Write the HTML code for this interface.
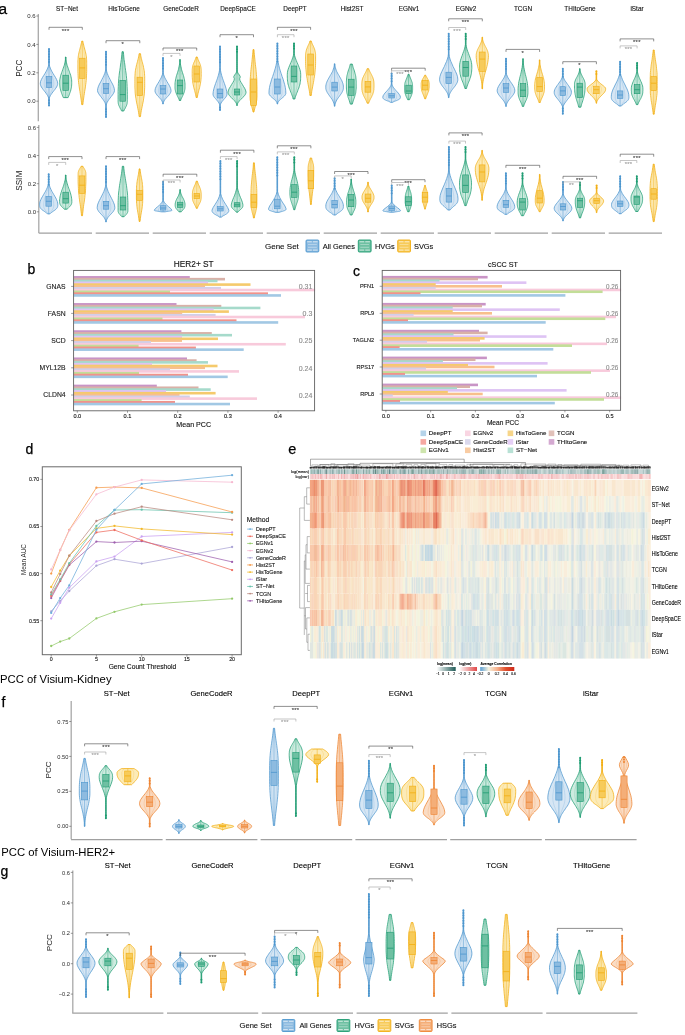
<!DOCTYPE html><html><head><meta charset="utf-8"><style>html,body{margin:0;padding:0;background:#fff;overflow:hidden}svg{display:block;will-change:transform}</style></head><body><svg width="685" height="1035" viewBox="0 0 685 1035" font-family='"Liberation Sans", sans-serif'>
<rect x="0.00" y="0.00" width="685.00" height="1035.00" fill="#fff" />
<text x="-1.50" y="14.20" font-size="15.5" text-anchor="start" fill="#000" stroke="#000" stroke-width="0.25" >a</text>
<text x="67.00" y="11.20" font-size="6.4" text-anchor="middle" fill="#111" stroke="#111" stroke-width="0.12" >ST−Net</text>
<text x="124.00" y="11.20" font-size="6.4" text-anchor="middle" fill="#111" stroke="#111" stroke-width="0.12" >HisToGene</text>
<text x="181.00" y="11.20" font-size="6.4" text-anchor="middle" fill="#111" stroke="#111" stroke-width="0.12" >GeneCodeR</text>
<text x="238.00" y="11.20" font-size="6.4" text-anchor="middle" fill="#111" stroke="#111" stroke-width="0.12" >DeepSpaCE</text>
<text x="295.00" y="11.20" font-size="6.4" text-anchor="middle" fill="#111" stroke="#111" stroke-width="0.12" >DeepPT</text>
<text x="352.00" y="11.20" font-size="6.4" text-anchor="middle" fill="#111" stroke="#111" stroke-width="0.12" >Hist2ST</text>
<text x="409.00" y="11.20" font-size="6.4" text-anchor="middle" fill="#111" stroke="#111" stroke-width="0.12" >EGNv1</text>
<text x="466.00" y="11.20" font-size="6.4" text-anchor="middle" fill="#111" stroke="#111" stroke-width="0.12" >EGNv2</text>
<text x="523.00" y="11.20" font-size="6.4" text-anchor="middle" fill="#111" stroke="#111" stroke-width="0.12" >TCGN</text>
<text x="580.00" y="11.20" font-size="6.4" text-anchor="middle" fill="#111" stroke="#111" stroke-width="0.12" >THItoGene</text>
<text x="637.00" y="11.20" font-size="6.4" text-anchor="middle" fill="#111" stroke="#111" stroke-width="0.12" >iStar</text>
<line x1="38.30" y1="14.00" x2="38.30" y2="121.30" stroke="#a8a8a8" stroke-width="1.3" />
<line x1="36.30" y1="16.00" x2="38.30" y2="16.00" stroke="#555" stroke-width="0.6" />
<text x="35.50" y="18.10" font-size="6.0" text-anchor="end" fill="#2a2a2a" >0.6</text>
<line x1="36.30" y1="44.40" x2="38.30" y2="44.40" stroke="#555" stroke-width="0.6" />
<text x="35.50" y="46.50" font-size="6.0" text-anchor="end" fill="#2a2a2a" >0.4</text>
<line x1="36.30" y1="72.80" x2="38.30" y2="72.80" stroke="#555" stroke-width="0.6" />
<text x="35.50" y="74.90" font-size="6.0" text-anchor="end" fill="#2a2a2a" >0.2</text>
<line x1="36.30" y1="101.20" x2="38.30" y2="101.20" stroke="#555" stroke-width="0.6" />
<text x="35.50" y="103.30" font-size="6.0" text-anchor="end" fill="#2a2a2a" >0.0</text>
<line x1="38.80" y1="125.00" x2="38.80" y2="232.90" stroke="#a8a8a8" stroke-width="1.3" />
<line x1="36.80" y1="127.40" x2="38.80" y2="127.40" stroke="#555" stroke-width="0.6" />
<text x="36.00" y="129.50" font-size="6.0" text-anchor="end" fill="#2a2a2a" >0.6</text>
<line x1="36.80" y1="155.50" x2="38.80" y2="155.50" stroke="#555" stroke-width="0.6" />
<text x="36.00" y="157.60" font-size="6.0" text-anchor="end" fill="#2a2a2a" >0.4</text>
<line x1="36.80" y1="183.70" x2="38.80" y2="183.70" stroke="#555" stroke-width="0.6" />
<text x="36.00" y="185.80" font-size="6.0" text-anchor="end" fill="#2a2a2a" >0.2</text>
<line x1="36.80" y1="211.80" x2="38.80" y2="211.80" stroke="#555" stroke-width="0.6" />
<text x="36.00" y="213.90" font-size="6.0" text-anchor="end" fill="#2a2a2a" >0.0</text>
<text x="0" y="0" font-size="8.2" fill="#222" text-anchor="middle" transform="translate(22.2,68.2) rotate(-90)">PCC</text>
<text x="0" y="0" font-size="8.2" fill="#222" text-anchor="middle" transform="translate(22.2,180.8) rotate(-90)">SSIM</text>
<line x1="38.70" y1="233.00" x2="92.00" y2="233.00" stroke="#a0a0a0" stroke-width="1.25" />
<line x1="95.70" y1="233.00" x2="149.00" y2="233.00" stroke="#a0a0a0" stroke-width="1.25" />
<line x1="152.70" y1="233.00" x2="206.00" y2="233.00" stroke="#a0a0a0" stroke-width="1.25" />
<line x1="209.70" y1="233.00" x2="263.00" y2="233.00" stroke="#a0a0a0" stroke-width="1.25" />
<line x1="266.70" y1="233.00" x2="320.00" y2="233.00" stroke="#a0a0a0" stroke-width="1.25" />
<line x1="323.70" y1="233.00" x2="377.00" y2="233.00" stroke="#a0a0a0" stroke-width="1.25" />
<line x1="380.70" y1="233.00" x2="434.00" y2="233.00" stroke="#a0a0a0" stroke-width="1.25" />
<line x1="437.70" y1="233.00" x2="491.00" y2="233.00" stroke="#a0a0a0" stroke-width="1.25" />
<line x1="494.70" y1="233.00" x2="548.00" y2="233.00" stroke="#a0a0a0" stroke-width="1.25" />
<line x1="551.70" y1="233.00" x2="605.00" y2="233.00" stroke="#a0a0a0" stroke-width="1.25" />
<line x1="608.70" y1="233.00" x2="662.00" y2="233.00" stroke="#a0a0a0" stroke-width="1.25" />
<defs><path id="v1" d="M0.3 49.0 0.3 50.9 0.3 52.8 0.3 54.7 0.3 56.6 0.3 58.5 0.3 60.4 0.3 62.3 0.3 64.2 0.6 66.2 1.3 68.1 2.1 70.0 3.1 71.9 4.2 73.8 5.4 75.7 6.6 77.6 7.6 79.5 8.4 81.4 8.7 83.3 8.6 84.5 8.2 85.8 7.6 87.0 6.8 88.2 5.9 89.5 4.9 90.7 3.9 91.9 3.0 93.2 2.2 94.4 1.4 95.6 0.8 96.9 0.3 98.1 0.3 99.3 0.3 100.6 0.3 101.8 0.3 103.0 0.3 104.3 0.3 105.5 -0.3 105.5 -0.3 104.3 -0.3 103.0 -0.3 101.8 -0.3 100.6 -0.3 99.3 -0.3 98.1 -0.8 96.9 -1.4 95.6 -2.2 94.4 -3.0 93.2 -3.9 91.9 -4.9 90.7 -5.9 89.5 -6.8 88.2 -7.6 87.0 -8.2 85.8 -8.6 84.5 -8.7 83.3 -8.4 81.4 -7.6 79.5 -6.6 77.6 -5.4 75.7 -4.2 73.8 -3.1 71.9 -2.1 70.0 -1.3 68.1 -0.6 66.2 -0.3 64.2 -0.3 62.3 -0.3 60.4 -0.3 58.5 -0.3 56.6 -0.3 54.7 -0.3 52.8 -0.3 50.9 -0.3 49.0Z"/></defs>
<use href="#v1" transform="translate(49.0 0)" fill="#D6E6F4" stroke="#4C96CE" stroke-width="0.75"/>
<use href="#v1" transform="translate(49.0 0) scale(0.55 1)" fill="none" stroke="#4C96CE" stroke-width="0.35" vector-effect="non-scaling-stroke" opacity="0.7"/>
<line x1="49.00" y1="49.00" x2="49.00" y2="105.50" stroke="#4C96CE" stroke-width="0.5" />
<rect x="46.20" y="76.40" width="5.60" height="11.20" fill="#8DBBE0" stroke="#4C96CE" stroke-width="0.6"/>
<line x1="46.20" y1="82.80" x2="51.80" y2="82.80" stroke="#4C96CE" stroke-width="0.8" />
<circle cx="49.0" cy="49.0" r="1.0" fill="#4C96CE"/>
<circle cx="49.0" cy="51.6" r="1.0" fill="#4C96CE"/>
<circle cx="49.0" cy="54.2" r="1.0" fill="#4C96CE"/>
<circle cx="49.0" cy="56.8" r="1.0" fill="#4C96CE"/>
<circle cx="49.0" cy="59.4" r="1.0" fill="#4C96CE"/>
<circle cx="49.0" cy="62.0" r="1.0" fill="#4C96CE"/>
<circle cx="49.0" cy="105.5" r="1.0" fill="#4C96CE"/>
<circle cx="49.0" cy="102.9" r="1.0" fill="#4C96CE"/>
<circle cx="49.0" cy="100.3" r="1.0" fill="#4C96CE"/>
<defs><path id="v2" d="M0.3 57.0 0.3 58.4 0.3 59.8 0.5 61.2 0.8 62.7 1.1 64.1 1.5 65.5 2.0 66.9 2.5 68.3 3.0 69.8 3.5 71.2 4.0 72.6 4.5 74.0 5.0 75.4 5.3 76.8 5.6 78.2 5.9 79.7 6.0 81.1 6.0 82.5 6.0 83.3 6.0 84.2 5.9 85.0 5.9 85.9 5.8 86.7 5.7 87.5 5.5 88.4 5.3 89.2 5.1 90.0 4.9 90.9 4.6 91.7 4.3 92.6 4.0 93.4 3.7 94.2 3.4 95.1 3.1 95.9 2.7 96.8 2.4 97.6 -2.4 97.6 -2.7 96.8 -3.1 95.9 -3.4 95.1 -3.7 94.2 -4.0 93.4 -4.3 92.6 -4.6 91.7 -4.9 90.9 -5.1 90.0 -5.3 89.2 -5.5 88.4 -5.7 87.5 -5.8 86.7 -5.9 85.9 -5.9 85.0 -6.0 84.2 -6.0 83.3 -6.0 82.5 -6.0 81.1 -5.9 79.7 -5.6 78.2 -5.3 76.8 -5.0 75.4 -4.5 74.0 -4.0 72.6 -3.5 71.2 -3.0 69.8 -2.5 68.3 -2.0 66.9 -1.5 65.5 -1.1 64.1 -0.8 62.7 -0.5 61.2 -0.3 59.8 -0.3 58.4 -0.3 57.0Z"/></defs>
<use href="#v2" transform="translate(65.7 0)" fill="#CDEBDF" stroke="#1E9C72" stroke-width="0.75"/>
<use href="#v2" transform="translate(65.7 0) scale(0.55 1)" fill="none" stroke="#1E9C72" stroke-width="0.35" vector-effect="non-scaling-stroke" opacity="0.7"/>
<line x1="65.70" y1="57.00" x2="65.70" y2="97.60" stroke="#1E9C72" stroke-width="0.5" />
<rect x="62.90" y="75.20" width="5.60" height="15.10" fill="#6EC0A2" stroke="#1E9C72" stroke-width="0.6"/>
<line x1="62.90" y1="83.20" x2="68.50" y2="83.20" stroke="#1E9C72" stroke-width="0.8" />
<defs><path id="v3" d="M0.6 41.2 0.8 42.5 1.1 43.8 1.4 45.1 1.7 46.4 2.1 47.8 2.4 49.1 2.8 50.4 3.1 51.7 3.4 53.0 3.7 54.3 3.9 55.6 4.1 56.9 4.2 58.2 4.3 59.6 4.4 60.9 4.4 62.2 4.4 63.5 4.4 64.8 4.4 67.0 4.4 69.2 4.4 71.4 4.3 73.6 4.2 75.9 4.1 78.1 3.9 80.3 3.7 82.5 3.4 84.7 3.1 86.9 2.8 89.1 2.4 91.3 2.1 93.5 1.7 95.8 1.4 98.0 1.1 100.2 0.8 102.4 0.6 104.6 -0.6 104.6 -0.8 102.4 -1.1 100.2 -1.4 98.0 -1.7 95.8 -2.1 93.5 -2.4 91.3 -2.8 89.1 -3.1 86.9 -3.4 84.7 -3.7 82.5 -3.9 80.3 -4.1 78.1 -4.2 75.9 -4.3 73.6 -4.4 71.4 -4.4 69.2 -4.4 67.0 -4.4 64.8 -4.4 63.5 -4.4 62.2 -4.4 60.9 -4.3 59.6 -4.2 58.2 -4.1 56.9 -3.9 55.6 -3.7 54.3 -3.4 53.0 -3.1 51.7 -2.8 50.4 -2.4 49.1 -2.1 47.8 -1.7 46.4 -1.4 45.1 -1.1 43.8 -0.8 42.5 -0.6 41.2Z"/></defs>
<use href="#v3" transform="translate(82.3 0)" fill="#FCEBB8" stroke="#F2AE12" stroke-width="0.75"/>
<use href="#v3" transform="translate(82.3 0) scale(0.55 1)" fill="none" stroke="#F2AE12" stroke-width="0.35" vector-effect="non-scaling-stroke" opacity="0.7"/>
<line x1="82.30" y1="41.20" x2="82.30" y2="104.60" stroke="#F2AE12" stroke-width="0.5" />
<rect x="79.50" y="58.20" width="5.60" height="20.10" fill="#F7CB5A" stroke="#F2AE12" stroke-width="0.6"/>
<line x1="79.50" y1="67.90" x2="85.10" y2="67.90" stroke="#F2AE12" stroke-width="0.8" />
<defs><path id="v4" d="M0.3 51.7 0.3 53.9 0.3 56.0 0.3 58.2 0.3 60.3 0.3 62.5 0.3 64.6 0.3 66.8 0.3 68.9 0.6 71.1 1.2 73.3 2.1 75.4 3.1 77.6 4.2 79.7 5.3 81.9 6.5 84.0 7.5 86.2 8.2 88.3 8.5 90.5 8.2 92.0 7.5 93.4 6.5 94.9 5.3 96.4 4.2 97.9 3.1 99.3 2.1 100.8 1.2 102.3 0.6 103.8 0.3 105.2 0.3 106.7 0.3 108.2 0.3 109.6 0.3 111.1 0.3 112.6 0.3 114.1 0.3 115.5 0.3 117.0 -0.3 117.0 -0.3 115.5 -0.3 114.1 -0.3 112.6 -0.3 111.1 -0.3 109.6 -0.3 108.2 -0.3 106.7 -0.3 105.2 -0.6 103.8 -1.2 102.3 -2.1 100.8 -3.1 99.3 -4.2 97.9 -5.3 96.4 -6.5 94.9 -7.5 93.4 -8.2 92.0 -8.5 90.5 -8.2 88.3 -7.5 86.2 -6.5 84.0 -5.3 81.9 -4.2 79.7 -3.1 77.6 -2.1 75.4 -1.2 73.3 -0.6 71.1 -0.3 68.9 -0.3 66.8 -0.3 64.6 -0.3 62.5 -0.3 60.3 -0.3 58.2 -0.3 56.0 -0.3 53.9 -0.3 51.7Z"/></defs>
<use href="#v4" transform="translate(106.0 0)" fill="#D6E6F4" stroke="#4C96CE" stroke-width="0.75"/>
<use href="#v4" transform="translate(106.0 0) scale(0.55 1)" fill="none" stroke="#4C96CE" stroke-width="0.35" vector-effect="non-scaling-stroke" opacity="0.7"/>
<line x1="106.00" y1="51.70" x2="106.00" y2="117.00" stroke="#4C96CE" stroke-width="0.5" />
<rect x="103.20" y="83.40" width="5.60" height="10.00" fill="#8DBBE0" stroke="#4C96CE" stroke-width="0.6"/>
<line x1="103.20" y1="88.70" x2="108.80" y2="88.70" stroke="#4C96CE" stroke-width="0.8" />
<circle cx="106.0" cy="51.7" r="1.0" fill="#4C96CE"/>
<circle cx="106.0" cy="54.3" r="1.0" fill="#4C96CE"/>
<circle cx="106.0" cy="56.9" r="1.0" fill="#4C96CE"/>
<circle cx="106.0" cy="59.5" r="1.0" fill="#4C96CE"/>
<circle cx="106.0" cy="62.1" r="1.0" fill="#4C96CE"/>
<circle cx="106.0" cy="64.7" r="1.0" fill="#4C96CE"/>
<circle cx="106.0" cy="117.0" r="1.0" fill="#4C96CE"/>
<circle cx="106.0" cy="114.4" r="1.0" fill="#4C96CE"/>
<circle cx="106.0" cy="111.8" r="1.0" fill="#4C96CE"/>
<circle cx="106.0" cy="109.2" r="1.0" fill="#4C96CE"/>
<defs><path id="v5" d="M0.6 51.7 0.9 54.4 1.1 57.0 1.4 59.7 1.8 62.4 2.2 65.0 2.5 67.7 2.9 70.4 3.3 73.0 3.6 75.7 3.9 78.4 4.1 81.0 4.3 83.7 4.4 86.4 4.5 89.0 4.6 91.7 4.6 94.4 4.6 97.0 4.6 99.7 4.6 100.3 4.6 101.0 4.6 101.6 4.5 102.2 4.5 102.8 4.4 103.5 4.2 104.1 4.1 104.7 3.9 105.3 3.6 106.0 3.3 106.6 3.0 107.2 2.7 107.9 2.4 108.5 2.0 109.1 1.7 109.7 1.4 110.4 1.1 111.0 -1.1 111.0 -1.4 110.4 -1.7 109.7 -2.0 109.1 -2.4 108.5 -2.7 107.9 -3.0 107.2 -3.3 106.6 -3.6 106.0 -3.9 105.3 -4.1 104.7 -4.2 104.1 -4.4 103.5 -4.5 102.8 -4.5 102.2 -4.6 101.6 -4.6 101.0 -4.6 100.3 -4.6 99.7 -4.6 97.0 -4.6 94.4 -4.6 91.7 -4.5 89.0 -4.4 86.4 -4.3 83.7 -4.1 81.0 -3.9 78.4 -3.6 75.7 -3.3 73.0 -2.9 70.4 -2.5 67.7 -2.2 65.0 -1.8 62.4 -1.4 59.7 -1.1 57.0 -0.9 54.4 -0.6 51.7Z"/></defs>
<use href="#v5" transform="translate(122.7 0)" fill="#CDEBDF" stroke="#1E9C72" stroke-width="0.75"/>
<use href="#v5" transform="translate(122.7 0) scale(0.55 1)" fill="none" stroke="#1E9C72" stroke-width="0.35" vector-effect="non-scaling-stroke" opacity="0.7"/>
<line x1="122.70" y1="51.70" x2="122.70" y2="111.00" stroke="#1E9C72" stroke-width="0.5" />
<rect x="119.90" y="80.30" width="5.60" height="20.90" fill="#6EC0A2" stroke="#1E9C72" stroke-width="0.6"/>
<line x1="119.90" y1="94.60" x2="125.50" y2="94.60" stroke="#1E9C72" stroke-width="0.8" />
<defs><path id="v6" d="M0.7 53.7 0.9 55.2 1.2 56.8 1.5 58.3 1.9 59.8 2.3 61.4 2.7 62.9 3.1 64.4 3.5 66.0 3.8 67.5 4.1 69.0 4.4 70.6 4.6 72.1 4.7 73.6 4.8 75.2 4.9 76.7 4.9 78.2 4.9 79.8 4.9 81.3 4.9 83.3 4.9 85.2 4.9 87.2 4.8 89.1 4.7 91.1 4.6 93.1 4.4 95.0 4.1 97.0 3.8 98.9 3.5 100.9 3.1 102.9 2.7 104.8 2.3 106.8 1.9 108.8 1.5 110.7 1.2 112.7 0.9 114.6 0.7 116.6 -0.7 116.6 -0.9 114.6 -1.2 112.7 -1.5 110.7 -1.9 108.8 -2.3 106.8 -2.7 104.8 -3.1 102.9 -3.5 100.9 -3.8 98.9 -4.1 97.0 -4.4 95.0 -4.6 93.1 -4.7 91.1 -4.8 89.1 -4.9 87.2 -4.9 85.2 -4.9 83.3 -4.9 81.3 -4.9 79.8 -4.9 78.2 -4.9 76.7 -4.8 75.2 -4.7 73.6 -4.6 72.1 -4.4 70.6 -4.1 69.0 -3.8 67.5 -3.5 66.0 -3.1 64.4 -2.7 62.9 -2.3 61.4 -1.9 59.8 -1.5 58.3 -1.2 56.8 -0.9 55.2 -0.7 53.7Z"/></defs>
<use href="#v6" transform="translate(139.8 0)" fill="#FCEBB8" stroke="#F2AE12" stroke-width="0.75"/>
<use href="#v6" transform="translate(139.8 0) scale(0.55 1)" fill="none" stroke="#F2AE12" stroke-width="0.35" vector-effect="non-scaling-stroke" opacity="0.7"/>
<line x1="139.80" y1="53.70" x2="139.80" y2="116.60" stroke="#F2AE12" stroke-width="0.5" />
<rect x="137.00" y="77.20" width="5.60" height="18.40" fill="#F7CB5A" stroke="#F2AE12" stroke-width="0.6"/>
<line x1="137.00" y1="82.30" x2="142.60" y2="82.30" stroke="#F2AE12" stroke-width="0.8" />
<defs><path id="v7" d="M0.3 58.0 0.3 59.8 0.3 61.6 0.3 63.4 0.3 65.2 0.3 67.0 0.3 68.8 0.3 70.6 0.3 72.4 0.5 74.2 1.2 76.1 1.9 77.9 2.9 79.7 3.9 81.5 5.0 83.3 6.1 85.1 7.0 86.9 7.7 88.7 8.0 90.5 8.0 91.2 7.8 92.0 7.5 92.8 7.1 93.5 6.6 94.2 6.0 95.0 5.4 95.8 4.7 96.5 4.0 97.2 3.3 98.0 2.6 98.8 2.0 99.5 1.5 100.2 1.1 101.0 0.7 101.8 0.4 102.5 0.3 103.2 0.3 104.0 -0.3 104.0 -0.3 103.2 -0.4 102.5 -0.7 101.8 -1.1 101.0 -1.5 100.2 -2.0 99.5 -2.6 98.8 -3.3 98.0 -4.0 97.2 -4.7 96.5 -5.4 95.8 -6.0 95.0 -6.6 94.2 -7.1 93.5 -7.5 92.8 -7.8 92.0 -8.0 91.2 -8.0 90.5 -7.7 88.7 -7.0 86.9 -6.1 85.1 -5.0 83.3 -3.9 81.5 -2.9 79.7 -1.9 77.9 -1.2 76.1 -0.5 74.2 -0.3 72.4 -0.3 70.6 -0.3 68.8 -0.3 67.0 -0.3 65.2 -0.3 63.4 -0.3 61.6 -0.3 59.8 -0.3 58.0Z"/></defs>
<use href="#v7" transform="translate(163.0 0)" fill="#D6E6F4" stroke="#4C96CE" stroke-width="0.75"/>
<use href="#v7" transform="translate(163.0 0) scale(0.55 1)" fill="none" stroke="#4C96CE" stroke-width="0.35" vector-effect="non-scaling-stroke" opacity="0.7"/>
<line x1="163.00" y1="58.00" x2="163.00" y2="104.00" stroke="#4C96CE" stroke-width="0.5" />
<rect x="160.20" y="85.60" width="5.60" height="8.40" fill="#8DBBE0" stroke="#4C96CE" stroke-width="0.6"/>
<line x1="160.20" y1="89.00" x2="165.80" y2="89.00" stroke="#4C96CE" stroke-width="0.8" />
<circle cx="163.0" cy="58.0" r="1.0" fill="#4C96CE"/>
<circle cx="163.0" cy="60.6" r="1.0" fill="#4C96CE"/>
<circle cx="163.0" cy="63.2" r="1.0" fill="#4C96CE"/>
<circle cx="163.0" cy="65.8" r="1.0" fill="#4C96CE"/>
<circle cx="163.0" cy="68.4" r="1.0" fill="#4C96CE"/>
<defs><path id="v8" d="M0.3 59.5 0.3 61.0 0.3 62.4 0.4 63.9 0.7 65.3 1.0 66.8 1.3 68.2 1.6 69.7 2.0 71.1 2.5 72.5 2.9 74.0 3.4 75.4 3.8 76.9 4.1 78.3 4.5 79.8 4.7 81.2 4.9 82.7 5.0 84.1 5.0 85.6 5.0 86.4 5.0 87.3 5.0 88.1 4.9 88.9 4.8 89.7 4.6 90.6 4.4 91.4 4.2 92.2 3.9 93.0 3.5 93.9 3.2 94.7 2.8 95.5 2.4 96.4 2.0 97.2 1.6 98.0 1.2 98.8 0.9 99.7 0.7 100.5 -0.7 100.5 -0.9 99.7 -1.2 98.8 -1.6 98.0 -2.0 97.2 -2.4 96.4 -2.8 95.5 -3.2 94.7 -3.5 93.9 -3.9 93.0 -4.2 92.2 -4.4 91.4 -4.6 90.6 -4.8 89.7 -4.9 88.9 -5.0 88.1 -5.0 87.3 -5.0 86.4 -5.0 85.6 -5.0 84.1 -4.9 82.7 -4.7 81.2 -4.5 79.8 -4.1 78.3 -3.8 76.9 -3.4 75.4 -2.9 74.0 -2.5 72.5 -2.0 71.1 -1.6 69.7 -1.3 68.2 -1.0 66.8 -0.7 65.3 -0.4 63.9 -0.3 62.4 -0.3 61.0 -0.3 59.5Z"/></defs>
<use href="#v8" transform="translate(180.0 0)" fill="#CDEBDF" stroke="#1E9C72" stroke-width="0.75"/>
<use href="#v8" transform="translate(180.0 0) scale(0.55 1)" fill="none" stroke="#1E9C72" stroke-width="0.35" vector-effect="non-scaling-stroke" opacity="0.7"/>
<line x1="180.00" y1="59.50" x2="180.00" y2="100.50" stroke="#1E9C72" stroke-width="0.5" />
<rect x="177.20" y="80.00" width="5.60" height="14.00" fill="#6EC0A2" stroke="#1E9C72" stroke-width="0.6"/>
<line x1="177.20" y1="85.60" x2="182.80" y2="85.60" stroke="#1E9C72" stroke-width="0.8" />
<defs><path id="v9" d="M0.6 57.0 0.8 57.8 1.1 58.7 1.4 59.5 1.8 60.3 2.1 61.2 2.5 62.0 2.9 62.8 3.2 63.7 3.5 64.5 3.8 65.3 4.0 66.2 4.2 67.0 4.3 67.8 4.4 68.7 4.5 69.5 4.5 70.3 4.5 71.2 4.5 72.0 4.5 73.4 4.5 74.8 4.5 76.2 4.4 77.7 4.3 79.1 4.2 80.5 4.0 81.9 3.8 83.3 3.5 84.8 3.2 86.2 2.9 87.6 2.5 89.0 2.1 90.4 1.8 91.8 1.4 93.2 1.1 94.7 0.8 96.1 0.6 97.5 -0.6 97.5 -0.8 96.1 -1.1 94.7 -1.4 93.2 -1.8 91.8 -2.1 90.4 -2.5 89.0 -2.9 87.6 -3.2 86.2 -3.5 84.8 -3.8 83.3 -4.0 81.9 -4.2 80.5 -4.3 79.1 -4.4 77.7 -4.5 76.2 -4.5 74.8 -4.5 73.4 -4.5 72.0 -4.5 71.2 -4.5 70.3 -4.5 69.5 -4.4 68.7 -4.3 67.8 -4.2 67.0 -4.0 66.2 -3.8 65.3 -3.5 64.5 -3.2 63.7 -2.9 62.8 -2.5 62.0 -2.1 61.2 -1.8 60.3 -1.4 59.5 -1.1 58.7 -0.8 57.8 -0.6 57.0Z"/></defs>
<use href="#v9" transform="translate(196.7 0)" fill="#FCEBB8" stroke="#F2AE12" stroke-width="0.75"/>
<use href="#v9" transform="translate(196.7 0) scale(0.55 1)" fill="none" stroke="#F2AE12" stroke-width="0.35" vector-effect="non-scaling-stroke" opacity="0.7"/>
<line x1="196.70" y1="57.00" x2="196.70" y2="97.50" stroke="#F2AE12" stroke-width="0.5" />
<rect x="193.90" y="66.00" width="5.60" height="16.00" fill="#F7CB5A" stroke="#F2AE12" stroke-width="0.6"/>
<line x1="193.90" y1="74.00" x2="199.50" y2="74.00" stroke="#F2AE12" stroke-width="0.8" />
<defs><path id="v10" d="M0.3 46.6 0.3 49.2 0.3 51.9 0.3 54.5 0.3 57.1 0.3 59.8 0.3 62.4 0.3 65.0 0.3 67.7 0.5 70.3 1.0 72.9 1.7 75.6 2.5 78.2 3.4 80.8 4.4 83.5 5.3 86.1 6.1 88.7 6.7 91.4 7.0 94.0 6.9 94.9 6.6 95.8 6.1 96.7 5.5 97.6 4.7 98.4 3.9 99.3 3.2 100.2 2.4 101.1 1.7 102.0 1.2 102.9 0.7 103.8 0.3 104.7 0.3 105.6 0.3 106.4 0.3 107.3 0.3 108.2 0.3 109.1 0.3 110.0 -0.3 110.0 -0.3 109.1 -0.3 108.2 -0.3 107.3 -0.3 106.4 -0.3 105.6 -0.3 104.7 -0.7 103.8 -1.2 102.9 -1.7 102.0 -2.4 101.1 -3.2 100.2 -3.9 99.3 -4.7 98.4 -5.5 97.6 -6.1 96.7 -6.6 95.8 -6.9 94.9 -7.0 94.0 -6.7 91.4 -6.1 88.7 -5.3 86.1 -4.4 83.5 -3.4 80.8 -2.5 78.2 -1.7 75.6 -1.0 72.9 -0.5 70.3 -0.3 67.7 -0.3 65.0 -0.3 62.4 -0.3 59.8 -0.3 57.1 -0.3 54.5 -0.3 51.9 -0.3 49.2 -0.3 46.6Z"/></defs>
<use href="#v10" transform="translate(220.0 0)" fill="#D6E6F4" stroke="#4C96CE" stroke-width="0.75"/>
<use href="#v10" transform="translate(220.0 0) scale(0.55 1)" fill="none" stroke="#4C96CE" stroke-width="0.35" vector-effect="non-scaling-stroke" opacity="0.7"/>
<line x1="220.00" y1="46.60" x2="220.00" y2="110.00" stroke="#4C96CE" stroke-width="0.5" />
<rect x="217.20" y="89.00" width="5.60" height="9.00" fill="#8DBBE0" stroke="#4C96CE" stroke-width="0.6"/>
<line x1="217.20" y1="93.50" x2="222.80" y2="93.50" stroke="#4C96CE" stroke-width="0.8" />
<circle cx="220.0" cy="46.6" r="1.0" fill="#4C96CE"/>
<circle cx="220.0" cy="49.2" r="1.0" fill="#4C96CE"/>
<circle cx="220.0" cy="51.8" r="1.0" fill="#4C96CE"/>
<circle cx="220.0" cy="54.4" r="1.0" fill="#4C96CE"/>
<circle cx="220.0" cy="57.0" r="1.0" fill="#4C96CE"/>
<circle cx="220.0" cy="59.6" r="1.0" fill="#4C96CE"/>
<circle cx="220.0" cy="62.2" r="1.0" fill="#4C96CE"/>
<circle cx="220.0" cy="110.0" r="1.0" fill="#4C96CE"/>
<circle cx="220.0" cy="107.4" r="1.0" fill="#4C96CE"/>
<defs><path id="v11" d="M0.3 46.6 0.3 48.5 0.3 50.4 0.3 52.3 0.3 54.2 0.3 56.1 0.3 58.0 0.3 59.8 0.3 61.7 0.3 63.6 0.3 65.5 0.3 67.4 0.3 69.3 0.3 71.2 0.9 73.1 2.4 75.0 3.3 76.9 2.6 78.8 3.1 80.7 4.1 82.5 5.3 84.4 6.4 86.3 7.6 88.2 8.5 90.1 9.0 92.0 9.0 92.6 8.9 93.1 8.7 93.7 8.5 94.2 8.1 94.8 7.7 95.4 7.3 95.9 6.8 96.5 6.2 97.1 5.6 97.6 5.1 98.2 4.5 98.8 3.9 99.3 3.3 99.9 2.8 100.4 2.3 101.0 1.9 101.6 1.5 102.1 1.1 102.7 0.8 103.2 0.5 103.8 0.3 104.4 0.3 104.9 0.3 105.5 -0.3 105.5 -0.3 104.9 -0.3 104.4 -0.5 103.8 -0.8 103.2 -1.1 102.7 -1.5 102.1 -1.9 101.6 -2.3 101.0 -2.8 100.4 -3.3 99.9 -3.9 99.3 -4.5 98.8 -5.1 98.2 -5.6 97.6 -6.2 97.1 -6.8 96.5 -7.3 95.9 -7.7 95.4 -8.1 94.8 -8.5 94.2 -8.7 93.7 -8.9 93.1 -9.0 92.6 -9.0 92.0 -8.5 90.1 -7.6 88.2 -6.4 86.3 -5.3 84.4 -4.1 82.5 -3.1 80.7 -2.6 78.8 -3.3 76.9 -2.4 75.0 -0.9 73.1 -0.3 71.2 -0.3 69.3 -0.3 67.4 -0.3 65.5 -0.3 63.6 -0.3 61.7 -0.3 59.8 -0.3 58.0 -0.3 56.1 -0.3 54.2 -0.3 52.3 -0.3 50.4 -0.3 48.5 -0.3 46.6Z"/></defs>
<use href="#v11" transform="translate(237.0 0)" fill="#CDEBDF" stroke="#1E9C72" stroke-width="0.75"/>
<use href="#v11" transform="translate(237.0 0) scale(0.55 1)" fill="none" stroke="#1E9C72" stroke-width="0.35" vector-effect="non-scaling-stroke" opacity="0.7"/>
<line x1="237.00" y1="46.60" x2="237.00" y2="105.50" stroke="#1E9C72" stroke-width="0.5" />
<rect x="234.20" y="89.00" width="5.60" height="6.00" fill="#6EC0A2" stroke="#1E9C72" stroke-width="0.6"/>
<line x1="234.20" y1="92.00" x2="239.80" y2="92.00" stroke="#1E9C72" stroke-width="0.8" />
<circle cx="237.0" cy="46.6" r="1.0" fill="#1E9C72"/>
<circle cx="237.0" cy="49.2" r="1.0" fill="#1E9C72"/>
<circle cx="237.0" cy="51.8" r="1.0" fill="#1E9C72"/>
<defs><path id="v12" d="M0.5 49.6 0.6 52.1 0.9 54.5 1.1 57.0 1.4 59.5 1.6 61.9 1.9 64.4 2.2 66.9 2.5 69.3 2.7 71.8 2.9 74.3 3.1 76.7 3.3 79.2 3.4 81.7 3.4 84.1 3.5 86.6 3.5 89.1 3.5 91.5 3.5 94.0 3.5 95.0 3.5 96.0 3.5 97.0 3.4 98.0 3.4 99.0 3.3 100.0 3.1 101.0 2.9 102.0 2.7 103.0 2.5 104.0 2.2 105.0 1.9 106.0 1.6 107.0 1.4 108.0 1.1 109.0 0.9 110.0 0.6 111.0 0.5 112.0 -0.5 112.0 -0.6 111.0 -0.9 110.0 -1.1 109.0 -1.4 108.0 -1.6 107.0 -1.9 106.0 -2.2 105.0 -2.5 104.0 -2.7 103.0 -2.9 102.0 -3.1 101.0 -3.3 100.0 -3.4 99.0 -3.4 98.0 -3.5 97.0 -3.5 96.0 -3.5 95.0 -3.5 94.0 -3.5 91.5 -3.5 89.1 -3.5 86.6 -3.4 84.1 -3.4 81.7 -3.3 79.2 -3.1 76.7 -2.9 74.3 -2.7 71.8 -2.5 69.3 -2.2 66.9 -1.9 64.4 -1.6 61.9 -1.4 59.5 -1.1 57.0 -0.9 54.5 -0.6 52.1 -0.5 49.6Z"/></defs>
<use href="#v12" transform="translate(253.5 0)" fill="#FCEBB8" stroke="#F2AE12" stroke-width="0.75"/>
<use href="#v12" transform="translate(253.5 0) scale(0.55 1)" fill="none" stroke="#F2AE12" stroke-width="0.35" vector-effect="non-scaling-stroke" opacity="0.7"/>
<line x1="253.50" y1="49.60" x2="253.50" y2="112.00" stroke="#F2AE12" stroke-width="0.5" />
<rect x="250.70" y="79.00" width="5.60" height="26.50" fill="#F7CB5A" stroke="#F2AE12" stroke-width="0.6"/>
<line x1="250.70" y1="92.00" x2="256.30" y2="92.00" stroke="#F2AE12" stroke-width="0.8" />
<defs><path id="v13" d="M0.3 43.4 0.3 46.2 0.3 48.9 0.3 51.7 0.3 54.4 0.3 57.2 0.3 59.9 0.8 62.7 1.4 65.4 2.1 68.2 2.9 71.0 3.8 73.7 4.7 76.5 5.7 79.2 6.5 82.0 7.3 84.7 7.9 87.5 8.3 90.2 8.4 93.0 8.4 93.6 8.2 94.2 7.9 94.8 7.5 95.4 6.9 96.1 6.3 96.7 5.6 97.3 4.9 97.9 4.2 98.5 3.4 99.1 2.8 99.7 2.1 100.3 1.6 100.9 1.1 101.6 0.7 102.2 0.4 102.8 0.3 103.4 0.3 104.0 -0.3 104.0 -0.3 103.4 -0.4 102.8 -0.7 102.2 -1.1 101.6 -1.6 100.9 -2.1 100.3 -2.8 99.7 -3.4 99.1 -4.2 98.5 -4.9 97.9 -5.6 97.3 -6.3 96.7 -6.9 96.1 -7.5 95.4 -7.9 94.8 -8.2 94.2 -8.4 93.6 -8.4 93.0 -8.3 90.2 -7.9 87.5 -7.3 84.7 -6.5 82.0 -5.7 79.2 -4.7 76.5 -3.8 73.7 -2.9 71.0 -2.1 68.2 -1.4 65.4 -0.8 62.7 -0.3 59.9 -0.3 57.2 -0.3 54.4 -0.3 51.7 -0.3 48.9 -0.3 46.2 -0.3 43.4Z"/></defs>
<use href="#v13" transform="translate(277.4 0)" fill="#D6E6F4" stroke="#4C96CE" stroke-width="0.75"/>
<use href="#v13" transform="translate(277.4 0) scale(0.55 1)" fill="none" stroke="#4C96CE" stroke-width="0.35" vector-effect="non-scaling-stroke" opacity="0.7"/>
<line x1="277.40" y1="43.40" x2="277.40" y2="104.00" stroke="#4C96CE" stroke-width="0.5" />
<rect x="274.60" y="79.00" width="5.60" height="15.00" fill="#8DBBE0" stroke="#4C96CE" stroke-width="0.6"/>
<line x1="274.60" y1="87.00" x2="280.20" y2="87.00" stroke="#4C96CE" stroke-width="0.8" />
<circle cx="277.4" cy="43.4" r="1.0" fill="#4C96CE"/>
<circle cx="277.4" cy="46.0" r="1.0" fill="#4C96CE"/>
<circle cx="277.4" cy="48.6" r="1.0" fill="#4C96CE"/>
<circle cx="277.4" cy="51.2" r="1.0" fill="#4C96CE"/>
<circle cx="277.4" cy="53.8" r="1.0" fill="#4C96CE"/>
<circle cx="277.4" cy="56.4" r="1.0" fill="#4C96CE"/>
<circle cx="277.4" cy="59.0" r="1.0" fill="#4C96CE"/>
<circle cx="277.4" cy="61.6" r="1.0" fill="#4C96CE"/>
<defs><path id="v14" d="M0.3 43.4 0.3 45.1 0.3 46.8 0.3 48.6 0.3 50.3 0.3 52.0 0.3 53.7 0.6 55.5 1.1 57.2 1.7 58.9 2.3 60.6 3.0 62.3 3.8 64.1 4.5 65.8 5.2 67.5 5.8 69.2 6.3 71.0 6.6 72.7 6.7 74.4 6.7 75.8 6.7 77.1 6.6 78.5 6.6 79.9 6.4 81.2 6.2 82.6 6.0 84.0 5.6 85.3 5.2 86.7 4.8 88.1 4.2 89.4 3.7 90.8 3.2 92.2 2.6 93.5 2.1 94.9 1.6 96.3 1.2 97.6 0.9 99.0 -0.9 99.0 -1.2 97.6 -1.6 96.3 -2.1 94.9 -2.6 93.5 -3.2 92.2 -3.7 90.8 -4.2 89.4 -4.8 88.1 -5.2 86.7 -5.6 85.3 -6.0 84.0 -6.2 82.6 -6.4 81.2 -6.6 79.9 -6.6 78.5 -6.7 77.1 -6.7 75.8 -6.7 74.4 -6.6 72.7 -6.3 71.0 -5.8 69.2 -5.2 67.5 -4.5 65.8 -3.8 64.1 -3.0 62.3 -2.3 60.6 -1.7 58.9 -1.1 57.2 -0.6 55.5 -0.3 53.7 -0.3 52.0 -0.3 50.3 -0.3 48.6 -0.3 46.8 -0.3 45.1 -0.3 43.4Z"/></defs>
<use href="#v14" transform="translate(294.0 0)" fill="#CDEBDF" stroke="#1E9C72" stroke-width="0.75"/>
<use href="#v14" transform="translate(294.0 0) scale(0.55 1)" fill="none" stroke="#1E9C72" stroke-width="0.35" vector-effect="non-scaling-stroke" opacity="0.7"/>
<line x1="294.00" y1="43.40" x2="294.00" y2="99.00" stroke="#1E9C72" stroke-width="0.5" />
<rect x="291.20" y="66.00" width="5.60" height="16.00" fill="#6EC0A2" stroke="#1E9C72" stroke-width="0.6"/>
<line x1="291.20" y1="76.40" x2="296.80" y2="76.40" stroke="#1E9C72" stroke-width="0.8" />
<circle cx="294.0" cy="43.4" r="1.0" fill="#1E9C72"/>
<circle cx="294.0" cy="46.0" r="1.0" fill="#1E9C72"/>
<circle cx="294.0" cy="48.6" r="1.0" fill="#1E9C72"/>
<defs><path id="v15" d="M0.7 41.0 0.9 41.9 1.2 42.8 1.6 43.7 2.0 44.6 2.4 45.4 2.8 46.3 3.2 47.2 3.5 48.1 3.9 49.0 4.2 49.9 4.4 50.8 4.6 51.7 4.8 52.6 4.9 53.4 5.0 54.3 5.0 55.2 5.0 56.1 5.0 57.0 5.0 59.1 5.0 61.3 5.0 63.4 4.9 65.6 4.8 67.7 4.6 69.8 4.4 72.0 4.2 74.1 3.9 76.2 3.5 78.4 3.2 80.5 2.8 82.7 2.4 84.8 2.0 86.9 1.6 89.1 1.2 91.2 0.9 93.4 0.7 95.5 -0.7 95.5 -0.9 93.4 -1.2 91.2 -1.6 89.1 -2.0 86.9 -2.4 84.8 -2.8 82.7 -3.2 80.5 -3.5 78.4 -3.9 76.2 -4.2 74.1 -4.4 72.0 -4.6 69.8 -4.8 67.7 -4.9 65.6 -5.0 63.4 -5.0 61.3 -5.0 59.1 -5.0 57.0 -5.0 56.1 -5.0 55.2 -5.0 54.3 -4.9 53.4 -4.8 52.6 -4.6 51.7 -4.4 50.8 -4.2 49.9 -3.9 49.0 -3.5 48.1 -3.2 47.2 -2.8 46.3 -2.4 45.4 -2.0 44.6 -1.6 43.7 -1.2 42.8 -0.9 41.9 -0.7 41.0Z"/></defs>
<use href="#v15" transform="translate(310.6 0)" fill="#FCEBB8" stroke="#F2AE12" stroke-width="0.75"/>
<use href="#v15" transform="translate(310.6 0) scale(0.55 1)" fill="none" stroke="#F2AE12" stroke-width="0.35" vector-effect="non-scaling-stroke" opacity="0.7"/>
<line x1="310.60" y1="41.00" x2="310.60" y2="95.50" stroke="#F2AE12" stroke-width="0.5" />
<rect x="307.80" y="54.00" width="5.60" height="21.00" fill="#F7CB5A" stroke="#F2AE12" stroke-width="0.6"/>
<line x1="307.80" y1="65.00" x2="313.40" y2="65.00" stroke="#F2AE12" stroke-width="0.8" />
<defs><path id="v16" d="M0.3 63.8 0.3 65.1 0.5 66.4 0.8 67.7 1.2 69.0 1.7 70.4 2.2 71.7 2.9 73.0 3.6 74.3 4.4 75.6 5.1 76.9 5.9 78.2 6.6 79.5 7.3 80.8 7.8 82.2 8.3 83.5 8.6 84.8 8.8 86.1 8.8 87.4 8.8 88.4 8.6 89.5 8.3 90.5 7.8 91.6 7.3 92.6 6.6 93.7 5.9 94.7 5.1 95.8 4.4 96.8 3.6 97.8 2.9 98.9 2.2 99.9 1.7 101.0 1.2 102.0 0.8 103.1 0.5 104.1 0.3 105.2 0.3 106.2 -0.3 106.2 -0.3 105.2 -0.5 104.1 -0.8 103.1 -1.2 102.0 -1.7 101.0 -2.2 99.9 -2.9 98.9 -3.6 97.8 -4.4 96.8 -5.1 95.8 -5.9 94.7 -6.6 93.7 -7.3 92.6 -7.8 91.6 -8.3 90.5 -8.6 89.5 -8.8 88.4 -8.8 87.4 -8.8 86.1 -8.6 84.8 -8.3 83.5 -7.8 82.2 -7.3 80.8 -6.6 79.5 -5.9 78.2 -5.1 76.9 -4.4 75.6 -3.6 74.3 -2.9 73.0 -2.2 71.7 -1.7 70.4 -1.2 69.0 -0.8 67.7 -0.5 66.4 -0.3 65.1 -0.3 63.8Z"/></defs>
<use href="#v16" transform="translate(334.6 0)" fill="#D6E6F4" stroke="#4C96CE" stroke-width="0.75"/>
<use href="#v16" transform="translate(334.6 0) scale(0.55 1)" fill="none" stroke="#4C96CE" stroke-width="0.35" vector-effect="non-scaling-stroke" opacity="0.7"/>
<line x1="334.60" y1="63.80" x2="334.60" y2="106.20" stroke="#4C96CE" stroke-width="0.5" />
<rect x="331.80" y="82.20" width="5.60" height="8.80" fill="#8DBBE0" stroke="#4C96CE" stroke-width="0.6"/>
<line x1="331.80" y1="87.10" x2="337.40" y2="87.10" stroke="#4C96CE" stroke-width="0.8" />
<defs><path id="v17" d="M1.0 64.1 1.3 65.2 1.6 66.4 1.9 67.5 2.3 68.7 2.7 69.8 3.1 71.0 3.4 72.1 3.7 73.3 4.0 74.4 4.3 75.6 4.5 76.8 4.6 77.9 4.7 79.0 4.8 80.2 4.9 81.3 4.9 82.5 4.9 83.6 4.9 84.8 4.9 85.9 4.9 86.9 4.9 88.0 4.8 89.1 4.7 90.2 4.6 91.2 4.5 92.3 4.3 93.4 4.0 94.4 3.7 95.5 3.4 96.6 3.1 97.7 2.7 98.7 2.3 99.8 1.9 100.9 1.6 102.0 1.3 103.0 1.0 104.1 -1.0 104.1 -1.3 103.0 -1.6 102.0 -1.9 100.9 -2.3 99.8 -2.7 98.7 -3.1 97.7 -3.4 96.6 -3.7 95.5 -4.0 94.4 -4.3 93.4 -4.5 92.3 -4.6 91.2 -4.7 90.2 -4.8 89.1 -4.9 88.0 -4.9 86.9 -4.9 85.9 -4.9 84.8 -4.9 83.6 -4.9 82.5 -4.9 81.3 -4.8 80.2 -4.7 79.0 -4.6 77.9 -4.5 76.8 -4.3 75.6 -4.0 74.4 -3.7 73.3 -3.4 72.1 -3.1 71.0 -2.7 69.8 -2.3 68.7 -1.9 67.5 -1.6 66.4 -1.3 65.2 -1.0 64.1Z"/></defs>
<use href="#v17" transform="translate(351.3 0)" fill="#CDEBDF" stroke="#1E9C72" stroke-width="0.75"/>
<use href="#v17" transform="translate(351.3 0) scale(0.55 1)" fill="none" stroke="#1E9C72" stroke-width="0.35" vector-effect="non-scaling-stroke" opacity="0.7"/>
<line x1="351.30" y1="64.10" x2="351.30" y2="104.10" stroke="#1E9C72" stroke-width="0.5" />
<rect x="348.50" y="79.20" width="5.60" height="16.10" fill="#6EC0A2" stroke="#1E9C72" stroke-width="0.6"/>
<line x1="348.50" y1="87.10" x2="354.10" y2="87.10" stroke="#1E9C72" stroke-width="0.8" />
<defs><path id="v18" d="M0.8 68.7 1.1 69.6 1.5 70.6 1.9 71.5 2.4 72.5 2.9 73.4 3.4 74.4 3.9 75.3 4.3 76.3 4.8 77.2 5.1 78.1 5.4 79.1 5.7 80.0 5.8 81.0 6.0 81.9 6.0 82.9 6.1 83.8 6.1 84.8 6.1 85.7 6.1 86.7 6.1 87.6 6.0 88.6 6.0 89.6 5.8 90.6 5.7 91.5 5.4 92.5 5.1 93.5 4.8 94.5 4.3 95.4 3.9 96.4 3.4 97.4 2.9 98.3 2.4 99.3 1.9 100.3 1.5 101.3 1.1 102.2 0.8 103.2 -0.8 103.2 -1.1 102.2 -1.5 101.3 -1.9 100.3 -2.4 99.3 -2.9 98.3 -3.4 97.4 -3.9 96.4 -4.3 95.4 -4.8 94.5 -5.1 93.5 -5.4 92.5 -5.7 91.5 -5.8 90.6 -6.0 89.6 -6.0 88.6 -6.1 87.6 -6.1 86.7 -6.1 85.7 -6.1 84.8 -6.1 83.8 -6.0 82.9 -6.0 81.9 -5.8 81.0 -5.7 80.0 -5.4 79.1 -5.1 78.1 -4.8 77.2 -4.3 76.3 -3.9 75.3 -3.4 74.4 -2.9 73.4 -2.4 72.5 -1.9 71.5 -1.5 70.6 -1.1 69.6 -0.8 68.7Z"/></defs>
<use href="#v18" transform="translate(367.9 0)" fill="#FCEBB8" stroke="#F2AE12" stroke-width="0.75"/>
<use href="#v18" transform="translate(367.9 0) scale(0.55 1)" fill="none" stroke="#F2AE12" stroke-width="0.35" vector-effect="non-scaling-stroke" opacity="0.7"/>
<line x1="367.90" y1="68.70" x2="367.90" y2="103.20" stroke="#F2AE12" stroke-width="0.5" />
<rect x="365.10" y="81.30" width="5.60" height="10.90" fill="#F7CB5A" stroke="#F2AE12" stroke-width="0.6"/>
<line x1="365.10" y1="86.90" x2="370.70" y2="86.90" stroke="#F2AE12" stroke-width="0.8" />
<defs><path id="v19" d="M0.3 73.4 0.3 74.7 0.3 76.0 0.3 77.4 0.3 78.7 0.3 80.0 0.3 81.3 0.3 82.6 0.3 83.9 0.6 85.2 1.3 86.6 2.1 87.9 3.2 89.2 4.3 90.5 5.5 91.8 6.7 93.1 7.7 94.5 8.5 95.8 8.8 97.1 8.8 97.4 8.8 97.7 8.7 98.0 8.6 98.3 8.4 98.5 8.2 98.8 7.8 99.1 7.4 99.4 6.9 99.7 6.2 100.0 5.6 100.3 4.9 100.6 4.1 100.9 3.4 101.1 2.8 101.4 2.2 101.7 1.6 102.0 1.2 102.3 -1.2 102.3 -1.6 102.0 -2.2 101.7 -2.8 101.4 -3.4 101.1 -4.1 100.9 -4.9 100.6 -5.6 100.3 -6.2 100.0 -6.9 99.7 -7.4 99.4 -7.8 99.1 -8.2 98.8 -8.4 98.5 -8.6 98.3 -8.7 98.0 -8.8 97.7 -8.8 97.4 -8.8 97.1 -8.5 95.8 -7.7 94.5 -6.7 93.1 -5.5 91.8 -4.3 90.5 -3.2 89.2 -2.1 87.9 -1.3 86.6 -0.6 85.2 -0.3 83.9 -0.3 82.6 -0.3 81.3 -0.3 80.0 -0.3 78.7 -0.3 77.4 -0.3 76.0 -0.3 74.7 -0.3 73.4Z"/></defs>
<use href="#v19" transform="translate(391.6 0)" fill="#D6E6F4" stroke="#4C96CE" stroke-width="0.75"/>
<use href="#v19" transform="translate(391.6 0) scale(0.55 1)" fill="none" stroke="#4C96CE" stroke-width="0.35" vector-effect="non-scaling-stroke" opacity="0.7"/>
<line x1="391.60" y1="73.40" x2="391.60" y2="102.30" stroke="#4C96CE" stroke-width="0.5" />
<rect x="388.80" y="93.60" width="5.60" height="4.40" fill="#8DBBE0" stroke="#4C96CE" stroke-width="0.6"/>
<line x1="388.80" y1="95.80" x2="394.40" y2="95.80" stroke="#4C96CE" stroke-width="0.8" />
<circle cx="391.6" cy="73.4" r="1.0" fill="#4C96CE"/>
<circle cx="391.6" cy="76.0" r="1.0" fill="#4C96CE"/>
<circle cx="391.6" cy="78.6" r="1.0" fill="#4C96CE"/>
<circle cx="391.6" cy="81.2" r="1.0" fill="#4C96CE"/>
<defs><path id="v20" d="M0.5 74.3 0.7 75.1 1.0 75.9 1.3 76.6 1.6 77.4 1.9 78.2 2.2 79.0 2.5 79.7 2.8 80.5 3.1 81.3 3.4 82.1 3.6 82.9 3.7 83.6 3.8 84.4 3.9 85.2 4.0 86.0 4.0 86.7 4.0 87.5 4.0 88.3 4.0 88.9 4.0 89.6 4.0 90.2 3.9 90.8 3.9 91.5 3.8 92.1 3.7 92.7 3.5 93.4 3.4 94.0 3.1 94.6 2.9 95.3 2.6 95.9 2.4 96.5 2.1 97.2 1.8 97.8 1.5 98.4 1.2 99.1 1.0 99.7 -1.0 99.7 -1.2 99.1 -1.5 98.4 -1.8 97.8 -2.1 97.2 -2.4 96.5 -2.6 95.9 -2.9 95.3 -3.1 94.6 -3.4 94.0 -3.5 93.4 -3.7 92.7 -3.8 92.1 -3.9 91.5 -3.9 90.8 -4.0 90.2 -4.0 89.6 -4.0 88.9 -4.0 88.3 -4.0 87.5 -4.0 86.7 -4.0 86.0 -3.9 85.2 -3.8 84.4 -3.7 83.6 -3.6 82.9 -3.4 82.1 -3.1 81.3 -2.8 80.5 -2.5 79.7 -2.2 79.0 -1.9 78.2 -1.6 77.4 -1.3 76.6 -1.0 75.9 -0.7 75.1 -0.5 74.3Z"/></defs>
<use href="#v20" transform="translate(408.6 0)" fill="#CDEBDF" stroke="#1E9C72" stroke-width="0.75"/>
<use href="#v20" transform="translate(408.6 0) scale(0.55 1)" fill="none" stroke="#1E9C72" stroke-width="0.35" vector-effect="non-scaling-stroke" opacity="0.7"/>
<line x1="408.60" y1="74.30" x2="408.60" y2="99.70" stroke="#1E9C72" stroke-width="0.5" />
<rect x="405.80" y="85.20" width="5.60" height="8.40" fill="#6EC0A2" stroke="#1E9C72" stroke-width="0.6"/>
<line x1="405.80" y1="91.00" x2="411.40" y2="91.00" stroke="#1E9C72" stroke-width="0.8" />
<defs><path id="v21" d="M0.5 75.2 0.7 75.7 1.0 76.3 1.3 76.8 1.6 77.3 1.9 77.9 2.2 78.4 2.5 78.9 2.8 79.5 3.1 80.0 3.4 80.5 3.6 81.1 3.7 81.6 3.8 82.1 3.9 82.7 4.0 83.2 4.0 83.7 4.0 84.3 4.0 84.8 4.0 85.6 4.0 86.4 4.0 87.1 3.9 87.9 3.8 88.7 3.7 89.5 3.6 90.2 3.4 91.0 3.1 91.8 2.8 92.6 2.5 93.4 2.2 94.1 1.9 94.9 1.6 95.7 1.3 96.5 1.0 97.2 0.7 98.0 0.5 98.8 -0.5 98.8 -0.7 98.0 -1.0 97.2 -1.3 96.5 -1.6 95.7 -1.9 94.9 -2.2 94.1 -2.5 93.4 -2.8 92.6 -3.1 91.8 -3.4 91.0 -3.6 90.2 -3.7 89.5 -3.8 88.7 -3.9 87.9 -4.0 87.1 -4.0 86.4 -4.0 85.6 -4.0 84.8 -4.0 84.3 -4.0 83.7 -4.0 83.2 -3.9 82.7 -3.8 82.1 -3.7 81.6 -3.6 81.1 -3.4 80.5 -3.1 80.0 -2.8 79.5 -2.5 78.9 -2.2 78.4 -1.9 77.9 -1.6 77.3 -1.3 76.8 -1.0 76.3 -0.7 75.7 -0.5 75.2Z"/></defs>
<use href="#v21" transform="translate(425.2 0)" fill="#FCEBB8" stroke="#F2AE12" stroke-width="0.75"/>
<use href="#v21" transform="translate(425.2 0) scale(0.55 1)" fill="none" stroke="#F2AE12" stroke-width="0.35" vector-effect="non-scaling-stroke" opacity="0.7"/>
<line x1="425.20" y1="75.20" x2="425.20" y2="98.80" stroke="#F2AE12" stroke-width="0.5" />
<rect x="422.40" y="80.40" width="5.60" height="9.60" fill="#F7CB5A" stroke="#F2AE12" stroke-width="0.6"/>
<line x1="422.40" y1="85.20" x2="428.00" y2="85.20" stroke="#F2AE12" stroke-width="0.8" />
<defs><path id="v22" d="M0.3 33.7 0.3 36.2 0.3 38.8 0.3 41.3 0.3 43.8 0.3 46.3 0.3 48.9 0.3 51.4 0.3 53.9 0.6 56.5 1.3 59.0 2.2 61.5 3.3 64.0 4.4 66.6 5.7 69.1 6.9 71.6 8.0 74.1 8.8 76.7 9.1 79.2 9.1 80.2 8.9 81.2 8.6 82.3 8.1 83.3 7.5 84.3 6.9 85.3 6.1 86.4 5.3 87.4 4.5 88.4 3.7 89.4 3.0 90.4 2.3 91.5 1.7 92.5 1.2 93.5 0.8 94.5 0.5 95.6 0.3 96.6 0.3 97.6 -0.3 97.6 -0.3 96.6 -0.5 95.6 -0.8 94.5 -1.2 93.5 -1.7 92.5 -2.3 91.5 -3.0 90.4 -3.7 89.4 -4.5 88.4 -5.3 87.4 -6.1 86.4 -6.9 85.3 -7.5 84.3 -8.1 83.3 -8.6 82.3 -8.9 81.2 -9.1 80.2 -9.1 79.2 -8.8 76.7 -8.0 74.1 -6.9 71.6 -5.7 69.1 -4.4 66.6 -3.3 64.0 -2.2 61.5 -1.3 59.0 -0.6 56.5 -0.3 53.9 -0.3 51.4 -0.3 48.9 -0.3 46.3 -0.3 43.8 -0.3 41.3 -0.3 38.8 -0.3 36.2 -0.3 33.7Z"/></defs>
<use href="#v22" transform="translate(448.7 0)" fill="#D6E6F4" stroke="#4C96CE" stroke-width="0.75"/>
<use href="#v22" transform="translate(448.7 0) scale(0.55 1)" fill="none" stroke="#4C96CE" stroke-width="0.35" vector-effect="non-scaling-stroke" opacity="0.7"/>
<line x1="448.70" y1="33.70" x2="448.70" y2="97.60" stroke="#4C96CE" stroke-width="0.5" />
<rect x="445.90" y="72.20" width="5.60" height="11.40" fill="#8DBBE0" stroke="#4C96CE" stroke-width="0.6"/>
<line x1="445.90" y1="77.40" x2="451.50" y2="77.40" stroke="#4C96CE" stroke-width="0.8" />
<circle cx="448.7" cy="33.7" r="1.0" fill="#4C96CE"/>
<circle cx="448.7" cy="36.3" r="1.0" fill="#4C96CE"/>
<circle cx="448.7" cy="38.9" r="1.0" fill="#4C96CE"/>
<circle cx="448.7" cy="41.5" r="1.0" fill="#4C96CE"/>
<circle cx="448.7" cy="44.1" r="1.0" fill="#4C96CE"/>
<circle cx="448.7" cy="46.7" r="1.0" fill="#4C96CE"/>
<circle cx="448.7" cy="49.3" r="1.0" fill="#4C96CE"/>
<defs><path id="v23" d="M0.3 33.7 0.3 35.5 0.3 37.3 0.3 39.1 0.3 40.9 0.3 42.7 0.3 44.5 0.6 46.3 1.0 48.1 1.5 49.9 2.1 51.6 2.8 53.4 3.4 55.2 4.1 57.0 4.7 58.8 5.3 60.6 5.7 62.4 6.0 64.2 6.1 66.0 6.1 67.2 6.1 68.5 6.0 69.8 6.0 71.0 5.8 72.2 5.7 73.5 5.4 74.8 5.1 76.0 4.8 77.2 4.3 78.5 3.9 79.8 3.4 81.0 2.9 82.2 2.4 83.5 1.9 84.8 1.5 86.0 1.1 87.2 0.8 88.5 -0.8 88.5 -1.1 87.2 -1.5 86.0 -1.9 84.8 -2.4 83.5 -2.9 82.2 -3.4 81.0 -3.9 79.8 -4.3 78.5 -4.8 77.2 -5.1 76.0 -5.4 74.8 -5.7 73.5 -5.8 72.2 -6.0 71.0 -6.0 69.8 -6.1 68.5 -6.1 67.2 -6.1 66.0 -6.0 64.2 -5.7 62.4 -5.3 60.6 -4.7 58.8 -4.1 57.0 -3.4 55.2 -2.8 53.4 -2.1 51.6 -1.5 49.9 -1.0 48.1 -0.6 46.3 -0.3 44.5 -0.3 42.7 -0.3 40.9 -0.3 39.1 -0.3 37.3 -0.3 35.5 -0.3 33.7Z"/></defs>
<use href="#v23" transform="translate(465.7 0)" fill="#CDEBDF" stroke="#1E9C72" stroke-width="0.75"/>
<use href="#v23" transform="translate(465.7 0) scale(0.55 1)" fill="none" stroke="#1E9C72" stroke-width="0.35" vector-effect="non-scaling-stroke" opacity="0.7"/>
<line x1="465.70" y1="33.70" x2="465.70" y2="88.50" stroke="#1E9C72" stroke-width="0.5" />
<rect x="462.90" y="61.30" width="5.60" height="14.90" fill="#6EC0A2" stroke="#1E9C72" stroke-width="0.6"/>
<line x1="462.90" y1="67.50" x2="468.50" y2="67.50" stroke="#1E9C72" stroke-width="0.8" />
<circle cx="465.7" cy="33.7" r="1.0" fill="#1E9C72"/>
<circle cx="465.7" cy="36.3" r="1.0" fill="#1E9C72"/>
<circle cx="465.7" cy="38.9" r="1.0" fill="#1E9C72"/>
<defs><path id="v24" d="M0.3 37.2 0.3 38.2 0.3 39.2 0.5 40.2 0.8 41.3 1.2 42.3 1.6 43.3 2.0 44.3 2.5 45.3 3.0 46.4 3.6 47.4 4.1 48.4 4.6 49.4 5.0 50.4 5.4 51.4 5.7 52.5 5.9 53.5 6.1 54.5 6.1 55.5 6.1 57.4 5.9 59.2 5.7 61.0 5.4 62.9 5.0 64.8 4.6 66.6 4.1 68.5 3.6 70.3 3.0 72.2 2.5 74.0 2.0 75.8 1.6 77.7 1.2 79.5 0.8 81.4 0.5 83.2 0.3 85.1 0.3 86.9 0.3 88.8 -0.3 88.8 -0.3 86.9 -0.3 85.1 -0.5 83.2 -0.8 81.4 -1.2 79.5 -1.6 77.7 -2.0 75.8 -2.5 74.0 -3.0 72.2 -3.6 70.3 -4.1 68.5 -4.6 66.6 -5.0 64.8 -5.4 62.9 -5.7 61.0 -5.9 59.2 -6.1 57.4 -6.1 55.5 -6.1 54.5 -5.9 53.5 -5.7 52.5 -5.4 51.4 -5.0 50.4 -4.6 49.4 -4.1 48.4 -3.6 47.4 -3.0 46.4 -2.5 45.3 -2.0 44.3 -1.6 43.3 -1.2 42.3 -0.8 41.3 -0.5 40.2 -0.3 39.2 -0.3 38.2 -0.3 37.2Z"/></defs>
<use href="#v24" transform="translate(482.3 0)" fill="#FCEBB8" stroke="#F2AE12" stroke-width="0.75"/>
<use href="#v24" transform="translate(482.3 0) scale(0.55 1)" fill="none" stroke="#F2AE12" stroke-width="0.35" vector-effect="non-scaling-stroke" opacity="0.7"/>
<line x1="482.30" y1="37.20" x2="482.30" y2="88.80" stroke="#F2AE12" stroke-width="0.5" />
<rect x="479.50" y="52.00" width="5.60" height="19.30" fill="#F7CB5A" stroke="#F2AE12" stroke-width="0.6"/>
<line x1="479.50" y1="59.10" x2="485.10" y2="59.10" stroke="#F2AE12" stroke-width="0.8" />
<defs><path id="v25" d="M0.3 58.7 0.3 60.5 0.3 62.2 0.3 64.0 0.3 65.7 0.3 67.5 0.3 69.2 0.3 71.0 0.3 72.7 0.6 74.5 1.3 76.2 2.1 78.0 3.2 79.7 4.3 81.5 5.5 83.2 6.7 85.0 7.7 86.7 8.5 88.5 8.8 90.2 8.8 91.1 8.6 92.0 8.3 92.9 7.8 93.8 7.3 94.7 6.6 95.6 5.9 96.5 5.1 97.4 4.4 98.3 3.6 99.2 2.9 100.1 2.2 101.0 1.7 101.9 1.2 102.8 0.8 103.7 0.5 104.6 0.3 105.5 0.3 106.4 -0.3 106.4 -0.3 105.5 -0.5 104.6 -0.8 103.7 -1.2 102.8 -1.7 101.9 -2.2 101.0 -2.9 100.1 -3.6 99.2 -4.4 98.3 -5.1 97.4 -5.9 96.5 -6.6 95.6 -7.3 94.7 -7.8 93.8 -8.3 92.9 -8.6 92.0 -8.8 91.1 -8.8 90.2 -8.5 88.5 -7.7 86.7 -6.7 85.0 -5.5 83.2 -4.3 81.5 -3.2 79.7 -2.1 78.0 -1.3 76.2 -0.6 74.5 -0.3 72.7 -0.3 71.0 -0.3 69.2 -0.3 67.5 -0.3 65.7 -0.3 64.0 -0.3 62.2 -0.3 60.5 -0.3 58.7Z"/></defs>
<use href="#v25" transform="translate(506.0 0)" fill="#D6E6F4" stroke="#4C96CE" stroke-width="0.75"/>
<use href="#v25" transform="translate(506.0 0) scale(0.55 1)" fill="none" stroke="#4C96CE" stroke-width="0.35" vector-effect="non-scaling-stroke" opacity="0.7"/>
<line x1="506.00" y1="58.70" x2="506.00" y2="106.40" stroke="#4C96CE" stroke-width="0.5" />
<rect x="503.20" y="83.60" width="5.60" height="8.70" fill="#8DBBE0" stroke="#4C96CE" stroke-width="0.6"/>
<line x1="503.20" y1="88.00" x2="508.80" y2="88.00" stroke="#4C96CE" stroke-width="0.8" />
<circle cx="506.0" cy="58.7" r="1.0" fill="#4C96CE"/>
<circle cx="506.0" cy="61.3" r="1.0" fill="#4C96CE"/>
<circle cx="506.0" cy="63.9" r="1.0" fill="#4C96CE"/>
<circle cx="506.0" cy="66.5" r="1.0" fill="#4C96CE"/>
<circle cx="506.0" cy="69.1" r="1.0" fill="#4C96CE"/>
<defs><path id="v26" d="M0.3 58.7 0.3 60.5 0.3 62.2 0.4 64.0 0.7 65.8 0.9 67.6 1.3 69.3 1.6 71.1 2.0 72.9 2.4 74.7 2.9 76.4 3.3 78.2 3.7 80.0 4.1 81.7 4.4 83.5 4.6 85.3 4.8 87.1 4.9 88.8 4.9 90.6 4.9 91.5 4.9 92.4 4.9 93.2 4.8 94.1 4.7 95.0 4.6 95.9 4.4 96.7 4.1 97.6 3.8 98.5 3.5 99.4 3.1 100.3 2.7 101.1 2.3 102.0 1.9 102.9 1.5 103.8 1.2 104.6 0.9 105.5 0.7 106.4 -0.7 106.4 -0.9 105.5 -1.2 104.6 -1.5 103.8 -1.9 102.9 -2.3 102.0 -2.7 101.1 -3.1 100.3 -3.5 99.4 -3.8 98.5 -4.1 97.6 -4.4 96.7 -4.6 95.9 -4.7 95.0 -4.8 94.1 -4.9 93.2 -4.9 92.4 -4.9 91.5 -4.9 90.6 -4.9 88.8 -4.8 87.1 -4.6 85.3 -4.4 83.5 -4.1 81.7 -3.7 80.0 -3.3 78.2 -2.9 76.4 -2.4 74.7 -2.0 72.9 -1.6 71.1 -1.3 69.3 -0.9 67.6 -0.7 65.8 -0.4 64.0 -0.3 62.2 -0.3 60.5 -0.3 58.7Z"/></defs>
<use href="#v26" transform="translate(523.0 0)" fill="#CDEBDF" stroke="#1E9C72" stroke-width="0.75"/>
<use href="#v26" transform="translate(523.0 0) scale(0.55 1)" fill="none" stroke="#1E9C72" stroke-width="0.35" vector-effect="non-scaling-stroke" opacity="0.7"/>
<line x1="523.00" y1="58.70" x2="523.00" y2="106.40" stroke="#1E9C72" stroke-width="0.5" />
<rect x="520.20" y="83.60" width="5.60" height="13.10" fill="#6EC0A2" stroke="#1E9C72" stroke-width="0.6"/>
<line x1="520.20" y1="90.20" x2="525.80" y2="90.20" stroke="#1E9C72" stroke-width="0.8" />
<defs><path id="v27" d="M0.3 59.9 0.3 61.4 0.3 62.8 0.4 64.3 0.7 65.7 0.9 67.2 1.3 68.7 1.6 70.1 2.0 71.6 2.4 73.0 2.9 74.5 3.3 76.0 3.7 77.4 4.1 78.9 4.4 80.4 4.6 81.8 4.8 83.3 4.9 84.7 4.9 86.2 4.9 87.1 4.9 88.0 4.9 88.9 4.8 89.8 4.7 90.7 4.6 91.6 4.4 92.5 4.1 93.4 3.8 94.3 3.5 95.3 3.1 96.2 2.7 97.1 2.3 98.0 1.9 98.9 1.5 99.8 1.2 100.7 0.9 101.6 0.7 102.5 -0.7 102.5 -0.9 101.6 -1.2 100.7 -1.5 99.8 -1.9 98.9 -2.3 98.0 -2.7 97.1 -3.1 96.2 -3.5 95.3 -3.8 94.3 -4.1 93.4 -4.4 92.5 -4.6 91.6 -4.7 90.7 -4.8 89.8 -4.9 88.9 -4.9 88.0 -4.9 87.1 -4.9 86.2 -4.9 84.7 -4.8 83.3 -4.6 81.8 -4.4 80.4 -4.1 78.9 -3.7 77.4 -3.3 76.0 -2.9 74.5 -2.4 73.0 -2.0 71.6 -1.6 70.1 -1.3 68.7 -0.9 67.2 -0.7 65.7 -0.4 64.3 -0.3 62.8 -0.3 61.4 -0.3 59.9Z"/></defs>
<use href="#v27" transform="translate(539.6 0)" fill="#FCEBB8" stroke="#F2AE12" stroke-width="0.75"/>
<use href="#v27" transform="translate(539.6 0) scale(0.55 1)" fill="none" stroke="#F2AE12" stroke-width="0.35" vector-effect="non-scaling-stroke" opacity="0.7"/>
<line x1="539.60" y1="59.90" x2="539.60" y2="102.50" stroke="#F2AE12" stroke-width="0.5" />
<rect x="536.80" y="77.40" width="5.60" height="14.10" fill="#F7CB5A" stroke="#F2AE12" stroke-width="0.6"/>
<line x1="536.80" y1="86.60" x2="542.40" y2="86.60" stroke="#F2AE12" stroke-width="0.8" />
<defs><path id="v28" d="M0.3 68.7 0.3 70.0 0.3 71.3 0.3 72.6 0.3 73.9 0.3 75.3 0.3 76.6 0.8 77.9 1.4 79.2 2.1 80.5 3.0 81.8 3.9 83.1 4.8 84.4 5.8 85.7 6.7 87.1 7.5 88.4 8.1 89.7 8.5 91.0 8.6 92.3 8.5 93.5 8.1 94.7 7.5 95.9 6.7 97.1 5.8 98.2 4.8 99.4 3.9 100.6 3.0 101.8 2.1 103.0 1.4 104.2 0.8 105.4 0.3 106.6 0.3 107.8 0.3 108.9 0.3 110.1 0.3 111.3 0.3 112.5 0.3 113.7 -0.3 113.7 -0.3 112.5 -0.3 111.3 -0.3 110.1 -0.3 108.9 -0.3 107.8 -0.3 106.6 -0.8 105.4 -1.4 104.2 -2.1 103.0 -3.0 101.8 -3.9 100.6 -4.8 99.4 -5.8 98.2 -6.7 97.1 -7.5 95.9 -8.1 94.7 -8.5 93.5 -8.6 92.3 -8.5 91.0 -8.1 89.7 -7.5 88.4 -6.7 87.1 -5.8 85.7 -4.8 84.4 -3.9 83.1 -3.0 81.8 -2.1 80.5 -1.4 79.2 -0.8 77.9 -0.3 76.6 -0.3 75.3 -0.3 73.9 -0.3 72.6 -0.3 71.3 -0.3 70.0 -0.3 68.7Z"/></defs>
<use href="#v28" transform="translate(562.8 0)" fill="#D6E6F4" stroke="#4C96CE" stroke-width="0.75"/>
<use href="#v28" transform="translate(562.8 0) scale(0.55 1)" fill="none" stroke="#4C96CE" stroke-width="0.35" vector-effect="non-scaling-stroke" opacity="0.7"/>
<line x1="562.80" y1="68.70" x2="562.80" y2="113.70" stroke="#4C96CE" stroke-width="0.5" />
<rect x="560.00" y="86.70" width="5.60" height="8.80" fill="#8DBBE0" stroke="#4C96CE" stroke-width="0.6"/>
<line x1="560.00" y1="90.90" x2="565.60" y2="90.90" stroke="#4C96CE" stroke-width="0.8" />
<circle cx="562.8" cy="68.7" r="1.0" fill="#4C96CE"/>
<circle cx="562.8" cy="71.3" r="1.0" fill="#4C96CE"/>
<circle cx="562.8" cy="73.9" r="1.0" fill="#4C96CE"/>
<circle cx="562.8" cy="76.5" r="1.0" fill="#4C96CE"/>
<circle cx="562.8" cy="113.7" r="1.0" fill="#4C96CE"/>
<circle cx="562.8" cy="111.1" r="1.0" fill="#4C96CE"/>
<circle cx="562.8" cy="108.5" r="1.0" fill="#4C96CE"/>
<defs><path id="v29" d="M0.3 68.7 0.3 69.6 0.3 70.5 0.5 71.3 0.7 72.2 1.0 73.1 1.4 74.0 1.7 74.8 2.2 75.7 2.6 76.6 3.1 77.5 3.6 78.4 4.0 79.2 4.4 80.1 4.7 81.0 5.0 81.9 5.2 82.7 5.3 83.6 5.3 84.5 5.3 85.8 5.3 87.0 5.3 88.3 5.2 89.5 5.1 90.8 5.0 92.1 4.8 93.3 4.6 94.6 4.3 95.8 4.0 97.1 3.7 98.4 3.3 99.6 2.9 100.9 2.5 102.2 2.1 103.4 1.7 104.7 1.4 105.9 1.1 107.2 -1.1 107.2 -1.4 105.9 -1.7 104.7 -2.1 103.4 -2.5 102.2 -2.9 100.9 -3.3 99.6 -3.7 98.4 -4.0 97.1 -4.3 95.8 -4.6 94.6 -4.8 93.3 -5.0 92.1 -5.1 90.8 -5.2 89.5 -5.3 88.3 -5.3 87.0 -5.3 85.8 -5.3 84.5 -5.3 83.6 -5.2 82.7 -5.0 81.9 -4.7 81.0 -4.4 80.1 -4.0 79.2 -3.6 78.4 -3.1 77.5 -2.6 76.6 -2.2 75.7 -1.7 74.8 -1.4 74.0 -1.0 73.1 -0.7 72.2 -0.5 71.3 -0.3 70.5 -0.3 69.6 -0.3 68.7Z"/></defs>
<use href="#v29" transform="translate(579.8 0)" fill="#CDEBDF" stroke="#1E9C72" stroke-width="0.75"/>
<use href="#v29" transform="translate(579.8 0) scale(0.55 1)" fill="none" stroke="#1E9C72" stroke-width="0.35" vector-effect="non-scaling-stroke" opacity="0.7"/>
<line x1="579.80" y1="68.70" x2="579.80" y2="107.20" stroke="#1E9C72" stroke-width="0.5" />
<rect x="577.00" y="83.20" width="5.60" height="14.40" fill="#6EC0A2" stroke="#1E9C72" stroke-width="0.6"/>
<line x1="577.00" y1="87.10" x2="582.60" y2="87.10" stroke="#1E9C72" stroke-width="0.8" />
<defs><path id="v30" d="M0.3 71.3 0.3 72.3 0.3 73.2 0.3 74.2 0.3 75.2 0.3 76.2 0.3 77.1 0.3 78.1 0.3 79.1 0.6 80.0 1.4 81.0 2.3 82.0 3.3 83.0 4.5 83.9 5.8 84.9 7.1 85.9 8.2 86.9 9.0 87.8 9.3 88.8 9.2 89.6 9.1 90.4 8.7 91.2 8.3 92.0 7.7 92.8 7.0 93.6 6.2 94.4 5.4 95.2 4.6 96.0 3.8 96.8 3.1 97.6 2.4 98.4 1.8 99.2 1.3 100.0 0.8 100.8 0.5 101.6 0.3 102.4 0.3 103.2 -0.3 103.2 -0.3 102.4 -0.5 101.6 -0.8 100.8 -1.3 100.0 -1.8 99.2 -2.4 98.4 -3.1 97.6 -3.8 96.8 -4.6 96.0 -5.4 95.2 -6.2 94.4 -7.0 93.6 -7.7 92.8 -8.3 92.0 -8.7 91.2 -9.1 90.4 -9.2 89.6 -9.3 88.8 -9.0 87.8 -8.2 86.9 -7.1 85.9 -5.8 84.9 -4.5 83.9 -3.3 83.0 -2.3 82.0 -1.4 81.0 -0.6 80.0 -0.3 79.1 -0.3 78.1 -0.3 77.1 -0.3 76.2 -0.3 75.2 -0.3 74.2 -0.3 73.2 -0.3 72.3 -0.3 71.3Z"/></defs>
<use href="#v30" transform="translate(596.4 0)" fill="#FCEBB8" stroke="#F2AE12" stroke-width="0.75"/>
<use href="#v30" transform="translate(596.4 0) scale(0.55 1)" fill="none" stroke="#F2AE12" stroke-width="0.35" vector-effect="non-scaling-stroke" opacity="0.7"/>
<line x1="596.40" y1="71.30" x2="596.40" y2="103.20" stroke="#F2AE12" stroke-width="0.5" />
<rect x="593.60" y="86.20" width="5.60" height="7.50" fill="#F7CB5A" stroke="#F2AE12" stroke-width="0.6"/>
<line x1="593.60" y1="89.70" x2="599.20" y2="89.70" stroke="#F2AE12" stroke-width="0.8" />
<circle cx="596.4" cy="71.3" r="1.0" fill="#F2AE12"/>
<circle cx="596.4" cy="73.9" r="1.0" fill="#F2AE12"/>
<defs><path id="v31" d="M0.3 61.7 0.3 63.6 0.3 65.6 0.3 67.5 0.3 69.5 0.3 71.4 0.3 73.4 0.8 75.3 1.5 77.3 2.2 79.2 3.0 81.1 4.0 83.1 5.0 85.0 5.9 87.0 6.9 88.9 7.7 90.9 8.3 92.8 8.7 94.8 8.8 96.7 8.8 97.2 8.8 97.7 8.7 98.2 8.6 98.8 8.4 99.3 8.2 99.8 7.8 100.3 7.4 100.8 6.9 101.3 6.2 101.9 5.6 102.4 4.9 102.9 4.1 103.4 3.4 103.9 2.8 104.5 2.2 105.0 1.6 105.5 1.2 106.0 -1.2 106.0 -1.6 105.5 -2.2 105.0 -2.8 104.5 -3.4 103.9 -4.1 103.4 -4.9 102.9 -5.6 102.4 -6.2 101.9 -6.9 101.3 -7.4 100.8 -7.8 100.3 -8.2 99.8 -8.4 99.3 -8.6 98.8 -8.7 98.2 -8.8 97.7 -8.8 97.2 -8.8 96.7 -8.7 94.8 -8.3 92.8 -7.7 90.9 -6.9 88.9 -5.9 87.0 -5.0 85.0 -4.0 83.1 -3.0 81.1 -2.2 79.2 -1.5 77.3 -0.8 75.3 -0.3 73.4 -0.3 71.4 -0.3 69.5 -0.3 67.5 -0.3 65.6 -0.3 63.6 -0.3 61.7Z"/></defs>
<use href="#v31" transform="translate(620.1 0)" fill="#D6E6F4" stroke="#4C96CE" stroke-width="0.75"/>
<use href="#v31" transform="translate(620.1 0) scale(0.55 1)" fill="none" stroke="#4C96CE" stroke-width="0.35" vector-effect="non-scaling-stroke" opacity="0.7"/>
<line x1="620.10" y1="61.70" x2="620.10" y2="106.00" stroke="#4C96CE" stroke-width="0.5" />
<rect x="617.30" y="90.90" width="5.60" height="7.60" fill="#8DBBE0" stroke="#4C96CE" stroke-width="0.6"/>
<line x1="617.30" y1="95.00" x2="622.90" y2="95.00" stroke="#4C96CE" stroke-width="0.8" />
<circle cx="620.1" cy="61.7" r="1.0" fill="#4C96CE"/>
<circle cx="620.1" cy="64.3" r="1.0" fill="#4C96CE"/>
<circle cx="620.1" cy="66.9" r="1.0" fill="#4C96CE"/>
<circle cx="620.1" cy="69.5" r="1.0" fill="#4C96CE"/>
<circle cx="620.1" cy="72.1" r="1.0" fill="#4C96CE"/>
<circle cx="620.1" cy="74.7" r="1.0" fill="#4C96CE"/>
<defs><path id="v32" d="M0.3 62.9 0.3 64.3 0.3 65.8 0.3 67.2 0.3 68.7 0.3 70.1 0.3 71.5 0.6 73.0 1.0 74.4 1.4 75.8 2.0 77.3 2.6 78.7 3.3 80.2 3.9 81.6 4.5 83.0 5.0 84.5 5.5 85.9 5.7 87.4 5.8 88.8 5.8 89.7 5.8 90.6 5.7 91.4 5.7 92.3 5.6 93.2 5.4 94.1 5.2 94.9 4.9 95.8 4.5 96.7 4.1 97.6 3.7 98.5 3.2 99.3 2.7 100.2 2.3 101.1 1.8 102.0 1.4 102.8 1.1 103.7 0.8 104.6 -0.8 104.6 -1.1 103.7 -1.4 102.8 -1.8 102.0 -2.3 101.1 -2.7 100.2 -3.2 99.3 -3.7 98.5 -4.1 97.6 -4.5 96.7 -4.9 95.8 -5.2 94.9 -5.4 94.1 -5.6 93.2 -5.7 92.3 -5.7 91.4 -5.8 90.6 -5.8 89.7 -5.8 88.8 -5.7 87.4 -5.5 85.9 -5.0 84.5 -4.5 83.0 -3.9 81.6 -3.3 80.2 -2.6 78.7 -2.0 77.3 -1.4 75.8 -1.0 74.4 -0.6 73.0 -0.3 71.5 -0.3 70.1 -0.3 68.7 -0.3 67.2 -0.3 65.8 -0.3 64.3 -0.3 62.9Z"/></defs>
<use href="#v32" transform="translate(637.1 0)" fill="#CDEBDF" stroke="#1E9C72" stroke-width="0.75"/>
<use href="#v32" transform="translate(637.1 0) scale(0.55 1)" fill="none" stroke="#1E9C72" stroke-width="0.35" vector-effect="non-scaling-stroke" opacity="0.7"/>
<line x1="637.10" y1="62.90" x2="637.10" y2="104.60" stroke="#1E9C72" stroke-width="0.5" />
<rect x="634.30" y="84.50" width="5.60" height="9.20" fill="#6EC0A2" stroke="#1E9C72" stroke-width="0.6"/>
<line x1="634.30" y1="89.70" x2="639.90" y2="89.70" stroke="#1E9C72" stroke-width="0.8" />
<circle cx="637.1" cy="62.9" r="1.0" fill="#1E9C72"/>
<circle cx="637.1" cy="65.5" r="1.0" fill="#1E9C72"/>
<circle cx="637.1" cy="68.1" r="1.0" fill="#1E9C72"/>
<defs><path id="v33" d="M0.5 50.0 0.6 51.9 0.9 53.7 1.1 55.6 1.4 57.5 1.6 59.3 1.9 61.2 2.2 63.1 2.5 64.9 2.7 66.8 2.9 68.7 3.1 70.5 3.3 72.4 3.4 74.3 3.4 76.1 3.5 78.0 3.5 79.9 3.5 81.7 3.5 83.6 3.5 85.3 3.5 87.0 3.5 88.7 3.4 90.4 3.4 92.1 3.3 93.8 3.1 95.5 2.9 97.2 2.7 98.9 2.5 100.6 2.2 102.3 1.9 104.0 1.6 105.7 1.4 107.4 1.1 109.1 0.9 110.8 0.6 112.5 0.5 114.2 -0.5 114.2 -0.6 112.5 -0.9 110.8 -1.1 109.1 -1.4 107.4 -1.6 105.7 -1.9 104.0 -2.2 102.3 -2.5 100.6 -2.7 98.9 -2.9 97.2 -3.1 95.5 -3.3 93.8 -3.4 92.1 -3.4 90.4 -3.5 88.7 -3.5 87.0 -3.5 85.3 -3.5 83.6 -3.5 81.7 -3.5 79.9 -3.5 78.0 -3.4 76.1 -3.4 74.3 -3.3 72.4 -3.1 70.5 -2.9 68.7 -2.7 66.8 -2.5 64.9 -2.2 63.1 -1.9 61.2 -1.6 59.3 -1.4 57.5 -1.1 55.6 -0.9 53.7 -0.6 51.9 -0.5 50.0Z"/></defs>
<use href="#v33" transform="translate(653.7 0)" fill="#FCEBB8" stroke="#F2AE12" stroke-width="0.75"/>
<use href="#v33" transform="translate(653.7 0) scale(0.55 1)" fill="none" stroke="#F2AE12" stroke-width="0.35" vector-effect="non-scaling-stroke" opacity="0.7"/>
<line x1="653.70" y1="50.00" x2="653.70" y2="114.20" stroke="#F2AE12" stroke-width="0.5" />
<rect x="650.90" y="76.60" width="5.60" height="14.00" fill="#F7CB5A" stroke="#F2AE12" stroke-width="0.6"/>
<line x1="650.90" y1="83.20" x2="656.50" y2="83.20" stroke="#F2AE12" stroke-width="0.8" />
<defs><path id="v34" d="M0.3 174.2 0.3 175.9 0.3 177.6 0.3 179.3 0.3 181.0 0.3 182.7 0.4 184.4 0.9 186.1 1.5 187.8 2.3 189.5 3.1 191.2 4.1 192.9 5.1 194.6 6.1 196.3 7.1 198.0 7.9 199.7 8.6 201.4 9.0 203.1 9.1 204.8 9.1 205.3 9.1 205.8 9.0 206.3 8.9 206.8 8.7 207.3 8.5 207.8 8.1 208.3 7.6 208.8 7.1 209.4 6.5 209.9 5.8 210.4 5.0 210.9 4.3 211.4 3.6 211.9 2.9 212.4 2.2 212.9 1.7 213.4 1.2 213.9 -1.2 213.9 -1.7 213.4 -2.2 212.9 -2.9 212.4 -3.6 211.9 -4.3 211.4 -5.0 210.9 -5.8 210.4 -6.5 209.9 -7.1 209.4 -7.6 208.8 -8.1 208.3 -8.5 207.8 -8.7 207.3 -8.9 206.8 -9.0 206.3 -9.1 205.8 -9.1 205.3 -9.1 204.8 -9.0 203.1 -8.6 201.4 -7.9 199.7 -7.1 198.0 -6.1 196.3 -5.1 194.6 -4.1 192.9 -3.1 191.2 -2.3 189.5 -1.5 187.8 -0.9 186.1 -0.4 184.4 -0.3 182.7 -0.3 181.0 -0.3 179.3 -0.3 177.6 -0.3 175.9 -0.3 174.2Z"/></defs>
<use href="#v34" transform="translate(48.7 0)" fill="#D6E6F4" stroke="#4C96CE" stroke-width="0.75"/>
<use href="#v34" transform="translate(48.7 0) scale(0.55 1)" fill="none" stroke="#4C96CE" stroke-width="0.35" vector-effect="non-scaling-stroke" opacity="0.7"/>
<line x1="48.70" y1="174.20" x2="48.70" y2="213.90" stroke="#4C96CE" stroke-width="0.5" />
<rect x="45.90" y="196.40" width="5.60" height="9.80" fill="#8DBBE0" stroke="#4C96CE" stroke-width="0.6"/>
<line x1="45.90" y1="201.30" x2="51.50" y2="201.30" stroke="#4C96CE" stroke-width="0.8" />
<circle cx="48.7" cy="174.2" r="1.0" fill="#4C96CE"/>
<circle cx="48.7" cy="176.8" r="1.0" fill="#4C96CE"/>
<circle cx="48.7" cy="179.4" r="1.0" fill="#4C96CE"/>
<circle cx="48.7" cy="182.0" r="1.0" fill="#4C96CE"/>
<circle cx="48.7" cy="184.6" r="1.0" fill="#4C96CE"/>
<defs><path id="v35" d="M0.3 175.0 0.3 176.5 0.3 177.9 0.5 179.4 0.8 180.8 1.2 182.3 1.6 183.8 2.0 185.2 2.5 186.7 3.0 188.2 3.6 189.6 4.1 191.1 4.6 192.5 5.0 194.0 5.4 195.5 5.7 196.9 5.9 198.4 6.1 199.8 6.1 201.3 6.1 201.7 6.1 202.2 6.1 202.6 6.0 203.1 5.9 203.5 5.8 203.9 5.6 204.4 5.4 204.8 5.1 205.2 4.8 205.7 4.4 206.1 4.0 206.6 3.6 207.0 3.2 207.4 2.7 207.9 2.3 208.3 1.9 208.8 1.5 209.2 -1.5 209.2 -1.9 208.8 -2.3 208.3 -2.7 207.9 -3.2 207.4 -3.6 207.0 -4.0 206.6 -4.4 206.1 -4.8 205.7 -5.1 205.2 -5.4 204.8 -5.6 204.4 -5.8 203.9 -5.9 203.5 -6.0 203.1 -6.1 202.6 -6.1 202.2 -6.1 201.7 -6.1 201.3 -6.1 199.8 -5.9 198.4 -5.7 196.9 -5.4 195.5 -5.0 194.0 -4.6 192.5 -4.1 191.1 -3.6 189.6 -3.0 188.2 -2.5 186.7 -2.0 185.2 -1.6 183.8 -1.2 182.3 -0.8 180.8 -0.5 179.4 -0.3 177.9 -0.3 176.5 -0.3 175.0Z"/></defs>
<use href="#v35" transform="translate(65.7 0)" fill="#CDEBDF" stroke="#1E9C72" stroke-width="0.75"/>
<use href="#v35" transform="translate(65.7 0) scale(0.55 1)" fill="none" stroke="#1E9C72" stroke-width="0.35" vector-effect="non-scaling-stroke" opacity="0.7"/>
<line x1="65.70" y1="175.00" x2="65.70" y2="209.20" stroke="#1E9C72" stroke-width="0.5" />
<rect x="62.90" y="192.20" width="5.60" height="10.90" fill="#6EC0A2" stroke="#1E9C72" stroke-width="0.6"/>
<line x1="62.90" y1="198.70" x2="68.50" y2="198.70" stroke="#1E9C72" stroke-width="0.8" />
<defs><path id="v36" d="M1.0 166.3 1.2 166.8 1.5 167.3 1.7 167.8 2.0 168.2 2.3 168.7 2.6 169.2 2.8 169.7 3.1 170.2 3.3 170.7 3.4 171.1 3.6 171.6 3.7 172.1 3.8 172.6 3.8 173.1 3.9 173.6 3.9 174.0 3.9 174.5 3.9 175.0 3.9 177.3 3.9 179.5 3.9 181.8 3.8 184.0 3.7 186.3 3.6 188.6 3.5 190.8 3.3 193.1 3.0 195.3 2.8 197.6 2.5 199.9 2.2 202.1 1.8 204.4 1.5 206.7 1.2 208.9 1.0 211.2 0.7 213.4 0.5 215.7 -0.5 215.7 -0.7 213.4 -1.0 211.2 -1.2 208.9 -1.5 206.7 -1.8 204.4 -2.2 202.1 -2.5 199.9 -2.8 197.6 -3.0 195.3 -3.3 193.1 -3.5 190.8 -3.6 188.6 -3.7 186.3 -3.8 184.0 -3.9 181.8 -3.9 179.5 -3.9 177.3 -3.9 175.0 -3.9 174.5 -3.9 174.0 -3.9 173.6 -3.8 173.1 -3.8 172.6 -3.7 172.1 -3.6 171.6 -3.4 171.1 -3.3 170.7 -3.1 170.2 -2.8 169.7 -2.6 169.2 -2.3 168.7 -2.0 168.2 -1.7 167.8 -1.5 167.3 -1.2 166.8 -1.0 166.3Z"/></defs>
<use href="#v36" transform="translate(82.0 0)" fill="#FCEBB8" stroke="#F2AE12" stroke-width="0.75"/>
<use href="#v36" transform="translate(82.0 0) scale(0.55 1)" fill="none" stroke="#F2AE12" stroke-width="0.35" vector-effect="non-scaling-stroke" opacity="0.7"/>
<line x1="82.00" y1="166.30" x2="82.00" y2="215.70" stroke="#F2AE12" stroke-width="0.5" />
<rect x="79.20" y="175.90" width="5.60" height="17.50" fill="#F7CB5A" stroke="#F2AE12" stroke-width="0.6"/>
<line x1="79.20" y1="185.20" x2="84.80" y2="185.20" stroke="#F2AE12" stroke-width="0.8" />
<defs><path id="v37" d="M0.3 166.3 0.3 168.6 0.3 170.9 0.3 173.2 0.3 175.4 0.3 177.7 0.3 180.0 0.3 182.3 0.3 184.6 0.6 186.9 1.3 189.1 2.1 191.4 3.2 193.7 4.3 196.0 5.5 198.3 6.7 200.6 7.7 202.8 8.5 205.1 8.8 207.4 8.8 208.2 8.6 209.0 8.3 209.8 7.8 210.6 7.3 211.5 6.6 212.3 5.9 213.1 5.1 213.9 4.4 214.7 3.6 215.5 2.9 216.3 2.2 217.1 1.7 217.9 1.2 218.8 0.8 219.6 0.5 220.4 0.3 221.2 0.3 222.0 -0.3 222.0 -0.3 221.2 -0.5 220.4 -0.8 219.6 -1.2 218.8 -1.7 217.9 -2.2 217.1 -2.9 216.3 -3.6 215.5 -4.4 214.7 -5.1 213.9 -5.9 213.1 -6.6 212.3 -7.3 211.5 -7.8 210.6 -8.3 209.8 -8.6 209.0 -8.8 208.2 -8.8 207.4 -8.5 205.1 -7.7 202.8 -6.7 200.6 -5.5 198.3 -4.3 196.0 -3.2 193.7 -2.1 191.4 -1.3 189.1 -0.6 186.9 -0.3 184.6 -0.3 182.3 -0.3 180.0 -0.3 177.7 -0.3 175.4 -0.3 173.2 -0.3 170.9 -0.3 168.6 -0.3 166.3Z"/></defs>
<use href="#v37" transform="translate(106.0 0)" fill="#D6E6F4" stroke="#4C96CE" stroke-width="0.75"/>
<use href="#v37" transform="translate(106.0 0) scale(0.55 1)" fill="none" stroke="#4C96CE" stroke-width="0.35" vector-effect="non-scaling-stroke" opacity="0.7"/>
<line x1="106.00" y1="166.30" x2="106.00" y2="222.00" stroke="#4C96CE" stroke-width="0.5" />
<rect x="103.20" y="201.30" width="5.60" height="7.90" fill="#8DBBE0" stroke="#4C96CE" stroke-width="0.6"/>
<line x1="103.20" y1="205.70" x2="108.80" y2="205.70" stroke="#4C96CE" stroke-width="0.8" />
<circle cx="106.0" cy="166.3" r="1.0" fill="#4C96CE"/>
<circle cx="106.0" cy="168.9" r="1.0" fill="#4C96CE"/>
<circle cx="106.0" cy="171.5" r="1.0" fill="#4C96CE"/>
<circle cx="106.0" cy="174.1" r="1.0" fill="#4C96CE"/>
<circle cx="106.0" cy="176.7" r="1.0" fill="#4C96CE"/>
<circle cx="106.0" cy="179.3" r="1.0" fill="#4C96CE"/>
<circle cx="106.0" cy="181.9" r="1.0" fill="#4C96CE"/>
<defs><path id="v38" d="M0.7 166.3 0.9 168.7 1.2 171.2 1.5 173.6 1.9 176.0 2.3 178.4 2.7 180.9 3.1 183.3 3.5 185.7 3.8 188.2 4.1 190.6 4.4 193.0 4.6 195.4 4.7 197.9 4.8 200.3 4.9 202.7 4.9 205.1 4.9 207.6 4.9 210.0 4.9 210.4 4.9 210.7 4.9 211.1 4.8 211.5 4.8 211.9 4.7 212.2 4.5 212.6 4.3 213.0 4.1 213.3 3.9 213.7 3.6 214.1 3.2 214.5 2.9 214.8 2.5 215.2 2.2 215.6 1.8 216.0 1.5 216.3 1.2 216.7 -1.2 216.7 -1.5 216.3 -1.8 216.0 -2.2 215.6 -2.5 215.2 -2.9 214.8 -3.2 214.5 -3.6 214.1 -3.9 213.7 -4.1 213.3 -4.3 213.0 -4.5 212.6 -4.7 212.2 -4.8 211.9 -4.8 211.5 -4.9 211.1 -4.9 210.7 -4.9 210.4 -4.9 210.0 -4.9 207.6 -4.9 205.1 -4.9 202.7 -4.8 200.3 -4.7 197.9 -4.6 195.4 -4.4 193.0 -4.1 190.6 -3.8 188.2 -3.5 185.7 -3.1 183.3 -2.7 180.9 -2.3 178.4 -1.9 176.0 -1.5 173.6 -1.2 171.2 -0.9 168.7 -0.7 166.3Z"/></defs>
<use href="#v38" transform="translate(123.0 0)" fill="#CDEBDF" stroke="#1E9C72" stroke-width="0.75"/>
<use href="#v38" transform="translate(123.0 0) scale(0.55 1)" fill="none" stroke="#1E9C72" stroke-width="0.35" vector-effect="non-scaling-stroke" opacity="0.7"/>
<line x1="123.00" y1="166.30" x2="123.00" y2="216.70" stroke="#1E9C72" stroke-width="0.5" />
<rect x="120.20" y="197.00" width="5.60" height="13.00" fill="#6EC0A2" stroke="#1E9C72" stroke-width="0.6"/>
<line x1="120.20" y1="205.70" x2="125.80" y2="205.70" stroke="#1E9C72" stroke-width="0.8" />
<defs><path id="v39" d="M0.4 168.9 0.6 170.3 0.8 171.7 1.0 173.1 1.2 174.5 1.5 176.0 1.8 177.4 2.0 178.8 2.3 180.2 2.5 181.6 2.7 183.0 2.8 184.4 3.0 185.8 3.1 187.2 3.1 188.7 3.2 190.1 3.2 191.5 3.2 192.9 3.2 194.3 3.2 195.8 3.2 197.3 3.2 198.8 3.1 200.3 3.1 201.9 3.0 203.4 2.8 204.9 2.7 206.4 2.5 207.9 2.3 209.4 2.0 210.9 1.8 212.4 1.5 213.9 1.2 215.5 1.0 217.0 0.8 218.5 0.6 220.0 0.4 221.5 -0.4 221.5 -0.6 220.0 -0.8 218.5 -1.0 217.0 -1.2 215.5 -1.5 213.9 -1.8 212.4 -2.0 210.9 -2.3 209.4 -2.5 207.9 -2.7 206.4 -2.8 204.9 -3.0 203.4 -3.1 201.9 -3.1 200.3 -3.2 198.8 -3.2 197.3 -3.2 195.8 -3.2 194.3 -3.2 192.9 -3.2 191.5 -3.2 190.1 -3.1 188.7 -3.1 187.2 -3.0 185.8 -2.8 184.4 -2.7 183.0 -2.5 181.6 -2.3 180.2 -2.0 178.8 -1.8 177.4 -1.5 176.0 -1.2 174.5 -1.0 173.1 -0.8 171.7 -0.6 170.3 -0.4 168.9Z"/></defs>
<use href="#v39" transform="translate(139.6 0)" fill="#FCEBB8" stroke="#F2AE12" stroke-width="0.75"/>
<use href="#v39" transform="translate(139.6 0) scale(0.55 1)" fill="none" stroke="#F2AE12" stroke-width="0.35" vector-effect="non-scaling-stroke" opacity="0.7"/>
<line x1="139.60" y1="168.90" x2="139.60" y2="221.50" stroke="#F2AE12" stroke-width="0.5" />
<rect x="136.80" y="190.50" width="5.60" height="9.90" fill="#F7CB5A" stroke="#F2AE12" stroke-width="0.6"/>
<line x1="136.80" y1="194.30" x2="142.40" y2="194.30" stroke="#F2AE12" stroke-width="0.8" />
<defs><path id="v40" d="M0.3 181.7 0.3 183.3 0.3 184.9 0.3 186.4 0.3 188.0 0.3 189.6 0.3 191.2 0.3 192.7 0.3 194.3 0.3 195.9 0.3 197.5 0.3 199.1 0.3 200.6 1.1 202.2 2.3 203.8 3.9 205.4 5.7 206.9 7.6 208.5 8.8 210.1 8.8 210.2 8.8 210.3 8.7 210.4 8.7 210.5 8.5 210.6 8.4 210.7 8.1 210.8 7.8 210.9 7.4 210.9 6.9 211.0 6.4 211.1 5.8 211.2 5.2 211.3 4.6 211.4 3.9 211.5 3.3 211.6 2.7 211.7 2.2 211.8 -2.2 211.8 -2.7 211.7 -3.3 211.6 -3.9 211.5 -4.6 211.4 -5.2 211.3 -5.8 211.2 -6.4 211.1 -6.9 211.0 -7.4 210.9 -7.8 210.9 -8.1 210.8 -8.4 210.7 -8.5 210.6 -8.7 210.5 -8.7 210.4 -8.8 210.3 -8.8 210.2 -8.8 210.1 -7.6 208.5 -5.7 206.9 -3.9 205.4 -2.3 203.8 -1.1 202.2 -0.3 200.6 -0.3 199.1 -0.3 197.5 -0.3 195.9 -0.3 194.3 -0.3 192.7 -0.3 191.2 -0.3 189.6 -0.3 188.0 -0.3 186.4 -0.3 184.9 -0.3 183.3 -0.3 181.7Z"/></defs>
<use href="#v40" transform="translate(163.1 0)" fill="#D6E6F4" stroke="#4C96CE" stroke-width="0.75"/>
<use href="#v40" transform="translate(163.1 0) scale(0.55 1)" fill="none" stroke="#4C96CE" stroke-width="0.35" vector-effect="non-scaling-stroke" opacity="0.7"/>
<line x1="163.10" y1="181.70" x2="163.10" y2="211.80" stroke="#4C96CE" stroke-width="0.5" />
<rect x="160.30" y="205.70" width="5.60" height="4.40" fill="#8DBBE0" stroke="#4C96CE" stroke-width="0.6"/>
<line x1="160.30" y1="208.00" x2="165.90" y2="208.00" stroke="#4C96CE" stroke-width="0.8" />
<circle cx="163.1" cy="181.7" r="1.0" fill="#4C96CE"/>
<circle cx="163.1" cy="184.3" r="1.0" fill="#4C96CE"/>
<circle cx="163.1" cy="186.9" r="1.0" fill="#4C96CE"/>
<circle cx="163.1" cy="189.5" r="1.0" fill="#4C96CE"/>
<circle cx="163.1" cy="192.1" r="1.0" fill="#4C96CE"/>
<defs><path id="v41" d="M0.3 189.6 0.3 190.4 0.3 191.3 0.4 192.1 0.7 193.0 0.9 193.8 1.3 194.7 1.6 195.5 2.0 196.4 2.4 197.2 2.9 198.0 3.3 198.9 3.7 199.7 4.1 200.6 4.4 201.4 4.6 202.3 4.8 203.1 4.9 204.0 4.9 204.8 4.9 205.2 4.9 205.6 4.9 206.0 4.8 206.4 4.8 206.7 4.7 207.1 4.5 207.5 4.3 207.9 4.1 208.3 3.9 208.7 3.6 209.1 3.2 209.5 2.9 209.9 2.5 210.2 2.2 210.6 1.8 211.0 1.5 211.4 1.2 211.8 -1.2 211.8 -1.5 211.4 -1.8 211.0 -2.2 210.6 -2.5 210.2 -2.9 209.9 -3.2 209.5 -3.6 209.1 -3.9 208.7 -4.1 208.3 -4.3 207.9 -4.5 207.5 -4.7 207.1 -4.8 206.7 -4.8 206.4 -4.9 206.0 -4.9 205.6 -4.9 205.2 -4.9 204.8 -4.9 204.0 -4.8 203.1 -4.6 202.3 -4.4 201.4 -4.1 200.6 -3.7 199.7 -3.3 198.9 -2.9 198.0 -2.4 197.2 -2.0 196.4 -1.6 195.5 -1.3 194.7 -0.9 193.8 -0.7 193.0 -0.4 192.1 -0.3 191.3 -0.3 190.4 -0.3 189.6Z"/></defs>
<use href="#v41" transform="translate(180.1 0)" fill="#CDEBDF" stroke="#1E9C72" stroke-width="0.75"/>
<use href="#v41" transform="translate(180.1 0) scale(0.55 1)" fill="none" stroke="#1E9C72" stroke-width="0.35" vector-effect="non-scaling-stroke" opacity="0.7"/>
<line x1="180.10" y1="189.60" x2="180.10" y2="211.80" stroke="#1E9C72" stroke-width="0.5" />
<rect x="177.30" y="202.20" width="5.60" height="5.20" fill="#6EC0A2" stroke="#1E9C72" stroke-width="0.6"/>
<line x1="177.30" y1="204.80" x2="182.90" y2="204.80" stroke="#1E9C72" stroke-width="0.8" />
<defs><path id="v42" d="M0.6 181.2 0.8 182.0 1.1 182.8 1.4 183.7 1.7 184.5 2.1 185.3 2.4 186.1 2.8 187.0 3.1 187.8 3.4 188.6 3.7 189.4 3.9 190.2 4.1 191.1 4.2 191.9 4.3 192.7 4.4 193.5 4.4 194.4 4.4 195.2 4.4 196.0 4.4 196.7 4.4 197.4 4.4 198.1 4.3 198.7 4.2 199.4 4.1 200.1 3.9 200.8 3.7 201.5 3.4 202.2 3.1 202.8 2.8 203.5 2.4 204.2 2.1 204.9 1.7 205.6 1.4 206.2 1.1 206.9 0.8 207.6 0.6 208.3 -0.6 208.3 -0.8 207.6 -1.1 206.9 -1.4 206.2 -1.7 205.6 -2.1 204.9 -2.4 204.2 -2.8 203.5 -3.1 202.8 -3.4 202.2 -3.7 201.5 -3.9 200.8 -4.1 200.1 -4.2 199.4 -4.3 198.7 -4.4 198.1 -4.4 197.4 -4.4 196.7 -4.4 196.0 -4.4 195.2 -4.4 194.4 -4.4 193.5 -4.3 192.7 -4.2 191.9 -4.1 191.1 -3.9 190.2 -3.7 189.4 -3.4 188.6 -3.1 187.8 -2.8 187.0 -2.4 186.1 -2.1 185.3 -1.7 184.5 -1.4 183.7 -1.1 182.8 -0.8 182.0 -0.6 181.2Z"/></defs>
<use href="#v42" transform="translate(196.8 0)" fill="#FCEBB8" stroke="#F2AE12" stroke-width="0.75"/>
<use href="#v42" transform="translate(196.8 0) scale(0.55 1)" fill="none" stroke="#F2AE12" stroke-width="0.35" vector-effect="non-scaling-stroke" opacity="0.7"/>
<line x1="196.80" y1="181.20" x2="196.80" y2="208.30" stroke="#F2AE12" stroke-width="0.5" />
<rect x="194.00" y="193.40" width="5.60" height="5.30" fill="#F7CB5A" stroke="#F2AE12" stroke-width="0.6"/>
<line x1="194.00" y1="196.00" x2="199.60" y2="196.00" stroke="#F2AE12" stroke-width="0.8" />
<defs><path id="v43" d="M0.3 161.0 0.3 163.7 0.3 166.5 0.3 169.2 0.3 171.9 0.3 174.6 0.3 177.4 0.3 180.1 0.3 182.8 0.3 185.6 0.3 188.3 0.3 191.0 0.3 193.7 1.1 196.5 2.2 199.2 3.7 201.9 5.4 204.6 7.2 207.4 8.4 210.1 8.4 210.5 8.4 210.9 8.3 211.3 8.2 211.7 8.0 212.0 7.8 212.4 7.5 212.8 7.0 213.2 6.5 213.6 6.0 214.0 5.3 214.4 4.6 214.8 4.0 215.2 3.3 215.5 2.6 215.9 2.1 216.3 1.6 216.7 1.1 217.1 -1.1 217.1 -1.6 216.7 -2.1 216.3 -2.6 215.9 -3.3 215.5 -4.0 215.2 -4.6 214.8 -5.3 214.4 -6.0 214.0 -6.5 213.6 -7.0 213.2 -7.5 212.8 -7.8 212.4 -8.0 212.0 -8.2 211.7 -8.3 211.3 -8.4 210.9 -8.4 210.5 -8.4 210.1 -7.2 207.4 -5.4 204.6 -3.7 201.9 -2.2 199.2 -1.1 196.5 -0.3 193.7 -0.3 191.0 -0.3 188.3 -0.3 185.6 -0.3 182.8 -0.3 180.1 -0.3 177.4 -0.3 174.6 -0.3 171.9 -0.3 169.2 -0.3 166.5 -0.3 163.7 -0.3 161.0Z"/></defs>
<use href="#v43" transform="translate(220.4 0)" fill="#D6E6F4" stroke="#4C96CE" stroke-width="0.75"/>
<use href="#v43" transform="translate(220.4 0) scale(0.55 1)" fill="none" stroke="#4C96CE" stroke-width="0.35" vector-effect="non-scaling-stroke" opacity="0.7"/>
<line x1="220.40" y1="161.00" x2="220.40" y2="217.10" stroke="#4C96CE" stroke-width="0.5" />
<rect x="217.60" y="206.60" width="5.60" height="4.40" fill="#8DBBE0" stroke="#4C96CE" stroke-width="0.6"/>
<line x1="217.60" y1="208.80" x2="223.20" y2="208.80" stroke="#4C96CE" stroke-width="0.8" />
<circle cx="220.4" cy="161.0" r="1.0" fill="#4C96CE"/>
<circle cx="220.4" cy="163.6" r="1.0" fill="#4C96CE"/>
<circle cx="220.4" cy="166.2" r="1.0" fill="#4C96CE"/>
<circle cx="220.4" cy="168.8" r="1.0" fill="#4C96CE"/>
<circle cx="220.4" cy="171.4" r="1.0" fill="#4C96CE"/>
<circle cx="220.4" cy="174.0" r="1.0" fill="#4C96CE"/>
<circle cx="220.4" cy="176.6" r="1.0" fill="#4C96CE"/>
<circle cx="220.4" cy="179.2" r="1.0" fill="#4C96CE"/>
<defs><path id="v44" d="M0.3 161.0 0.3 163.4 0.3 165.9 0.3 168.3 0.3 170.7 0.3 173.2 0.3 175.6 0.3 178.0 0.3 180.5 0.3 182.9 0.3 185.3 0.3 187.8 0.9 190.2 1.6 192.6 2.4 195.1 3.4 197.5 4.4 199.9 5.3 202.4 5.8 204.8 5.8 205.2 5.8 205.6 5.7 206.0 5.7 206.4 5.6 206.9 5.4 207.3 5.2 207.7 4.9 208.1 4.5 208.5 4.1 208.9 3.7 209.3 3.2 209.7 2.7 210.1 2.3 210.6 1.8 211.0 1.4 211.4 1.1 211.8 0.8 212.2 -0.8 212.2 -1.1 211.8 -1.4 211.4 -1.8 211.0 -2.3 210.6 -2.7 210.1 -3.2 209.7 -3.7 209.3 -4.1 208.9 -4.5 208.5 -4.9 208.1 -5.2 207.7 -5.4 207.3 -5.6 206.9 -5.7 206.4 -5.7 206.0 -5.8 205.6 -5.8 205.2 -5.8 204.8 -5.3 202.4 -4.4 199.9 -3.4 197.5 -2.4 195.1 -1.6 192.6 -0.9 190.2 -0.3 187.8 -0.3 185.3 -0.3 182.9 -0.3 180.5 -0.3 178.0 -0.3 175.6 -0.3 173.2 -0.3 170.7 -0.3 168.3 -0.3 165.9 -0.3 163.4 -0.3 161.0Z"/></defs>
<use href="#v44" transform="translate(237.1 0)" fill="#CDEBDF" stroke="#1E9C72" stroke-width="0.75"/>
<use href="#v44" transform="translate(237.1 0) scale(0.55 1)" fill="none" stroke="#1E9C72" stroke-width="0.35" vector-effect="non-scaling-stroke" opacity="0.7"/>
<line x1="237.10" y1="161.00" x2="237.10" y2="212.20" stroke="#1E9C72" stroke-width="0.5" />
<rect x="234.30" y="202.70" width="5.60" height="4.20" fill="#6EC0A2" stroke="#1E9C72" stroke-width="0.6"/>
<line x1="234.30" y1="204.80" x2="239.90" y2="204.80" stroke="#1E9C72" stroke-width="0.8" />
<circle cx="237.1" cy="161.0" r="1.0" fill="#1E9C72"/>
<circle cx="237.1" cy="163.6" r="1.0" fill="#1E9C72"/>
<circle cx="237.1" cy="166.2" r="1.0" fill="#1E9C72"/>
<defs><path id="v45" d="M0.4 162.8 0.6 164.9 0.7 167.1 0.9 169.2 1.2 171.4 1.4 173.5 1.7 175.6 1.9 177.8 2.1 179.9 2.3 182.1 2.5 184.2 2.7 186.3 2.8 188.5 2.9 190.6 2.9 192.7 3.0 194.9 3.0 197.0 3.0 199.2 3.0 201.3 3.0 202.2 3.0 203.2 3.0 204.1 2.9 205.0 2.9 205.9 2.8 206.9 2.7 207.8 2.5 208.7 2.3 209.7 2.1 210.6 1.9 211.5 1.7 212.4 1.4 213.4 1.2 214.3 0.9 215.2 0.7 216.1 0.6 217.1 0.4 218.0 -0.4 218.0 -0.6 217.1 -0.7 216.1 -0.9 215.2 -1.2 214.3 -1.4 213.4 -1.7 212.4 -1.9 211.5 -2.1 210.6 -2.3 209.7 -2.5 208.7 -2.7 207.8 -2.8 206.9 -2.9 205.9 -2.9 205.0 -3.0 204.1 -3.0 203.2 -3.0 202.2 -3.0 201.3 -3.0 199.2 -3.0 197.0 -3.0 194.9 -2.9 192.7 -2.9 190.6 -2.8 188.5 -2.7 186.3 -2.5 184.2 -2.3 182.1 -2.1 179.9 -1.9 177.8 -1.7 175.6 -1.4 173.5 -1.2 171.4 -0.9 169.2 -0.7 167.1 -0.6 164.9 -0.4 162.8Z"/></defs>
<use href="#v45" transform="translate(253.9 0)" fill="#FCEBB8" stroke="#F2AE12" stroke-width="0.75"/>
<use href="#v45" transform="translate(253.9 0) scale(0.55 1)" fill="none" stroke="#F2AE12" stroke-width="0.35" vector-effect="non-scaling-stroke" opacity="0.7"/>
<line x1="253.90" y1="162.80" x2="253.90" y2="218.00" stroke="#F2AE12" stroke-width="0.5" />
<rect x="251.10" y="194.30" width="5.60" height="13.10" fill="#F7CB5A" stroke="#F2AE12" stroke-width="0.6"/>
<line x1="251.10" y1="202.20" x2="256.70" y2="202.20" stroke="#F2AE12" stroke-width="0.8" />
<defs><path id="v46" d="M0.3 157.2 0.3 160.1 0.3 162.9 0.3 165.8 0.3 168.7 0.3 171.5 0.3 174.4 0.3 177.3 0.3 180.1 0.3 183.0 0.3 185.9 0.3 188.7 0.3 191.6 1.1 194.5 2.3 197.3 3.9 200.2 5.7 203.1 7.6 205.9 8.8 208.8 8.8 209.0 8.8 209.2 8.7 209.4 8.7 209.6 8.5 209.8 8.4 210.0 8.1 210.2 7.8 210.4 7.4 210.6 6.9 210.7 6.4 210.9 5.8 211.1 5.2 211.3 4.6 211.5 3.9 211.7 3.3 211.9 2.7 212.1 2.2 212.3 -2.2 212.3 -2.7 212.1 -3.3 211.9 -3.9 211.7 -4.6 211.5 -5.2 211.3 -5.8 211.1 -6.4 210.9 -6.9 210.7 -7.4 210.6 -7.8 210.4 -8.1 210.2 -8.4 210.0 -8.5 209.8 -8.7 209.6 -8.7 209.4 -8.8 209.2 -8.8 209.0 -8.8 208.8 -7.6 205.9 -5.7 203.1 -3.9 200.2 -2.3 197.3 -1.1 194.5 -0.3 191.6 -0.3 188.7 -0.3 185.9 -0.3 183.0 -0.3 180.1 -0.3 177.3 -0.3 174.4 -0.3 171.5 -0.3 168.7 -0.3 165.8 -0.3 162.9 -0.3 160.1 -0.3 157.2Z"/></defs>
<use href="#v46" transform="translate(277.3 0)" fill="#D6E6F4" stroke="#4C96CE" stroke-width="0.75"/>
<use href="#v46" transform="translate(277.3 0) scale(0.55 1)" fill="none" stroke="#4C96CE" stroke-width="0.35" vector-effect="non-scaling-stroke" opacity="0.7"/>
<line x1="277.30" y1="157.20" x2="277.30" y2="212.30" stroke="#4C96CE" stroke-width="0.5" />
<rect x="274.50" y="199.20" width="5.60" height="9.60" fill="#8DBBE0" stroke="#4C96CE" stroke-width="0.6"/>
<line x1="274.50" y1="206.20" x2="280.10" y2="206.20" stroke="#4C96CE" stroke-width="0.8" />
<circle cx="277.3" cy="157.2" r="1.0" fill="#4C96CE"/>
<circle cx="277.3" cy="159.8" r="1.0" fill="#4C96CE"/>
<circle cx="277.3" cy="162.4" r="1.0" fill="#4C96CE"/>
<circle cx="277.3" cy="165.0" r="1.0" fill="#4C96CE"/>
<circle cx="277.3" cy="167.6" r="1.0" fill="#4C96CE"/>
<circle cx="277.3" cy="170.2" r="1.0" fill="#4C96CE"/>
<circle cx="277.3" cy="172.8" r="1.0" fill="#4C96CE"/>
<circle cx="277.3" cy="175.4" r="1.0" fill="#4C96CE"/>
<defs><path id="v47" d="M0.3 157.2 0.3 159.1 0.3 161.0 0.3 162.9 0.3 164.8 0.3 166.7 0.3 168.6 0.4 170.5 0.7 172.4 1.1 174.2 1.5 176.1 2.0 178.0 2.5 179.9 3.0 181.8 3.4 183.7 3.8 185.6 4.1 187.5 4.3 189.4 4.4 191.3 4.4 192.3 4.4 193.3 4.4 194.4 4.3 195.4 4.2 196.4 4.1 197.4 3.9 198.5 3.7 199.5 3.4 200.5 3.1 201.5 2.8 202.5 2.4 203.6 2.1 204.6 1.7 205.6 1.4 206.6 1.1 207.7 0.8 208.7 0.6 209.7 -0.6 209.7 -0.8 208.7 -1.1 207.7 -1.4 206.6 -1.7 205.6 -2.1 204.6 -2.4 203.6 -2.8 202.5 -3.1 201.5 -3.4 200.5 -3.7 199.5 -3.9 198.5 -4.1 197.4 -4.2 196.4 -4.3 195.4 -4.4 194.4 -4.4 193.3 -4.4 192.3 -4.4 191.3 -4.3 189.4 -4.1 187.5 -3.8 185.6 -3.4 183.7 -3.0 181.8 -2.5 179.9 -2.0 178.0 -1.5 176.1 -1.1 174.2 -0.7 172.4 -0.4 170.5 -0.3 168.6 -0.3 166.7 -0.3 164.8 -0.3 162.9 -0.3 161.0 -0.3 159.1 -0.3 157.2Z"/></defs>
<use href="#v47" transform="translate(294.3 0)" fill="#CDEBDF" stroke="#1E9C72" stroke-width="0.75"/>
<use href="#v47" transform="translate(294.3 0) scale(0.55 1)" fill="none" stroke="#1E9C72" stroke-width="0.35" vector-effect="non-scaling-stroke" opacity="0.7"/>
<line x1="294.30" y1="157.20" x2="294.30" y2="209.70" stroke="#1E9C72" stroke-width="0.5" />
<rect x="291.50" y="184.70" width="5.60" height="12.70" fill="#6EC0A2" stroke="#1E9C72" stroke-width="0.6"/>
<line x1="291.50" y1="192.20" x2="297.10" y2="192.20" stroke="#1E9C72" stroke-width="0.8" />
<circle cx="294.3" cy="157.2" r="1.0" fill="#1E9C72"/>
<circle cx="294.3" cy="159.8" r="1.0" fill="#1E9C72"/>
<circle cx="294.3" cy="162.4" r="1.0" fill="#1E9C72"/>
<defs><path id="v48" d="M0.7 158.0 0.9 158.7 1.0 159.4 1.2 160.1 1.4 160.7 1.7 161.4 1.8 162.1 2.0 162.8 2.2 163.5 2.4 164.2 2.5 164.8 2.6 165.5 2.7 166.2 2.7 166.9 2.8 167.6 2.8 168.2 2.8 168.9 2.8 169.6 2.8 170.3 2.8 172.2 2.8 174.1 2.8 176.0 2.7 177.9 2.7 179.8 2.6 181.7 2.5 183.6 2.3 185.5 2.2 187.4 2.0 189.3 1.8 191.2 1.5 193.1 1.3 195.0 1.1 196.9 0.9 198.8 0.7 200.7 0.5 202.6 0.4 204.5 -0.4 204.5 -0.5 202.6 -0.7 200.7 -0.9 198.8 -1.1 196.9 -1.3 195.0 -1.5 193.1 -1.8 191.2 -2.0 189.3 -2.2 187.4 -2.3 185.5 -2.5 183.6 -2.6 181.7 -2.7 179.8 -2.7 177.9 -2.8 176.0 -2.8 174.1 -2.8 172.2 -2.8 170.3 -2.8 169.6 -2.8 168.9 -2.8 168.2 -2.8 167.6 -2.7 166.9 -2.7 166.2 -2.6 165.5 -2.5 164.8 -2.4 164.2 -2.2 163.5 -2.0 162.8 -1.8 162.1 -1.7 161.4 -1.4 160.7 -1.2 160.1 -1.0 159.4 -0.9 158.7 -0.7 158.0Z"/></defs>
<use href="#v48" transform="translate(310.9 0)" fill="#FCEBB8" stroke="#F2AE12" stroke-width="0.75"/>
<use href="#v48" transform="translate(310.9 0) scale(0.55 1)" fill="none" stroke="#F2AE12" stroke-width="0.35" vector-effect="non-scaling-stroke" opacity="0.7"/>
<line x1="310.90" y1="158.00" x2="310.90" y2="204.50" stroke="#F2AE12" stroke-width="0.5" />
<rect x="308.10" y="170.30" width="5.60" height="18.40" fill="#F7CB5A" stroke="#F2AE12" stroke-width="0.6"/>
<line x1="308.10" y1="180.80" x2="313.70" y2="180.80" stroke="#F2AE12" stroke-width="0.8" />
<defs><path id="v49" d="M0.3 178.2 0.3 179.8 0.3 181.3 0.3 182.9 0.3 184.4 0.3 186.0 0.3 187.5 0.8 189.1 1.5 190.6 2.2 192.2 3.0 193.8 4.0 195.3 5.0 196.9 5.9 198.4 6.9 200.0 7.7 201.5 8.3 203.1 8.7 204.6 8.8 206.2 8.8 206.7 8.8 207.2 8.7 207.7 8.6 208.2 8.4 208.6 8.2 209.1 7.8 209.6 7.4 210.1 6.9 210.6 6.2 211.1 5.6 211.6 4.9 212.1 4.1 212.6 3.4 213.0 2.8 213.5 2.2 214.0 1.6 214.5 1.2 215.0 -1.2 215.0 -1.6 214.5 -2.2 214.0 -2.8 213.5 -3.4 213.0 -4.1 212.6 -4.9 212.1 -5.6 211.6 -6.2 211.1 -6.9 210.6 -7.4 210.1 -7.8 209.6 -8.2 209.1 -8.4 208.6 -8.6 208.2 -8.7 207.7 -8.8 207.2 -8.8 206.7 -8.8 206.2 -8.7 204.6 -8.3 203.1 -7.7 201.5 -6.9 200.0 -5.9 198.4 -5.0 196.9 -4.0 195.3 -3.0 193.8 -2.2 192.2 -1.5 190.6 -0.8 189.1 -0.3 187.5 -0.3 186.0 -0.3 184.4 -0.3 182.9 -0.3 181.3 -0.3 179.8 -0.3 178.2Z"/></defs>
<use href="#v49" transform="translate(334.6 0)" fill="#D6E6F4" stroke="#4C96CE" stroke-width="0.75"/>
<use href="#v49" transform="translate(334.6 0) scale(0.55 1)" fill="none" stroke="#4C96CE" stroke-width="0.35" vector-effect="non-scaling-stroke" opacity="0.7"/>
<line x1="334.60" y1="178.20" x2="334.60" y2="215.00" stroke="#4C96CE" stroke-width="0.5" />
<rect x="331.80" y="200.40" width="5.60" height="7.60" fill="#8DBBE0" stroke="#4C96CE" stroke-width="0.6"/>
<line x1="331.80" y1="204.50" x2="337.40" y2="204.50" stroke="#4C96CE" stroke-width="0.8" />
<circle cx="334.6" cy="178.2" r="1.0" fill="#4C96CE"/>
<circle cx="334.6" cy="180.8" r="1.0" fill="#4C96CE"/>
<circle cx="334.6" cy="183.4" r="1.0" fill="#4C96CE"/>
<circle cx="334.6" cy="186.0" r="1.0" fill="#4C96CE"/>
<circle cx="334.6" cy="188.6" r="1.0" fill="#4C96CE"/>
<defs><path id="v50" d="M0.3 179.0 0.3 180.3 0.3 181.5 0.4 182.8 0.6 184.1 0.9 185.3 1.2 186.6 1.5 187.9 1.9 189.1 2.3 190.4 2.7 191.7 3.1 192.9 3.5 194.2 3.8 195.5 4.1 196.7 4.3 198.0 4.5 199.3 4.6 200.5 4.6 201.8 4.6 202.5 4.6 203.3 4.6 204.0 4.5 204.7 4.4 205.5 4.3 206.2 4.2 206.9 4.0 207.7 3.8 208.4 3.5 209.1 3.2 209.9 2.9 210.6 2.5 211.3 2.2 212.1 1.8 212.8 1.5 213.5 1.2 214.3 0.9 215.0 -0.9 215.0 -1.2 214.3 -1.5 213.5 -1.8 212.8 -2.2 212.1 -2.5 211.3 -2.9 210.6 -3.2 209.9 -3.5 209.1 -3.8 208.4 -4.0 207.7 -4.2 206.9 -4.3 206.2 -4.4 205.5 -4.5 204.7 -4.6 204.0 -4.6 203.3 -4.6 202.5 -4.6 201.8 -4.6 200.5 -4.5 199.3 -4.3 198.0 -4.1 196.7 -3.8 195.5 -3.5 194.2 -3.1 192.9 -2.7 191.7 -2.3 190.4 -1.9 189.1 -1.5 187.9 -1.2 186.6 -0.9 185.3 -0.6 184.1 -0.4 182.8 -0.3 181.5 -0.3 180.3 -0.3 179.0Z"/></defs>
<use href="#v50" transform="translate(351.2 0)" fill="#CDEBDF" stroke="#1E9C72" stroke-width="0.75"/>
<use href="#v50" transform="translate(351.2 0) scale(0.55 1)" fill="none" stroke="#1E9C72" stroke-width="0.35" vector-effect="non-scaling-stroke" opacity="0.7"/>
<line x1="351.20" y1="179.00" x2="351.20" y2="215.00" stroke="#1E9C72" stroke-width="0.5" />
<rect x="348.40" y="194.50" width="5.60" height="12.20" fill="#6EC0A2" stroke="#1E9C72" stroke-width="0.6"/>
<line x1="348.40" y1="200.00" x2="354.00" y2="200.00" stroke="#1E9C72" stroke-width="0.8" />
<defs><path id="v51" d="M0.3 182.2 0.3 183.0 0.3 183.9 0.5 184.7 0.8 185.6 1.1 186.4 1.5 187.3 2.0 188.1 2.5 189.0 3.0 189.8 3.5 190.6 4.0 191.5 4.5 192.3 5.0 193.2 5.3 194.0 5.6 194.9 5.9 195.7 6.0 196.6 6.0 197.4 6.0 198.2 5.9 199.0 5.6 199.8 5.3 200.6 5.0 201.5 4.5 202.3 4.0 203.1 3.5 203.9 3.0 204.7 2.5 205.5 2.0 206.3 1.5 207.1 1.1 207.9 0.8 208.8 0.5 209.6 0.3 210.4 0.3 211.2 0.3 212.0 -0.3 212.0 -0.3 211.2 -0.3 210.4 -0.5 209.6 -0.8 208.8 -1.1 207.9 -1.5 207.1 -2.0 206.3 -2.5 205.5 -3.0 204.7 -3.5 203.9 -4.0 203.1 -4.5 202.3 -5.0 201.5 -5.3 200.6 -5.6 199.8 -5.9 199.0 -6.0 198.2 -6.0 197.4 -6.0 196.6 -5.9 195.7 -5.6 194.9 -5.3 194.0 -5.0 193.2 -4.5 192.3 -4.0 191.5 -3.5 190.6 -3.0 189.8 -2.5 189.0 -2.0 188.1 -1.5 187.3 -1.1 186.4 -0.8 185.6 -0.5 184.7 -0.3 183.9 -0.3 183.0 -0.3 182.2Z"/></defs>
<use href="#v51" transform="translate(368.0 0)" fill="#FCEBB8" stroke="#F2AE12" stroke-width="0.75"/>
<use href="#v51" transform="translate(368.0 0) scale(0.55 1)" fill="none" stroke="#F2AE12" stroke-width="0.35" vector-effect="non-scaling-stroke" opacity="0.7"/>
<line x1="368.00" y1="182.20" x2="368.00" y2="212.00" stroke="#F2AE12" stroke-width="0.5" />
<rect x="365.20" y="194.00" width="5.60" height="8.20" fill="#F7CB5A" stroke="#F2AE12" stroke-width="0.6"/>
<line x1="365.20" y1="198.30" x2="370.80" y2="198.30" stroke="#F2AE12" stroke-width="0.8" />
<defs><path id="v52" d="M0.3 185.4 0.3 186.8 0.3 188.2 0.3 189.6 0.3 191.0 0.3 192.4 0.3 193.8 0.3 195.2 0.3 196.6 0.3 197.9 0.3 199.3 0.3 200.7 0.3 202.1 1.1 203.5 2.3 204.9 3.9 206.3 5.7 207.7 7.6 209.1 8.8 210.5 8.8 210.6 8.8 210.7 8.7 210.8 8.7 210.9 8.5 211.0 8.4 211.1 8.1 211.2 7.8 211.3 7.4 211.3 6.9 211.4 6.4 211.5 5.8 211.6 5.2 211.7 4.6 211.8 3.9 211.9 3.3 212.0 2.7 212.1 2.2 212.2 -2.2 212.2 -2.7 212.1 -3.3 212.0 -3.9 211.9 -4.6 211.8 -5.2 211.7 -5.8 211.6 -6.4 211.5 -6.9 211.4 -7.4 211.3 -7.8 211.3 -8.1 211.2 -8.4 211.1 -8.5 211.0 -8.7 210.9 -8.7 210.8 -8.8 210.7 -8.8 210.6 -8.8 210.5 -7.6 209.1 -5.7 207.7 -3.9 206.3 -2.3 204.9 -1.1 203.5 -0.3 202.1 -0.3 200.7 -0.3 199.3 -0.3 197.9 -0.3 196.6 -0.3 195.2 -0.3 193.8 -0.3 192.4 -0.3 191.0 -0.3 189.6 -0.3 188.2 -0.3 186.8 -0.3 185.4Z"/></defs>
<use href="#v52" transform="translate(391.7 0)" fill="#D6E6F4" stroke="#4C96CE" stroke-width="0.75"/>
<use href="#v52" transform="translate(391.7 0) scale(0.55 1)" fill="none" stroke="#4C96CE" stroke-width="0.35" vector-effect="non-scaling-stroke" opacity="0.7"/>
<line x1="391.70" y1="185.40" x2="391.70" y2="212.20" stroke="#4C96CE" stroke-width="0.5" />
<rect x="388.90" y="206.00" width="5.60" height="4.80" fill="#8DBBE0" stroke="#4C96CE" stroke-width="0.6"/>
<line x1="388.90" y1="208.40" x2="394.50" y2="208.40" stroke="#4C96CE" stroke-width="0.8" />
<circle cx="391.7" cy="185.4" r="1.0" fill="#4C96CE"/>
<circle cx="391.7" cy="188.0" r="1.0" fill="#4C96CE"/>
<circle cx="391.7" cy="190.6" r="1.0" fill="#4C96CE"/>
<circle cx="391.7" cy="193.2" r="1.0" fill="#4C96CE"/>
<defs><path id="v53" d="M0.4 186.0 0.6 186.8 0.8 187.6 1.0 188.4 1.2 189.2 1.5 190.0 1.8 190.8 2.0 191.6 2.3 192.4 2.5 193.2 2.7 193.9 2.8 194.7 3.0 195.5 3.1 196.3 3.1 197.1 3.2 197.9 3.2 198.7 3.2 199.5 3.2 200.3 3.2 200.9 3.2 201.6 3.2 202.2 3.2 202.8 3.1 203.5 3.0 204.1 2.9 204.7 2.8 205.4 2.7 206.0 2.5 206.6 2.3 207.3 2.1 207.9 1.9 208.5 1.7 209.2 1.4 209.8 1.2 210.4 1.0 211.1 0.8 211.7 -0.8 211.7 -1.0 211.1 -1.2 210.4 -1.4 209.8 -1.7 209.2 -1.9 208.5 -2.1 207.9 -2.3 207.3 -2.5 206.6 -2.7 206.0 -2.8 205.4 -2.9 204.7 -3.0 204.1 -3.1 203.5 -3.2 202.8 -3.2 202.2 -3.2 201.6 -3.2 200.9 -3.2 200.3 -3.2 199.5 -3.2 198.7 -3.2 197.9 -3.1 197.1 -3.1 196.3 -3.0 195.5 -2.8 194.7 -2.7 193.9 -2.5 193.2 -2.3 192.4 -2.0 191.6 -1.8 190.8 -1.5 190.0 -1.2 189.2 -1.0 188.4 -0.8 187.6 -0.6 186.8 -0.4 186.0Z"/></defs>
<use href="#v53" transform="translate(408.4 0)" fill="#CDEBDF" stroke="#1E9C72" stroke-width="0.75"/>
<use href="#v53" transform="translate(408.4 0) scale(0.55 1)" fill="none" stroke="#1E9C72" stroke-width="0.35" vector-effect="non-scaling-stroke" opacity="0.7"/>
<line x1="408.40" y1="186.00" x2="408.40" y2="211.70" stroke="#1E9C72" stroke-width="0.5" />
<rect x="405.60" y="196.80" width="5.60" height="8.80" fill="#6EC0A2" stroke="#1E9C72" stroke-width="0.6"/>
<line x1="405.60" y1="201.70" x2="411.20" y2="201.70" stroke="#1E9C72" stroke-width="0.8" />
<defs><path id="v54" d="M0.4 185.4 0.5 186.0 0.6 186.7 0.8 187.3 1.0 187.9 1.2 188.6 1.4 189.2 1.6 189.8 1.8 190.5 2.0 191.1 2.2 191.7 2.3 192.4 2.4 193.0 2.5 193.6 2.5 194.3 2.6 194.9 2.6 195.5 2.6 196.2 2.6 196.8 2.6 197.5 2.6 198.2 2.6 198.9 2.5 199.5 2.5 200.2 2.4 200.9 2.3 201.6 2.2 202.3 2.0 202.9 1.8 203.6 1.6 204.3 1.4 205.0 1.2 205.7 1.0 206.4 0.8 207.1 0.6 207.7 0.5 208.4 0.4 209.1 -0.4 209.1 -0.5 208.4 -0.6 207.7 -0.8 207.1 -1.0 206.4 -1.2 205.7 -1.4 205.0 -1.6 204.3 -1.8 203.6 -2.0 202.9 -2.2 202.3 -2.3 201.6 -2.4 200.9 -2.5 200.2 -2.5 199.5 -2.6 198.9 -2.6 198.2 -2.6 197.5 -2.6 196.8 -2.6 196.2 -2.6 195.5 -2.6 194.9 -2.5 194.3 -2.5 193.6 -2.4 193.0 -2.3 192.4 -2.2 191.7 -2.0 191.1 -1.8 190.5 -1.6 189.8 -1.4 189.2 -1.2 188.6 -1.0 187.9 -0.8 187.3 -0.6 186.7 -0.5 186.0 -0.4 185.4Z"/></defs>
<use href="#v54" transform="translate(425.0 0)" fill="#FCEBB8" stroke="#F2AE12" stroke-width="0.75"/>
<use href="#v54" transform="translate(425.0 0) scale(0.55 1)" fill="none" stroke="#F2AE12" stroke-width="0.35" vector-effect="non-scaling-stroke" opacity="0.7"/>
<line x1="425.00" y1="185.40" x2="425.00" y2="209.10" stroke="#F2AE12" stroke-width="0.5" />
<rect x="422.20" y="192.40" width="5.60" height="9.70" fill="#F7CB5A" stroke="#F2AE12" stroke-width="0.6"/>
<line x1="422.20" y1="197.20" x2="427.80" y2="197.20" stroke="#F2AE12" stroke-width="0.8" />
<defs><path id="v55" d="M0.3 146.9 0.3 149.8 0.3 152.6 0.3 155.5 0.3 158.4 0.3 161.3 0.3 164.1 0.3 167.0 0.3 169.9 0.6 172.8 1.3 175.6 2.2 178.5 3.3 181.4 4.4 184.2 5.7 187.1 6.9 190.0 8.0 192.9 8.8 195.7 9.1 198.6 9.1 199.2 9.1 199.9 9.0 200.5 8.9 201.1 8.7 201.8 8.5 202.4 8.1 203.0 7.6 203.7 7.1 204.3 6.5 204.9 5.8 205.6 5.0 206.2 4.3 206.8 3.6 207.5 2.9 208.1 2.2 208.7 1.7 209.4 1.2 210.0 -1.2 210.0 -1.7 209.4 -2.2 208.7 -2.9 208.1 -3.6 207.5 -4.3 206.8 -5.0 206.2 -5.8 205.6 -6.5 204.9 -7.1 204.3 -7.6 203.7 -8.1 203.0 -8.5 202.4 -8.7 201.8 -8.9 201.1 -9.0 200.5 -9.1 199.9 -9.1 199.2 -9.1 198.6 -8.8 195.7 -8.0 192.9 -6.9 190.0 -5.7 187.1 -4.4 184.2 -3.3 181.4 -2.2 178.5 -1.3 175.6 -0.6 172.8 -0.3 169.9 -0.3 167.0 -0.3 164.1 -0.3 161.3 -0.3 158.4 -0.3 155.5 -0.3 152.6 -0.3 149.8 -0.3 146.9Z"/></defs>
<use href="#v55" transform="translate(448.9 0)" fill="#D6E6F4" stroke="#4C96CE" stroke-width="0.75"/>
<use href="#v55" transform="translate(448.9 0) scale(0.55 1)" fill="none" stroke="#4C96CE" stroke-width="0.35" vector-effect="non-scaling-stroke" opacity="0.7"/>
<line x1="448.90" y1="146.90" x2="448.90" y2="210.00" stroke="#4C96CE" stroke-width="0.5" />
<rect x="446.10" y="188.40" width="5.60" height="13.70" fill="#8DBBE0" stroke="#4C96CE" stroke-width="0.6"/>
<line x1="446.10" y1="196.00" x2="451.70" y2="196.00" stroke="#4C96CE" stroke-width="0.8" />
<circle cx="448.9" cy="146.9" r="1.0" fill="#4C96CE"/>
<circle cx="448.9" cy="149.5" r="1.0" fill="#4C96CE"/>
<circle cx="448.9" cy="152.1" r="1.0" fill="#4C96CE"/>
<circle cx="448.9" cy="154.7" r="1.0" fill="#4C96CE"/>
<circle cx="448.9" cy="157.3" r="1.0" fill="#4C96CE"/>
<circle cx="448.9" cy="159.9" r="1.0" fill="#4C96CE"/>
<circle cx="448.9" cy="162.5" r="1.0" fill="#4C96CE"/>
<circle cx="448.9" cy="165.1" r="1.0" fill="#4C96CE"/>
<defs><path id="v56" d="M0.3 146.9 0.3 148.9 0.3 150.9 0.3 152.9 0.3 154.9 0.3 156.9 0.3 158.9 0.6 160.9 1.0 162.9 1.5 164.9 2.1 166.8 2.7 168.8 3.4 170.8 4.0 172.8 4.7 174.8 5.2 176.8 5.6 178.8 5.9 180.8 6.0 182.8 6.0 184.1 6.0 185.3 5.9 186.6 5.9 187.9 5.7 189.1 5.6 190.4 5.3 191.7 5.0 192.9 4.7 194.2 4.3 195.5 3.8 196.7 3.3 198.0 2.8 199.3 2.3 200.5 1.9 201.8 1.5 203.1 1.1 204.3 0.8 205.6 -0.8 205.6 -1.1 204.3 -1.5 203.1 -1.9 201.8 -2.3 200.5 -2.8 199.3 -3.3 198.0 -3.8 196.7 -4.3 195.5 -4.7 194.2 -5.0 192.9 -5.3 191.7 -5.6 190.4 -5.7 189.1 -5.9 187.9 -5.9 186.6 -6.0 185.3 -6.0 184.1 -6.0 182.8 -5.9 180.8 -5.6 178.8 -5.2 176.8 -4.7 174.8 -4.0 172.8 -3.4 170.8 -2.7 168.8 -2.1 166.8 -1.5 164.9 -1.0 162.9 -0.6 160.9 -0.3 158.9 -0.3 156.9 -0.3 154.9 -0.3 152.9 -0.3 150.9 -0.3 148.9 -0.3 146.9Z"/></defs>
<use href="#v56" transform="translate(465.5 0)" fill="#CDEBDF" stroke="#1E9C72" stroke-width="0.75"/>
<use href="#v56" transform="translate(465.5 0) scale(0.55 1)" fill="none" stroke="#1E9C72" stroke-width="0.35" vector-effect="non-scaling-stroke" opacity="0.7"/>
<line x1="465.50" y1="146.90" x2="465.50" y2="205.60" stroke="#1E9C72" stroke-width="0.5" />
<rect x="462.70" y="174.90" width="5.60" height="17.50" fill="#6EC0A2" stroke="#1E9C72" stroke-width="0.6"/>
<line x1="462.70" y1="185.40" x2="468.30" y2="185.40" stroke="#1E9C72" stroke-width="0.8" />
<circle cx="465.5" cy="146.9" r="1.0" fill="#1E9C72"/>
<circle cx="465.5" cy="149.5" r="1.0" fill="#1E9C72"/>
<circle cx="465.5" cy="152.1" r="1.0" fill="#1E9C72"/>
<defs><path id="v57" d="M0.3 150.4 0.3 151.4 0.3 152.4 0.6 153.5 0.9 154.5 1.3 155.5 1.7 156.5 2.2 157.6 2.8 158.6 3.4 159.6 4.0 160.6 4.6 161.6 5.1 162.7 5.6 163.7 6.1 164.7 6.4 165.7 6.6 166.8 6.8 167.8 6.8 168.8 6.8 170.6 6.6 172.3 6.4 174.1 6.1 175.8 5.6 177.6 5.1 179.3 4.6 181.1 4.0 182.8 3.4 184.6 2.8 186.3 2.2 188.1 1.7 189.8 1.3 191.6 0.9 193.3 0.6 195.1 0.3 196.8 0.3 198.6 0.3 200.3 -0.3 200.3 -0.3 198.6 -0.3 196.8 -0.6 195.1 -0.9 193.3 -1.3 191.6 -1.7 189.8 -2.2 188.1 -2.8 186.3 -3.4 184.6 -4.0 182.8 -4.6 181.1 -5.1 179.3 -5.6 177.6 -6.1 175.8 -6.4 174.1 -6.6 172.3 -6.8 170.6 -6.8 168.8 -6.8 167.8 -6.6 166.8 -6.4 165.7 -6.1 164.7 -5.6 163.7 -5.1 162.7 -4.6 161.6 -4.0 160.6 -3.4 159.6 -2.8 158.6 -2.2 157.6 -1.7 156.5 -1.3 155.5 -0.9 154.5 -0.6 153.5 -0.3 152.4 -0.3 151.4 -0.3 150.4Z"/></defs>
<use href="#v57" transform="translate(482.1 0)" fill="#FCEBB8" stroke="#F2AE12" stroke-width="0.75"/>
<use href="#v57" transform="translate(482.1 0) scale(0.55 1)" fill="none" stroke="#F2AE12" stroke-width="0.35" vector-effect="non-scaling-stroke" opacity="0.7"/>
<line x1="482.10" y1="150.40" x2="482.10" y2="200.30" stroke="#F2AE12" stroke-width="0.5" />
<rect x="479.30" y="164.90" width="5.60" height="17.00" fill="#F7CB5A" stroke="#F2AE12" stroke-width="0.6"/>
<line x1="479.30" y1="172.00" x2="484.90" y2="172.00" stroke="#F2AE12" stroke-width="0.8" />
<defs><path id="v58" d="M0.3 173.2 0.3 175.0 0.3 176.9 0.3 178.8 0.3 180.6 0.3 182.4 0.3 184.3 0.3 186.2 0.3 188.0 0.6 189.8 1.3 191.7 2.1 193.6 3.2 195.4 4.3 197.2 5.5 199.1 6.7 200.9 7.7 202.8 8.5 204.7 8.8 206.5 8.8 206.9 8.8 207.4 8.7 207.8 8.6 208.2 8.4 208.7 8.2 209.1 7.8 209.5 7.4 210.0 6.9 210.4 6.2 210.8 5.6 211.3 4.9 211.7 4.1 212.1 3.4 212.6 2.8 213.0 2.2 213.4 1.6 213.9 1.2 214.3 -1.2 214.3 -1.6 213.9 -2.2 213.4 -2.8 213.0 -3.4 212.6 -4.1 212.1 -4.9 211.7 -5.6 211.3 -6.2 210.8 -6.9 210.4 -7.4 210.0 -7.8 209.5 -8.2 209.1 -8.4 208.7 -8.6 208.2 -8.7 207.8 -8.8 207.4 -8.8 206.9 -8.8 206.5 -8.5 204.7 -7.7 202.8 -6.7 200.9 -5.5 199.1 -4.3 197.2 -3.2 195.4 -2.1 193.6 -1.3 191.7 -0.6 189.8 -0.3 188.0 -0.3 186.2 -0.3 184.3 -0.3 182.4 -0.3 180.6 -0.3 178.8 -0.3 176.9 -0.3 175.0 -0.3 173.2Z"/></defs>
<use href="#v58" transform="translate(505.9 0)" fill="#D6E6F4" stroke="#4C96CE" stroke-width="0.75"/>
<use href="#v58" transform="translate(505.9 0) scale(0.55 1)" fill="none" stroke="#4C96CE" stroke-width="0.35" vector-effect="non-scaling-stroke" opacity="0.7"/>
<line x1="505.90" y1="173.20" x2="505.90" y2="214.30" stroke="#4C96CE" stroke-width="0.5" />
<rect x="503.10" y="200.30" width="5.60" height="7.00" fill="#8DBBE0" stroke="#4C96CE" stroke-width="0.6"/>
<line x1="503.10" y1="204.70" x2="508.70" y2="204.70" stroke="#4C96CE" stroke-width="0.8" />
<circle cx="505.9" cy="173.2" r="1.0" fill="#4C96CE"/>
<circle cx="505.9" cy="175.8" r="1.0" fill="#4C96CE"/>
<circle cx="505.9" cy="178.4" r="1.0" fill="#4C96CE"/>
<circle cx="505.9" cy="181.0" r="1.0" fill="#4C96CE"/>
<circle cx="505.9" cy="183.6" r="1.0" fill="#4C96CE"/>
<defs><path id="v59" d="M0.3 173.2 0.3 174.8 0.3 176.4 0.3 178.0 0.3 179.6 0.3 181.2 0.3 182.8 0.5 184.4 0.9 186.0 1.3 187.6 1.8 189.3 2.4 190.9 3.0 192.5 3.6 194.1 4.1 195.7 4.6 197.3 5.0 198.9 5.2 200.5 5.3 202.1 5.3 202.9 5.3 203.6 5.3 204.4 5.2 205.1 5.1 205.9 5.0 206.6 4.8 207.4 4.6 208.1 4.3 208.9 4.0 209.7 3.7 210.4 3.3 211.2 2.9 211.9 2.5 212.7 2.1 213.4 1.7 214.2 1.4 214.9 1.1 215.7 -1.1 215.7 -1.4 214.9 -1.7 214.2 -2.1 213.4 -2.5 212.7 -2.9 211.9 -3.3 211.2 -3.7 210.4 -4.0 209.7 -4.3 208.9 -4.6 208.1 -4.8 207.4 -5.0 206.6 -5.1 205.9 -5.2 205.1 -5.3 204.4 -5.3 203.6 -5.3 202.9 -5.3 202.1 -5.2 200.5 -5.0 198.9 -4.6 197.3 -4.1 195.7 -3.6 194.1 -3.0 192.5 -2.4 190.9 -1.8 189.3 -1.3 187.6 -0.9 186.0 -0.5 184.4 -0.3 182.8 -0.3 181.2 -0.3 179.6 -0.3 178.0 -0.3 176.4 -0.3 174.8 -0.3 173.2Z"/></defs>
<use href="#v59" transform="translate(522.5 0)" fill="#CDEBDF" stroke="#1E9C72" stroke-width="0.75"/>
<use href="#v59" transform="translate(522.5 0) scale(0.55 1)" fill="none" stroke="#1E9C72" stroke-width="0.35" vector-effect="non-scaling-stroke" opacity="0.7"/>
<line x1="522.50" y1="173.20" x2="522.50" y2="215.70" stroke="#1E9C72" stroke-width="0.5" />
<rect x="519.70" y="198.60" width="5.60" height="11.40" fill="#6EC0A2" stroke="#1E9C72" stroke-width="0.6"/>
<line x1="519.70" y1="202.10" x2="525.30" y2="202.10" stroke="#1E9C72" stroke-width="0.8" />
<circle cx="522.5" cy="173.2" r="1.0" fill="#1E9C72"/>
<circle cx="522.5" cy="175.8" r="1.0" fill="#1E9C72"/>
<circle cx="522.5" cy="178.4" r="1.0" fill="#1E9C72"/>
<defs><path id="v60" d="M0.3 174.4 0.3 175.8 0.3 177.3 0.4 178.7 0.6 180.2 0.8 181.6 1.1 183.0 1.4 184.5 1.8 185.9 2.2 187.4 2.6 188.8 2.9 190.2 3.3 191.7 3.6 193.1 3.9 194.5 4.1 196.0 4.3 197.4 4.4 198.9 4.4 200.3 4.4 200.9 4.4 201.6 4.4 202.2 4.3 202.8 4.2 203.5 4.1 204.1 3.9 204.7 3.7 205.4 3.4 206.0 3.1 206.6 2.8 207.3 2.4 207.9 2.1 208.5 1.7 209.2 1.4 209.8 1.1 210.4 0.8 211.1 0.6 211.7 -0.6 211.7 -0.8 211.1 -1.1 210.4 -1.4 209.8 -1.7 209.2 -2.1 208.5 -2.4 207.9 -2.8 207.3 -3.1 206.6 -3.4 206.0 -3.7 205.4 -3.9 204.7 -4.1 204.1 -4.2 203.5 -4.3 202.8 -4.4 202.2 -4.4 201.6 -4.4 200.9 -4.4 200.3 -4.4 198.9 -4.3 197.4 -4.1 196.0 -3.9 194.5 -3.6 193.1 -3.3 191.7 -2.9 190.2 -2.6 188.8 -2.2 187.4 -1.8 185.9 -1.4 184.5 -1.1 183.0 -0.8 181.6 -0.6 180.2 -0.4 178.7 -0.3 177.3 -0.3 175.8 -0.3 174.4Z"/></defs>
<use href="#v60" transform="translate(539.7 0)" fill="#FCEBB8" stroke="#F2AE12" stroke-width="0.75"/>
<use href="#v60" transform="translate(539.7 0) scale(0.55 1)" fill="none" stroke="#F2AE12" stroke-width="0.35" vector-effect="non-scaling-stroke" opacity="0.7"/>
<line x1="539.70" y1="174.40" x2="539.70" y2="211.70" stroke="#F2AE12" stroke-width="0.5" />
<rect x="536.90" y="190.70" width="5.60" height="12.30" fill="#F7CB5A" stroke="#F2AE12" stroke-width="0.6"/>
<line x1="536.90" y1="198.20" x2="542.50" y2="198.20" stroke="#F2AE12" stroke-width="0.8" />
<defs><path id="v61" d="M0.3 181.9 0.3 183.4 0.3 184.8 0.3 186.3 0.3 187.7 0.3 189.2 0.3 190.7 0.3 192.1 0.3 193.6 0.6 195.1 1.3 196.5 2.1 198.0 3.2 199.4 4.3 200.9 5.5 202.4 6.7 203.8 7.7 205.3 8.5 206.7 8.8 208.2 8.8 208.9 8.6 209.6 8.3 210.3 7.8 211.0 7.3 211.8 6.6 212.5 5.9 213.2 5.1 213.9 4.4 214.6 3.6 215.3 2.9 216.0 2.2 216.7 1.7 217.4 1.2 218.2 0.8 218.9 0.5 219.6 0.3 220.3 0.3 221.0 -0.3 221.0 -0.3 220.3 -0.5 219.6 -0.8 218.9 -1.2 218.2 -1.7 217.4 -2.2 216.7 -2.9 216.0 -3.6 215.3 -4.4 214.6 -5.1 213.9 -5.9 213.2 -6.6 212.5 -7.3 211.8 -7.8 211.0 -8.3 210.3 -8.6 209.6 -8.8 208.9 -8.8 208.2 -8.5 206.7 -7.7 205.3 -6.7 203.8 -5.5 202.4 -4.3 200.9 -3.2 199.4 -2.1 198.0 -1.3 196.5 -0.6 195.1 -0.3 193.6 -0.3 192.1 -0.3 190.7 -0.3 189.2 -0.3 187.7 -0.3 186.3 -0.3 184.8 -0.3 183.4 -0.3 181.9Z"/></defs>
<use href="#v61" transform="translate(563.0 0)" fill="#D6E6F4" stroke="#4C96CE" stroke-width="0.75"/>
<use href="#v61" transform="translate(563.0 0) scale(0.55 1)" fill="none" stroke="#4C96CE" stroke-width="0.35" vector-effect="non-scaling-stroke" opacity="0.7"/>
<line x1="563.00" y1="181.90" x2="563.00" y2="221.00" stroke="#4C96CE" stroke-width="0.5" />
<rect x="560.20" y="203.80" width="5.60" height="6.20" fill="#8DBBE0" stroke="#4C96CE" stroke-width="0.6"/>
<line x1="560.20" y1="206.50" x2="565.80" y2="206.50" stroke="#4C96CE" stroke-width="0.8" />
<circle cx="563.0" cy="181.9" r="1.0" fill="#4C96CE"/>
<circle cx="563.0" cy="184.5" r="1.0" fill="#4C96CE"/>
<circle cx="563.0" cy="187.1" r="1.0" fill="#4C96CE"/>
<circle cx="563.0" cy="189.7" r="1.0" fill="#4C96CE"/>
<defs><path id="v62" d="M0.3 182.5 0.3 183.5 0.3 184.5 0.3 185.5 0.3 186.5 0.3 187.4 0.3 188.4 0.5 189.4 0.8 190.4 1.2 191.4 1.6 192.4 2.1 193.4 2.6 194.4 3.2 195.4 3.7 196.3 4.1 197.3 4.4 198.3 4.6 199.3 4.7 200.3 4.7 201.3 4.7 202.3 4.7 203.2 4.6 204.2 4.5 205.2 4.4 206.2 4.2 207.1 3.9 208.1 3.7 209.1 3.3 210.1 3.0 211.1 2.6 212.0 2.2 213.0 1.8 214.0 1.5 215.0 1.2 215.9 0.9 216.9 0.6 217.9 -0.6 217.9 -0.9 216.9 -1.2 215.9 -1.5 215.0 -1.8 214.0 -2.2 213.0 -2.6 212.0 -3.0 211.1 -3.3 210.1 -3.7 209.1 -3.9 208.1 -4.2 207.1 -4.4 206.2 -4.5 205.2 -4.6 204.2 -4.7 203.2 -4.7 202.3 -4.7 201.3 -4.7 200.3 -4.6 199.3 -4.4 198.3 -4.1 197.3 -3.7 196.3 -3.2 195.4 -2.6 194.4 -2.1 193.4 -1.6 192.4 -1.2 191.4 -0.8 190.4 -0.5 189.4 -0.3 188.4 -0.3 187.4 -0.3 186.5 -0.3 185.5 -0.3 184.5 -0.3 183.5 -0.3 182.5Z"/></defs>
<use href="#v62" transform="translate(580.0 0)" fill="#CDEBDF" stroke="#1E9C72" stroke-width="0.75"/>
<use href="#v62" transform="translate(580.0 0) scale(0.55 1)" fill="none" stroke="#1E9C72" stroke-width="0.35" vector-effect="non-scaling-stroke" opacity="0.7"/>
<line x1="580.00" y1="182.50" x2="580.00" y2="217.90" stroke="#1E9C72" stroke-width="0.5" />
<rect x="577.20" y="198.20" width="5.60" height="9.10" fill="#6EC0A2" stroke="#1E9C72" stroke-width="0.6"/>
<line x1="577.20" y1="200.70" x2="582.80" y2="200.70" stroke="#1E9C72" stroke-width="0.8" />
<circle cx="580.0" cy="182.5" r="1.0" fill="#1E9C72"/>
<circle cx="580.0" cy="185.1" r="1.0" fill="#1E9C72"/>
<defs><path id="v63" d="M0.3 185.4 0.3 186.2 0.3 187.1 0.3 187.9 0.3 188.8 0.3 189.7 0.3 190.5 0.3 191.3 0.3 192.2 0.5 193.1 1.0 193.9 1.7 194.8 2.5 195.6 3.4 196.4 4.4 197.3 5.3 198.1 6.1 199.0 6.7 199.8 7.0 200.7 7.0 201.4 6.8 202.0 6.6 202.7 6.2 203.3 5.8 204.0 5.3 204.7 4.7 205.3 4.1 206.0 3.5 206.6 2.9 207.3 2.3 208.0 1.8 208.6 1.3 209.3 0.9 210.0 0.6 210.6 0.4 211.3 0.3 211.9 0.3 212.6 -0.3 212.6 -0.3 211.9 -0.4 211.3 -0.6 210.6 -0.9 210.0 -1.3 209.3 -1.8 208.6 -2.3 208.0 -2.9 207.3 -3.5 206.6 -4.1 206.0 -4.7 205.3 -5.3 204.7 -5.8 204.0 -6.2 203.3 -6.6 202.7 -6.8 202.0 -7.0 201.4 -7.0 200.7 -6.7 199.8 -6.1 199.0 -5.3 198.1 -4.4 197.3 -3.4 196.4 -2.5 195.6 -1.7 194.8 -1.0 193.9 -0.5 193.1 -0.3 192.2 -0.3 191.3 -0.3 190.5 -0.3 189.7 -0.3 188.8 -0.3 187.9 -0.3 187.1 -0.3 186.2 -0.3 185.4Z"/></defs>
<use href="#v63" transform="translate(596.6 0)" fill="#FCEBB8" stroke="#F2AE12" stroke-width="0.75"/>
<use href="#v63" transform="translate(596.6 0) scale(0.55 1)" fill="none" stroke="#F2AE12" stroke-width="0.35" vector-effect="non-scaling-stroke" opacity="0.7"/>
<line x1="596.60" y1="185.40" x2="596.60" y2="212.60" stroke="#F2AE12" stroke-width="0.5" />
<rect x="593.80" y="198.20" width="5.60" height="5.30" fill="#F7CB5A" stroke="#F2AE12" stroke-width="0.6"/>
<line x1="593.80" y1="200.70" x2="599.40" y2="200.70" stroke="#F2AE12" stroke-width="0.8" />
<circle cx="596.6" cy="185.4" r="1.0" fill="#F2AE12"/>
<circle cx="596.6" cy="188.0" r="1.0" fill="#F2AE12"/>
<defs><path id="v64" d="M0.3 176.2 0.3 177.8 0.3 179.3 0.3 180.9 0.3 182.5 0.3 184.1 0.3 185.6 0.3 187.2 0.3 188.8 0.6 190.3 1.3 191.9 2.1 193.5 3.1 195.1 4.2 196.6 5.4 198.2 6.6 199.8 7.6 201.4 8.4 202.9 8.7 204.5 8.7 205.0 8.7 205.5 8.6 206.0 8.5 206.5 8.3 207.1 8.1 207.6 7.7 208.1 7.3 208.6 6.8 209.1 6.2 209.6 5.5 210.1 4.8 210.6 4.1 211.1 3.4 211.7 2.7 212.2 2.1 212.7 1.6 213.2 1.2 213.7 -1.2 213.7 -1.6 213.2 -2.1 212.7 -2.7 212.2 -3.4 211.7 -4.1 211.1 -4.8 210.6 -5.5 210.1 -6.2 209.6 -6.8 209.1 -7.3 208.6 -7.7 208.1 -8.1 207.6 -8.3 207.1 -8.5 206.5 -8.6 206.0 -8.7 205.5 -8.7 205.0 -8.7 204.5 -8.4 202.9 -7.6 201.4 -6.6 199.8 -5.4 198.2 -4.2 196.6 -3.1 195.1 -2.1 193.5 -1.3 191.9 -0.6 190.3 -0.3 188.8 -0.3 187.2 -0.3 185.6 -0.3 184.1 -0.3 182.5 -0.3 180.9 -0.3 179.3 -0.3 177.8 -0.3 176.2Z"/></defs>
<use href="#v64" transform="translate(620.2 0)" fill="#D6E6F4" stroke="#4C96CE" stroke-width="0.75"/>
<use href="#v64" transform="translate(620.2 0) scale(0.55 1)" fill="none" stroke="#4C96CE" stroke-width="0.35" vector-effect="non-scaling-stroke" opacity="0.7"/>
<line x1="620.20" y1="176.20" x2="620.20" y2="213.70" stroke="#4C96CE" stroke-width="0.5" />
<rect x="617.40" y="201.00" width="5.60" height="5.50" fill="#8DBBE0" stroke="#4C96CE" stroke-width="0.6"/>
<line x1="617.40" y1="203.80" x2="623.00" y2="203.80" stroke="#4C96CE" stroke-width="0.8" />
<circle cx="620.2" cy="176.2" r="1.0" fill="#4C96CE"/>
<circle cx="620.2" cy="178.8" r="1.0" fill="#4C96CE"/>
<circle cx="620.2" cy="181.4" r="1.0" fill="#4C96CE"/>
<circle cx="620.2" cy="184.0" r="1.0" fill="#4C96CE"/>
<circle cx="620.2" cy="186.6" r="1.0" fill="#4C96CE"/>
<defs><path id="v65" d="M0.3 176.2 0.3 177.4 0.3 178.6 0.3 179.8 0.3 181.0 0.3 182.2 0.3 183.4 0.6 184.6 1.0 185.8 1.4 187.1 2.0 188.3 2.6 189.5 3.3 190.7 3.9 191.9 4.5 193.1 5.0 194.3 5.5 195.5 5.7 196.7 5.8 197.9 5.8 198.7 5.8 199.4 5.8 200.2 5.7 200.9 5.6 201.7 5.5 202.4 5.3 203.2 5.0 203.9 4.7 204.7 4.4 205.5 4.0 206.2 3.6 207.0 3.2 207.7 2.7 208.5 2.3 209.2 1.9 210.0 1.5 210.7 1.2 211.5 -1.2 211.5 -1.5 210.7 -1.9 210.0 -2.3 209.2 -2.7 208.5 -3.2 207.7 -3.6 207.0 -4.0 206.2 -4.4 205.5 -4.7 204.7 -5.0 203.9 -5.3 203.2 -5.5 202.4 -5.6 201.7 -5.7 200.9 -5.8 200.2 -5.8 199.4 -5.8 198.7 -5.8 197.9 -5.7 196.7 -5.5 195.5 -5.0 194.3 -4.5 193.1 -3.9 191.9 -3.3 190.7 -2.6 189.5 -2.0 188.3 -1.4 187.1 -1.0 185.8 -0.6 184.6 -0.3 183.4 -0.3 182.2 -0.3 181.0 -0.3 179.8 -0.3 178.6 -0.3 177.4 -0.3 176.2Z"/></defs>
<use href="#v65" transform="translate(636.8 0)" fill="#CDEBDF" stroke="#1E9C72" stroke-width="0.75"/>
<use href="#v65" transform="translate(636.8 0) scale(0.55 1)" fill="none" stroke="#1E9C72" stroke-width="0.35" vector-effect="non-scaling-stroke" opacity="0.7"/>
<line x1="636.80" y1="176.20" x2="636.80" y2="211.50" stroke="#1E9C72" stroke-width="0.5" />
<rect x="634.00" y="196.00" width="5.60" height="8.50" fill="#6EC0A2" stroke="#1E9C72" stroke-width="0.6"/>
<line x1="634.00" y1="197.00" x2="639.60" y2="197.00" stroke="#1E9C72" stroke-width="0.8" />
<circle cx="636.8" cy="176.2" r="1.0" fill="#1E9C72"/>
<circle cx="636.8" cy="178.8" r="1.0" fill="#1E9C72"/>
<circle cx="636.8" cy="181.4" r="1.0" fill="#1E9C72"/>
<defs><path id="v66" d="M0.5 164.2 0.7 165.8 0.9 167.4 1.2 169.0 1.4 170.7 1.7 172.3 2.0 173.9 2.3 175.5 2.6 177.1 2.9 178.8 3.1 180.4 3.3 182.0 3.4 183.6 3.5 185.2 3.6 186.8 3.7 188.5 3.7 190.1 3.7 191.7 3.7 193.3 3.7 194.9 3.7 196.4 3.7 198.0 3.6 199.6 3.5 201.2 3.4 202.7 3.3 204.3 3.1 205.9 2.9 207.4 2.6 209.0 2.3 210.6 2.0 212.2 1.7 213.7 1.4 215.3 1.2 216.9 0.9 218.5 0.7 220.0 0.5 221.6 -0.5 221.6 -0.7 220.0 -0.9 218.5 -1.2 216.9 -1.4 215.3 -1.7 213.7 -2.0 212.2 -2.3 210.6 -2.6 209.0 -2.9 207.4 -3.1 205.9 -3.3 204.3 -3.4 202.7 -3.5 201.2 -3.6 199.6 -3.7 198.0 -3.7 196.4 -3.7 194.9 -3.7 193.3 -3.7 191.7 -3.7 190.1 -3.7 188.5 -3.6 186.8 -3.5 185.2 -3.4 183.6 -3.3 182.0 -3.1 180.4 -2.9 178.8 -2.6 177.1 -2.3 175.5 -2.0 173.9 -1.7 172.3 -1.4 170.7 -1.2 169.0 -0.9 167.4 -0.7 165.8 -0.5 164.2Z"/></defs>
<use href="#v66" transform="translate(653.7 0)" fill="#FCEBB8" stroke="#F2AE12" stroke-width="0.75"/>
<use href="#v66" transform="translate(653.7 0) scale(0.55 1)" fill="none" stroke="#F2AE12" stroke-width="0.35" vector-effect="non-scaling-stroke" opacity="0.7"/>
<line x1="653.70" y1="164.20" x2="653.70" y2="221.60" stroke="#F2AE12" stroke-width="0.5" />
<rect x="650.90" y="188.70" width="5.60" height="10.50" fill="#F7CB5A" stroke="#F2AE12" stroke-width="0.6"/>
<line x1="650.90" y1="194.00" x2="656.50" y2="194.00" stroke="#F2AE12" stroke-width="0.8" />
<path d="M49.00,29.80 L49.00,27.30 L82.30,27.30 L82.30,29.80" fill="none" stroke="#444" stroke-width="0.6"/>
<text x="65.65" y="32.60" font-size="5.8" text-anchor="middle" fill="#444" stroke="#444" stroke-width="0.12" letter-spacing="0.3">***</text>
<path d="M106.00,43.20 L106.00,40.70 L139.80,40.70 L139.80,43.20" fill="none" stroke="#444" stroke-width="0.6"/>
<text x="122.90" y="46.00" font-size="5.8" text-anchor="middle" fill="#444" stroke="#444" stroke-width="0.12" letter-spacing="0.3">*</text>
<path d="M163.00,50.50 L163.00,48.00 L196.70,48.00 L196.70,50.50" fill="none" stroke="#444" stroke-width="0.6"/>
<text x="179.85" y="53.30" font-size="5.8" text-anchor="middle" fill="#444" stroke="#444" stroke-width="0.12" letter-spacing="0.3">***</text>
<path d="M163.00,55.90 L163.00,53.40 L180.00,53.40 L180.00,55.90" fill="none" stroke="#a0a0a0" stroke-width="0.6"/>
<text x="171.50" y="58.70" font-size="5.8" text-anchor="middle" fill="#a0a0a0" stroke="#a0a0a0" stroke-width="0.12" letter-spacing="0.3">*</text>
<path d="M220.00,37.20 L220.00,34.70 L253.50,34.70 L253.50,37.20" fill="none" stroke="#444" stroke-width="0.6"/>
<text x="236.75" y="40.00" font-size="5.8" text-anchor="middle" fill="#444" stroke="#444" stroke-width="0.12" letter-spacing="0.3">*</text>
<path d="M277.40,29.80 L277.40,27.30 L310.60,27.30 L310.60,29.80" fill="none" stroke="#444" stroke-width="0.6"/>
<text x="294.00" y="32.60" font-size="5.8" text-anchor="middle" fill="#444" stroke="#444" stroke-width="0.12" letter-spacing="0.3">***</text>
<path d="M277.40,37.20 L277.40,34.70 L294.00,34.70 L294.00,37.20" fill="none" stroke="#a0a0a0" stroke-width="0.6"/>
<text x="285.70" y="40.00" font-size="5.8" text-anchor="middle" fill="#a0a0a0" stroke="#a0a0a0" stroke-width="0.12" letter-spacing="0.3">***</text>
<path d="M391.60,70.70 L391.60,68.20 L425.20,68.20 L425.20,70.70" fill="none" stroke="#444" stroke-width="0.6"/>
<text x="408.40" y="73.50" font-size="5.8" text-anchor="middle" fill="#444" stroke="#444" stroke-width="0.12" letter-spacing="0.3">***</text>
<path d="M391.60,73.30 L391.60,70.80 L408.60,70.80 L408.60,73.30" fill="none" stroke="#a0a0a0" stroke-width="0.6"/>
<text x="400.10" y="76.10" font-size="5.8" text-anchor="middle" fill="#a0a0a0" stroke="#a0a0a0" stroke-width="0.12" letter-spacing="0.3">***</text>
<path d="M448.70,21.30 L448.70,18.80 L482.30,18.80 L482.30,21.30" fill="none" stroke="#444" stroke-width="0.6"/>
<text x="465.50" y="24.10" font-size="5.8" text-anchor="middle" fill="#444" stroke="#444" stroke-width="0.12" letter-spacing="0.3">***</text>
<path d="M448.70,30.00 L448.70,27.50 L465.70,27.50 L465.70,30.00" fill="none" stroke="#a0a0a0" stroke-width="0.6"/>
<text x="457.20" y="32.80" font-size="5.8" text-anchor="middle" fill="#a0a0a0" stroke="#a0a0a0" stroke-width="0.12" letter-spacing="0.3">***</text>
<path d="M506.00,51.90 L506.00,49.40 L539.60,49.40 L539.60,51.90" fill="none" stroke="#444" stroke-width="0.6"/>
<text x="522.80" y="54.70" font-size="5.8" text-anchor="middle" fill="#444" stroke="#444" stroke-width="0.12" letter-spacing="0.3">*</text>
<path d="M562.80,64.20 L562.80,61.70 L596.40,61.70 L596.40,64.20" fill="none" stroke="#444" stroke-width="0.6"/>
<text x="579.60" y="67.00" font-size="5.8" text-anchor="middle" fill="#444" stroke="#444" stroke-width="0.12" letter-spacing="0.3">*</text>
<path d="M620.10,41.40 L620.10,38.90 L653.70,38.90 L653.70,41.40" fill="none" stroke="#444" stroke-width="0.6"/>
<text x="636.90" y="44.20" font-size="5.8" text-anchor="middle" fill="#444" stroke="#444" stroke-width="0.12" letter-spacing="0.3">***</text>
<path d="M620.10,48.40 L620.10,45.90 L637.10,45.90 L637.10,48.40" fill="none" stroke="#a0a0a0" stroke-width="0.6"/>
<text x="628.60" y="51.20" font-size="5.8" text-anchor="middle" fill="#a0a0a0" stroke="#a0a0a0" stroke-width="0.12" letter-spacing="0.3">***</text>
<path d="M48.70,159.10 L48.70,156.60 L82.00,156.60 L82.00,159.10" fill="none" stroke="#444" stroke-width="0.6"/>
<text x="65.35" y="161.90" font-size="5.8" text-anchor="middle" fill="#444" stroke="#444" stroke-width="0.12" letter-spacing="0.3">***</text>
<path d="M48.70,164.90 L48.70,162.40 L65.70,162.40 L65.70,164.90" fill="none" stroke="#a0a0a0" stroke-width="0.6"/>
<text x="57.20" y="167.70" font-size="5.8" text-anchor="middle" fill="#a0a0a0" stroke="#a0a0a0" stroke-width="0.12" letter-spacing="0.3">*</text>
<path d="M106.00,159.10 L106.00,156.60 L139.60,156.60 L139.60,159.10" fill="none" stroke="#444" stroke-width="0.6"/>
<text x="122.80" y="161.90" font-size="5.8" text-anchor="middle" fill="#444" stroke="#444" stroke-width="0.12" letter-spacing="0.3">***</text>
<path d="M163.10,176.70 L163.10,174.20 L196.80,174.20 L196.80,176.70" fill="none" stroke="#444" stroke-width="0.6"/>
<text x="179.95" y="179.50" font-size="5.8" text-anchor="middle" fill="#444" stroke="#444" stroke-width="0.12" letter-spacing="0.3">***</text>
<path d="M163.10,182.50 L163.10,180.00 L180.10,180.00 L180.10,182.50" fill="none" stroke="#a0a0a0" stroke-width="0.6"/>
<text x="171.60" y="185.30" font-size="5.8" text-anchor="middle" fill="#a0a0a0" stroke="#a0a0a0" stroke-width="0.12" letter-spacing="0.3">***</text>
<path d="M220.40,152.70 L220.40,150.20 L253.90,150.20 L253.90,152.70" fill="none" stroke="#444" stroke-width="0.6"/>
<text x="237.15" y="155.50" font-size="5.8" text-anchor="middle" fill="#444" stroke="#444" stroke-width="0.12" letter-spacing="0.3">***</text>
<path d="M220.40,159.10 L220.40,156.60 L237.10,156.60 L237.10,159.10" fill="none" stroke="#a0a0a0" stroke-width="0.6"/>
<text x="228.75" y="161.90" font-size="5.8" text-anchor="middle" fill="#a0a0a0" stroke="#a0a0a0" stroke-width="0.12" letter-spacing="0.3">***</text>
<path d="M277.30,148.30 L277.30,145.80 L310.90,145.80 L310.90,148.30" fill="none" stroke="#444" stroke-width="0.6"/>
<text x="294.10" y="151.10" font-size="5.8" text-anchor="middle" fill="#444" stroke="#444" stroke-width="0.12" letter-spacing="0.3">***</text>
<path d="M277.30,154.40 L277.30,151.90 L294.30,151.90 L294.30,154.40" fill="none" stroke="#a0a0a0" stroke-width="0.6"/>
<text x="285.80" y="157.20" font-size="5.8" text-anchor="middle" fill="#a0a0a0" stroke="#a0a0a0" stroke-width="0.12" letter-spacing="0.3">***</text>
<path d="M334.60,174.00 L334.60,171.50 L368.00,171.50 L368.00,174.00" fill="none" stroke="#444" stroke-width="0.6"/>
<text x="351.30" y="176.80" font-size="5.8" text-anchor="middle" fill="#444" stroke="#444" stroke-width="0.12" letter-spacing="0.3">***</text>
<path d="M334.60,178.40 L334.60,175.90 L351.20,175.90 L351.20,178.40" fill="none" stroke="#a0a0a0" stroke-width="0.6"/>
<text x="342.90" y="181.20" font-size="5.8" text-anchor="middle" fill="#a0a0a0" stroke="#a0a0a0" stroke-width="0.12" letter-spacing="0.3">*</text>
<path d="M391.70,182.20 L391.70,179.70 L425.00,179.70 L425.00,182.20" fill="none" stroke="#444" stroke-width="0.6"/>
<text x="408.35" y="185.00" font-size="5.8" text-anchor="middle" fill="#444" stroke="#444" stroke-width="0.12" letter-spacing="0.3">***</text>
<path d="M391.70,185.00 L391.70,182.50 L408.40,182.50 L408.40,185.00" fill="none" stroke="#a0a0a0" stroke-width="0.6"/>
<text x="400.05" y="187.80" font-size="5.8" text-anchor="middle" fill="#a0a0a0" stroke="#a0a0a0" stroke-width="0.12" letter-spacing="0.3">***</text>
<path d="M448.90,135.40 L448.90,132.90 L482.10,132.90 L482.10,135.40" fill="none" stroke="#444" stroke-width="0.6"/>
<text x="465.50" y="138.20" font-size="5.8" text-anchor="middle" fill="#444" stroke="#444" stroke-width="0.12" letter-spacing="0.3">***</text>
<path d="M448.90,143.60 L448.90,141.10 L465.50,141.10 L465.50,143.60" fill="none" stroke="#a0a0a0" stroke-width="0.6"/>
<text x="457.20" y="146.40" font-size="5.8" text-anchor="middle" fill="#a0a0a0" stroke="#a0a0a0" stroke-width="0.12" letter-spacing="0.3">***</text>
<path d="M505.90,167.80 L505.90,165.30 L539.70,165.30 L539.70,167.80" fill="none" stroke="#444" stroke-width="0.6"/>
<text x="522.80" y="170.60" font-size="5.8" text-anchor="middle" fill="#444" stroke="#444" stroke-width="0.12" letter-spacing="0.3">***</text>
<path d="M563.00,178.80 L563.00,176.30 L596.60,176.30 L596.60,178.80" fill="none" stroke="#444" stroke-width="0.6"/>
<text x="579.80" y="181.60" font-size="5.8" text-anchor="middle" fill="#444" stroke="#444" stroke-width="0.12" letter-spacing="0.3">***</text>
<path d="M563.00,184.40 L563.00,181.90 L580.00,181.90 L580.00,184.40" fill="none" stroke="#a0a0a0" stroke-width="0.6"/>
<text x="571.50" y="187.20" font-size="5.8" text-anchor="middle" fill="#a0a0a0" stroke="#a0a0a0" stroke-width="0.12" letter-spacing="0.3">**</text>
<path d="M620.20,156.70 L620.20,154.20 L653.70,154.20 L653.70,156.70" fill="none" stroke="#444" stroke-width="0.6"/>
<text x="636.95" y="159.50" font-size="5.8" text-anchor="middle" fill="#444" stroke="#444" stroke-width="0.12" letter-spacing="0.3">***</text>
<path d="M620.20,163.00 L620.20,160.50 L636.80,160.50 L636.80,163.00" fill="none" stroke="#a0a0a0" stroke-width="0.6"/>
<text x="628.50" y="165.80" font-size="5.8" text-anchor="middle" fill="#a0a0a0" stroke="#a0a0a0" stroke-width="0.12" letter-spacing="0.3">***</text>
<text x="265.00" y="248.80" font-size="8.0" text-anchor="start" fill="#111" stroke="#111" stroke-width="0.12" >Gene Set</text>
<rect x="306.00" y="240.00" width="12.8" height="12" rx="1" fill="#8DBBE0" stroke="#4C96CE" stroke-width="0.9"/>
<line x1="307.20" y1="241.80" x2="311.80" y2="241.80" stroke="#fff" stroke-width="0.9" opacity="0.75"/>
<line x1="313.00" y1="241.80" x2="317.60" y2="241.80" stroke="#fff" stroke-width="0.9" opacity="0.75"/>
<line x1="307.20" y1="250.10" x2="311.80" y2="250.10" stroke="#fff" stroke-width="0.9" opacity="0.75"/>
<line x1="313.00" y1="250.10" x2="317.60" y2="250.10" stroke="#fff" stroke-width="0.9" opacity="0.75"/>
<line x1="308.00" y1="244.60" x2="316.80" y2="244.60" stroke="#fff" stroke-width="0.7" opacity="0.55"/>
<line x1="308.00" y1="247.30" x2="316.80" y2="247.30" stroke="#fff" stroke-width="0.7" opacity="0.55"/>
<text x="322.80" y="248.80" font-size="7.4" text-anchor="start" fill="#111" stroke="#111" stroke-width="0.12" >All Genes</text>
<rect x="358.30" y="240.00" width="12.8" height="12" rx="1" fill="#6EC0A2" stroke="#1E9C72" stroke-width="0.9"/>
<line x1="359.50" y1="241.80" x2="364.10" y2="241.80" stroke="#fff" stroke-width="0.9" opacity="0.75"/>
<line x1="365.30" y1="241.80" x2="369.90" y2="241.80" stroke="#fff" stroke-width="0.9" opacity="0.75"/>
<line x1="359.50" y1="250.10" x2="364.10" y2="250.10" stroke="#fff" stroke-width="0.9" opacity="0.75"/>
<line x1="365.30" y1="250.10" x2="369.90" y2="250.10" stroke="#fff" stroke-width="0.9" opacity="0.75"/>
<line x1="360.30" y1="244.60" x2="369.10" y2="244.60" stroke="#fff" stroke-width="0.7" opacity="0.55"/>
<line x1="360.30" y1="247.30" x2="369.10" y2="247.30" stroke="#fff" stroke-width="0.7" opacity="0.55"/>
<text x="375.00" y="248.80" font-size="7.4" text-anchor="start" fill="#111" stroke="#111" stroke-width="0.12" >HVGs</text>
<rect x="397.70" y="240.00" width="12.8" height="12" rx="1" fill="#F7CB5A" stroke="#F2AE12" stroke-width="0.9"/>
<line x1="398.90" y1="241.80" x2="403.50" y2="241.80" stroke="#fff" stroke-width="0.9" opacity="0.75"/>
<line x1="404.70" y1="241.80" x2="409.30" y2="241.80" stroke="#fff" stroke-width="0.9" opacity="0.75"/>
<line x1="398.90" y1="250.10" x2="403.50" y2="250.10" stroke="#fff" stroke-width="0.9" opacity="0.75"/>
<line x1="404.70" y1="250.10" x2="409.30" y2="250.10" stroke="#fff" stroke-width="0.9" opacity="0.75"/>
<line x1="399.70" y1="244.60" x2="408.50" y2="244.60" stroke="#fff" stroke-width="0.7" opacity="0.55"/>
<line x1="399.70" y1="247.30" x2="408.50" y2="247.30" stroke="#fff" stroke-width="0.7" opacity="0.55"/>
<text x="414.00" y="248.80" font-size="7.4" text-anchor="start" fill="#111" stroke="#111" stroke-width="0.12" >SVGs</text>
<text x="27.50" y="274.00" font-size="14" text-anchor="start" fill="#000" stroke="#000" stroke-width="0.25" >b</text>
<text x="353.00" y="276.00" font-size="14" text-anchor="start" fill="#000" stroke="#000" stroke-width="0.25" >c</text>
<clipPath id="cp73"><rect x="73.6" y="270.4" width="241.50000000000003" height="140.40000000000003"/></clipPath>
<g clip-path="url(#cp73)">
<rect x="73.60" y="276.05" width="116.20" height="2.60" fill="#C994C6" />
<rect x="73.60" y="277.86" width="151.40" height="2.60" fill="#D9B1A8" />
<rect x="73.60" y="279.67" width="143.90" height="2.60" fill="#A6DACB" />
<rect x="73.60" y="281.48" width="134.40" height="2.60" fill="#DEC3F4" />
<rect x="73.60" y="283.29" width="176.90" height="2.60" fill="#F5CA6C" />
<rect x="73.60" y="285.10" width="131.40" height="2.60" fill="#F8BF8C" />
<rect x="73.60" y="286.91" width="147.40" height="2.60" fill="#D2CFE8" />
<rect x="73.60" y="288.72" width="256.40" height="2.60" fill="#F8CADB" />
<rect x="73.60" y="290.53" width="96.40" height="2.60" fill="#C2DE98" />
<rect x="73.60" y="292.34" width="194.40" height="2.60" fill="#F2928A" />
<rect x="73.60" y="294.15" width="207.40" height="2.60" fill="#A2C8E4" />
<rect x="73.60" y="303.05" width="102.90" height="2.60" fill="#C994C6" />
<rect x="73.60" y="304.86" width="147.70" height="2.60" fill="#D9B1A8" />
<rect x="73.60" y="306.67" width="186.80" height="2.60" fill="#A6DACB" />
<rect x="73.60" y="308.48" width="140.10" height="2.60" fill="#DEC3F4" />
<rect x="73.60" y="310.29" width="155.30" height="2.60" fill="#F5CA6C" />
<rect x="73.60" y="312.10" width="108.60" height="2.60" fill="#F8BF8C" />
<rect x="73.60" y="313.91" width="142.00" height="2.60" fill="#D2CFE8" />
<rect x="73.60" y="315.72" width="231.40" height="2.60" fill="#F8CADB" />
<rect x="73.60" y="317.53" width="88.90" height="2.60" fill="#C2DE98" />
<rect x="73.60" y="319.34" width="162.90" height="2.60" fill="#F2928A" />
<rect x="73.60" y="321.15" width="204.60" height="2.60" fill="#A2C8E4" />
<rect x="73.60" y="330.25" width="107.80" height="2.60" fill="#C994C6" />
<rect x="73.60" y="332.06" width="138.20" height="2.60" fill="#D9B1A8" />
<rect x="73.60" y="333.87" width="158.40" height="2.60" fill="#A6DACB" />
<rect x="73.60" y="335.68" width="108.40" height="2.60" fill="#DEC3F4" />
<rect x="73.60" y="337.49" width="144.40" height="2.60" fill="#F5CA6C" />
<rect x="73.60" y="339.30" width="108.40" height="2.60" fill="#F8BF8C" />
<rect x="73.60" y="341.11" width="77.40" height="2.60" fill="#D2CFE8" />
<rect x="73.60" y="342.92" width="212.20" height="2.60" fill="#F8CADB" />
<rect x="73.60" y="344.73" width="65.00" height="2.60" fill="#C2DE98" />
<rect x="73.60" y="346.54" width="122.30" height="2.60" fill="#F2928A" />
<rect x="73.60" y="348.35" width="170.10" height="2.60" fill="#A2C8E4" />
<rect x="73.60" y="357.45" width="113.40" height="2.60" fill="#C994C6" />
<rect x="73.60" y="359.26" width="123.00" height="2.60" fill="#D9B1A8" />
<rect x="73.60" y="361.07" width="134.40" height="2.60" fill="#A6DACB" />
<rect x="73.60" y="362.88" width="78.40" height="2.60" fill="#DEC3F4" />
<rect x="73.60" y="364.69" width="143.90" height="2.60" fill="#F5CA6C" />
<rect x="73.60" y="366.50" width="131.40" height="2.60" fill="#F8BF8C" />
<rect x="73.60" y="368.31" width="96.40" height="2.60" fill="#D2CFE8" />
<rect x="73.60" y="370.12" width="165.40" height="2.60" fill="#F8CADB" />
<rect x="73.60" y="371.93" width="65.40" height="2.60" fill="#C2DE98" />
<rect x="73.60" y="373.74" width="114.40" height="2.60" fill="#F2928A" />
<rect x="73.60" y="375.55" width="154.10" height="2.60" fill="#A2C8E4" />
<rect x="73.60" y="384.65" width="83.20" height="2.60" fill="#C994C6" />
<rect x="73.60" y="386.46" width="124.90" height="2.60" fill="#D9B1A8" />
<rect x="73.60" y="388.27" width="137.10" height="2.60" fill="#A6DACB" />
<rect x="73.60" y="390.08" width="92.40" height="2.60" fill="#DEC3F4" />
<rect x="73.60" y="391.89" width="142.00" height="2.60" fill="#F5CA6C" />
<rect x="73.60" y="393.70" width="105.90" height="2.60" fill="#F8BF8C" />
<rect x="73.60" y="395.51" width="116.20" height="2.60" fill="#D2CFE8" />
<rect x="73.60" y="397.32" width="183.40" height="2.60" fill="#F8CADB" />
<rect x="73.60" y="399.13" width="68.00" height="2.60" fill="#C2DE98" />
<rect x="73.60" y="400.94" width="101.40" height="2.60" fill="#F2928A" />
<rect x="73.60" y="402.75" width="156.40" height="2.60" fill="#A2C8E4" />
</g>
<rect x="73.6" y="270.4" width="241.0" height="140.4" fill="none" stroke="#606060" stroke-width="0.9"/>
<text x="65.60" y="288.85" font-size="6.8" text-anchor="end" fill="#1a1a1a" stroke="#1a1a1a" stroke-width="0.12" >GNAS</text>
<line x1="71.10" y1="286.40" x2="73.60" y2="286.40" stroke="#444" stroke-width="0.5" />
<text x="312.30" y="289.20" font-size="7.0" text-anchor="end" fill="#8c8c8c" stroke="#8c8c8c" stroke-width="0.12" >0.31</text>
<text x="65.60" y="315.85" font-size="6.8" text-anchor="end" fill="#1a1a1a" stroke="#1a1a1a" stroke-width="0.12" >FASN</text>
<line x1="71.10" y1="313.40" x2="73.60" y2="313.40" stroke="#444" stroke-width="0.5" />
<text x="312.30" y="316.20" font-size="7.0" text-anchor="end" fill="#8c8c8c" stroke="#8c8c8c" stroke-width="0.12" >0.3</text>
<text x="65.60" y="343.05" font-size="6.8" text-anchor="end" fill="#1a1a1a" stroke="#1a1a1a" stroke-width="0.12" >SCD</text>
<line x1="71.10" y1="340.60" x2="73.60" y2="340.60" stroke="#444" stroke-width="0.5" />
<text x="312.30" y="343.40" font-size="7.0" text-anchor="end" fill="#8c8c8c" stroke="#8c8c8c" stroke-width="0.12" >0.25</text>
<text x="65.60" y="370.25" font-size="6.8" text-anchor="end" fill="#1a1a1a" stroke="#1a1a1a" stroke-width="0.12" >MYL12B</text>
<line x1="71.10" y1="367.80" x2="73.60" y2="367.80" stroke="#444" stroke-width="0.5" />
<text x="312.30" y="370.60" font-size="7.0" text-anchor="end" fill="#8c8c8c" stroke="#8c8c8c" stroke-width="0.12" >0.24</text>
<text x="65.60" y="397.45" font-size="6.8" text-anchor="end" fill="#1a1a1a" stroke="#1a1a1a" stroke-width="0.12" >CLDN4</text>
<line x1="71.10" y1="395.00" x2="73.60" y2="395.00" stroke="#444" stroke-width="0.5" />
<text x="312.30" y="397.80" font-size="7.0" text-anchor="end" fill="#8c8c8c" stroke="#8c8c8c" stroke-width="0.12" >0.24</text>
<line x1="77.30" y1="410.80" x2="77.30" y2="412.80" stroke="#444" stroke-width="0.5" />
<text x="77.30" y="418.00" font-size="5.6" text-anchor="middle" fill="#111" stroke="#111" stroke-width="0.12" >0.0</text>
<line x1="127.50" y1="410.80" x2="127.50" y2="412.80" stroke="#444" stroke-width="0.5" />
<text x="127.50" y="418.00" font-size="5.6" text-anchor="middle" fill="#111" stroke="#111" stroke-width="0.12" >0.1</text>
<line x1="177.70" y1="410.80" x2="177.70" y2="412.80" stroke="#444" stroke-width="0.5" />
<text x="177.70" y="418.00" font-size="5.6" text-anchor="middle" fill="#111" stroke="#111" stroke-width="0.12" >0.2</text>
<line x1="227.90" y1="410.80" x2="227.90" y2="412.80" stroke="#444" stroke-width="0.5" />
<text x="227.90" y="418.00" font-size="5.6" text-anchor="middle" fill="#111" stroke="#111" stroke-width="0.12" >0.3</text>
<line x1="278.10" y1="410.80" x2="278.10" y2="412.80" stroke="#444" stroke-width="0.5" />
<text x="278.10" y="418.00" font-size="5.6" text-anchor="middle" fill="#111" stroke="#111" stroke-width="0.12" >0.4</text>
<text x="193.70" y="267.10" font-size="8.3" text-anchor="middle" fill="#111" stroke="#111" stroke-width="0.12" >HER2+ ST</text>
<text x="193.70" y="426.80" font-size="7.1" text-anchor="middle" fill="#111" stroke="#111" stroke-width="0.12" >Mean PCC</text>
<clipPath id="cp382"><rect x="382.2" y="270.4" width="238.90000000000003" height="139.90000000000003"/></clipPath>
<g clip-path="url(#cp382)">
<rect x="382.20" y="275.90" width="105.40" height="2.60" fill="#C994C6" />
<rect x="382.20" y="277.72" width="95.80" height="2.60" fill="#D9B1A8" />
<rect x="382.20" y="279.54" width="57.30" height="2.60" fill="#A6DACB" />
<rect x="382.20" y="281.36" width="144.20" height="2.60" fill="#DEC3F4" />
<rect x="382.20" y="283.18" width="53.50" height="2.60" fill="#F5CA6C" />
<rect x="382.20" y="285.00" width="119.80" height="2.60" fill="#F8BF8C" />
<rect x="382.20" y="286.82" width="53.50" height="2.60" fill="#D2CFE8" />
<rect x="382.20" y="288.64" width="257.80" height="2.60" fill="#F8CADB" />
<rect x="382.20" y="290.46" width="220.40" height="2.60" fill="#C2DE98" />
<rect x="382.20" y="292.28" width="38.30" height="2.60" fill="#F2928A" />
<rect x="382.20" y="294.10" width="183.20" height="2.60" fill="#A2C8E4" />
<rect x="382.20" y="302.90" width="103.50" height="2.60" fill="#C994C6" />
<rect x="382.20" y="304.72" width="99.80" height="2.60" fill="#D9B1A8" />
<rect x="382.20" y="306.54" width="70.50" height="2.60" fill="#A6DACB" />
<rect x="382.20" y="308.36" width="177.60" height="2.60" fill="#DEC3F4" />
<rect x="382.20" y="310.18" width="70.50" height="2.60" fill="#F5CA6C" />
<rect x="382.20" y="312.00" width="109.80" height="2.60" fill="#F8BF8C" />
<rect x="382.20" y="313.82" width="31.40" height="2.60" fill="#D2CFE8" />
<rect x="382.20" y="315.64" width="233.80" height="2.60" fill="#F8CADB" />
<rect x="382.20" y="317.46" width="223.10" height="2.60" fill="#C2DE98" />
<rect x="382.20" y="319.28" width="25.80" height="2.60" fill="#F2928A" />
<rect x="382.20" y="321.10" width="163.50" height="2.60" fill="#A2C8E4" />
<rect x="382.20" y="329.80" width="96.80" height="2.60" fill="#C994C6" />
<rect x="382.20" y="331.62" width="105.40" height="2.60" fill="#D9B1A8" />
<rect x="382.20" y="333.44" width="71.30" height="2.60" fill="#A6DACB" />
<rect x="382.20" y="335.26" width="164.30" height="2.60" fill="#DEC3F4" />
<rect x="382.20" y="337.08" width="102.40" height="2.60" fill="#F5CA6C" />
<rect x="382.20" y="338.90" width="97.80" height="2.60" fill="#F8BF8C" />
<rect x="382.20" y="340.72" width="44.80" height="2.60" fill="#D2CFE8" />
<rect x="382.20" y="342.54" width="224.80" height="2.60" fill="#F8CADB" />
<rect x="382.20" y="344.36" width="189.80" height="2.60" fill="#C2DE98" />
<rect x="382.20" y="346.18" width="17.40" height="2.60" fill="#F2928A" />
<rect x="382.20" y="348.00" width="171.10" height="2.60" fill="#A2C8E4" />
<rect x="382.20" y="356.60" width="104.70" height="2.60" fill="#C994C6" />
<rect x="382.20" y="358.42" width="93.30" height="2.60" fill="#D9B1A8" />
<rect x="382.20" y="360.24" width="60.70" height="2.60" fill="#A6DACB" />
<rect x="382.20" y="362.06" width="165.40" height="2.60" fill="#DEC3F4" />
<rect x="382.20" y="363.88" width="85.80" height="2.60" fill="#F5CA6C" />
<rect x="382.20" y="365.70" width="112.30" height="2.60" fill="#F8BF8C" />
<rect x="382.20" y="367.52" width="43.80" height="2.60" fill="#D2CFE8" />
<rect x="382.20" y="369.34" width="227.80" height="2.60" fill="#F8CADB" />
<rect x="382.20" y="371.16" width="208.80" height="2.60" fill="#C2DE98" />
<rect x="382.20" y="372.98" width="22.80" height="2.60" fill="#F2928A" />
<rect x="382.20" y="374.80" width="154.80" height="2.60" fill="#A2C8E4" />
<rect x="382.20" y="383.60" width="95.80" height="2.60" fill="#C994C6" />
<rect x="382.20" y="385.42" width="87.80" height="2.60" fill="#D9B1A8" />
<rect x="382.20" y="387.24" width="74.80" height="2.60" fill="#A6DACB" />
<rect x="382.20" y="389.06" width="184.40" height="2.60" fill="#DEC3F4" />
<rect x="382.20" y="390.88" width="65.60" height="2.60" fill="#F5CA6C" />
<rect x="382.20" y="392.70" width="100.50" height="2.60" fill="#F8BF8C" />
<rect x="382.20" y="394.52" width="10.60" height="2.60" fill="#D2CFE8" />
<rect x="382.20" y="396.34" width="257.80" height="2.60" fill="#F8CADB" />
<rect x="382.20" y="398.16" width="221.80" height="2.60" fill="#C2DE98" />
<rect x="382.20" y="399.98" width="17.80" height="2.60" fill="#F2928A" />
<rect x="382.20" y="401.80" width="172.60" height="2.60" fill="#A2C8E4" />
</g>
<rect x="382.2" y="270.4" width="238.4" height="139.9" fill="none" stroke="#606060" stroke-width="0.9"/>
<text x="374.20" y="288.32" font-size="5.6" text-anchor="end" fill="#1a1a1a" stroke="#1a1a1a" stroke-width="0.12" >PFN1</text>
<line x1="379.70" y1="286.30" x2="382.20" y2="286.30" stroke="#444" stroke-width="0.5" />
<text x="618.30" y="289.10" font-size="6.3" text-anchor="end" fill="#8c8c8c" stroke="#8c8c8c" stroke-width="0.12" >0.26</text>
<text x="374.20" y="315.32" font-size="5.6" text-anchor="end" fill="#1a1a1a" stroke="#1a1a1a" stroke-width="0.12" >RPL9</text>
<line x1="379.70" y1="313.30" x2="382.20" y2="313.30" stroke="#444" stroke-width="0.5" />
<text x="618.30" y="316.10" font-size="6.3" text-anchor="end" fill="#8c8c8c" stroke="#8c8c8c" stroke-width="0.12" >0.26</text>
<text x="374.20" y="342.22" font-size="5.6" text-anchor="end" fill="#1a1a1a" stroke="#1a1a1a" stroke-width="0.12" >TAGLN2</text>
<line x1="379.70" y1="340.20" x2="382.20" y2="340.20" stroke="#444" stroke-width="0.5" />
<text x="618.30" y="343.00" font-size="6.3" text-anchor="end" fill="#8c8c8c" stroke="#8c8c8c" stroke-width="0.12" >0.26</text>
<text x="374.20" y="369.02" font-size="5.6" text-anchor="end" fill="#1a1a1a" stroke="#1a1a1a" stroke-width="0.12" >RPS17</text>
<line x1="379.70" y1="367.00" x2="382.20" y2="367.00" stroke="#444" stroke-width="0.5" />
<text x="618.30" y="369.80" font-size="6.3" text-anchor="end" fill="#8c8c8c" stroke="#8c8c8c" stroke-width="0.12" >0.26</text>
<text x="374.20" y="396.02" font-size="5.6" text-anchor="end" fill="#1a1a1a" stroke="#1a1a1a" stroke-width="0.12" >RPL8</text>
<line x1="379.70" y1="394.00" x2="382.20" y2="394.00" stroke="#444" stroke-width="0.5" />
<text x="618.30" y="396.80" font-size="6.3" text-anchor="end" fill="#8c8c8c" stroke="#8c8c8c" stroke-width="0.12" >0.26</text>
<line x1="385.90" y1="410.30" x2="385.90" y2="412.30" stroke="#444" stroke-width="0.5" />
<text x="385.90" y="417.50" font-size="5.6" text-anchor="middle" fill="#111" stroke="#111" stroke-width="0.12" >0.0</text>
<line x1="430.65" y1="410.30" x2="430.65" y2="412.30" stroke="#444" stroke-width="0.5" />
<text x="430.65" y="417.50" font-size="5.6" text-anchor="middle" fill="#111" stroke="#111" stroke-width="0.12" >0.1</text>
<line x1="475.40" y1="410.30" x2="475.40" y2="412.30" stroke="#444" stroke-width="0.5" />
<text x="475.40" y="417.50" font-size="5.6" text-anchor="middle" fill="#111" stroke="#111" stroke-width="0.12" >0.2</text>
<line x1="520.15" y1="410.30" x2="520.15" y2="412.30" stroke="#444" stroke-width="0.5" />
<text x="520.15" y="417.50" font-size="5.6" text-anchor="middle" fill="#111" stroke="#111" stroke-width="0.12" >0.3</text>
<line x1="564.90" y1="410.30" x2="564.90" y2="412.30" stroke="#444" stroke-width="0.5" />
<text x="564.90" y="417.50" font-size="5.6" text-anchor="middle" fill="#111" stroke="#111" stroke-width="0.12" >0.4</text>
<line x1="609.65" y1="410.30" x2="609.65" y2="412.30" stroke="#444" stroke-width="0.5" />
<text x="609.65" y="417.50" font-size="5.6" text-anchor="middle" fill="#111" stroke="#111" stroke-width="0.12" >0.5</text>
<text x="503.00" y="267.10" font-size="7.2" text-anchor="middle" fill="#111" stroke="#111" stroke-width="0.12" >cSCC ST</text>
<text x="503.00" y="425.40" font-size="6.6" text-anchor="middle" fill="#111" stroke="#111" stroke-width="0.12" >Mean PCC</text>
<rect x="420.50" y="430.50" width="5.60" height="5.60" fill="#A2C8E4" opacity="0.8"/>
<text x="428.80" y="435.40" font-size="6.2" text-anchor="start" fill="#111" stroke="#111" stroke-width="0.12" >DeepPT</text>
<rect x="420.50" y="439.10" width="5.60" height="5.60" fill="#F2928A" opacity="0.8"/>
<text x="428.80" y="444.00" font-size="6.2" text-anchor="start" fill="#111" stroke="#111" stroke-width="0.12" >DeepSpaCE</text>
<rect x="420.50" y="447.50" width="5.60" height="5.60" fill="#C2DE98" opacity="0.8"/>
<text x="428.80" y="452.40" font-size="6.2" text-anchor="start" fill="#111" stroke="#111" stroke-width="0.12" >EGNv1</text>
<rect x="465.00" y="430.50" width="5.60" height="5.60" fill="#F8CADB" opacity="0.8"/>
<text x="473.30" y="435.40" font-size="6.2" text-anchor="start" fill="#111" stroke="#111" stroke-width="0.12" >EGNv2</text>
<rect x="465.00" y="439.10" width="5.60" height="5.60" fill="#D2CFE8" opacity="0.8"/>
<text x="473.30" y="444.00" font-size="6.2" text-anchor="start" fill="#111" stroke="#111" stroke-width="0.12" >GeneCodeR</text>
<rect x="465.00" y="447.50" width="5.60" height="5.60" fill="#F8BF8C" opacity="0.8"/>
<text x="473.30" y="452.40" font-size="6.2" text-anchor="start" fill="#111" stroke="#111" stroke-width="0.12" >Hist2ST</text>
<rect x="507.60" y="430.50" width="5.60" height="5.60" fill="#F5CA6C" opacity="0.8"/>
<text x="515.90" y="435.40" font-size="6.2" text-anchor="start" fill="#111" stroke="#111" stroke-width="0.12" >HisToGene</text>
<rect x="507.60" y="439.10" width="5.60" height="5.60" fill="#DEC3F4" opacity="0.8"/>
<text x="515.90" y="444.00" font-size="6.2" text-anchor="start" fill="#111" stroke="#111" stroke-width="0.12" >iStar</text>
<rect x="507.60" y="447.50" width="5.60" height="5.60" fill="#A6DACB" opacity="0.8"/>
<text x="515.90" y="452.40" font-size="6.2" text-anchor="start" fill="#111" stroke="#111" stroke-width="0.12" >ST−Net</text>
<rect x="548.70" y="430.50" width="5.60" height="5.60" fill="#D9B1A8" opacity="0.8"/>
<text x="557.00" y="435.40" font-size="6.2" text-anchor="start" fill="#111" stroke="#111" stroke-width="0.12" >TCGN</text>
<rect x="548.70" y="439.10" width="5.60" height="5.60" fill="#C994C6" opacity="0.8"/>
<text x="557.00" y="444.00" font-size="6.2" text-anchor="start" fill="#111" stroke="#111" stroke-width="0.12" >THItoGene</text>
<text x="25.50" y="454.00" font-size="14" text-anchor="start" fill="#000" stroke="#000" stroke-width="0.25" >d</text>
<polyline points="51.2,646.0 60.2,641.6 69.3,638.5 96.4,618.4 114.5,611.8 141.7,604.6 232.1,598.7" fill="none" stroke="#93C96A" stroke-width="0.75"/>
<circle cx="51.2" cy="646.0" r="1.15" fill="#93C96A"/>
<circle cx="60.2" cy="641.6" r="1.15" fill="#93C96A"/>
<circle cx="69.3" cy="638.5" r="1.15" fill="#93C96A"/>
<circle cx="96.4" cy="618.4" r="1.15" fill="#93C96A"/>
<circle cx="114.5" cy="611.8" r="1.15" fill="#93C96A"/>
<circle cx="141.7" cy="604.6" r="1.15" fill="#93C96A"/>
<circle cx="232.1" cy="598.7" r="1.15" fill="#93C96A"/>
<polyline points="51.2,611.3 60.2,600.9 69.3,591.0 96.4,565.7 114.5,559.2 141.7,563.6 232.1,547.0" fill="none" stroke="#ABA4D6" stroke-width="0.75"/>
<circle cx="51.2" cy="611.3" r="1.15" fill="#ABA4D6"/>
<circle cx="60.2" cy="600.9" r="1.15" fill="#ABA4D6"/>
<circle cx="69.3" cy="591.0" r="1.15" fill="#ABA4D6"/>
<circle cx="96.4" cy="565.7" r="1.15" fill="#ABA4D6"/>
<circle cx="114.5" cy="559.2" r="1.15" fill="#ABA4D6"/>
<circle cx="141.7" cy="563.6" r="1.15" fill="#ABA4D6"/>
<circle cx="232.1" cy="547.0" r="1.15" fill="#ABA4D6"/>
<polyline points="51.2,618.6 60.2,602.8 69.3,587.7 96.4,561.4 114.5,556.6 141.7,536.5 232.1,532.4" fill="none" stroke="#C9A0F2" stroke-width="0.75"/>
<circle cx="51.2" cy="618.6" r="1.15" fill="#C9A0F2"/>
<circle cx="60.2" cy="602.8" r="1.15" fill="#C9A0F2"/>
<circle cx="69.3" cy="587.7" r="1.15" fill="#C9A0F2"/>
<circle cx="96.4" cy="561.4" r="1.15" fill="#C9A0F2"/>
<circle cx="114.5" cy="556.6" r="1.15" fill="#C9A0F2"/>
<circle cx="141.7" cy="536.5" r="1.15" fill="#C9A0F2"/>
<circle cx="232.1" cy="532.4" r="1.15" fill="#C9A0F2"/>
<polyline points="51.2,598.1 60.2,581.1 69.3,565.1 96.4,541.6 114.5,542.5 141.7,541.2 232.1,561.9" fill="none" stroke="#9E5FAE" stroke-width="0.75"/>
<circle cx="51.2" cy="598.1" r="1.15" fill="#9E5FAE"/>
<circle cx="60.2" cy="581.1" r="1.15" fill="#9E5FAE"/>
<circle cx="69.3" cy="565.1" r="1.15" fill="#9E5FAE"/>
<circle cx="96.4" cy="541.6" r="1.15" fill="#9E5FAE"/>
<circle cx="114.5" cy="542.5" r="1.15" fill="#9E5FAE"/>
<circle cx="141.7" cy="541.2" r="1.15" fill="#9E5FAE"/>
<circle cx="232.1" cy="561.9" r="1.15" fill="#9E5FAE"/>
<polyline points="51.2,596.0 60.2,580.6 69.3,564.2 96.4,532.4 114.5,530.0 141.7,540.3 232.1,570.1" fill="none" stroke="#EE6B5E" stroke-width="0.75"/>
<circle cx="51.2" cy="596.0" r="1.15" fill="#EE6B5E"/>
<circle cx="60.2" cy="580.6" r="1.15" fill="#EE6B5E"/>
<circle cx="69.3" cy="564.2" r="1.15" fill="#EE6B5E"/>
<circle cx="96.4" cy="532.4" r="1.15" fill="#EE6B5E"/>
<circle cx="114.5" cy="530.0" r="1.15" fill="#EE6B5E"/>
<circle cx="141.7" cy="540.3" r="1.15" fill="#EE6B5E"/>
<circle cx="232.1" cy="570.1" r="1.15" fill="#EE6B5E"/>
<polyline points="51.2,587.0 60.2,570.6 69.3,555.7 96.4,528.4 114.5,525.9 141.7,528.9 232.1,534.6" fill="none" stroke="#F2B82A" stroke-width="0.75"/>
<circle cx="51.2" cy="587.0" r="1.15" fill="#F2B82A"/>
<circle cx="60.2" cy="570.6" r="1.15" fill="#F2B82A"/>
<circle cx="69.3" cy="555.7" r="1.15" fill="#F2B82A"/>
<circle cx="96.4" cy="528.4" r="1.15" fill="#F2B82A"/>
<circle cx="114.5" cy="525.9" r="1.15" fill="#F2B82A"/>
<circle cx="141.7" cy="528.9" r="1.15" fill="#F2B82A"/>
<circle cx="232.1" cy="534.6" r="1.15" fill="#F2B82A"/>
<polyline points="51.2,594.3 60.2,579.3 69.3,563.2 96.4,526.0 114.5,510.0 141.7,509.7 232.1,512.7" fill="none" stroke="#67C2AC" stroke-width="0.75"/>
<circle cx="51.2" cy="594.3" r="1.15" fill="#67C2AC"/>
<circle cx="60.2" cy="579.3" r="1.15" fill="#67C2AC"/>
<circle cx="69.3" cy="563.2" r="1.15" fill="#67C2AC"/>
<circle cx="96.4" cy="526.0" r="1.15" fill="#67C2AC"/>
<circle cx="114.5" cy="510.0" r="1.15" fill="#67C2AC"/>
<circle cx="141.7" cy="509.7" r="1.15" fill="#67C2AC"/>
<circle cx="232.1" cy="512.7" r="1.15" fill="#67C2AC"/>
<polyline points="51.2,592.4 60.2,574.0 69.3,555.7 96.4,521.0 114.5,513.7 141.7,506.7 232.1,519.8" fill="none" stroke="#BA8A80" stroke-width="0.75"/>
<circle cx="51.2" cy="592.4" r="1.15" fill="#BA8A80"/>
<circle cx="60.2" cy="574.0" r="1.15" fill="#BA8A80"/>
<circle cx="69.3" cy="555.7" r="1.15" fill="#BA8A80"/>
<circle cx="96.4" cy="521.0" r="1.15" fill="#BA8A80"/>
<circle cx="114.5" cy="513.7" r="1.15" fill="#BA8A80"/>
<circle cx="141.7" cy="506.7" r="1.15" fill="#BA8A80"/>
<circle cx="232.1" cy="519.8" r="1.15" fill="#BA8A80"/>
<polyline points="51.2,573.6 60.2,550.0 69.3,529.8 96.4,487.7 114.5,487.1 141.7,487.9 232.1,512.0" fill="none" stroke="#F59B4C" stroke-width="0.75"/>
<circle cx="51.2" cy="573.6" r="1.15" fill="#F59B4C"/>
<circle cx="60.2" cy="550.0" r="1.15" fill="#F59B4C"/>
<circle cx="69.3" cy="529.8" r="1.15" fill="#F59B4C"/>
<circle cx="96.4" cy="487.7" r="1.15" fill="#F59B4C"/>
<circle cx="114.5" cy="487.1" r="1.15" fill="#F59B4C"/>
<circle cx="141.7" cy="487.9" r="1.15" fill="#F59B4C"/>
<circle cx="232.1" cy="512.0" r="1.15" fill="#F59B4C"/>
<polyline points="51.2,569.5 60.2,550.0 69.3,530.3 96.4,494.3 114.5,487.1 141.7,479.9 232.1,482.2" fill="none" stroke="#F6B8D0" stroke-width="0.75"/>
<circle cx="51.2" cy="569.5" r="1.15" fill="#F6B8D0"/>
<circle cx="60.2" cy="550.0" r="1.15" fill="#F6B8D0"/>
<circle cx="69.3" cy="530.3" r="1.15" fill="#F6B8D0"/>
<circle cx="96.4" cy="494.3" r="1.15" fill="#F6B8D0"/>
<circle cx="114.5" cy="487.1" r="1.15" fill="#F6B8D0"/>
<circle cx="141.7" cy="479.9" r="1.15" fill="#F6B8D0"/>
<circle cx="232.1" cy="482.2" r="1.15" fill="#F6B8D0"/>
<polyline points="51.2,612.9 60.2,598.1 69.3,585.3 96.4,529.7 114.5,510.0 141.7,483.9 232.1,475.2" fill="none" stroke="#6FAEDB" stroke-width="0.75"/>
<circle cx="51.2" cy="612.9" r="1.15" fill="#6FAEDB"/>
<circle cx="60.2" cy="598.1" r="1.15" fill="#6FAEDB"/>
<circle cx="69.3" cy="585.3" r="1.15" fill="#6FAEDB"/>
<circle cx="96.4" cy="529.7" r="1.15" fill="#6FAEDB"/>
<circle cx="114.5" cy="510.0" r="1.15" fill="#6FAEDB"/>
<circle cx="141.7" cy="483.9" r="1.15" fill="#6FAEDB"/>
<circle cx="232.1" cy="475.2" r="1.15" fill="#6FAEDB"/>
<rect x="42.3" y="466.8" width="199" height="187.9" fill="none" stroke="#6a6a6a" stroke-width="1.0"/>
<line x1="40.30" y1="479.40" x2="42.30" y2="479.40" stroke="#444" stroke-width="0.5" />
<text x="39.20" y="481.30" font-size="5.3" text-anchor="end" fill="#1a1a1a" stroke="#1a1a1a" stroke-width="0.12" >0.70</text>
<line x1="40.30" y1="526.50" x2="42.30" y2="526.50" stroke="#444" stroke-width="0.5" />
<text x="39.20" y="528.40" font-size="5.3" text-anchor="end" fill="#1a1a1a" stroke="#1a1a1a" stroke-width="0.12" >0.65</text>
<line x1="40.30" y1="573.60" x2="42.30" y2="573.60" stroke="#444" stroke-width="0.5" />
<text x="39.20" y="575.50" font-size="5.3" text-anchor="end" fill="#1a1a1a" stroke="#1a1a1a" stroke-width="0.12" >0.60</text>
<line x1="40.30" y1="620.70" x2="42.30" y2="620.70" stroke="#444" stroke-width="0.5" />
<text x="39.20" y="622.60" font-size="5.3" text-anchor="end" fill="#1a1a1a" stroke="#1a1a1a" stroke-width="0.12" >0.55</text>
<line x1="51.20" y1="654.70" x2="51.20" y2="656.70" stroke="#444" stroke-width="0.5" />
<text x="51.20" y="660.50" font-size="5.3" text-anchor="middle" fill="#1a1a1a" stroke="#1a1a1a" stroke-width="0.12" >0</text>
<line x1="96.43" y1="654.70" x2="96.43" y2="656.70" stroke="#444" stroke-width="0.5" />
<text x="96.43" y="660.50" font-size="5.3" text-anchor="middle" fill="#1a1a1a" stroke="#1a1a1a" stroke-width="0.12" >5</text>
<line x1="141.65" y1="654.70" x2="141.65" y2="656.70" stroke="#444" stroke-width="0.5" />
<text x="141.65" y="660.50" font-size="5.3" text-anchor="middle" fill="#1a1a1a" stroke="#1a1a1a" stroke-width="0.12" >10</text>
<line x1="186.88" y1="654.70" x2="186.88" y2="656.70" stroke="#444" stroke-width="0.5" />
<text x="186.88" y="660.50" font-size="5.3" text-anchor="middle" fill="#1a1a1a" stroke="#1a1a1a" stroke-width="0.12" >15</text>
<line x1="232.10" y1="654.70" x2="232.10" y2="656.70" stroke="#444" stroke-width="0.5" />
<text x="232.10" y="660.50" font-size="5.3" text-anchor="middle" fill="#1a1a1a" stroke="#1a1a1a" stroke-width="0.12" >20</text>
<text x="142.40" y="668.90" font-size="6.7" text-anchor="middle" fill="#111" stroke="#111" stroke-width="0.12" >Gene Count Threshold</text>
<text x="0" y="0" font-size="6.4" fill="#222" text-anchor="middle" transform="translate(26.3,559.5) rotate(-90)">Mean AUC</text>
<text x="246.80" y="522.30" font-size="6.7" text-anchor="start" fill="#111" stroke="#111" stroke-width="0.12" >Method</text>
<line x1="247.20" y1="529.10" x2="253.00" y2="529.10" stroke="#6FAEDB" stroke-width="0.8" />
<circle cx="250.1" cy="529.1" r="0.9" fill="#6FAEDB"/>
<text x="255.90" y="531.00" font-size="5.4" text-anchor="start" fill="#1a1a1a" stroke="#1a1a1a" stroke-width="0.12" >DeepPT</text>
<line x1="247.20" y1="536.27" x2="253.00" y2="536.27" stroke="#EE6B5E" stroke-width="0.8" />
<circle cx="250.1" cy="536.3" r="0.9" fill="#EE6B5E"/>
<text x="255.90" y="538.17" font-size="5.4" text-anchor="start" fill="#1a1a1a" stroke="#1a1a1a" stroke-width="0.12" >DeepSpaCE</text>
<line x1="247.20" y1="543.44" x2="253.00" y2="543.44" stroke="#93C96A" stroke-width="0.8" />
<circle cx="250.1" cy="543.4" r="0.9" fill="#93C96A"/>
<text x="255.90" y="545.34" font-size="5.4" text-anchor="start" fill="#1a1a1a" stroke="#1a1a1a" stroke-width="0.12" >EGNv1</text>
<line x1="247.20" y1="550.61" x2="253.00" y2="550.61" stroke="#F6B8D0" stroke-width="0.8" />
<circle cx="250.1" cy="550.6" r="0.9" fill="#F6B8D0"/>
<text x="255.90" y="552.51" font-size="5.4" text-anchor="start" fill="#1a1a1a" stroke="#1a1a1a" stroke-width="0.12" >EGNv2</text>
<line x1="247.20" y1="557.78" x2="253.00" y2="557.78" stroke="#ABA4D6" stroke-width="0.8" />
<circle cx="250.1" cy="557.8" r="0.9" fill="#ABA4D6"/>
<text x="255.90" y="559.68" font-size="5.4" text-anchor="start" fill="#1a1a1a" stroke="#1a1a1a" stroke-width="0.12" >GeneCodeR</text>
<line x1="247.20" y1="564.95" x2="253.00" y2="564.95" stroke="#F59B4C" stroke-width="0.8" />
<circle cx="250.1" cy="565.0" r="0.9" fill="#F59B4C"/>
<text x="255.90" y="566.85" font-size="5.4" text-anchor="start" fill="#1a1a1a" stroke="#1a1a1a" stroke-width="0.12" >Hist2ST</text>
<line x1="247.20" y1="572.12" x2="253.00" y2="572.12" stroke="#F2B82A" stroke-width="0.8" />
<circle cx="250.1" cy="572.1" r="0.9" fill="#F2B82A"/>
<text x="255.90" y="574.02" font-size="5.4" text-anchor="start" fill="#1a1a1a" stroke="#1a1a1a" stroke-width="0.12" >HisToGene</text>
<line x1="247.20" y1="579.29" x2="253.00" y2="579.29" stroke="#C9A0F2" stroke-width="0.8" />
<circle cx="250.1" cy="579.3" r="0.9" fill="#C9A0F2"/>
<text x="255.90" y="581.19" font-size="5.4" text-anchor="start" fill="#1a1a1a" stroke="#1a1a1a" stroke-width="0.12" >iStar</text>
<line x1="247.20" y1="586.46" x2="253.00" y2="586.46" stroke="#67C2AC" stroke-width="0.8" />
<circle cx="250.1" cy="586.5" r="0.9" fill="#67C2AC"/>
<text x="255.90" y="588.36" font-size="5.4" text-anchor="start" fill="#1a1a1a" stroke="#1a1a1a" stroke-width="0.12" >ST−Net</text>
<line x1="247.20" y1="593.63" x2="253.00" y2="593.63" stroke="#BA8A80" stroke-width="0.8" />
<circle cx="250.1" cy="593.6" r="0.9" fill="#BA8A80"/>
<text x="255.90" y="595.53" font-size="5.4" text-anchor="start" fill="#1a1a1a" stroke="#1a1a1a" stroke-width="0.12" >TCGN</text>
<line x1="247.20" y1="600.80" x2="253.00" y2="600.80" stroke="#9E5FAE" stroke-width="0.8" />
<circle cx="250.1" cy="600.8" r="0.9" fill="#9E5FAE"/>
<text x="255.90" y="602.70" font-size="5.4" text-anchor="start" fill="#1a1a1a" stroke="#1a1a1a" stroke-width="0.12" >THItoGene</text>
<text x="288.20" y="453.60" font-size="14.5" text-anchor="start" fill="#000" stroke="#000" stroke-width="0.25" >e</text>
<path d="M309.9 479.7h1.15v16.3h-1.15zM310.9 479.7h1.15v16.3h-1.15zM399.1 479.7h1.15v16.3h-1.15zM413.1 479.7h1.15v16.3h-1.15zM417.1 479.7h1.15v16.3h-1.15zM419.1 479.7h1.15v16.3h-1.15zM421.1 479.7h1.15v16.3h-1.15zM426.1 479.7h1.15v16.3h-1.15zM440.1 479.7h1.15v16.3h-1.15zM320.9 512.2h1.15v16.3h-1.15zM418.1 512.2h1.15v16.3h-1.15zM420.1 512.2h1.15v16.3h-1.15z" fill="#f3a581"/>
<path d="M311.9 479.7h1.15v16.3h-1.15zM427.1 479.7h1.15v16.3h-1.15zM315.9 512.2h1.15v16.3h-1.15z" fill="#f39f81"/>
<path d="M312.9 479.7h1.15v16.3h-1.15zM314.9 479.7h1.15v16.3h-1.15zM321.9 496.0h1.15v16.3h-1.15z" fill="#ed9f7b"/>
<path d="M313.9 479.7h1.15v16.3h-1.15zM438.1 479.7h1.15v16.3h-1.15zM424.1 512.2h1.15v16.3h-1.15z" fill="#ed8d69"/>
<path d="M315.9 479.7h1.15v16.3h-1.15zM320.9 479.7h1.15v16.3h-1.15zM437.1 479.7h1.15v16.3h-1.15zM436.1 496.0h1.15v16.3h-1.15zM401.1 512.2h1.15v16.3h-1.15zM408.1 512.2h1.15v16.3h-1.15zM437.1 512.2h1.15v16.3h-1.15z" fill="#ed9375"/>
<path d="M316.9 479.7h1.15v16.3h-1.15zM393.0 479.7h1.15v16.3h-1.15zM405.1 479.7h1.15v16.3h-1.15zM344.0 496.0h1.15v16.3h-1.15zM423.1 496.0h1.15v16.3h-1.15zM424.1 496.0h1.15v16.3h-1.15zM434.1 496.0h1.15v16.3h-1.15zM309.9 512.2h1.15v16.3h-1.15zM310.9 512.2h1.15v16.3h-1.15zM414.1 512.2h1.15v16.3h-1.15zM419.1 512.2h1.15v16.3h-1.15zM422.1 512.2h1.15v16.3h-1.15zM320.9 544.7h1.15v16.3h-1.15z" fill="#f3b18d"/>
<path d="M317.9 479.7h1.15v16.3h-1.15zM336.9 479.7h1.15v16.3h-1.15zM343.0 479.7h1.15v16.3h-1.15zM379.0 479.7h1.15v16.3h-1.15zM381.0 479.7h1.15v16.3h-1.15zM406.1 479.7h1.15v16.3h-1.15zM431.1 479.7h1.15v16.3h-1.15zM364.0 496.0h1.15v16.3h-1.15zM365.0 496.0h1.15v16.3h-1.15zM378.0 496.0h1.15v16.3h-1.15zM381.0 496.0h1.15v16.3h-1.15zM400.1 496.0h1.15v16.3h-1.15zM416.1 512.2h1.15v16.3h-1.15zM403.1 593.5h1.15v16.3h-1.15zM321.9 609.8h1.15v16.3h-1.15z" fill="#f3b193"/>
<path d="M318.9 479.7h1.15v16.3h-1.15zM319.9 479.7h1.15v16.3h-1.15zM323.9 479.7h1.15v16.3h-1.15zM324.9 479.7h1.15v16.3h-1.15zM325.9 479.7h1.15v16.3h-1.15zM342.0 479.7h1.15v16.3h-1.15zM358.0 479.7h1.15v16.3h-1.15zM368.0 479.7h1.15v16.3h-1.15zM372.0 479.7h1.15v16.3h-1.15zM383.0 479.7h1.15v16.3h-1.15zM390.0 479.7h1.15v16.3h-1.15zM394.0 479.7h1.15v16.3h-1.15zM395.1 479.7h1.15v16.3h-1.15zM397.1 479.7h1.15v16.3h-1.15zM398.1 479.7h1.15v16.3h-1.15zM456.2 479.7h1.15v16.3h-1.15zM483.2 479.7h1.15v16.3h-1.15zM485.2 479.7h1.15v16.3h-1.15zM500.2 479.7h1.15v16.3h-1.15zM529.3 479.7h1.15v16.3h-1.15zM311.9 496.0h1.15v16.3h-1.15zM329.9 496.0h1.15v16.3h-1.15zM339.0 496.0h1.15v16.3h-1.15zM341.0 496.0h1.15v16.3h-1.15zM342.0 496.0h1.15v16.3h-1.15zM351.0 496.0h1.15v16.3h-1.15zM353.0 496.0h1.15v16.3h-1.15zM356.0 496.0h1.15v16.3h-1.15zM366.0 496.0h1.15v16.3h-1.15zM368.0 496.0h1.15v16.3h-1.15zM372.0 496.0h1.15v16.3h-1.15zM387.0 496.0h1.15v16.3h-1.15zM394.0 496.0h1.15v16.3h-1.15zM395.1 496.0h1.15v16.3h-1.15zM401.1 496.0h1.15v16.3h-1.15zM404.1 496.0h1.15v16.3h-1.15zM411.1 496.0h1.15v16.3h-1.15zM417.1 496.0h1.15v16.3h-1.15zM419.1 496.0h1.15v16.3h-1.15zM421.1 496.0h1.15v16.3h-1.15zM429.1 496.0h1.15v16.3h-1.15zM318.9 512.2h1.15v16.3h-1.15zM323.9 512.2h1.15v16.3h-1.15zM324.9 512.2h1.15v16.3h-1.15zM343.0 512.2h1.15v16.3h-1.15zM344.0 512.2h1.15v16.3h-1.15zM345.0 512.2h1.15v16.3h-1.15zM364.0 512.2h1.15v16.3h-1.15zM375.0 512.2h1.15v16.3h-1.15zM393.0 512.2h1.15v16.3h-1.15zM479.2 512.2h1.15v16.3h-1.15zM322.9 528.5h1.15v16.3h-1.15zM336.9 528.5h1.15v16.3h-1.15zM344.0 528.5h1.15v16.3h-1.15zM345.0 528.5h1.15v16.3h-1.15zM309.9 544.7h1.15v16.3h-1.15zM310.9 544.7h1.15v16.3h-1.15zM311.9 544.7h1.15v16.3h-1.15zM312.9 544.7h1.15v16.3h-1.15zM316.9 544.7h1.15v16.3h-1.15zM327.9 544.7h1.15v16.3h-1.15zM337.9 544.7h1.15v16.3h-1.15zM344.0 544.7h1.15v16.3h-1.15zM347.0 544.7h1.15v16.3h-1.15zM365.0 544.7h1.15v16.3h-1.15zM367.0 544.7h1.15v16.3h-1.15zM376.0 544.7h1.15v16.3h-1.15zM392.0 561.0h1.15v16.3h-1.15zM321.9 577.3h1.15v16.3h-1.15zM321.9 593.5h1.15v16.3h-1.15zM399.1 593.5h1.15v16.3h-1.15zM314.9 609.8h1.15v16.3h-1.15z" fill="#f9c9ab"/>
<path d="M321.9 479.7h1.15v16.3h-1.15zM403.1 479.7h1.15v16.3h-1.15zM429.1 479.7h1.15v16.3h-1.15zM439.1 479.7h1.15v16.3h-1.15zM435.1 496.0h1.15v16.3h-1.15zM314.9 512.2h1.15v16.3h-1.15zM322.9 512.2h1.15v16.3h-1.15zM404.1 512.2h1.15v16.3h-1.15zM415.1 512.2h1.15v16.3h-1.15z" fill="#ed9975"/>
<path d="M322.9 479.7h1.15v16.3h-1.15zM418.1 479.7h1.15v16.3h-1.15zM321.9 512.2h1.15v16.3h-1.15zM410.1 512.2h1.15v16.3h-1.15z" fill="#ed997b"/>
<path d="M326.9 479.7h1.15v16.3h-1.15zM335.9 479.7h1.15v16.3h-1.15zM341.0 479.7h1.15v16.3h-1.15zM357.0 479.7h1.15v16.3h-1.15zM369.0 479.7h1.15v16.3h-1.15zM370.0 479.7h1.15v16.3h-1.15zM371.0 479.7h1.15v16.3h-1.15zM382.0 479.7h1.15v16.3h-1.15zM443.1 479.7h1.15v16.3h-1.15zM445.1 479.7h1.15v16.3h-1.15zM459.2 479.7h1.15v16.3h-1.15zM460.2 479.7h1.15v16.3h-1.15zM491.2 479.7h1.15v16.3h-1.15zM502.2 479.7h1.15v16.3h-1.15zM510.3 479.7h1.15v16.3h-1.15zM512.3 479.7h1.15v16.3h-1.15zM316.9 496.0h1.15v16.3h-1.15zM323.9 496.0h1.15v16.3h-1.15zM325.9 496.0h1.15v16.3h-1.15zM326.9 496.0h1.15v16.3h-1.15zM350.0 496.0h1.15v16.3h-1.15zM357.0 496.0h1.15v16.3h-1.15zM359.0 496.0h1.15v16.3h-1.15zM360.0 496.0h1.15v16.3h-1.15zM370.0 496.0h1.15v16.3h-1.15zM371.0 496.0h1.15v16.3h-1.15zM383.0 496.0h1.15v16.3h-1.15zM386.0 496.0h1.15v16.3h-1.15zM390.0 496.0h1.15v16.3h-1.15zM396.1 496.0h1.15v16.3h-1.15zM397.1 496.0h1.15v16.3h-1.15zM413.1 496.0h1.15v16.3h-1.15zM414.1 496.0h1.15v16.3h-1.15zM416.1 496.0h1.15v16.3h-1.15zM420.1 496.0h1.15v16.3h-1.15zM422.1 496.0h1.15v16.3h-1.15zM425.1 496.0h1.15v16.3h-1.15zM428.1 496.0h1.15v16.3h-1.15zM453.2 496.0h1.15v16.3h-1.15zM522.3 496.0h1.15v16.3h-1.15zM325.9 512.2h1.15v16.3h-1.15zM326.9 512.2h1.15v16.3h-1.15zM336.9 512.2h1.15v16.3h-1.15zM337.9 512.2h1.15v16.3h-1.15zM346.0 512.2h1.15v16.3h-1.15zM365.0 512.2h1.15v16.3h-1.15zM377.0 512.2h1.15v16.3h-1.15zM478.2 512.2h1.15v16.3h-1.15zM480.2 512.2h1.15v16.3h-1.15zM482.2 512.2h1.15v16.3h-1.15zM486.2 512.2h1.15v16.3h-1.15zM313.9 528.5h1.15v16.3h-1.15zM314.9 528.5h1.15v16.3h-1.15zM315.9 528.5h1.15v16.3h-1.15zM321.9 528.5h1.15v16.3h-1.15zM337.9 528.5h1.15v16.3h-1.15zM380.0 528.5h1.15v16.3h-1.15zM393.0 528.5h1.15v16.3h-1.15zM328.9 544.7h1.15v16.3h-1.15zM329.9 544.7h1.15v16.3h-1.15zM352.0 544.7h1.15v16.3h-1.15zM353.0 544.7h1.15v16.3h-1.15zM354.0 544.7h1.15v16.3h-1.15zM379.0 544.7h1.15v16.3h-1.15zM388.0 544.7h1.15v16.3h-1.15zM313.9 561.0h1.15v16.3h-1.15zM327.9 561.0h1.15v16.3h-1.15zM336.9 561.0h1.15v16.3h-1.15zM337.9 561.0h1.15v16.3h-1.15zM343.0 561.0h1.15v16.3h-1.15zM344.0 561.0h1.15v16.3h-1.15zM345.0 561.0h1.15v16.3h-1.15zM365.0 561.0h1.15v16.3h-1.15zM320.9 593.5h1.15v16.3h-1.15zM322.9 593.5h1.15v16.3h-1.15zM393.0 593.5h1.15v16.3h-1.15zM405.1 593.5h1.15v16.3h-1.15zM406.1 593.5h1.15v16.3h-1.15zM412.1 593.5h1.15v16.3h-1.15zM414.1 593.5h1.15v16.3h-1.15zM433.1 593.5h1.15v16.3h-1.15zM312.9 609.8h1.15v16.3h-1.15z" fill="#f9cfb1"/>
<path d="M327.9 479.7h1.15v16.3h-1.15zM328.9 479.7h1.15v16.3h-1.15zM339.0 479.7h1.15v16.3h-1.15zM348.0 479.7h1.15v16.3h-1.15zM352.0 479.7h1.15v16.3h-1.15zM354.0 479.7h1.15v16.3h-1.15zM355.0 479.7h1.15v16.3h-1.15zM366.0 479.7h1.15v16.3h-1.15zM367.0 479.7h1.15v16.3h-1.15zM388.0 479.7h1.15v16.3h-1.15zM389.0 479.7h1.15v16.3h-1.15zM441.1 479.7h1.15v16.3h-1.15zM442.1 479.7h1.15v16.3h-1.15zM449.1 479.7h1.15v16.3h-1.15zM499.2 479.7h1.15v16.3h-1.15zM520.3 479.7h1.15v16.3h-1.15zM528.3 479.7h1.15v16.3h-1.15zM530.3 479.7h1.15v16.3h-1.15zM309.9 496.0h1.15v16.3h-1.15zM328.9 496.0h1.15v16.3h-1.15zM340.0 496.0h1.15v16.3h-1.15zM352.0 496.0h1.15v16.3h-1.15zM354.0 496.0h1.15v16.3h-1.15zM355.0 496.0h1.15v16.3h-1.15zM367.0 496.0h1.15v16.3h-1.15zM388.0 496.0h1.15v16.3h-1.15zM402.1 496.0h1.15v16.3h-1.15zM418.1 496.0h1.15v16.3h-1.15zM426.1 496.0h1.15v16.3h-1.15zM440.1 496.0h1.15v16.3h-1.15zM316.9 512.2h1.15v16.3h-1.15zM327.9 512.2h1.15v16.3h-1.15zM392.0 512.2h1.15v16.3h-1.15zM399.1 512.2h1.15v16.3h-1.15zM432.1 512.2h1.15v16.3h-1.15zM483.2 512.2h1.15v16.3h-1.15zM336.9 544.7h1.15v16.3h-1.15zM345.0 544.7h1.15v16.3h-1.15zM364.0 544.7h1.15v16.3h-1.15zM375.0 544.7h1.15v16.3h-1.15zM378.0 544.7h1.15v16.3h-1.15zM381.0 544.7h1.15v16.3h-1.15zM392.0 544.7h1.15v16.3h-1.15zM315.9 561.0h1.15v16.3h-1.15zM321.9 561.0h1.15v16.3h-1.15zM322.9 561.0h1.15v16.3h-1.15zM404.1 593.5h1.15v16.3h-1.15zM411.1 593.5h1.15v16.3h-1.15zM311.9 609.8h1.15v16.3h-1.15zM313.9 609.8h1.15v16.3h-1.15zM322.9 609.8h1.15v16.3h-1.15z" fill="#f9c3a5"/>
<path d="M329.9 479.7h1.15v16.3h-1.15zM349.0 479.7h1.15v16.3h-1.15zM522.3 479.7h1.15v16.3h-1.15zM523.3 479.7h1.15v16.3h-1.15zM310.9 496.0h1.15v16.3h-1.15zM314.9 496.0h1.15v16.3h-1.15zM317.9 496.0h1.15v16.3h-1.15zM327.9 496.0h1.15v16.3h-1.15zM346.0 496.0h1.15v16.3h-1.15zM348.0 496.0h1.15v16.3h-1.15zM380.0 496.0h1.15v16.3h-1.15zM389.0 496.0h1.15v16.3h-1.15zM408.1 496.0h1.15v16.3h-1.15zM409.1 496.0h1.15v16.3h-1.15zM410.1 496.0h1.15v16.3h-1.15zM437.1 496.0h1.15v16.3h-1.15zM329.9 512.2h1.15v16.3h-1.15zM405.1 512.2h1.15v16.3h-1.15zM430.1 512.2h1.15v16.3h-1.15zM313.9 544.7h1.15v16.3h-1.15zM315.9 544.7h1.15v16.3h-1.15zM343.0 544.7h1.15v16.3h-1.15zM377.0 544.7h1.15v16.3h-1.15zM409.1 593.5h1.15v16.3h-1.15zM415.1 593.5h1.15v16.3h-1.15zM315.9 609.8h1.15v16.3h-1.15z" fill="#f3bd9f"/>
<path d="M330.9 479.7h1.15v16.3h-1.15zM361.0 479.7h1.15v16.3h-1.15zM373.0 479.7h1.15v16.3h-1.15zM463.2 479.7h1.15v16.3h-1.15zM468.2 479.7h1.15v16.3h-1.15zM470.2 479.7h1.15v16.3h-1.15zM501.2 479.7h1.15v16.3h-1.15zM506.2 479.7h1.15v16.3h-1.15zM507.2 479.7h1.15v16.3h-1.15zM513.3 479.7h1.15v16.3h-1.15zM533.3 479.7h1.15v16.3h-1.15zM534.3 479.7h1.15v16.3h-1.15zM538.3 479.7h1.15v16.3h-1.15zM547.3 479.7h1.15v16.3h-1.15zM647.5 479.7h1.15v16.3h-1.15zM649.5 479.7h1.15v16.3h-1.15zM330.9 496.0h1.15v16.3h-1.15zM333.9 496.0h1.15v16.3h-1.15zM361.0 496.0h1.15v16.3h-1.15zM459.2 496.0h1.15v16.3h-1.15zM483.2 496.0h1.15v16.3h-1.15zM485.2 496.0h1.15v16.3h-1.15zM490.2 496.0h1.15v16.3h-1.15zM529.3 496.0h1.15v16.3h-1.15zM333.9 512.2h1.15v16.3h-1.15zM335.9 512.2h1.15v16.3h-1.15zM341.0 512.2h1.15v16.3h-1.15zM353.0 512.2h1.15v16.3h-1.15zM356.0 512.2h1.15v16.3h-1.15zM366.0 512.2h1.15v16.3h-1.15zM367.0 512.2h1.15v16.3h-1.15zM383.0 512.2h1.15v16.3h-1.15zM388.0 512.2h1.15v16.3h-1.15zM452.2 512.2h1.15v16.3h-1.15zM475.2 512.2h1.15v16.3h-1.15zM476.2 512.2h1.15v16.3h-1.15zM316.9 528.5h1.15v16.3h-1.15zM329.9 528.5h1.15v16.3h-1.15zM341.0 528.5h1.15v16.3h-1.15zM349.0 528.5h1.15v16.3h-1.15zM350.0 528.5h1.15v16.3h-1.15zM353.0 528.5h1.15v16.3h-1.15zM366.0 528.5h1.15v16.3h-1.15zM375.0 528.5h1.15v16.3h-1.15zM529.3 528.5h1.15v16.3h-1.15zM551.3 528.5h1.15v16.3h-1.15zM324.9 544.7h1.15v16.3h-1.15zM335.9 544.7h1.15v16.3h-1.15zM339.0 544.7h1.15v16.3h-1.15zM371.0 544.7h1.15v16.3h-1.15zM382.0 544.7h1.15v16.3h-1.15zM386.0 544.7h1.15v16.3h-1.15zM398.1 544.7h1.15v16.3h-1.15zM399.1 544.7h1.15v16.3h-1.15zM355.0 561.0h1.15v16.3h-1.15zM359.0 561.0h1.15v16.3h-1.15zM366.0 561.0h1.15v16.3h-1.15zM382.0 561.0h1.15v16.3h-1.15zM391.0 561.0h1.15v16.3h-1.15zM394.0 561.0h1.15v16.3h-1.15zM311.9 577.3h1.15v16.3h-1.15zM312.9 577.3h1.15v16.3h-1.15zM327.9 577.3h1.15v16.3h-1.15zM337.9 577.3h1.15v16.3h-1.15zM346.0 577.3h1.15v16.3h-1.15zM365.0 577.3h1.15v16.3h-1.15zM310.9 593.5h1.15v16.3h-1.15zM312.9 593.5h1.15v16.3h-1.15zM317.9 593.5h1.15v16.3h-1.15zM329.9 593.5h1.15v16.3h-1.15zM336.9 593.5h1.15v16.3h-1.15zM343.0 593.5h1.15v16.3h-1.15zM348.0 593.5h1.15v16.3h-1.15zM352.0 593.5h1.15v16.3h-1.15zM354.0 593.5h1.15v16.3h-1.15zM365.0 593.5h1.15v16.3h-1.15zM367.0 593.5h1.15v16.3h-1.15zM416.1 593.5h1.15v16.3h-1.15zM417.1 593.5h1.15v16.3h-1.15zM440.1 593.5h1.15v16.3h-1.15zM318.9 609.8h1.15v16.3h-1.15zM323.9 609.8h1.15v16.3h-1.15z" fill="#f9dbc3"/>
<path d="M331.9 479.7h1.15v16.3h-1.15zM334.9 479.7h1.15v16.3h-1.15zM384.0 479.7h1.15v16.3h-1.15zM385.0 479.7h1.15v16.3h-1.15zM386.0 479.7h1.15v16.3h-1.15zM387.0 479.7h1.15v16.3h-1.15zM391.0 479.7h1.15v16.3h-1.15zM450.1 479.7h1.15v16.3h-1.15zM458.2 479.7h1.15v16.3h-1.15zM467.2 479.7h1.15v16.3h-1.15zM480.2 479.7h1.15v16.3h-1.15zM481.2 479.7h1.15v16.3h-1.15zM482.2 479.7h1.15v16.3h-1.15zM489.2 479.7h1.15v16.3h-1.15zM492.2 479.7h1.15v16.3h-1.15zM493.2 479.7h1.15v16.3h-1.15zM508.2 479.7h1.15v16.3h-1.15zM511.3 479.7h1.15v16.3h-1.15zM515.3 479.7h1.15v16.3h-1.15zM526.3 479.7h1.15v16.3h-1.15zM535.3 479.7h1.15v16.3h-1.15zM536.3 479.7h1.15v16.3h-1.15zM573.4 479.7h1.15v16.3h-1.15zM594.4 479.7h1.15v16.3h-1.15zM595.4 479.7h1.15v16.3h-1.15zM318.9 496.0h1.15v16.3h-1.15zM331.9 496.0h1.15v16.3h-1.15zM369.0 496.0h1.15v16.3h-1.15zM391.0 496.0h1.15v16.3h-1.15zM398.1 496.0h1.15v16.3h-1.15zM406.1 496.0h1.15v16.3h-1.15zM431.1 496.0h1.15v16.3h-1.15zM432.1 496.0h1.15v16.3h-1.15zM452.2 496.0h1.15v16.3h-1.15zM521.3 496.0h1.15v16.3h-1.15zM530.3 496.0h1.15v16.3h-1.15zM330.9 512.2h1.15v16.3h-1.15zM332.9 512.2h1.15v16.3h-1.15zM334.9 512.2h1.15v16.3h-1.15zM340.0 512.2h1.15v16.3h-1.15zM349.0 512.2h1.15v16.3h-1.15zM351.0 512.2h1.15v16.3h-1.15zM352.0 512.2h1.15v16.3h-1.15zM376.0 512.2h1.15v16.3h-1.15zM378.0 512.2h1.15v16.3h-1.15zM380.0 512.2h1.15v16.3h-1.15zM381.0 512.2h1.15v16.3h-1.15zM472.2 512.2h1.15v16.3h-1.15zM473.2 512.2h1.15v16.3h-1.15zM477.2 512.2h1.15v16.3h-1.15zM481.2 512.2h1.15v16.3h-1.15zM309.9 528.5h1.15v16.3h-1.15zM311.9 528.5h1.15v16.3h-1.15zM343.0 528.5h1.15v16.3h-1.15zM352.0 528.5h1.15v16.3h-1.15zM365.0 528.5h1.15v16.3h-1.15zM376.0 528.5h1.15v16.3h-1.15zM381.0 528.5h1.15v16.3h-1.15zM500.2 528.5h1.15v16.3h-1.15zM522.3 528.5h1.15v16.3h-1.15zM323.9 544.7h1.15v16.3h-1.15zM346.0 544.7h1.15v16.3h-1.15zM349.0 544.7h1.15v16.3h-1.15zM350.0 544.7h1.15v16.3h-1.15zM356.0 544.7h1.15v16.3h-1.15zM357.0 544.7h1.15v16.3h-1.15zM366.0 544.7h1.15v16.3h-1.15zM368.0 544.7h1.15v16.3h-1.15zM383.0 544.7h1.15v16.3h-1.15zM390.0 544.7h1.15v16.3h-1.15zM310.9 561.0h1.15v16.3h-1.15zM314.9 561.0h1.15v16.3h-1.15zM316.9 561.0h1.15v16.3h-1.15zM328.9 561.0h1.15v16.3h-1.15zM340.0 561.0h1.15v16.3h-1.15zM346.0 561.0h1.15v16.3h-1.15zM348.0 561.0h1.15v16.3h-1.15zM351.0 561.0h1.15v16.3h-1.15zM356.0 561.0h1.15v16.3h-1.15zM368.0 561.0h1.15v16.3h-1.15zM376.0 561.0h1.15v16.3h-1.15zM378.0 561.0h1.15v16.3h-1.15zM379.0 561.0h1.15v16.3h-1.15zM380.0 561.0h1.15v16.3h-1.15zM381.0 561.0h1.15v16.3h-1.15zM313.9 577.3h1.15v16.3h-1.15zM314.9 577.3h1.15v16.3h-1.15zM315.9 577.3h1.15v16.3h-1.15zM320.9 577.3h1.15v16.3h-1.15zM322.9 577.3h1.15v16.3h-1.15zM364.0 577.3h1.15v16.3h-1.15zM393.0 577.3h1.15v16.3h-1.15zM313.9 593.5h1.15v16.3h-1.15zM314.9 593.5h1.15v16.3h-1.15zM315.9 593.5h1.15v16.3h-1.15zM337.9 593.5h1.15v16.3h-1.15zM344.0 593.5h1.15v16.3h-1.15zM364.0 593.5h1.15v16.3h-1.15zM376.0 593.5h1.15v16.3h-1.15zM423.1 593.5h1.15v16.3h-1.15zM316.9 609.8h1.15v16.3h-1.15zM317.9 609.8h1.15v16.3h-1.15zM327.9 609.8h1.15v16.3h-1.15z" fill="#f9d5b7"/>
<path d="M332.9 479.7h1.15v16.3h-1.15zM446.1 479.7h1.15v16.3h-1.15zM448.1 479.7h1.15v16.3h-1.15zM455.2 479.7h1.15v16.3h-1.15zM464.2 479.7h1.15v16.3h-1.15zM486.2 479.7h1.15v16.3h-1.15zM496.2 479.7h1.15v16.3h-1.15zM497.2 479.7h1.15v16.3h-1.15zM509.3 479.7h1.15v16.3h-1.15zM524.3 479.7h1.15v16.3h-1.15zM548.3 479.7h1.15v16.3h-1.15zM585.4 479.7h1.15v16.3h-1.15zM363.0 496.0h1.15v16.3h-1.15zM374.0 496.0h1.15v16.3h-1.15zM430.1 496.0h1.15v16.3h-1.15zM500.2 496.0h1.15v16.3h-1.15zM520.3 496.0h1.15v16.3h-1.15zM331.9 512.2h1.15v16.3h-1.15zM347.0 512.2h1.15v16.3h-1.15zM368.0 512.2h1.15v16.3h-1.15zM382.0 512.2h1.15v16.3h-1.15zM441.1 512.2h1.15v16.3h-1.15zM471.2 512.2h1.15v16.3h-1.15zM474.2 512.2h1.15v16.3h-1.15zM310.9 528.5h1.15v16.3h-1.15zM317.9 528.5h1.15v16.3h-1.15zM327.9 528.5h1.15v16.3h-1.15zM328.9 528.5h1.15v16.3h-1.15zM339.0 528.5h1.15v16.3h-1.15zM340.0 528.5h1.15v16.3h-1.15zM346.0 528.5h1.15v16.3h-1.15zM347.0 528.5h1.15v16.3h-1.15zM348.0 528.5h1.15v16.3h-1.15zM368.0 528.5h1.15v16.3h-1.15zM377.0 528.5h1.15v16.3h-1.15zM378.0 528.5h1.15v16.3h-1.15zM379.0 528.5h1.15v16.3h-1.15zM388.0 528.5h1.15v16.3h-1.15zM435.1 528.5h1.15v16.3h-1.15zM523.3 528.5h1.15v16.3h-1.15zM542.3 528.5h1.15v16.3h-1.15zM318.9 544.7h1.15v16.3h-1.15zM372.0 544.7h1.15v16.3h-1.15zM389.0 544.7h1.15v16.3h-1.15zM391.0 544.7h1.15v16.3h-1.15zM394.0 544.7h1.15v16.3h-1.15zM395.1 544.7h1.15v16.3h-1.15zM309.9 561.0h1.15v16.3h-1.15zM312.9 561.0h1.15v16.3h-1.15zM323.9 561.0h1.15v16.3h-1.15zM329.9 561.0h1.15v16.3h-1.15zM339.0 561.0h1.15v16.3h-1.15zM352.0 561.0h1.15v16.3h-1.15zM367.0 561.0h1.15v16.3h-1.15zM377.0 561.0h1.15v16.3h-1.15zM389.0 561.0h1.15v16.3h-1.15zM436.1 561.0h1.15v16.3h-1.15zM328.9 577.3h1.15v16.3h-1.15zM343.0 577.3h1.15v16.3h-1.15zM344.0 577.3h1.15v16.3h-1.15zM376.0 577.3h1.15v16.3h-1.15zM377.0 577.3h1.15v16.3h-1.15zM381.0 577.3h1.15v16.3h-1.15zM309.9 593.5h1.15v16.3h-1.15zM316.9 593.5h1.15v16.3h-1.15zM327.9 593.5h1.15v16.3h-1.15zM345.0 593.5h1.15v16.3h-1.15zM346.0 593.5h1.15v16.3h-1.15zM347.0 593.5h1.15v16.3h-1.15zM377.0 593.5h1.15v16.3h-1.15zM380.0 593.5h1.15v16.3h-1.15zM381.0 593.5h1.15v16.3h-1.15zM388.0 593.5h1.15v16.3h-1.15zM424.1 593.5h1.15v16.3h-1.15zM438.1 593.5h1.15v16.3h-1.15zM439.1 593.5h1.15v16.3h-1.15zM325.9 609.8h1.15v16.3h-1.15zM436.1 626.0h1.15v16.3h-1.15zM436.1 642.3h1.15v16.3h-1.15z" fill="#f9dbbd"/>
<path d="M333.9 479.7h1.15v16.3h-1.15zM362.0 479.7h1.15v16.3h-1.15zM454.2 479.7h1.15v16.3h-1.15zM457.2 479.7h1.15v16.3h-1.15zM478.2 479.7h1.15v16.3h-1.15zM479.2 479.7h1.15v16.3h-1.15zM503.2 479.7h1.15v16.3h-1.15zM514.3 479.7h1.15v16.3h-1.15zM527.3 479.7h1.15v16.3h-1.15zM537.3 479.7h1.15v16.3h-1.15zM319.9 496.0h1.15v16.3h-1.15zM332.9 496.0h1.15v16.3h-1.15zM358.0 496.0h1.15v16.3h-1.15zM405.1 496.0h1.15v16.3h-1.15zM441.1 496.0h1.15v16.3h-1.15zM339.0 512.2h1.15v16.3h-1.15zM354.0 512.2h1.15v16.3h-1.15zM355.0 512.2h1.15v16.3h-1.15zM379.0 512.2h1.15v16.3h-1.15zM470.2 512.2h1.15v16.3h-1.15zM312.9 528.5h1.15v16.3h-1.15zM364.0 528.5h1.15v16.3h-1.15zM548.3 528.5h1.15v16.3h-1.15zM325.9 544.7h1.15v16.3h-1.15zM326.9 544.7h1.15v16.3h-1.15zM334.9 544.7h1.15v16.3h-1.15zM341.0 544.7h1.15v16.3h-1.15zM342.0 544.7h1.15v16.3h-1.15zM360.0 544.7h1.15v16.3h-1.15zM369.0 544.7h1.15v16.3h-1.15zM396.1 544.7h1.15v16.3h-1.15zM311.9 561.0h1.15v16.3h-1.15zM317.9 561.0h1.15v16.3h-1.15zM349.0 561.0h1.15v16.3h-1.15zM364.0 561.0h1.15v16.3h-1.15zM388.0 561.0h1.15v16.3h-1.15zM309.9 577.3h1.15v16.3h-1.15zM336.9 577.3h1.15v16.3h-1.15zM345.0 577.3h1.15v16.3h-1.15zM380.0 577.3h1.15v16.3h-1.15zM311.9 593.5h1.15v16.3h-1.15zM375.0 593.5h1.15v16.3h-1.15zM378.0 593.5h1.15v16.3h-1.15zM413.1 593.5h1.15v16.3h-1.15zM437.1 593.5h1.15v16.3h-1.15zM329.9 609.8h1.15v16.3h-1.15z" fill="#f9d5bd"/>
<path d="M337.9 479.7h1.15v16.3h-1.15zM350.0 479.7h1.15v16.3h-1.15zM375.0 479.7h1.15v16.3h-1.15zM451.1 479.7h1.15v16.3h-1.15zM452.2 479.7h1.15v16.3h-1.15zM312.9 496.0h1.15v16.3h-1.15zM376.0 496.0h1.15v16.3h-1.15zM377.0 496.0h1.15v16.3h-1.15zM399.1 496.0h1.15v16.3h-1.15zM438.1 496.0h1.15v16.3h-1.15zM439.1 496.0h1.15v16.3h-1.15zM412.1 512.2h1.15v16.3h-1.15zM410.1 593.5h1.15v16.3h-1.15zM320.9 609.8h1.15v16.3h-1.15z" fill="#f3b793"/>
<path d="M340.0 479.7h1.15v16.3h-1.15zM351.0 479.7h1.15v16.3h-1.15zM349.0 496.0h1.15v16.3h-1.15zM317.9 512.2h1.15v16.3h-1.15zM328.9 512.2h1.15v16.3h-1.15z" fill="#f9c39f"/>
<path d="M344.0 479.7h1.15v16.3h-1.15zM345.0 479.7h1.15v16.3h-1.15zM365.0 479.7h1.15v16.3h-1.15zM376.0 479.7h1.15v16.3h-1.15zM422.1 479.7h1.15v16.3h-1.15zM428.1 479.7h1.15v16.3h-1.15zM313.9 496.0h1.15v16.3h-1.15zM315.9 496.0h1.15v16.3h-1.15zM322.9 496.0h1.15v16.3h-1.15zM337.9 496.0h1.15v16.3h-1.15zM407.1 496.0h1.15v16.3h-1.15zM312.9 512.2h1.15v16.3h-1.15zM400.1 512.2h1.15v16.3h-1.15zM406.1 512.2h1.15v16.3h-1.15zM429.1 512.2h1.15v16.3h-1.15zM321.9 544.7h1.15v16.3h-1.15zM401.1 593.5h1.15v16.3h-1.15z" fill="#f3ab8d"/>
<path d="M346.0 479.7h1.15v16.3h-1.15zM377.0 479.7h1.15v16.3h-1.15zM378.0 479.7h1.15v16.3h-1.15zM453.2 479.7h1.15v16.3h-1.15zM336.9 496.0h1.15v16.3h-1.15zM343.0 496.0h1.15v16.3h-1.15zM345.0 496.0h1.15v16.3h-1.15zM375.0 496.0h1.15v16.3h-1.15zM403.1 496.0h1.15v16.3h-1.15zM314.9 544.7h1.15v16.3h-1.15zM435.1 593.5h1.15v16.3h-1.15zM436.1 593.5h1.15v16.3h-1.15z" fill="#f3bd99"/>
<path d="M347.0 479.7h1.15v16.3h-1.15z" fill="#f9c9a5"/>
<path d="M353.0 479.7h1.15v16.3h-1.15zM356.0 479.7h1.15v16.3h-1.15zM380.0 479.7h1.15v16.3h-1.15zM430.1 479.7h1.15v16.3h-1.15zM521.3 479.7h1.15v16.3h-1.15zM379.0 496.0h1.15v16.3h-1.15zM415.1 496.0h1.15v16.3h-1.15zM431.1 512.2h1.15v16.3h-1.15zM440.1 512.2h1.15v16.3h-1.15zM484.2 512.2h1.15v16.3h-1.15zM485.2 512.2h1.15v16.3h-1.15zM322.9 544.7h1.15v16.3h-1.15zM393.0 544.7h1.15v16.3h-1.15zM320.9 561.0h1.15v16.3h-1.15zM400.1 593.5h1.15v16.3h-1.15zM408.1 593.5h1.15v16.3h-1.15z" fill="#f3b799"/>
<path d="M359.0 479.7h1.15v16.3h-1.15zM360.0 479.7h1.15v16.3h-1.15zM396.1 479.7h1.15v16.3h-1.15zM490.2 479.7h1.15v16.3h-1.15zM494.2 479.7h1.15v16.3h-1.15zM324.9 496.0h1.15v16.3h-1.15zM335.9 496.0h1.15v16.3h-1.15zM382.0 496.0h1.15v16.3h-1.15zM384.0 496.0h1.15v16.3h-1.15zM385.0 496.0h1.15v16.3h-1.15zM427.1 496.0h1.15v16.3h-1.15zM523.3 496.0h1.15v16.3h-1.15zM389.0 512.2h1.15v16.3h-1.15zM320.9 528.5h1.15v16.3h-1.15zM392.0 528.5h1.15v16.3h-1.15zM521.3 528.5h1.15v16.3h-1.15zM340.0 544.7h1.15v16.3h-1.15zM348.0 544.7h1.15v16.3h-1.15zM351.0 544.7h1.15v16.3h-1.15zM355.0 544.7h1.15v16.3h-1.15zM380.0 544.7h1.15v16.3h-1.15zM375.0 561.0h1.15v16.3h-1.15zM393.0 561.0h1.15v16.3h-1.15zM392.0 593.5h1.15v16.3h-1.15zM310.9 609.8h1.15v16.3h-1.15zM328.9 609.8h1.15v16.3h-1.15z" fill="#f9cfb7"/>
<path d="M363.0 479.7h1.15v16.3h-1.15zM466.2 479.7h1.15v16.3h-1.15zM472.2 479.7h1.15v16.3h-1.15zM477.2 479.7h1.15v16.3h-1.15zM487.2 479.7h1.15v16.3h-1.15zM488.2 479.7h1.15v16.3h-1.15zM495.2 479.7h1.15v16.3h-1.15zM504.2 479.7h1.15v16.3h-1.15zM517.3 479.7h1.15v16.3h-1.15zM525.3 479.7h1.15v16.3h-1.15zM531.3 479.7h1.15v16.3h-1.15zM542.3 479.7h1.15v16.3h-1.15zM550.3 479.7h1.15v16.3h-1.15zM555.3 479.7h1.15v16.3h-1.15zM562.3 479.7h1.15v16.3h-1.15zM565.4 479.7h1.15v16.3h-1.15zM568.4 479.7h1.15v16.3h-1.15zM586.4 479.7h1.15v16.3h-1.15zM593.4 479.7h1.15v16.3h-1.15zM601.4 479.7h1.15v16.3h-1.15zM615.4 479.7h1.15v16.3h-1.15zM630.5 479.7h1.15v16.3h-1.15zM645.5 479.7h1.15v16.3h-1.15zM362.0 496.0h1.15v16.3h-1.15zM373.0 496.0h1.15v16.3h-1.15zM442.1 496.0h1.15v16.3h-1.15zM444.1 496.0h1.15v16.3h-1.15zM446.1 496.0h1.15v16.3h-1.15zM447.1 496.0h1.15v16.3h-1.15zM450.1 496.0h1.15v16.3h-1.15zM456.2 496.0h1.15v16.3h-1.15zM460.2 496.0h1.15v16.3h-1.15zM465.2 496.0h1.15v16.3h-1.15zM478.2 496.0h1.15v16.3h-1.15zM480.2 496.0h1.15v16.3h-1.15zM491.2 496.0h1.15v16.3h-1.15zM502.2 496.0h1.15v16.3h-1.15zM503.2 496.0h1.15v16.3h-1.15zM510.3 496.0h1.15v16.3h-1.15zM511.3 496.0h1.15v16.3h-1.15zM514.3 496.0h1.15v16.3h-1.15zM524.3 496.0h1.15v16.3h-1.15zM536.3 496.0h1.15v16.3h-1.15zM648.5 496.0h1.15v16.3h-1.15zM350.0 512.2h1.15v16.3h-1.15zM357.0 512.2h1.15v16.3h-1.15zM360.0 512.2h1.15v16.3h-1.15zM369.0 512.2h1.15v16.3h-1.15zM370.0 512.2h1.15v16.3h-1.15zM371.0 512.2h1.15v16.3h-1.15zM384.0 512.2h1.15v16.3h-1.15zM387.0 512.2h1.15v16.3h-1.15zM391.0 512.2h1.15v16.3h-1.15zM394.0 512.2h1.15v16.3h-1.15zM397.1 512.2h1.15v16.3h-1.15zM398.1 512.2h1.15v16.3h-1.15zM451.1 512.2h1.15v16.3h-1.15zM453.2 512.2h1.15v16.3h-1.15zM467.2 512.2h1.15v16.3h-1.15zM468.2 512.2h1.15v16.3h-1.15zM487.2 512.2h1.15v16.3h-1.15zM319.9 528.5h1.15v16.3h-1.15zM323.9 528.5h1.15v16.3h-1.15zM324.9 528.5h1.15v16.3h-1.15zM326.9 528.5h1.15v16.3h-1.15zM331.9 528.5h1.15v16.3h-1.15zM334.9 528.5h1.15v16.3h-1.15zM335.9 528.5h1.15v16.3h-1.15zM342.0 528.5h1.15v16.3h-1.15zM354.0 528.5h1.15v16.3h-1.15zM356.0 528.5h1.15v16.3h-1.15zM358.0 528.5h1.15v16.3h-1.15zM359.0 528.5h1.15v16.3h-1.15zM360.0 528.5h1.15v16.3h-1.15zM369.0 528.5h1.15v16.3h-1.15zM382.0 528.5h1.15v16.3h-1.15zM385.0 528.5h1.15v16.3h-1.15zM386.0 528.5h1.15v16.3h-1.15zM387.0 528.5h1.15v16.3h-1.15zM389.0 528.5h1.15v16.3h-1.15zM394.0 528.5h1.15v16.3h-1.15zM399.1 528.5h1.15v16.3h-1.15zM407.1 528.5h1.15v16.3h-1.15zM433.1 528.5h1.15v16.3h-1.15zM452.2 528.5h1.15v16.3h-1.15zM453.2 528.5h1.15v16.3h-1.15zM511.3 528.5h1.15v16.3h-1.15zM528.3 528.5h1.15v16.3h-1.15zM530.3 528.5h1.15v16.3h-1.15zM534.3 528.5h1.15v16.3h-1.15zM535.3 528.5h1.15v16.3h-1.15zM536.3 528.5h1.15v16.3h-1.15zM537.3 528.5h1.15v16.3h-1.15zM538.3 528.5h1.15v16.3h-1.15zM543.3 528.5h1.15v16.3h-1.15zM547.3 528.5h1.15v16.3h-1.15zM549.3 528.5h1.15v16.3h-1.15zM552.3 528.5h1.15v16.3h-1.15zM555.3 528.5h1.15v16.3h-1.15zM319.9 544.7h1.15v16.3h-1.15zM330.9 544.7h1.15v16.3h-1.15zM332.9 544.7h1.15v16.3h-1.15zM361.0 544.7h1.15v16.3h-1.15zM362.0 544.7h1.15v16.3h-1.15zM374.0 544.7h1.15v16.3h-1.15zM384.0 544.7h1.15v16.3h-1.15zM400.1 544.7h1.15v16.3h-1.15zM451.1 544.7h1.15v16.3h-1.15zM318.9 561.0h1.15v16.3h-1.15zM335.9 561.0h1.15v16.3h-1.15zM342.0 561.0h1.15v16.3h-1.15zM347.0 561.0h1.15v16.3h-1.15zM357.0 561.0h1.15v16.3h-1.15zM358.0 561.0h1.15v16.3h-1.15zM384.0 561.0h1.15v16.3h-1.15zM390.0 561.0h1.15v16.3h-1.15zM395.1 561.0h1.15v16.3h-1.15zM396.1 561.0h1.15v16.3h-1.15zM397.1 561.0h1.15v16.3h-1.15zM403.1 561.0h1.15v16.3h-1.15zM435.1 561.0h1.15v16.3h-1.15zM451.1 561.0h1.15v16.3h-1.15zM324.9 577.3h1.15v16.3h-1.15zM339.0 577.3h1.15v16.3h-1.15zM340.0 577.3h1.15v16.3h-1.15zM349.0 577.3h1.15v16.3h-1.15zM353.0 577.3h1.15v16.3h-1.15zM355.0 577.3h1.15v16.3h-1.15zM356.0 577.3h1.15v16.3h-1.15zM358.0 577.3h1.15v16.3h-1.15zM375.0 577.3h1.15v16.3h-1.15zM394.0 577.3h1.15v16.3h-1.15zM399.1 577.3h1.15v16.3h-1.15zM324.9 593.5h1.15v16.3h-1.15zM328.9 593.5h1.15v16.3h-1.15zM334.9 593.5h1.15v16.3h-1.15zM335.9 593.5h1.15v16.3h-1.15zM339.0 593.5h1.15v16.3h-1.15zM341.0 593.5h1.15v16.3h-1.15zM349.0 593.5h1.15v16.3h-1.15zM350.0 593.5h1.15v16.3h-1.15zM353.0 593.5h1.15v16.3h-1.15zM355.0 593.5h1.15v16.3h-1.15zM358.0 593.5h1.15v16.3h-1.15zM366.0 593.5h1.15v16.3h-1.15zM372.0 593.5h1.15v16.3h-1.15zM379.0 593.5h1.15v16.3h-1.15zM389.0 593.5h1.15v16.3h-1.15zM395.1 593.5h1.15v16.3h-1.15zM419.1 593.5h1.15v16.3h-1.15zM422.1 593.5h1.15v16.3h-1.15zM426.1 593.5h1.15v16.3h-1.15zM429.1 593.5h1.15v16.3h-1.15zM319.9 609.8h1.15v16.3h-1.15zM326.9 609.8h1.15v16.3h-1.15zM331.9 609.8h1.15v16.3h-1.15zM365.0 609.8h1.15v16.3h-1.15zM392.0 609.8h1.15v16.3h-1.15zM436.1 609.8h1.15v16.3h-1.15zM407.1 626.0h1.15v16.3h-1.15zM423.1 626.0h1.15v16.3h-1.15zM434.1 626.0h1.15v16.3h-1.15zM435.1 626.0h1.15v16.3h-1.15zM434.1 642.3h1.15v16.3h-1.15zM435.1 642.3h1.15v16.3h-1.15z" fill="#f9e1c9"/>
<path d="M364.0 479.7h1.15v16.3h-1.15zM392.0 479.7h1.15v16.3h-1.15zM392.0 496.0h1.15v16.3h-1.15zM402.1 593.5h1.15v16.3h-1.15z" fill="#f3a587"/>
<path d="M374.0 479.7h1.15v16.3h-1.15zM447.1 479.7h1.15v16.3h-1.15zM465.2 479.7h1.15v16.3h-1.15zM469.2 479.7h1.15v16.3h-1.15zM471.2 479.7h1.15v16.3h-1.15zM473.2 479.7h1.15v16.3h-1.15zM474.2 479.7h1.15v16.3h-1.15zM498.2 479.7h1.15v16.3h-1.15zM543.3 479.7h1.15v16.3h-1.15zM551.3 479.7h1.15v16.3h-1.15zM557.3 479.7h1.15v16.3h-1.15zM619.4 479.7h1.15v16.3h-1.15zM648.5 479.7h1.15v16.3h-1.15zM445.1 496.0h1.15v16.3h-1.15zM449.1 496.0h1.15v16.3h-1.15zM457.2 496.0h1.15v16.3h-1.15zM484.2 496.0h1.15v16.3h-1.15zM499.2 496.0h1.15v16.3h-1.15zM528.3 496.0h1.15v16.3h-1.15zM342.0 512.2h1.15v16.3h-1.15zM348.0 512.2h1.15v16.3h-1.15zM358.0 512.2h1.15v16.3h-1.15zM359.0 512.2h1.15v16.3h-1.15zM395.1 512.2h1.15v16.3h-1.15zM469.2 512.2h1.15v16.3h-1.15zM351.0 528.5h1.15v16.3h-1.15zM355.0 528.5h1.15v16.3h-1.15zM357.0 528.5h1.15v16.3h-1.15zM367.0 528.5h1.15v16.3h-1.15zM372.0 528.5h1.15v16.3h-1.15zM383.0 528.5h1.15v16.3h-1.15zM384.0 528.5h1.15v16.3h-1.15zM400.1 528.5h1.15v16.3h-1.15zM434.1 528.5h1.15v16.3h-1.15zM436.1 528.5h1.15v16.3h-1.15zM485.2 528.5h1.15v16.3h-1.15zM489.2 528.5h1.15v16.3h-1.15zM499.2 528.5h1.15v16.3h-1.15zM512.3 528.5h1.15v16.3h-1.15zM520.3 528.5h1.15v16.3h-1.15zM331.9 544.7h1.15v16.3h-1.15zM333.9 544.7h1.15v16.3h-1.15zM358.0 544.7h1.15v16.3h-1.15zM359.0 544.7h1.15v16.3h-1.15zM370.0 544.7h1.15v16.3h-1.15zM385.0 544.7h1.15v16.3h-1.15zM387.0 544.7h1.15v16.3h-1.15zM397.1 544.7h1.15v16.3h-1.15zM326.9 561.0h1.15v16.3h-1.15zM341.0 561.0h1.15v16.3h-1.15zM350.0 561.0h1.15v16.3h-1.15zM353.0 561.0h1.15v16.3h-1.15zM354.0 561.0h1.15v16.3h-1.15zM372.0 561.0h1.15v16.3h-1.15zM383.0 561.0h1.15v16.3h-1.15zM385.0 561.0h1.15v16.3h-1.15zM399.1 561.0h1.15v16.3h-1.15zM400.1 561.0h1.15v16.3h-1.15zM407.1 561.0h1.15v16.3h-1.15zM310.9 577.3h1.15v16.3h-1.15zM316.9 577.3h1.15v16.3h-1.15zM317.9 577.3h1.15v16.3h-1.15zM347.0 577.3h1.15v16.3h-1.15zM348.0 577.3h1.15v16.3h-1.15zM352.0 577.3h1.15v16.3h-1.15zM366.0 577.3h1.15v16.3h-1.15zM378.0 577.3h1.15v16.3h-1.15zM379.0 577.3h1.15v16.3h-1.15zM392.0 577.3h1.15v16.3h-1.15zM340.0 593.5h1.15v16.3h-1.15zM351.0 593.5h1.15v16.3h-1.15zM356.0 593.5h1.15v16.3h-1.15zM324.9 609.8h1.15v16.3h-1.15zM332.9 609.8h1.15v16.3h-1.15z" fill="#f9e1c3"/>
<path d="M400.1 479.7h1.15v16.3h-1.15zM411.1 479.7h1.15v16.3h-1.15zM409.1 512.2h1.15v16.3h-1.15zM438.1 512.2h1.15v16.3h-1.15z" fill="#ed936f"/>
<path d="M401.1 479.7h1.15v16.3h-1.15zM407.1 479.7h1.15v16.3h-1.15zM408.1 479.7h1.15v16.3h-1.15zM423.1 512.2h1.15v16.3h-1.15z" fill="#e78769"/>
<path d="M402.1 479.7h1.15v16.3h-1.15zM404.1 479.7h1.15v16.3h-1.15zM410.1 479.7h1.15v16.3h-1.15zM415.1 479.7h1.15v16.3h-1.15zM402.1 512.2h1.15v16.3h-1.15zM403.1 512.2h1.15v16.3h-1.15zM411.1 512.2h1.15v16.3h-1.15z" fill="#ed8d6f"/>
<path d="M409.1 479.7h1.15v16.3h-1.15zM407.1 512.2h1.15v16.3h-1.15z" fill="#ed8769"/>
<path d="M412.1 479.7h1.15v16.3h-1.15zM414.1 479.7h1.15v16.3h-1.15zM416.1 479.7h1.15v16.3h-1.15zM425.1 479.7h1.15v16.3h-1.15zM432.1 479.7h1.15v16.3h-1.15zM320.9 496.0h1.15v16.3h-1.15zM393.0 496.0h1.15v16.3h-1.15zM433.1 496.0h1.15v16.3h-1.15zM311.9 512.2h1.15v16.3h-1.15zM413.1 512.2h1.15v16.3h-1.15zM417.1 512.2h1.15v16.3h-1.15zM421.1 512.2h1.15v16.3h-1.15zM425.1 512.2h1.15v16.3h-1.15zM426.1 512.2h1.15v16.3h-1.15zM427.1 512.2h1.15v16.3h-1.15zM428.1 512.2h1.15v16.3h-1.15zM439.1 512.2h1.15v16.3h-1.15zM407.1 593.5h1.15v16.3h-1.15z" fill="#f3ab87"/>
<path d="M420.1 479.7h1.15v16.3h-1.15zM313.9 512.2h1.15v16.3h-1.15z" fill="#f39f7b"/>
<path d="M423.1 479.7h1.15v16.3h-1.15z" fill="#e16f51"/>
<path d="M424.1 479.7h1.15v16.3h-1.15z" fill="#e7755d"/>
<path d="M433.1 479.7h1.15v16.3h-1.15zM433.1 512.2h1.15v16.3h-1.15zM434.1 512.2h1.15v16.3h-1.15z" fill="#e78163"/>
<path d="M434.1 479.7h1.15v16.3h-1.15zM435.1 512.2h1.15v16.3h-1.15z" fill="#e77557"/>
<path d="M435.1 479.7h1.15v16.3h-1.15z" fill="#e1634b"/>
<path d="M436.1 479.7h1.15v16.3h-1.15zM436.1 512.2h1.15v16.3h-1.15z" fill="#db5d45"/>
<path d="M444.1 479.7h1.15v16.3h-1.15zM484.2 479.7h1.15v16.3h-1.15zM334.9 496.0h1.15v16.3h-1.15zM412.1 496.0h1.15v16.3h-1.15zM451.1 496.0h1.15v16.3h-1.15zM319.9 512.2h1.15v16.3h-1.15zM317.9 544.7h1.15v16.3h-1.15zM434.1 593.5h1.15v16.3h-1.15zM309.9 609.8h1.15v16.3h-1.15z" fill="#f9c9b1"/>
<path d="M461.2 479.7h1.15v16.3h-1.15zM462.2 479.7h1.15v16.3h-1.15zM476.2 479.7h1.15v16.3h-1.15zM505.2 479.7h1.15v16.3h-1.15zM516.3 479.7h1.15v16.3h-1.15zM518.3 479.7h1.15v16.3h-1.15zM532.3 479.7h1.15v16.3h-1.15zM539.3 479.7h1.15v16.3h-1.15zM540.3 479.7h1.15v16.3h-1.15zM549.3 479.7h1.15v16.3h-1.15zM552.3 479.7h1.15v16.3h-1.15zM553.3 479.7h1.15v16.3h-1.15zM556.3 479.7h1.15v16.3h-1.15zM558.3 479.7h1.15v16.3h-1.15zM559.3 479.7h1.15v16.3h-1.15zM563.3 479.7h1.15v16.3h-1.15zM564.3 479.7h1.15v16.3h-1.15zM574.4 479.7h1.15v16.3h-1.15zM575.4 479.7h1.15v16.3h-1.15zM576.4 479.7h1.15v16.3h-1.15zM577.4 479.7h1.15v16.3h-1.15zM583.4 479.7h1.15v16.3h-1.15zM584.4 479.7h1.15v16.3h-1.15zM588.4 479.7h1.15v16.3h-1.15zM589.4 479.7h1.15v16.3h-1.15zM590.4 479.7h1.15v16.3h-1.15zM596.4 479.7h1.15v16.3h-1.15zM598.4 479.7h1.15v16.3h-1.15zM602.4 479.7h1.15v16.3h-1.15zM603.4 479.7h1.15v16.3h-1.15zM604.4 479.7h1.15v16.3h-1.15zM611.4 479.7h1.15v16.3h-1.15zM612.4 479.7h1.15v16.3h-1.15zM613.4 479.7h1.15v16.3h-1.15zM614.4 479.7h1.15v16.3h-1.15zM623.5 479.7h1.15v16.3h-1.15zM624.5 479.7h1.15v16.3h-1.15zM625.5 479.7h1.15v16.3h-1.15zM626.5 479.7h1.15v16.3h-1.15zM627.5 479.7h1.15v16.3h-1.15zM628.5 479.7h1.15v16.3h-1.15zM629.5 479.7h1.15v16.3h-1.15zM631.5 479.7h1.15v16.3h-1.15zM632.5 479.7h1.15v16.3h-1.15zM633.5 479.7h1.15v16.3h-1.15zM634.5 479.7h1.15v16.3h-1.15zM637.5 479.7h1.15v16.3h-1.15zM638.5 479.7h1.15v16.3h-1.15zM639.5 479.7h1.15v16.3h-1.15zM443.1 496.0h1.15v16.3h-1.15zM448.1 496.0h1.15v16.3h-1.15zM466.2 496.0h1.15v16.3h-1.15zM467.2 496.0h1.15v16.3h-1.15zM468.2 496.0h1.15v16.3h-1.15zM469.2 496.0h1.15v16.3h-1.15zM471.2 496.0h1.15v16.3h-1.15zM479.2 496.0h1.15v16.3h-1.15zM481.2 496.0h1.15v16.3h-1.15zM482.2 496.0h1.15v16.3h-1.15zM486.2 496.0h1.15v16.3h-1.15zM492.2 496.0h1.15v16.3h-1.15zM494.2 496.0h1.15v16.3h-1.15zM496.2 496.0h1.15v16.3h-1.15zM497.2 496.0h1.15v16.3h-1.15zM501.2 496.0h1.15v16.3h-1.15zM509.3 496.0h1.15v16.3h-1.15zM513.3 496.0h1.15v16.3h-1.15zM515.3 496.0h1.15v16.3h-1.15zM516.3 496.0h1.15v16.3h-1.15zM518.3 496.0h1.15v16.3h-1.15zM525.3 496.0h1.15v16.3h-1.15zM526.3 496.0h1.15v16.3h-1.15zM535.3 496.0h1.15v16.3h-1.15zM537.3 496.0h1.15v16.3h-1.15zM538.3 496.0h1.15v16.3h-1.15zM547.3 496.0h1.15v16.3h-1.15zM573.4 496.0h1.15v16.3h-1.15zM586.4 496.0h1.15v16.3h-1.15zM587.4 496.0h1.15v16.3h-1.15zM594.4 496.0h1.15v16.3h-1.15zM595.4 496.0h1.15v16.3h-1.15zM614.4 496.0h1.15v16.3h-1.15zM645.5 496.0h1.15v16.3h-1.15zM647.5 496.0h1.15v16.3h-1.15zM649.5 496.0h1.15v16.3h-1.15zM362.0 512.2h1.15v16.3h-1.15zM372.0 512.2h1.15v16.3h-1.15zM373.0 512.2h1.15v16.3h-1.15zM385.0 512.2h1.15v16.3h-1.15zM386.0 512.2h1.15v16.3h-1.15zM390.0 512.2h1.15v16.3h-1.15zM396.1 512.2h1.15v16.3h-1.15zM444.1 512.2h1.15v16.3h-1.15zM456.2 512.2h1.15v16.3h-1.15zM459.2 512.2h1.15v16.3h-1.15zM460.2 512.2h1.15v16.3h-1.15zM318.9 528.5h1.15v16.3h-1.15zM330.9 528.5h1.15v16.3h-1.15zM370.0 528.5h1.15v16.3h-1.15zM371.0 528.5h1.15v16.3h-1.15zM390.0 528.5h1.15v16.3h-1.15zM391.0 528.5h1.15v16.3h-1.15zM395.1 528.5h1.15v16.3h-1.15zM396.1 528.5h1.15v16.3h-1.15zM398.1 528.5h1.15v16.3h-1.15zM401.1 528.5h1.15v16.3h-1.15zM402.1 528.5h1.15v16.3h-1.15zM404.1 528.5h1.15v16.3h-1.15zM409.1 528.5h1.15v16.3h-1.15zM411.1 528.5h1.15v16.3h-1.15zM415.1 528.5h1.15v16.3h-1.15zM424.1 528.5h1.15v16.3h-1.15zM438.1 528.5h1.15v16.3h-1.15zM451.1 528.5h1.15v16.3h-1.15zM483.2 528.5h1.15v16.3h-1.15zM486.2 528.5h1.15v16.3h-1.15zM488.2 528.5h1.15v16.3h-1.15zM490.2 528.5h1.15v16.3h-1.15zM491.2 528.5h1.15v16.3h-1.15zM492.2 528.5h1.15v16.3h-1.15zM493.2 528.5h1.15v16.3h-1.15zM497.2 528.5h1.15v16.3h-1.15zM502.2 528.5h1.15v16.3h-1.15zM509.3 528.5h1.15v16.3h-1.15zM510.3 528.5h1.15v16.3h-1.15zM515.3 528.5h1.15v16.3h-1.15zM524.3 528.5h1.15v16.3h-1.15zM525.3 528.5h1.15v16.3h-1.15zM526.3 528.5h1.15v16.3h-1.15zM527.3 528.5h1.15v16.3h-1.15zM533.3 528.5h1.15v16.3h-1.15zM539.3 528.5h1.15v16.3h-1.15zM546.3 528.5h1.15v16.3h-1.15zM557.3 528.5h1.15v16.3h-1.15zM558.3 528.5h1.15v16.3h-1.15zM559.3 528.5h1.15v16.3h-1.15zM560.3 528.5h1.15v16.3h-1.15zM561.3 528.5h1.15v16.3h-1.15zM562.3 528.5h1.15v16.3h-1.15zM564.3 528.5h1.15v16.3h-1.15zM573.4 528.5h1.15v16.3h-1.15zM363.0 544.7h1.15v16.3h-1.15zM373.0 544.7h1.15v16.3h-1.15zM408.1 544.7h1.15v16.3h-1.15zM453.2 544.7h1.15v16.3h-1.15zM324.9 561.0h1.15v16.3h-1.15zM325.9 561.0h1.15v16.3h-1.15zM330.9 561.0h1.15v16.3h-1.15zM331.9 561.0h1.15v16.3h-1.15zM332.9 561.0h1.15v16.3h-1.15zM333.9 561.0h1.15v16.3h-1.15zM363.0 561.0h1.15v16.3h-1.15zM386.0 561.0h1.15v16.3h-1.15zM387.0 561.0h1.15v16.3h-1.15zM398.1 561.0h1.15v16.3h-1.15zM401.1 561.0h1.15v16.3h-1.15zM402.1 561.0h1.15v16.3h-1.15zM409.1 561.0h1.15v16.3h-1.15zM410.1 561.0h1.15v16.3h-1.15zM411.1 561.0h1.15v16.3h-1.15zM424.1 561.0h1.15v16.3h-1.15zM433.1 561.0h1.15v16.3h-1.15zM434.1 561.0h1.15v16.3h-1.15zM440.1 561.0h1.15v16.3h-1.15zM453.2 561.0h1.15v16.3h-1.15zM484.2 561.0h1.15v16.3h-1.15zM489.2 561.0h1.15v16.3h-1.15zM499.2 561.0h1.15v16.3h-1.15zM520.3 561.0h1.15v16.3h-1.15zM521.3 561.0h1.15v16.3h-1.15zM528.3 561.0h1.15v16.3h-1.15zM548.3 561.0h1.15v16.3h-1.15zM573.4 561.0h1.15v16.3h-1.15zM647.5 561.0h1.15v16.3h-1.15zM648.5 561.0h1.15v16.3h-1.15zM318.9 577.3h1.15v16.3h-1.15zM323.9 577.3h1.15v16.3h-1.15zM326.9 577.3h1.15v16.3h-1.15zM334.9 577.3h1.15v16.3h-1.15zM341.0 577.3h1.15v16.3h-1.15zM342.0 577.3h1.15v16.3h-1.15zM350.0 577.3h1.15v16.3h-1.15zM354.0 577.3h1.15v16.3h-1.15zM357.0 577.3h1.15v16.3h-1.15zM359.0 577.3h1.15v16.3h-1.15zM360.0 577.3h1.15v16.3h-1.15zM367.0 577.3h1.15v16.3h-1.15zM370.0 577.3h1.15v16.3h-1.15zM372.0 577.3h1.15v16.3h-1.15zM382.0 577.3h1.15v16.3h-1.15zM383.0 577.3h1.15v16.3h-1.15zM384.0 577.3h1.15v16.3h-1.15zM385.0 577.3h1.15v16.3h-1.15zM386.0 577.3h1.15v16.3h-1.15zM388.0 577.3h1.15v16.3h-1.15zM391.0 577.3h1.15v16.3h-1.15zM395.1 577.3h1.15v16.3h-1.15zM397.1 577.3h1.15v16.3h-1.15zM435.1 577.3h1.15v16.3h-1.15zM522.3 577.3h1.15v16.3h-1.15zM318.9 593.5h1.15v16.3h-1.15zM323.9 593.5h1.15v16.3h-1.15zM357.0 593.5h1.15v16.3h-1.15zM359.0 593.5h1.15v16.3h-1.15zM360.0 593.5h1.15v16.3h-1.15zM370.0 593.5h1.15v16.3h-1.15zM371.0 593.5h1.15v16.3h-1.15zM382.0 593.5h1.15v16.3h-1.15zM383.0 593.5h1.15v16.3h-1.15zM384.0 593.5h1.15v16.3h-1.15zM386.0 593.5h1.15v16.3h-1.15zM391.0 593.5h1.15v16.3h-1.15zM394.0 593.5h1.15v16.3h-1.15zM396.1 593.5h1.15v16.3h-1.15zM398.1 593.5h1.15v16.3h-1.15zM418.1 593.5h1.15v16.3h-1.15zM420.1 593.5h1.15v16.3h-1.15zM421.1 593.5h1.15v16.3h-1.15zM425.1 593.5h1.15v16.3h-1.15zM428.1 593.5h1.15v16.3h-1.15zM430.1 593.5h1.15v16.3h-1.15zM452.2 593.5h1.15v16.3h-1.15zM522.3 593.5h1.15v16.3h-1.15zM330.9 609.8h1.15v16.3h-1.15zM364.0 609.8h1.15v16.3h-1.15zM368.0 609.8h1.15v16.3h-1.15zM376.0 609.8h1.15v16.3h-1.15zM379.0 609.8h1.15v16.3h-1.15zM380.0 609.8h1.15v16.3h-1.15zM381.0 609.8h1.15v16.3h-1.15zM388.0 609.8h1.15v16.3h-1.15zM389.0 609.8h1.15v16.3h-1.15zM393.0 609.8h1.15v16.3h-1.15zM407.1 609.8h1.15v16.3h-1.15zM409.1 609.8h1.15v16.3h-1.15zM423.1 609.8h1.15v16.3h-1.15zM434.1 609.8h1.15v16.3h-1.15zM437.1 609.8h1.15v16.3h-1.15zM321.9 626.0h1.15v16.3h-1.15zM393.0 626.0h1.15v16.3h-1.15zM403.1 626.0h1.15v16.3h-1.15zM408.1 626.0h1.15v16.3h-1.15zM411.1 626.0h1.15v16.3h-1.15zM424.1 626.0h1.15v16.3h-1.15zM438.1 626.0h1.15v16.3h-1.15zM322.9 642.3h1.15v16.3h-1.15zM392.0 642.3h1.15v16.3h-1.15zM393.0 642.3h1.15v16.3h-1.15zM407.1 642.3h1.15v16.3h-1.15zM410.1 642.3h1.15v16.3h-1.15zM423.1 642.3h1.15v16.3h-1.15zM424.1 642.3h1.15v16.3h-1.15z" fill="#f9e7cf"/>
<path d="M475.2 479.7h1.15v16.3h-1.15zM519.3 479.7h1.15v16.3h-1.15zM566.4 479.7h1.15v16.3h-1.15zM567.4 479.7h1.15v16.3h-1.15zM569.4 479.7h1.15v16.3h-1.15zM587.4 479.7h1.15v16.3h-1.15zM644.5 479.7h1.15v16.3h-1.15zM646.5 479.7h1.15v16.3h-1.15zM454.2 496.0h1.15v16.3h-1.15zM458.2 496.0h1.15v16.3h-1.15zM464.2 496.0h1.15v16.3h-1.15zM489.2 496.0h1.15v16.3h-1.15zM493.2 496.0h1.15v16.3h-1.15zM512.3 496.0h1.15v16.3h-1.15zM585.4 496.0h1.15v16.3h-1.15zM593.4 496.0h1.15v16.3h-1.15zM374.0 512.2h1.15v16.3h-1.15zM449.1 512.2h1.15v16.3h-1.15zM325.9 528.5h1.15v16.3h-1.15zM423.1 528.5h1.15v16.3h-1.15zM439.1 528.5h1.15v16.3h-1.15zM501.2 528.5h1.15v16.3h-1.15zM503.2 528.5h1.15v16.3h-1.15zM506.2 528.5h1.15v16.3h-1.15zM507.2 528.5h1.15v16.3h-1.15zM514.3 528.5h1.15v16.3h-1.15zM550.3 528.5h1.15v16.3h-1.15zM553.3 528.5h1.15v16.3h-1.15zM556.3 528.5h1.15v16.3h-1.15zM407.1 544.7h1.15v16.3h-1.15zM319.9 561.0h1.15v16.3h-1.15zM334.9 561.0h1.15v16.3h-1.15zM360.0 561.0h1.15v16.3h-1.15zM369.0 561.0h1.15v16.3h-1.15zM370.0 561.0h1.15v16.3h-1.15zM371.0 561.0h1.15v16.3h-1.15zM325.9 577.3h1.15v16.3h-1.15zM329.9 577.3h1.15v16.3h-1.15zM351.0 577.3h1.15v16.3h-1.15zM368.0 577.3h1.15v16.3h-1.15zM369.0 577.3h1.15v16.3h-1.15zM371.0 577.3h1.15v16.3h-1.15zM389.0 577.3h1.15v16.3h-1.15zM319.9 593.5h1.15v16.3h-1.15zM325.9 593.5h1.15v16.3h-1.15zM342.0 593.5h1.15v16.3h-1.15zM368.0 593.5h1.15v16.3h-1.15zM369.0 593.5h1.15v16.3h-1.15zM390.0 593.5h1.15v16.3h-1.15zM427.1 593.5h1.15v16.3h-1.15zM431.1 593.5h1.15v16.3h-1.15zM432.1 593.5h1.15v16.3h-1.15zM401.1 609.8h1.15v16.3h-1.15zM424.1 609.8h1.15v16.3h-1.15zM435.1 609.8h1.15v16.3h-1.15zM433.1 642.3h1.15v16.3h-1.15z" fill="#f9e7c9"/>
<path d="M541.3 479.7h1.15v16.3h-1.15zM554.3 479.7h1.15v16.3h-1.15zM560.3 479.7h1.15v16.3h-1.15zM579.4 479.7h1.15v16.3h-1.15zM580.4 479.7h1.15v16.3h-1.15zM582.4 479.7h1.15v16.3h-1.15zM591.4 479.7h1.15v16.3h-1.15zM592.4 479.7h1.15v16.3h-1.15zM606.4 479.7h1.15v16.3h-1.15zM607.4 479.7h1.15v16.3h-1.15zM609.4 479.7h1.15v16.3h-1.15zM620.4 479.7h1.15v16.3h-1.15zM622.5 479.7h1.15v16.3h-1.15zM635.5 479.7h1.15v16.3h-1.15zM455.2 496.0h1.15v16.3h-1.15zM462.2 496.0h1.15v16.3h-1.15zM470.2 496.0h1.15v16.3h-1.15zM472.2 496.0h1.15v16.3h-1.15zM473.2 496.0h1.15v16.3h-1.15zM474.2 496.0h1.15v16.3h-1.15zM475.2 496.0h1.15v16.3h-1.15zM476.2 496.0h1.15v16.3h-1.15zM477.2 496.0h1.15v16.3h-1.15zM488.2 496.0h1.15v16.3h-1.15zM495.2 496.0h1.15v16.3h-1.15zM498.2 496.0h1.15v16.3h-1.15zM505.2 496.0h1.15v16.3h-1.15zM506.2 496.0h1.15v16.3h-1.15zM507.2 496.0h1.15v16.3h-1.15zM508.2 496.0h1.15v16.3h-1.15zM517.3 496.0h1.15v16.3h-1.15zM542.3 496.0h1.15v16.3h-1.15zM543.3 496.0h1.15v16.3h-1.15zM548.3 496.0h1.15v16.3h-1.15zM549.3 496.0h1.15v16.3h-1.15zM553.3 496.0h1.15v16.3h-1.15zM556.3 496.0h1.15v16.3h-1.15zM561.3 496.0h1.15v16.3h-1.15zM564.3 496.0h1.15v16.3h-1.15zM566.4 496.0h1.15v16.3h-1.15zM567.4 496.0h1.15v16.3h-1.15zM568.4 496.0h1.15v16.3h-1.15zM569.4 496.0h1.15v16.3h-1.15zM574.4 496.0h1.15v16.3h-1.15zM575.4 496.0h1.15v16.3h-1.15zM583.4 496.0h1.15v16.3h-1.15zM590.4 496.0h1.15v16.3h-1.15zM597.4 496.0h1.15v16.3h-1.15zM598.4 496.0h1.15v16.3h-1.15zM601.4 496.0h1.15v16.3h-1.15zM603.4 496.0h1.15v16.3h-1.15zM619.4 496.0h1.15v16.3h-1.15zM630.5 496.0h1.15v16.3h-1.15zM637.5 496.0h1.15v16.3h-1.15zM638.5 496.0h1.15v16.3h-1.15zM639.5 496.0h1.15v16.3h-1.15zM644.5 496.0h1.15v16.3h-1.15zM646.5 496.0h1.15v16.3h-1.15zM361.0 512.2h1.15v16.3h-1.15zM363.0 512.2h1.15v16.3h-1.15zM442.1 512.2h1.15v16.3h-1.15zM443.1 512.2h1.15v16.3h-1.15zM446.1 512.2h1.15v16.3h-1.15zM447.1 512.2h1.15v16.3h-1.15zM448.1 512.2h1.15v16.3h-1.15zM454.2 512.2h1.15v16.3h-1.15zM455.2 512.2h1.15v16.3h-1.15zM457.2 512.2h1.15v16.3h-1.15zM458.2 512.2h1.15v16.3h-1.15zM464.2 512.2h1.15v16.3h-1.15zM466.2 512.2h1.15v16.3h-1.15zM522.3 512.2h1.15v16.3h-1.15zM529.3 512.2h1.15v16.3h-1.15zM573.4 512.2h1.15v16.3h-1.15zM648.5 512.2h1.15v16.3h-1.15zM332.9 528.5h1.15v16.3h-1.15zM333.9 528.5h1.15v16.3h-1.15zM363.0 528.5h1.15v16.3h-1.15zM373.0 528.5h1.15v16.3h-1.15zM374.0 528.5h1.15v16.3h-1.15zM397.1 528.5h1.15v16.3h-1.15zM412.1 528.5h1.15v16.3h-1.15zM417.1 528.5h1.15v16.3h-1.15zM419.1 528.5h1.15v16.3h-1.15zM429.1 528.5h1.15v16.3h-1.15zM437.1 528.5h1.15v16.3h-1.15zM440.1 528.5h1.15v16.3h-1.15zM442.1 528.5h1.15v16.3h-1.15zM443.1 528.5h1.15v16.3h-1.15zM445.1 528.5h1.15v16.3h-1.15zM449.1 528.5h1.15v16.3h-1.15zM456.2 528.5h1.15v16.3h-1.15zM460.2 528.5h1.15v16.3h-1.15zM482.2 528.5h1.15v16.3h-1.15zM494.2 528.5h1.15v16.3h-1.15zM495.2 528.5h1.15v16.3h-1.15zM496.2 528.5h1.15v16.3h-1.15zM516.3 528.5h1.15v16.3h-1.15zM517.3 528.5h1.15v16.3h-1.15zM531.3 528.5h1.15v16.3h-1.15zM544.3 528.5h1.15v16.3h-1.15zM545.3 528.5h1.15v16.3h-1.15zM554.3 528.5h1.15v16.3h-1.15zM563.3 528.5h1.15v16.3h-1.15zM565.4 528.5h1.15v16.3h-1.15zM566.4 528.5h1.15v16.3h-1.15zM585.4 528.5h1.15v16.3h-1.15zM586.4 528.5h1.15v16.3h-1.15zM587.4 528.5h1.15v16.3h-1.15zM593.4 528.5h1.15v16.3h-1.15zM595.4 528.5h1.15v16.3h-1.15zM619.4 528.5h1.15v16.3h-1.15zM630.5 528.5h1.15v16.3h-1.15zM647.5 528.5h1.15v16.3h-1.15zM648.5 528.5h1.15v16.3h-1.15zM649.5 528.5h1.15v16.3h-1.15zM401.1 544.7h1.15v16.3h-1.15zM402.1 544.7h1.15v16.3h-1.15zM404.1 544.7h1.15v16.3h-1.15zM409.1 544.7h1.15v16.3h-1.15zM415.1 544.7h1.15v16.3h-1.15zM452.2 544.7h1.15v16.3h-1.15zM456.2 544.7h1.15v16.3h-1.15zM459.2 544.7h1.15v16.3h-1.15zM460.2 544.7h1.15v16.3h-1.15zM483.2 544.7h1.15v16.3h-1.15zM573.4 544.7h1.15v16.3h-1.15zM595.4 544.7h1.15v16.3h-1.15zM619.4 544.7h1.15v16.3h-1.15zM649.5 544.7h1.15v16.3h-1.15zM361.0 561.0h1.15v16.3h-1.15zM362.0 561.0h1.15v16.3h-1.15zM373.0 561.0h1.15v16.3h-1.15zM404.1 561.0h1.15v16.3h-1.15zM415.1 561.0h1.15v16.3h-1.15zM418.1 561.0h1.15v16.3h-1.15zM421.1 561.0h1.15v16.3h-1.15zM422.1 561.0h1.15v16.3h-1.15zM423.1 561.0h1.15v16.3h-1.15zM426.1 561.0h1.15v16.3h-1.15zM428.1 561.0h1.15v16.3h-1.15zM437.1 561.0h1.15v16.3h-1.15zM439.1 561.0h1.15v16.3h-1.15zM441.1 561.0h1.15v16.3h-1.15zM444.1 561.0h1.15v16.3h-1.15zM450.1 561.0h1.15v16.3h-1.15zM456.2 561.0h1.15v16.3h-1.15zM459.2 561.0h1.15v16.3h-1.15zM460.2 561.0h1.15v16.3h-1.15zM481.2 561.0h1.15v16.3h-1.15zM482.2 561.0h1.15v16.3h-1.15zM486.2 561.0h1.15v16.3h-1.15zM490.2 561.0h1.15v16.3h-1.15zM491.2 561.0h1.15v16.3h-1.15zM492.2 561.0h1.15v16.3h-1.15zM527.3 561.0h1.15v16.3h-1.15zM529.3 561.0h1.15v16.3h-1.15zM538.3 561.0h1.15v16.3h-1.15zM547.3 561.0h1.15v16.3h-1.15zM555.3 561.0h1.15v16.3h-1.15zM585.4 561.0h1.15v16.3h-1.15zM586.4 561.0h1.15v16.3h-1.15zM593.4 561.0h1.15v16.3h-1.15zM595.4 561.0h1.15v16.3h-1.15zM602.4 561.0h1.15v16.3h-1.15zM319.9 577.3h1.15v16.3h-1.15zM330.9 577.3h1.15v16.3h-1.15zM331.9 577.3h1.15v16.3h-1.15zM335.9 577.3h1.15v16.3h-1.15zM361.0 577.3h1.15v16.3h-1.15zM402.1 577.3h1.15v16.3h-1.15zM409.1 577.3h1.15v16.3h-1.15zM451.1 577.3h1.15v16.3h-1.15zM453.2 577.3h1.15v16.3h-1.15zM460.2 577.3h1.15v16.3h-1.15zM483.2 577.3h1.15v16.3h-1.15zM485.2 577.3h1.15v16.3h-1.15zM529.3 577.3h1.15v16.3h-1.15zM547.3 577.3h1.15v16.3h-1.15zM573.4 577.3h1.15v16.3h-1.15zM326.9 593.5h1.15v16.3h-1.15zM331.9 593.5h1.15v16.3h-1.15zM332.9 593.5h1.15v16.3h-1.15zM363.0 593.5h1.15v16.3h-1.15zM385.0 593.5h1.15v16.3h-1.15zM387.0 593.5h1.15v16.3h-1.15zM397.1 593.5h1.15v16.3h-1.15zM441.1 593.5h1.15v16.3h-1.15zM451.1 593.5h1.15v16.3h-1.15zM453.2 593.5h1.15v16.3h-1.15zM520.3 593.5h1.15v16.3h-1.15zM521.3 593.5h1.15v16.3h-1.15zM529.3 593.5h1.15v16.3h-1.15zM530.3 593.5h1.15v16.3h-1.15zM573.4 593.5h1.15v16.3h-1.15zM593.4 593.5h1.15v16.3h-1.15zM595.4 593.5h1.15v16.3h-1.15zM355.0 609.8h1.15v16.3h-1.15zM356.0 609.8h1.15v16.3h-1.15zM366.0 609.8h1.15v16.3h-1.15zM367.0 609.8h1.15v16.3h-1.15zM375.0 609.8h1.15v16.3h-1.15zM377.0 609.8h1.15v16.3h-1.15zM391.0 609.8h1.15v16.3h-1.15zM394.0 609.8h1.15v16.3h-1.15zM398.1 609.8h1.15v16.3h-1.15zM399.1 609.8h1.15v16.3h-1.15zM402.1 609.8h1.15v16.3h-1.15zM403.1 609.8h1.15v16.3h-1.15zM404.1 609.8h1.15v16.3h-1.15zM408.1 609.8h1.15v16.3h-1.15zM428.1 609.8h1.15v16.3h-1.15zM433.1 609.8h1.15v16.3h-1.15zM439.1 609.8h1.15v16.3h-1.15zM440.1 609.8h1.15v16.3h-1.15zM451.1 609.8h1.15v16.3h-1.15zM453.2 609.8h1.15v16.3h-1.15zM522.3 609.8h1.15v16.3h-1.15zM313.9 626.0h1.15v16.3h-1.15zM314.9 626.0h1.15v16.3h-1.15zM320.9 626.0h1.15v16.3h-1.15zM322.9 626.0h1.15v16.3h-1.15zM336.9 626.0h1.15v16.3h-1.15zM364.0 626.0h1.15v16.3h-1.15zM378.0 626.0h1.15v16.3h-1.15zM381.0 626.0h1.15v16.3h-1.15zM388.0 626.0h1.15v16.3h-1.15zM392.0 626.0h1.15v16.3h-1.15zM400.1 626.0h1.15v16.3h-1.15zM404.1 626.0h1.15v16.3h-1.15zM409.1 626.0h1.15v16.3h-1.15zM410.1 626.0h1.15v16.3h-1.15zM419.1 626.0h1.15v16.3h-1.15zM421.1 626.0h1.15v16.3h-1.15zM422.1 626.0h1.15v16.3h-1.15zM427.1 626.0h1.15v16.3h-1.15zM429.1 626.0h1.15v16.3h-1.15zM437.1 626.0h1.15v16.3h-1.15zM439.1 626.0h1.15v16.3h-1.15zM440.1 626.0h1.15v16.3h-1.15zM521.3 626.0h1.15v16.3h-1.15zM523.3 626.0h1.15v16.3h-1.15zM320.9 642.3h1.15v16.3h-1.15zM336.9 642.3h1.15v16.3h-1.15zM379.0 642.3h1.15v16.3h-1.15zM401.1 642.3h1.15v16.3h-1.15zM402.1 642.3h1.15v16.3h-1.15zM404.1 642.3h1.15v16.3h-1.15zM411.1 642.3h1.15v16.3h-1.15zM415.1 642.3h1.15v16.3h-1.15zM425.1 642.3h1.15v16.3h-1.15zM438.1 642.3h1.15v16.3h-1.15zM439.1 642.3h1.15v16.3h-1.15zM451.1 642.3h1.15v16.3h-1.15zM521.3 642.3h1.15v16.3h-1.15zM522.3 642.3h1.15v16.3h-1.15zM523.3 642.3h1.15v16.3h-1.15zM529.3 642.3h1.15v16.3h-1.15zM548.3 642.3h1.15v16.3h-1.15zM573.4 642.3h1.15v16.3h-1.15zM594.4 642.3h1.15v16.3h-1.15zM633.5 642.3h1.15v16.3h-1.15zM647.5 642.3h1.15v16.3h-1.15z" fill="#f9edd5"/>
<path d="M544.3 479.7h1.15v16.3h-1.15zM545.3 479.7h1.15v16.3h-1.15zM546.3 479.7h1.15v16.3h-1.15zM561.3 479.7h1.15v16.3h-1.15zM571.4 479.7h1.15v16.3h-1.15zM581.4 479.7h1.15v16.3h-1.15zM597.4 479.7h1.15v16.3h-1.15zM608.4 479.7h1.15v16.3h-1.15zM610.4 479.7h1.15v16.3h-1.15zM616.4 479.7h1.15v16.3h-1.15zM617.4 479.7h1.15v16.3h-1.15zM618.4 479.7h1.15v16.3h-1.15zM641.5 479.7h1.15v16.3h-1.15zM642.5 479.7h1.15v16.3h-1.15zM461.2 496.0h1.15v16.3h-1.15zM504.2 496.0h1.15v16.3h-1.15zM519.3 496.0h1.15v16.3h-1.15zM531.3 496.0h1.15v16.3h-1.15zM532.3 496.0h1.15v16.3h-1.15zM541.3 496.0h1.15v16.3h-1.15zM551.3 496.0h1.15v16.3h-1.15zM552.3 496.0h1.15v16.3h-1.15zM554.3 496.0h1.15v16.3h-1.15zM558.3 496.0h1.15v16.3h-1.15zM562.3 496.0h1.15v16.3h-1.15zM563.3 496.0h1.15v16.3h-1.15zM565.4 496.0h1.15v16.3h-1.15zM570.4 496.0h1.15v16.3h-1.15zM576.4 496.0h1.15v16.3h-1.15zM577.4 496.0h1.15v16.3h-1.15zM591.4 496.0h1.15v16.3h-1.15zM599.4 496.0h1.15v16.3h-1.15zM600.4 496.0h1.15v16.3h-1.15zM613.4 496.0h1.15v16.3h-1.15zM620.4 496.0h1.15v16.3h-1.15zM624.5 496.0h1.15v16.3h-1.15zM625.5 496.0h1.15v16.3h-1.15zM626.5 496.0h1.15v16.3h-1.15zM627.5 496.0h1.15v16.3h-1.15zM628.5 496.0h1.15v16.3h-1.15zM629.5 496.0h1.15v16.3h-1.15zM631.5 496.0h1.15v16.3h-1.15zM632.5 496.0h1.15v16.3h-1.15zM633.5 496.0h1.15v16.3h-1.15zM636.5 496.0h1.15v16.3h-1.15zM461.2 512.2h1.15v16.3h-1.15zM462.2 512.2h1.15v16.3h-1.15zM463.2 512.2h1.15v16.3h-1.15zM489.2 512.2h1.15v16.3h-1.15zM499.2 512.2h1.15v16.3h-1.15zM521.3 512.2h1.15v16.3h-1.15zM523.3 512.2h1.15v16.3h-1.15zM530.3 512.2h1.15v16.3h-1.15zM537.3 512.2h1.15v16.3h-1.15zM547.3 512.2h1.15v16.3h-1.15zM594.4 512.2h1.15v16.3h-1.15zM595.4 512.2h1.15v16.3h-1.15zM649.5 512.2h1.15v16.3h-1.15zM406.1 528.5h1.15v16.3h-1.15zM408.1 528.5h1.15v16.3h-1.15zM410.1 528.5h1.15v16.3h-1.15zM420.1 528.5h1.15v16.3h-1.15zM421.1 528.5h1.15v16.3h-1.15zM422.1 528.5h1.15v16.3h-1.15zM425.1 528.5h1.15v16.3h-1.15zM426.1 528.5h1.15v16.3h-1.15zM427.1 528.5h1.15v16.3h-1.15zM428.1 528.5h1.15v16.3h-1.15zM430.1 528.5h1.15v16.3h-1.15zM441.1 528.5h1.15v16.3h-1.15zM444.1 528.5h1.15v16.3h-1.15zM450.1 528.5h1.15v16.3h-1.15zM454.2 528.5h1.15v16.3h-1.15zM457.2 528.5h1.15v16.3h-1.15zM463.2 528.5h1.15v16.3h-1.15zM467.2 528.5h1.15v16.3h-1.15zM469.2 528.5h1.15v16.3h-1.15zM473.2 528.5h1.15v16.3h-1.15zM481.2 528.5h1.15v16.3h-1.15zM487.2 528.5h1.15v16.3h-1.15zM498.2 528.5h1.15v16.3h-1.15zM513.3 528.5h1.15v16.3h-1.15zM518.3 528.5h1.15v16.3h-1.15zM532.3 528.5h1.15v16.3h-1.15zM567.4 528.5h1.15v16.3h-1.15zM574.4 528.5h1.15v16.3h-1.15zM589.4 528.5h1.15v16.3h-1.15zM590.4 528.5h1.15v16.3h-1.15zM594.4 528.5h1.15v16.3h-1.15zM597.4 528.5h1.15v16.3h-1.15zM602.4 528.5h1.15v16.3h-1.15zM603.4 528.5h1.15v16.3h-1.15zM614.4 528.5h1.15v16.3h-1.15zM615.4 528.5h1.15v16.3h-1.15zM628.5 528.5h1.15v16.3h-1.15zM633.5 528.5h1.15v16.3h-1.15zM637.5 528.5h1.15v16.3h-1.15zM639.5 528.5h1.15v16.3h-1.15zM403.1 544.7h1.15v16.3h-1.15zM435.1 544.7h1.15v16.3h-1.15zM448.1 544.7h1.15v16.3h-1.15zM450.1 544.7h1.15v16.3h-1.15zM455.2 544.7h1.15v16.3h-1.15zM457.2 544.7h1.15v16.3h-1.15zM465.2 544.7h1.15v16.3h-1.15zM467.2 544.7h1.15v16.3h-1.15zM499.2 544.7h1.15v16.3h-1.15zM500.2 544.7h1.15v16.3h-1.15zM520.3 544.7h1.15v16.3h-1.15zM521.3 544.7h1.15v16.3h-1.15zM522.3 544.7h1.15v16.3h-1.15zM528.3 544.7h1.15v16.3h-1.15zM593.4 544.7h1.15v16.3h-1.15zM626.5 544.7h1.15v16.3h-1.15zM632.5 544.7h1.15v16.3h-1.15zM646.5 544.7h1.15v16.3h-1.15zM647.5 544.7h1.15v16.3h-1.15zM648.5 544.7h1.15v16.3h-1.15zM416.1 561.0h1.15v16.3h-1.15zM419.1 561.0h1.15v16.3h-1.15zM420.1 561.0h1.15v16.3h-1.15zM427.1 561.0h1.15v16.3h-1.15zM429.1 561.0h1.15v16.3h-1.15zM430.1 561.0h1.15v16.3h-1.15zM442.1 561.0h1.15v16.3h-1.15zM443.1 561.0h1.15v16.3h-1.15zM449.1 561.0h1.15v16.3h-1.15zM457.2 561.0h1.15v16.3h-1.15zM458.2 561.0h1.15v16.3h-1.15zM467.2 561.0h1.15v16.3h-1.15zM479.2 561.0h1.15v16.3h-1.15zM480.2 561.0h1.15v16.3h-1.15zM493.2 561.0h1.15v16.3h-1.15zM500.2 561.0h1.15v16.3h-1.15zM503.2 561.0h1.15v16.3h-1.15zM511.3 561.0h1.15v16.3h-1.15zM512.3 561.0h1.15v16.3h-1.15zM530.3 561.0h1.15v16.3h-1.15zM534.3 561.0h1.15v16.3h-1.15zM535.3 561.0h1.15v16.3h-1.15zM536.3 561.0h1.15v16.3h-1.15zM537.3 561.0h1.15v16.3h-1.15zM549.3 561.0h1.15v16.3h-1.15zM550.3 561.0h1.15v16.3h-1.15zM558.3 561.0h1.15v16.3h-1.15zM560.3 561.0h1.15v16.3h-1.15zM561.3 561.0h1.15v16.3h-1.15zM563.3 561.0h1.15v16.3h-1.15zM564.3 561.0h1.15v16.3h-1.15zM565.4 561.0h1.15v16.3h-1.15zM566.4 561.0h1.15v16.3h-1.15zM568.4 561.0h1.15v16.3h-1.15zM574.4 561.0h1.15v16.3h-1.15zM597.4 561.0h1.15v16.3h-1.15zM600.4 561.0h1.15v16.3h-1.15zM615.4 561.0h1.15v16.3h-1.15zM619.4 561.0h1.15v16.3h-1.15zM631.5 561.0h1.15v16.3h-1.15zM632.5 561.0h1.15v16.3h-1.15zM633.5 561.0h1.15v16.3h-1.15zM635.5 561.0h1.15v16.3h-1.15zM639.5 561.0h1.15v16.3h-1.15zM644.5 561.0h1.15v16.3h-1.15zM645.5 561.0h1.15v16.3h-1.15zM333.9 577.3h1.15v16.3h-1.15zM362.0 577.3h1.15v16.3h-1.15zM373.0 577.3h1.15v16.3h-1.15zM374.0 577.3h1.15v16.3h-1.15zM401.1 577.3h1.15v16.3h-1.15zM407.1 577.3h1.15v16.3h-1.15zM423.1 577.3h1.15v16.3h-1.15zM424.1 577.3h1.15v16.3h-1.15zM433.1 577.3h1.15v16.3h-1.15zM444.1 577.3h1.15v16.3h-1.15zM456.2 577.3h1.15v16.3h-1.15zM499.2 577.3h1.15v16.3h-1.15zM500.2 577.3h1.15v16.3h-1.15zM512.3 577.3h1.15v16.3h-1.15zM521.3 577.3h1.15v16.3h-1.15zM524.3 577.3h1.15v16.3h-1.15zM528.3 577.3h1.15v16.3h-1.15zM530.3 577.3h1.15v16.3h-1.15zM535.3 577.3h1.15v16.3h-1.15zM562.3 577.3h1.15v16.3h-1.15zM563.3 577.3h1.15v16.3h-1.15zM570.4 577.3h1.15v16.3h-1.15zM587.4 577.3h1.15v16.3h-1.15zM593.4 577.3h1.15v16.3h-1.15zM594.4 577.3h1.15v16.3h-1.15zM595.4 577.3h1.15v16.3h-1.15zM632.5 577.3h1.15v16.3h-1.15zM647.5 577.3h1.15v16.3h-1.15zM648.5 577.3h1.15v16.3h-1.15zM649.5 577.3h1.15v16.3h-1.15zM333.9 593.5h1.15v16.3h-1.15zM361.0 593.5h1.15v16.3h-1.15zM362.0 593.5h1.15v16.3h-1.15zM373.0 593.5h1.15v16.3h-1.15zM374.0 593.5h1.15v16.3h-1.15zM443.1 593.5h1.15v16.3h-1.15zM454.2 593.5h1.15v16.3h-1.15zM457.2 593.5h1.15v16.3h-1.15zM484.2 593.5h1.15v16.3h-1.15zM485.2 593.5h1.15v16.3h-1.15zM499.2 593.5h1.15v16.3h-1.15zM500.2 593.5h1.15v16.3h-1.15zM523.3 593.5h1.15v16.3h-1.15zM528.3 593.5h1.15v16.3h-1.15zM542.3 593.5h1.15v16.3h-1.15zM547.3 593.5h1.15v16.3h-1.15zM585.4 593.5h1.15v16.3h-1.15zM586.4 593.5h1.15v16.3h-1.15zM594.4 593.5h1.15v16.3h-1.15zM603.4 593.5h1.15v16.3h-1.15zM614.4 593.5h1.15v16.3h-1.15zM615.4 593.5h1.15v16.3h-1.15zM630.5 593.5h1.15v16.3h-1.15zM648.5 593.5h1.15v16.3h-1.15zM649.5 593.5h1.15v16.3h-1.15zM360.0 609.8h1.15v16.3h-1.15zM362.0 609.8h1.15v16.3h-1.15zM371.0 609.8h1.15v16.3h-1.15zM383.0 609.8h1.15v16.3h-1.15zM384.0 609.8h1.15v16.3h-1.15zM387.0 609.8h1.15v16.3h-1.15zM395.1 609.8h1.15v16.3h-1.15zM411.1 609.8h1.15v16.3h-1.15zM414.1 609.8h1.15v16.3h-1.15zM415.1 609.8h1.15v16.3h-1.15zM429.1 609.8h1.15v16.3h-1.15zM438.1 609.8h1.15v16.3h-1.15zM452.2 609.8h1.15v16.3h-1.15zM521.3 609.8h1.15v16.3h-1.15zM523.3 609.8h1.15v16.3h-1.15zM528.3 609.8h1.15v16.3h-1.15zM593.4 609.8h1.15v16.3h-1.15zM315.9 626.0h1.15v16.3h-1.15zM316.9 626.0h1.15v16.3h-1.15zM339.0 626.0h1.15v16.3h-1.15zM340.0 626.0h1.15v16.3h-1.15zM345.0 626.0h1.15v16.3h-1.15zM349.0 626.0h1.15v16.3h-1.15zM356.0 626.0h1.15v16.3h-1.15zM365.0 626.0h1.15v16.3h-1.15zM368.0 626.0h1.15v16.3h-1.15zM375.0 626.0h1.15v16.3h-1.15zM377.0 626.0h1.15v16.3h-1.15zM380.0 626.0h1.15v16.3h-1.15zM395.1 626.0h1.15v16.3h-1.15zM399.1 626.0h1.15v16.3h-1.15zM401.1 626.0h1.15v16.3h-1.15zM405.1 626.0h1.15v16.3h-1.15zM413.1 626.0h1.15v16.3h-1.15zM415.1 626.0h1.15v16.3h-1.15zM417.1 626.0h1.15v16.3h-1.15zM418.1 626.0h1.15v16.3h-1.15zM425.1 626.0h1.15v16.3h-1.15zM426.1 626.0h1.15v16.3h-1.15zM432.1 626.0h1.15v16.3h-1.15zM451.1 626.0h1.15v16.3h-1.15zM452.2 626.0h1.15v16.3h-1.15zM453.2 626.0h1.15v16.3h-1.15zM499.2 626.0h1.15v16.3h-1.15zM528.3 626.0h1.15v16.3h-1.15zM530.3 626.0h1.15v16.3h-1.15zM543.3 626.0h1.15v16.3h-1.15zM548.3 626.0h1.15v16.3h-1.15zM573.4 626.0h1.15v16.3h-1.15zM595.4 626.0h1.15v16.3h-1.15zM647.5 626.0h1.15v16.3h-1.15zM315.9 642.3h1.15v16.3h-1.15zM337.9 642.3h1.15v16.3h-1.15zM343.0 642.3h1.15v16.3h-1.15zM344.0 642.3h1.15v16.3h-1.15zM364.0 642.3h1.15v16.3h-1.15zM365.0 642.3h1.15v16.3h-1.15zM375.0 642.3h1.15v16.3h-1.15zM376.0 642.3h1.15v16.3h-1.15zM377.0 642.3h1.15v16.3h-1.15zM378.0 642.3h1.15v16.3h-1.15zM399.1 642.3h1.15v16.3h-1.15zM400.1 642.3h1.15v16.3h-1.15zM405.1 642.3h1.15v16.3h-1.15zM413.1 642.3h1.15v16.3h-1.15zM417.1 642.3h1.15v16.3h-1.15zM418.1 642.3h1.15v16.3h-1.15zM419.1 642.3h1.15v16.3h-1.15zM421.1 642.3h1.15v16.3h-1.15zM422.1 642.3h1.15v16.3h-1.15zM426.1 642.3h1.15v16.3h-1.15zM427.1 642.3h1.15v16.3h-1.15zM428.1 642.3h1.15v16.3h-1.15zM429.1 642.3h1.15v16.3h-1.15zM440.1 642.3h1.15v16.3h-1.15zM453.2 642.3h1.15v16.3h-1.15zM528.3 642.3h1.15v16.3h-1.15zM538.3 642.3h1.15v16.3h-1.15zM547.3 642.3h1.15v16.3h-1.15zM593.4 642.3h1.15v16.3h-1.15zM615.4 642.3h1.15v16.3h-1.15zM645.5 642.3h1.15v16.3h-1.15zM649.5 642.3h1.15v16.3h-1.15z" fill="#f9eddb"/>
<path d="M570.4 479.7h1.15v16.3h-1.15zM578.4 479.7h1.15v16.3h-1.15zM599.4 479.7h1.15v16.3h-1.15zM600.4 479.7h1.15v16.3h-1.15zM621.4 479.7h1.15v16.3h-1.15zM636.5 479.7h1.15v16.3h-1.15zM463.2 496.0h1.15v16.3h-1.15zM527.3 496.0h1.15v16.3h-1.15zM533.3 496.0h1.15v16.3h-1.15zM534.3 496.0h1.15v16.3h-1.15zM602.4 496.0h1.15v16.3h-1.15zM615.4 496.0h1.15v16.3h-1.15zM445.1 512.2h1.15v16.3h-1.15zM450.1 512.2h1.15v16.3h-1.15zM465.2 512.2h1.15v16.3h-1.15zM361.0 528.5h1.15v16.3h-1.15zM362.0 528.5h1.15v16.3h-1.15zM403.1 528.5h1.15v16.3h-1.15zM459.2 528.5h1.15v16.3h-1.15zM484.2 528.5h1.15v16.3h-1.15zM508.2 528.5h1.15v16.3h-1.15zM540.3 528.5h1.15v16.3h-1.15zM541.3 528.5h1.15v16.3h-1.15zM411.1 544.7h1.15v16.3h-1.15zM374.0 561.0h1.15v16.3h-1.15zM408.1 561.0h1.15v16.3h-1.15zM438.1 561.0h1.15v16.3h-1.15zM452.2 561.0h1.15v16.3h-1.15zM483.2 561.0h1.15v16.3h-1.15zM485.2 561.0h1.15v16.3h-1.15zM522.3 561.0h1.15v16.3h-1.15zM523.3 561.0h1.15v16.3h-1.15zM594.4 561.0h1.15v16.3h-1.15zM649.5 561.0h1.15v16.3h-1.15zM332.9 577.3h1.15v16.3h-1.15zM387.0 577.3h1.15v16.3h-1.15zM390.0 577.3h1.15v16.3h-1.15zM396.1 577.3h1.15v16.3h-1.15zM398.1 577.3h1.15v16.3h-1.15zM400.1 577.3h1.15v16.3h-1.15zM436.1 577.3h1.15v16.3h-1.15zM452.2 577.3h1.15v16.3h-1.15zM520.3 577.3h1.15v16.3h-1.15zM523.3 577.3h1.15v16.3h-1.15zM548.3 577.3h1.15v16.3h-1.15zM330.9 593.5h1.15v16.3h-1.15zM460.2 593.5h1.15v16.3h-1.15zM378.0 609.8h1.15v16.3h-1.15zM400.1 609.8h1.15v16.3h-1.15zM410.1 609.8h1.15v16.3h-1.15zM520.3 609.8h1.15v16.3h-1.15zM402.1 626.0h1.15v16.3h-1.15zM433.1 626.0h1.15v16.3h-1.15zM403.1 642.3h1.15v16.3h-1.15zM408.1 642.3h1.15v16.3h-1.15zM437.1 642.3h1.15v16.3h-1.15zM648.5 642.3h1.15v16.3h-1.15z" fill="#f9e7d5"/>
<path d="M572.4 479.7h1.15v16.3h-1.15zM640.5 479.7h1.15v16.3h-1.15zM540.3 496.0h1.15v16.3h-1.15zM588.4 496.0h1.15v16.3h-1.15zM589.4 496.0h1.15v16.3h-1.15zM605.4 496.0h1.15v16.3h-1.15zM608.4 496.0h1.15v16.3h-1.15zM611.4 496.0h1.15v16.3h-1.15zM621.4 496.0h1.15v16.3h-1.15zM640.5 496.0h1.15v16.3h-1.15zM520.3 512.2h1.15v16.3h-1.15zM552.3 512.2h1.15v16.3h-1.15zM586.4 512.2h1.15v16.3h-1.15zM593.4 512.2h1.15v16.3h-1.15zM413.1 528.5h1.15v16.3h-1.15zM464.2 528.5h1.15v16.3h-1.15zM479.2 528.5h1.15v16.3h-1.15zM480.2 528.5h1.15v16.3h-1.15zM568.4 528.5h1.15v16.3h-1.15zM575.4 528.5h1.15v16.3h-1.15zM600.4 528.5h1.15v16.3h-1.15zM608.4 528.5h1.15v16.3h-1.15zM623.5 528.5h1.15v16.3h-1.15zM634.5 528.5h1.15v16.3h-1.15zM436.1 544.7h1.15v16.3h-1.15zM440.1 544.7h1.15v16.3h-1.15zM442.1 544.7h1.15v16.3h-1.15zM445.1 544.7h1.15v16.3h-1.15zM447.1 544.7h1.15v16.3h-1.15zM484.2 544.7h1.15v16.3h-1.15zM536.3 544.7h1.15v16.3h-1.15zM543.3 544.7h1.15v16.3h-1.15zM548.3 544.7h1.15v16.3h-1.15zM550.3 544.7h1.15v16.3h-1.15zM614.4 544.7h1.15v16.3h-1.15zM631.5 544.7h1.15v16.3h-1.15zM638.5 544.7h1.15v16.3h-1.15zM405.1 561.0h1.15v16.3h-1.15zM412.1 561.0h1.15v16.3h-1.15zM431.1 561.0h1.15v16.3h-1.15zM432.1 561.0h1.15v16.3h-1.15zM446.1 561.0h1.15v16.3h-1.15zM464.2 561.0h1.15v16.3h-1.15zM465.2 561.0h1.15v16.3h-1.15zM478.2 561.0h1.15v16.3h-1.15zM487.2 561.0h1.15v16.3h-1.15zM526.3 561.0h1.15v16.3h-1.15zM543.3 561.0h1.15v16.3h-1.15zM551.3 561.0h1.15v16.3h-1.15zM562.3 561.0h1.15v16.3h-1.15zM567.4 561.0h1.15v16.3h-1.15zM575.4 561.0h1.15v16.3h-1.15zM576.4 561.0h1.15v16.3h-1.15zM596.4 561.0h1.15v16.3h-1.15zM614.4 561.0h1.15v16.3h-1.15zM623.5 561.0h1.15v16.3h-1.15zM627.5 561.0h1.15v16.3h-1.15zM630.5 561.0h1.15v16.3h-1.15zM363.0 577.3h1.15v16.3h-1.15zM404.1 577.3h1.15v16.3h-1.15zM410.1 577.3h1.15v16.3h-1.15zM420.1 577.3h1.15v16.3h-1.15zM439.1 577.3h1.15v16.3h-1.15zM445.1 577.3h1.15v16.3h-1.15zM489.2 577.3h1.15v16.3h-1.15zM503.2 577.3h1.15v16.3h-1.15zM510.3 577.3h1.15v16.3h-1.15zM514.3 577.3h1.15v16.3h-1.15zM536.3 577.3h1.15v16.3h-1.15zM542.3 577.3h1.15v16.3h-1.15zM543.3 577.3h1.15v16.3h-1.15zM551.3 577.3h1.15v16.3h-1.15zM558.3 577.3h1.15v16.3h-1.15zM561.3 577.3h1.15v16.3h-1.15zM576.4 577.3h1.15v16.3h-1.15zM601.4 577.3h1.15v16.3h-1.15zM615.4 577.3h1.15v16.3h-1.15zM630.5 577.3h1.15v16.3h-1.15zM634.5 577.3h1.15v16.3h-1.15zM638.5 577.3h1.15v16.3h-1.15zM442.1 593.5h1.15v16.3h-1.15zM444.1 593.5h1.15v16.3h-1.15zM446.1 593.5h1.15v16.3h-1.15zM458.2 593.5h1.15v16.3h-1.15zM465.2 593.5h1.15v16.3h-1.15zM480.2 593.5h1.15v16.3h-1.15zM483.2 593.5h1.15v16.3h-1.15zM524.3 593.5h1.15v16.3h-1.15zM533.3 593.5h1.15v16.3h-1.15zM548.3 593.5h1.15v16.3h-1.15zM550.3 593.5h1.15v16.3h-1.15zM555.3 593.5h1.15v16.3h-1.15zM568.4 593.5h1.15v16.3h-1.15zM570.4 593.5h1.15v16.3h-1.15zM631.5 593.5h1.15v16.3h-1.15zM333.9 609.8h1.15v16.3h-1.15zM358.0 609.8h1.15v16.3h-1.15zM372.0 609.8h1.15v16.3h-1.15zM396.1 609.8h1.15v16.3h-1.15zM397.1 609.8h1.15v16.3h-1.15zM405.1 609.8h1.15v16.3h-1.15zM413.1 609.8h1.15v16.3h-1.15zM416.1 609.8h1.15v16.3h-1.15zM417.1 609.8h1.15v16.3h-1.15zM419.1 609.8h1.15v16.3h-1.15zM430.1 609.8h1.15v16.3h-1.15zM432.1 609.8h1.15v16.3h-1.15zM476.2 609.8h1.15v16.3h-1.15zM478.2 609.8h1.15v16.3h-1.15zM485.2 609.8h1.15v16.3h-1.15zM529.3 609.8h1.15v16.3h-1.15zM547.3 609.8h1.15v16.3h-1.15zM586.4 609.8h1.15v16.3h-1.15zM603.4 609.8h1.15v16.3h-1.15zM312.9 626.0h1.15v16.3h-1.15zM327.9 626.0h1.15v16.3h-1.15zM337.9 626.0h1.15v16.3h-1.15zM343.0 626.0h1.15v16.3h-1.15zM347.0 626.0h1.15v16.3h-1.15zM348.0 626.0h1.15v16.3h-1.15zM367.0 626.0h1.15v16.3h-1.15zM389.0 626.0h1.15v16.3h-1.15zM414.1 626.0h1.15v16.3h-1.15zM444.1 626.0h1.15v16.3h-1.15zM449.1 626.0h1.15v16.3h-1.15zM456.2 626.0h1.15v16.3h-1.15zM576.4 626.0h1.15v16.3h-1.15zM632.5 626.0h1.15v16.3h-1.15zM312.9 642.3h1.15v16.3h-1.15zM313.9 642.3h1.15v16.3h-1.15zM321.9 642.3h1.15v16.3h-1.15zM345.0 642.3h1.15v16.3h-1.15zM348.0 642.3h1.15v16.3h-1.15zM412.1 642.3h1.15v16.3h-1.15zM414.1 642.3h1.15v16.3h-1.15zM420.1 642.3h1.15v16.3h-1.15zM431.1 642.3h1.15v16.3h-1.15zM441.1 642.3h1.15v16.3h-1.15zM535.3 642.3h1.15v16.3h-1.15zM536.3 642.3h1.15v16.3h-1.15zM537.3 642.3h1.15v16.3h-1.15zM568.4 642.3h1.15v16.3h-1.15zM587.4 642.3h1.15v16.3h-1.15zM595.4 642.3h1.15v16.3h-1.15zM631.5 642.3h1.15v16.3h-1.15zM639.5 642.3h1.15v16.3h-1.15zM644.5 642.3h1.15v16.3h-1.15z" fill="#f3f3e1"/>
<path d="M605.4 479.7h1.15v16.3h-1.15zM643.5 479.7h1.15v16.3h-1.15zM487.2 496.0h1.15v16.3h-1.15zM539.3 496.0h1.15v16.3h-1.15zM550.3 496.0h1.15v16.3h-1.15zM555.3 496.0h1.15v16.3h-1.15zM557.3 496.0h1.15v16.3h-1.15zM559.3 496.0h1.15v16.3h-1.15zM560.3 496.0h1.15v16.3h-1.15zM592.4 496.0h1.15v16.3h-1.15zM596.4 496.0h1.15v16.3h-1.15zM604.4 496.0h1.15v16.3h-1.15zM607.4 496.0h1.15v16.3h-1.15zM623.5 496.0h1.15v16.3h-1.15zM634.5 496.0h1.15v16.3h-1.15zM488.2 512.2h1.15v16.3h-1.15zM542.3 512.2h1.15v16.3h-1.15zM548.3 512.2h1.15v16.3h-1.15zM414.1 528.5h1.15v16.3h-1.15zM448.1 528.5h1.15v16.3h-1.15zM458.2 528.5h1.15v16.3h-1.15zM504.2 528.5h1.15v16.3h-1.15zM505.2 528.5h1.15v16.3h-1.15zM519.3 528.5h1.15v16.3h-1.15zM569.4 528.5h1.15v16.3h-1.15zM570.4 528.5h1.15v16.3h-1.15zM596.4 528.5h1.15v16.3h-1.15zM606.4 528.5h1.15v16.3h-1.15zM631.5 528.5h1.15v16.3h-1.15zM632.5 528.5h1.15v16.3h-1.15zM635.5 528.5h1.15v16.3h-1.15zM638.5 528.5h1.15v16.3h-1.15zM645.5 528.5h1.15v16.3h-1.15zM406.1 544.7h1.15v16.3h-1.15zM410.1 544.7h1.15v16.3h-1.15zM413.1 544.7h1.15v16.3h-1.15zM414.1 544.7h1.15v16.3h-1.15zM417.1 544.7h1.15v16.3h-1.15zM418.1 544.7h1.15v16.3h-1.15zM444.1 544.7h1.15v16.3h-1.15zM446.1 544.7h1.15v16.3h-1.15zM449.1 544.7h1.15v16.3h-1.15zM463.2 544.7h1.15v16.3h-1.15zM523.3 544.7h1.15v16.3h-1.15zM529.3 544.7h1.15v16.3h-1.15zM535.3 544.7h1.15v16.3h-1.15zM542.3 544.7h1.15v16.3h-1.15zM565.4 544.7h1.15v16.3h-1.15zM594.4 544.7h1.15v16.3h-1.15zM413.1 561.0h1.15v16.3h-1.15zM414.1 561.0h1.15v16.3h-1.15zM425.1 561.0h1.15v16.3h-1.15zM445.1 561.0h1.15v16.3h-1.15zM470.2 561.0h1.15v16.3h-1.15zM471.2 561.0h1.15v16.3h-1.15zM476.2 561.0h1.15v16.3h-1.15zM502.2 561.0h1.15v16.3h-1.15zM542.3 561.0h1.15v16.3h-1.15zM556.3 561.0h1.15v16.3h-1.15zM569.4 561.0h1.15v16.3h-1.15zM570.4 561.0h1.15v16.3h-1.15zM637.5 561.0h1.15v16.3h-1.15zM403.1 577.3h1.15v16.3h-1.15zM408.1 577.3h1.15v16.3h-1.15zM434.1 577.3h1.15v16.3h-1.15zM459.2 577.3h1.15v16.3h-1.15zM467.2 577.3h1.15v16.3h-1.15zM484.2 577.3h1.15v16.3h-1.15zM490.2 577.3h1.15v16.3h-1.15zM501.2 577.3h1.15v16.3h-1.15zM511.3 577.3h1.15v16.3h-1.15zM555.3 577.3h1.15v16.3h-1.15zM585.4 577.3h1.15v16.3h-1.15zM619.4 577.3h1.15v16.3h-1.15zM449.1 593.5h1.15v16.3h-1.15zM467.2 593.5h1.15v16.3h-1.15zM493.2 593.5h1.15v16.3h-1.15zM512.3 593.5h1.15v16.3h-1.15zM551.3 593.5h1.15v16.3h-1.15zM566.4 593.5h1.15v16.3h-1.15zM646.5 593.5h1.15v16.3h-1.15zM647.5 593.5h1.15v16.3h-1.15zM343.0 609.8h1.15v16.3h-1.15zM346.0 609.8h1.15v16.3h-1.15zM357.0 609.8h1.15v16.3h-1.15zM359.0 609.8h1.15v16.3h-1.15zM382.0 609.8h1.15v16.3h-1.15zM390.0 609.8h1.15v16.3h-1.15zM406.1 609.8h1.15v16.3h-1.15zM418.1 609.8h1.15v16.3h-1.15zM425.1 609.8h1.15v16.3h-1.15zM427.1 609.8h1.15v16.3h-1.15zM456.2 609.8h1.15v16.3h-1.15zM530.3 609.8h1.15v16.3h-1.15zM573.4 609.8h1.15v16.3h-1.15zM630.5 609.8h1.15v16.3h-1.15zM648.5 609.8h1.15v16.3h-1.15zM309.9 626.0h1.15v16.3h-1.15zM329.9 626.0h1.15v16.3h-1.15zM352.0 626.0h1.15v16.3h-1.15zM354.0 626.0h1.15v16.3h-1.15zM369.0 626.0h1.15v16.3h-1.15zM376.0 626.0h1.15v16.3h-1.15zM379.0 626.0h1.15v16.3h-1.15zM412.1 626.0h1.15v16.3h-1.15zM428.1 626.0h1.15v16.3h-1.15zM485.2 626.0h1.15v16.3h-1.15zM500.2 626.0h1.15v16.3h-1.15zM520.3 626.0h1.15v16.3h-1.15zM522.3 626.0h1.15v16.3h-1.15zM529.3 626.0h1.15v16.3h-1.15zM552.3 626.0h1.15v16.3h-1.15zM594.4 626.0h1.15v16.3h-1.15zM645.5 626.0h1.15v16.3h-1.15zM646.5 626.0h1.15v16.3h-1.15zM648.5 626.0h1.15v16.3h-1.15zM314.9 642.3h1.15v16.3h-1.15zM409.1 642.3h1.15v16.3h-1.15zM452.2 642.3h1.15v16.3h-1.15zM499.2 642.3h1.15v16.3h-1.15zM520.3 642.3h1.15v16.3h-1.15zM530.3 642.3h1.15v16.3h-1.15zM619.4 642.3h1.15v16.3h-1.15zM632.5 642.3h1.15v16.3h-1.15z" fill="#f3f3db"/>
<path d="M347.0 496.0h1.15v16.3h-1.15z" fill="#f9bd9f"/>
<path d="M544.3 496.0h1.15v16.3h-1.15zM606.4 496.0h1.15v16.3h-1.15zM622.5 496.0h1.15v16.3h-1.15zM642.5 496.0h1.15v16.3h-1.15zM643.5 496.0h1.15v16.3h-1.15zM543.3 512.2h1.15v16.3h-1.15zM549.3 512.2h1.15v16.3h-1.15zM557.3 512.2h1.15v16.3h-1.15zM558.3 512.2h1.15v16.3h-1.15zM574.4 512.2h1.15v16.3h-1.15zM575.4 512.2h1.15v16.3h-1.15zM601.4 512.2h1.15v16.3h-1.15zM635.5 512.2h1.15v16.3h-1.15zM639.5 512.2h1.15v16.3h-1.15zM645.5 512.2h1.15v16.3h-1.15zM646.5 512.2h1.15v16.3h-1.15zM446.1 528.5h1.15v16.3h-1.15zM466.2 528.5h1.15v16.3h-1.15zM584.4 528.5h1.15v16.3h-1.15zM592.4 528.5h1.15v16.3h-1.15zM613.4 528.5h1.15v16.3h-1.15zM617.4 528.5h1.15v16.3h-1.15zM629.5 528.5h1.15v16.3h-1.15zM646.5 528.5h1.15v16.3h-1.15zM424.1 544.7h1.15v16.3h-1.15zM458.2 544.7h1.15v16.3h-1.15zM469.2 544.7h1.15v16.3h-1.15zM470.2 544.7h1.15v16.3h-1.15zM479.2 544.7h1.15v16.3h-1.15zM510.3 544.7h1.15v16.3h-1.15zM524.3 544.7h1.15v16.3h-1.15zM533.3 544.7h1.15v16.3h-1.15zM551.3 544.7h1.15v16.3h-1.15zM568.4 544.7h1.15v16.3h-1.15zM589.4 544.7h1.15v16.3h-1.15zM628.5 544.7h1.15v16.3h-1.15zM630.5 544.7h1.15v16.3h-1.15zM634.5 544.7h1.15v16.3h-1.15zM639.5 544.7h1.15v16.3h-1.15zM406.1 561.0h1.15v16.3h-1.15zM494.2 561.0h1.15v16.3h-1.15zM498.2 561.0h1.15v16.3h-1.15zM508.2 561.0h1.15v16.3h-1.15zM539.3 561.0h1.15v16.3h-1.15zM540.3 561.0h1.15v16.3h-1.15zM553.3 561.0h1.15v16.3h-1.15zM554.3 561.0h1.15v16.3h-1.15zM557.3 561.0h1.15v16.3h-1.15zM577.4 561.0h1.15v16.3h-1.15zM583.4 561.0h1.15v16.3h-1.15zM588.4 561.0h1.15v16.3h-1.15zM590.4 561.0h1.15v16.3h-1.15zM624.5 561.0h1.15v16.3h-1.15zM629.5 561.0h1.15v16.3h-1.15zM634.5 561.0h1.15v16.3h-1.15zM636.5 561.0h1.15v16.3h-1.15zM411.1 577.3h1.15v16.3h-1.15zM454.2 577.3h1.15v16.3h-1.15zM464.2 577.3h1.15v16.3h-1.15zM479.2 577.3h1.15v16.3h-1.15zM494.2 577.3h1.15v16.3h-1.15zM502.2 577.3h1.15v16.3h-1.15zM525.3 577.3h1.15v16.3h-1.15zM526.3 577.3h1.15v16.3h-1.15zM533.3 577.3h1.15v16.3h-1.15zM566.4 577.3h1.15v16.3h-1.15zM590.4 577.3h1.15v16.3h-1.15zM623.5 577.3h1.15v16.3h-1.15zM626.5 577.3h1.15v16.3h-1.15zM633.5 577.3h1.15v16.3h-1.15zM639.5 577.3h1.15v16.3h-1.15zM646.5 577.3h1.15v16.3h-1.15zM447.1 593.5h1.15v16.3h-1.15zM494.2 593.5h1.15v16.3h-1.15zM511.3 593.5h1.15v16.3h-1.15zM569.4 593.5h1.15v16.3h-1.15zM582.4 593.5h1.15v16.3h-1.15zM602.4 593.5h1.15v16.3h-1.15zM635.5 593.5h1.15v16.3h-1.15zM349.0 609.8h1.15v16.3h-1.15zM354.0 609.8h1.15v16.3h-1.15zM361.0 609.8h1.15v16.3h-1.15zM443.1 609.8h1.15v16.3h-1.15zM445.1 609.8h1.15v16.3h-1.15zM459.2 609.8h1.15v16.3h-1.15zM475.2 609.8h1.15v16.3h-1.15zM484.2 609.8h1.15v16.3h-1.15zM489.2 609.8h1.15v16.3h-1.15zM510.3 609.8h1.15v16.3h-1.15zM538.3 609.8h1.15v16.3h-1.15zM548.3 609.8h1.15v16.3h-1.15zM556.3 609.8h1.15v16.3h-1.15zM590.4 609.8h1.15v16.3h-1.15zM638.5 609.8h1.15v16.3h-1.15zM639.5 609.8h1.15v16.3h-1.15zM310.9 626.0h1.15v16.3h-1.15zM324.9 626.0h1.15v16.3h-1.15zM350.0 626.0h1.15v16.3h-1.15zM358.0 626.0h1.15v16.3h-1.15zM397.1 626.0h1.15v16.3h-1.15zM416.1 626.0h1.15v16.3h-1.15zM430.1 626.0h1.15v16.3h-1.15zM431.1 626.0h1.15v16.3h-1.15zM441.1 626.0h1.15v16.3h-1.15zM460.2 626.0h1.15v16.3h-1.15zM547.3 626.0h1.15v16.3h-1.15zM563.3 626.0h1.15v16.3h-1.15zM565.4 626.0h1.15v16.3h-1.15zM566.4 626.0h1.15v16.3h-1.15zM569.4 626.0h1.15v16.3h-1.15zM585.4 626.0h1.15v16.3h-1.15zM586.4 626.0h1.15v16.3h-1.15zM587.4 626.0h1.15v16.3h-1.15zM619.4 626.0h1.15v16.3h-1.15zM624.5 626.0h1.15v16.3h-1.15zM639.5 626.0h1.15v16.3h-1.15zM329.9 642.3h1.15v16.3h-1.15zM358.0 642.3h1.15v16.3h-1.15zM360.0 642.3h1.15v16.3h-1.15zM366.0 642.3h1.15v16.3h-1.15zM368.0 642.3h1.15v16.3h-1.15zM388.0 642.3h1.15v16.3h-1.15zM432.1 642.3h1.15v16.3h-1.15zM444.1 642.3h1.15v16.3h-1.15zM449.1 642.3h1.15v16.3h-1.15zM484.2 642.3h1.15v16.3h-1.15zM500.2 642.3h1.15v16.3h-1.15zM534.3 642.3h1.15v16.3h-1.15zM543.3 642.3h1.15v16.3h-1.15zM550.3 642.3h1.15v16.3h-1.15zM557.3 642.3h1.15v16.3h-1.15zM561.3 642.3h1.15v16.3h-1.15zM569.4 642.3h1.15v16.3h-1.15zM574.4 642.3h1.15v16.3h-1.15zM589.4 642.3h1.15v16.3h-1.15zM600.4 642.3h1.15v16.3h-1.15zM627.5 642.3h1.15v16.3h-1.15zM629.5 642.3h1.15v16.3h-1.15zM635.5 642.3h1.15v16.3h-1.15z" fill="#e7ede1"/>
<path d="M545.3 496.0h1.15v16.3h-1.15zM585.4 512.2h1.15v16.3h-1.15zM587.4 512.2h1.15v16.3h-1.15zM647.5 512.2h1.15v16.3h-1.15zM431.1 528.5h1.15v16.3h-1.15zM432.1 528.5h1.15v16.3h-1.15zM576.4 528.5h1.15v16.3h-1.15zM591.4 528.5h1.15v16.3h-1.15zM599.4 528.5h1.15v16.3h-1.15zM601.4 528.5h1.15v16.3h-1.15zM625.5 528.5h1.15v16.3h-1.15zM644.5 528.5h1.15v16.3h-1.15zM416.1 544.7h1.15v16.3h-1.15zM419.1 544.7h1.15v16.3h-1.15zM454.2 544.7h1.15v16.3h-1.15zM569.4 544.7h1.15v16.3h-1.15zM597.4 544.7h1.15v16.3h-1.15zM615.4 544.7h1.15v16.3h-1.15zM448.1 561.0h1.15v16.3h-1.15zM455.2 561.0h1.15v16.3h-1.15zM463.2 561.0h1.15v16.3h-1.15zM477.2 561.0h1.15v16.3h-1.15zM509.3 561.0h1.15v16.3h-1.15zM510.3 561.0h1.15v16.3h-1.15zM589.4 561.0h1.15v16.3h-1.15zM646.5 561.0h1.15v16.3h-1.15zM415.1 577.3h1.15v16.3h-1.15zM442.1 577.3h1.15v16.3h-1.15zM443.1 577.3h1.15v16.3h-1.15zM449.1 577.3h1.15v16.3h-1.15zM457.2 577.3h1.15v16.3h-1.15zM458.2 577.3h1.15v16.3h-1.15zM538.3 577.3h1.15v16.3h-1.15zM553.3 577.3h1.15v16.3h-1.15zM597.4 577.3h1.15v16.3h-1.15zM445.1 593.5h1.15v16.3h-1.15zM459.2 593.5h1.15v16.3h-1.15zM470.2 593.5h1.15v16.3h-1.15zM496.2 593.5h1.15v16.3h-1.15zM497.2 593.5h1.15v16.3h-1.15zM514.3 593.5h1.15v16.3h-1.15zM558.3 593.5h1.15v16.3h-1.15zM638.5 593.5h1.15v16.3h-1.15zM639.5 593.5h1.15v16.3h-1.15zM644.5 593.5h1.15v16.3h-1.15zM542.3 609.8h1.15v16.3h-1.15zM595.4 609.8h1.15v16.3h-1.15zM647.5 609.8h1.15v16.3h-1.15zM649.5 609.8h1.15v16.3h-1.15zM346.0 626.0h1.15v16.3h-1.15zM483.2 626.0h1.15v16.3h-1.15zM511.3 626.0h1.15v16.3h-1.15zM555.3 626.0h1.15v16.3h-1.15zM603.4 626.0h1.15v16.3h-1.15zM615.4 626.0h1.15v16.3h-1.15zM328.9 642.3h1.15v16.3h-1.15zM356.0 642.3h1.15v16.3h-1.15zM389.0 642.3h1.15v16.3h-1.15zM555.3 642.3h1.15v16.3h-1.15zM566.4 642.3h1.15v16.3h-1.15zM586.4 642.3h1.15v16.3h-1.15zM630.5 642.3h1.15v16.3h-1.15zM637.5 642.3h1.15v16.3h-1.15z" fill="#f3ede1"/>
<path d="M546.3 496.0h1.15v16.3h-1.15zM581.4 496.0h1.15v16.3h-1.15zM609.4 496.0h1.15v16.3h-1.15zM617.4 496.0h1.15v16.3h-1.15zM641.5 496.0h1.15v16.3h-1.15zM515.3 512.2h1.15v16.3h-1.15zM525.3 512.2h1.15v16.3h-1.15zM551.3 512.2h1.15v16.3h-1.15zM563.3 512.2h1.15v16.3h-1.15zM589.4 512.2h1.15v16.3h-1.15zM590.4 512.2h1.15v16.3h-1.15zM602.4 512.2h1.15v16.3h-1.15zM614.4 512.2h1.15v16.3h-1.15zM625.5 512.2h1.15v16.3h-1.15zM627.5 512.2h1.15v16.3h-1.15zM629.5 512.2h1.15v16.3h-1.15zM632.5 512.2h1.15v16.3h-1.15zM633.5 512.2h1.15v16.3h-1.15zM465.2 528.5h1.15v16.3h-1.15zM474.2 528.5h1.15v16.3h-1.15zM476.2 528.5h1.15v16.3h-1.15zM582.4 528.5h1.15v16.3h-1.15zM605.4 528.5h1.15v16.3h-1.15zM618.4 528.5h1.15v16.3h-1.15zM622.5 528.5h1.15v16.3h-1.15zM636.5 528.5h1.15v16.3h-1.15zM640.5 528.5h1.15v16.3h-1.15zM420.1 544.7h1.15v16.3h-1.15zM423.1 544.7h1.15v16.3h-1.15zM439.1 544.7h1.15v16.3h-1.15zM471.2 544.7h1.15v16.3h-1.15zM472.2 544.7h1.15v16.3h-1.15zM480.2 544.7h1.15v16.3h-1.15zM485.2 544.7h1.15v16.3h-1.15zM491.2 544.7h1.15v16.3h-1.15zM501.2 544.7h1.15v16.3h-1.15zM515.3 544.7h1.15v16.3h-1.15zM539.3 544.7h1.15v16.3h-1.15zM554.3 544.7h1.15v16.3h-1.15zM555.3 544.7h1.15v16.3h-1.15zM575.4 544.7h1.15v16.3h-1.15zM603.4 544.7h1.15v16.3h-1.15zM618.4 544.7h1.15v16.3h-1.15zM635.5 544.7h1.15v16.3h-1.15zM636.5 544.7h1.15v16.3h-1.15zM468.2 561.0h1.15v16.3h-1.15zM469.2 561.0h1.15v16.3h-1.15zM472.2 561.0h1.15v16.3h-1.15zM473.2 561.0h1.15v16.3h-1.15zM519.3 561.0h1.15v16.3h-1.15zM525.3 561.0h1.15v16.3h-1.15zM531.3 561.0h1.15v16.3h-1.15zM532.3 561.0h1.15v16.3h-1.15zM578.4 561.0h1.15v16.3h-1.15zM592.4 561.0h1.15v16.3h-1.15zM605.4 561.0h1.15v16.3h-1.15zM606.4 561.0h1.15v16.3h-1.15zM609.4 561.0h1.15v16.3h-1.15zM611.4 561.0h1.15v16.3h-1.15zM621.4 561.0h1.15v16.3h-1.15zM622.5 561.0h1.15v16.3h-1.15zM638.5 561.0h1.15v16.3h-1.15zM640.5 561.0h1.15v16.3h-1.15zM427.1 577.3h1.15v16.3h-1.15zM430.1 577.3h1.15v16.3h-1.15zM438.1 577.3h1.15v16.3h-1.15zM441.1 577.3h1.15v16.3h-1.15zM461.2 577.3h1.15v16.3h-1.15zM474.2 577.3h1.15v16.3h-1.15zM482.2 577.3h1.15v16.3h-1.15zM492.2 577.3h1.15v16.3h-1.15zM498.2 577.3h1.15v16.3h-1.15zM516.3 577.3h1.15v16.3h-1.15zM549.3 577.3h1.15v16.3h-1.15zM557.3 577.3h1.15v16.3h-1.15zM564.3 577.3h1.15v16.3h-1.15zM574.4 577.3h1.15v16.3h-1.15zM577.4 577.3h1.15v16.3h-1.15zM582.4 577.3h1.15v16.3h-1.15zM592.4 577.3h1.15v16.3h-1.15zM596.4 577.3h1.15v16.3h-1.15zM600.4 577.3h1.15v16.3h-1.15zM613.4 577.3h1.15v16.3h-1.15zM637.5 577.3h1.15v16.3h-1.15zM464.2 593.5h1.15v16.3h-1.15zM468.2 593.5h1.15v16.3h-1.15zM490.2 593.5h1.15v16.3h-1.15zM491.2 593.5h1.15v16.3h-1.15zM492.2 593.5h1.15v16.3h-1.15zM543.3 593.5h1.15v16.3h-1.15zM565.4 593.5h1.15v16.3h-1.15zM574.4 593.5h1.15v16.3h-1.15zM583.4 593.5h1.15v16.3h-1.15zM584.4 593.5h1.15v16.3h-1.15zM601.4 593.5h1.15v16.3h-1.15zM613.4 593.5h1.15v16.3h-1.15zM629.5 593.5h1.15v16.3h-1.15zM633.5 593.5h1.15v16.3h-1.15zM634.5 593.5h1.15v16.3h-1.15zM637.5 593.5h1.15v16.3h-1.15zM347.0 609.8h1.15v16.3h-1.15zM363.0 609.8h1.15v16.3h-1.15zM447.1 609.8h1.15v16.3h-1.15zM477.2 609.8h1.15v16.3h-1.15zM479.2 609.8h1.15v16.3h-1.15zM481.2 609.8h1.15v16.3h-1.15zM494.2 609.8h1.15v16.3h-1.15zM500.2 609.8h1.15v16.3h-1.15zM511.3 609.8h1.15v16.3h-1.15zM514.3 609.8h1.15v16.3h-1.15zM536.3 609.8h1.15v16.3h-1.15zM562.3 609.8h1.15v16.3h-1.15zM565.4 609.8h1.15v16.3h-1.15zM567.4 609.8h1.15v16.3h-1.15zM570.4 609.8h1.15v16.3h-1.15zM587.4 609.8h1.15v16.3h-1.15zM588.4 609.8h1.15v16.3h-1.15zM619.4 609.8h1.15v16.3h-1.15zM631.5 609.8h1.15v16.3h-1.15zM633.5 609.8h1.15v16.3h-1.15zM645.5 609.8h1.15v16.3h-1.15zM646.5 609.8h1.15v16.3h-1.15zM311.9 626.0h1.15v16.3h-1.15zM335.9 626.0h1.15v16.3h-1.15zM342.0 626.0h1.15v16.3h-1.15zM357.0 626.0h1.15v16.3h-1.15zM370.0 626.0h1.15v16.3h-1.15zM383.0 626.0h1.15v16.3h-1.15zM398.1 626.0h1.15v16.3h-1.15zM446.1 626.0h1.15v16.3h-1.15zM479.2 626.0h1.15v16.3h-1.15zM484.2 626.0h1.15v16.3h-1.15zM493.2 626.0h1.15v16.3h-1.15zM501.2 626.0h1.15v16.3h-1.15zM514.3 626.0h1.15v16.3h-1.15zM515.3 626.0h1.15v16.3h-1.15zM524.3 626.0h1.15v16.3h-1.15zM550.3 626.0h1.15v16.3h-1.15zM557.3 626.0h1.15v16.3h-1.15zM559.3 626.0h1.15v16.3h-1.15zM561.3 626.0h1.15v16.3h-1.15zM568.4 626.0h1.15v16.3h-1.15zM574.4 626.0h1.15v16.3h-1.15zM598.4 626.0h1.15v16.3h-1.15zM599.4 626.0h1.15v16.3h-1.15zM600.4 626.0h1.15v16.3h-1.15zM602.4 626.0h1.15v16.3h-1.15zM623.5 626.0h1.15v16.3h-1.15zM627.5 626.0h1.15v16.3h-1.15zM630.5 626.0h1.15v16.3h-1.15zM636.5 626.0h1.15v16.3h-1.15zM638.5 626.0h1.15v16.3h-1.15zM309.9 642.3h1.15v16.3h-1.15zM310.9 642.3h1.15v16.3h-1.15zM311.9 642.3h1.15v16.3h-1.15zM319.9 642.3h1.15v16.3h-1.15zM327.9 642.3h1.15v16.3h-1.15zM346.0 642.3h1.15v16.3h-1.15zM353.0 642.3h1.15v16.3h-1.15zM355.0 642.3h1.15v16.3h-1.15zM371.0 642.3h1.15v16.3h-1.15zM390.0 642.3h1.15v16.3h-1.15zM395.1 642.3h1.15v16.3h-1.15zM397.1 642.3h1.15v16.3h-1.15zM398.1 642.3h1.15v16.3h-1.15zM458.2 642.3h1.15v16.3h-1.15zM481.2 642.3h1.15v16.3h-1.15zM486.2 642.3h1.15v16.3h-1.15zM490.2 642.3h1.15v16.3h-1.15zM491.2 642.3h1.15v16.3h-1.15zM510.3 642.3h1.15v16.3h-1.15zM514.3 642.3h1.15v16.3h-1.15zM515.3 642.3h1.15v16.3h-1.15zM524.3 642.3h1.15v16.3h-1.15zM526.3 642.3h1.15v16.3h-1.15zM549.3 642.3h1.15v16.3h-1.15zM560.3 642.3h1.15v16.3h-1.15zM576.4 642.3h1.15v16.3h-1.15zM590.4 642.3h1.15v16.3h-1.15zM591.4 642.3h1.15v16.3h-1.15zM601.4 642.3h1.15v16.3h-1.15zM628.5 642.3h1.15v16.3h-1.15zM634.5 642.3h1.15v16.3h-1.15zM636.5 642.3h1.15v16.3h-1.15zM646.5 642.3h1.15v16.3h-1.15z" fill="#e1e7e1"/>
<path d="M571.4 496.0h1.15v16.3h-1.15zM490.2 512.2h1.15v16.3h-1.15zM491.2 512.2h1.15v16.3h-1.15zM496.2 512.2h1.15v16.3h-1.15zM497.2 512.2h1.15v16.3h-1.15zM509.3 512.2h1.15v16.3h-1.15zM516.3 512.2h1.15v16.3h-1.15zM524.3 512.2h1.15v16.3h-1.15zM550.3 512.2h1.15v16.3h-1.15zM553.3 512.2h1.15v16.3h-1.15zM554.3 512.2h1.15v16.3h-1.15zM568.4 512.2h1.15v16.3h-1.15zM584.4 512.2h1.15v16.3h-1.15zM588.4 512.2h1.15v16.3h-1.15zM592.4 512.2h1.15v16.3h-1.15zM597.4 512.2h1.15v16.3h-1.15zM598.4 512.2h1.15v16.3h-1.15zM610.4 512.2h1.15v16.3h-1.15zM611.4 512.2h1.15v16.3h-1.15zM620.4 512.2h1.15v16.3h-1.15zM621.4 512.2h1.15v16.3h-1.15zM624.5 512.2h1.15v16.3h-1.15zM475.2 528.5h1.15v16.3h-1.15zM581.4 528.5h1.15v16.3h-1.15zM611.4 528.5h1.15v16.3h-1.15zM616.4 528.5h1.15v16.3h-1.15zM641.5 528.5h1.15v16.3h-1.15zM642.5 528.5h1.15v16.3h-1.15zM421.1 544.7h1.15v16.3h-1.15zM473.2 544.7h1.15v16.3h-1.15zM475.2 544.7h1.15v16.3h-1.15zM493.2 544.7h1.15v16.3h-1.15zM495.2 544.7h1.15v16.3h-1.15zM506.2 544.7h1.15v16.3h-1.15zM508.2 544.7h1.15v16.3h-1.15zM514.3 544.7h1.15v16.3h-1.15zM518.3 544.7h1.15v16.3h-1.15zM526.3 544.7h1.15v16.3h-1.15zM534.3 544.7h1.15v16.3h-1.15zM560.3 544.7h1.15v16.3h-1.15zM561.3 544.7h1.15v16.3h-1.15zM563.3 544.7h1.15v16.3h-1.15zM578.4 544.7h1.15v16.3h-1.15zM588.4 544.7h1.15v16.3h-1.15zM591.4 544.7h1.15v16.3h-1.15zM592.4 544.7h1.15v16.3h-1.15zM599.4 544.7h1.15v16.3h-1.15zM601.4 544.7h1.15v16.3h-1.15zM605.4 544.7h1.15v16.3h-1.15zM606.4 544.7h1.15v16.3h-1.15zM608.4 544.7h1.15v16.3h-1.15zM609.4 544.7h1.15v16.3h-1.15zM610.4 544.7h1.15v16.3h-1.15zM611.4 544.7h1.15v16.3h-1.15zM616.4 544.7h1.15v16.3h-1.15zM620.4 544.7h1.15v16.3h-1.15zM621.4 544.7h1.15v16.3h-1.15zM627.5 544.7h1.15v16.3h-1.15zM643.5 544.7h1.15v16.3h-1.15zM495.2 561.0h1.15v16.3h-1.15zM504.2 561.0h1.15v16.3h-1.15zM506.2 561.0h1.15v16.3h-1.15zM516.3 561.0h1.15v16.3h-1.15zM517.3 561.0h1.15v16.3h-1.15zM544.3 561.0h1.15v16.3h-1.15zM580.4 561.0h1.15v16.3h-1.15zM581.4 561.0h1.15v16.3h-1.15zM604.4 561.0h1.15v16.3h-1.15zM641.5 561.0h1.15v16.3h-1.15zM412.1 577.3h1.15v16.3h-1.15zM416.1 577.3h1.15v16.3h-1.15zM419.1 577.3h1.15v16.3h-1.15zM421.1 577.3h1.15v16.3h-1.15zM432.1 577.3h1.15v16.3h-1.15zM462.2 577.3h1.15v16.3h-1.15zM472.2 577.3h1.15v16.3h-1.15zM475.2 577.3h1.15v16.3h-1.15zM477.2 577.3h1.15v16.3h-1.15zM478.2 577.3h1.15v16.3h-1.15zM487.2 577.3h1.15v16.3h-1.15zM488.2 577.3h1.15v16.3h-1.15zM495.2 577.3h1.15v16.3h-1.15zM496.2 577.3h1.15v16.3h-1.15zM508.2 577.3h1.15v16.3h-1.15zM527.3 577.3h1.15v16.3h-1.15zM539.3 577.3h1.15v16.3h-1.15zM544.3 577.3h1.15v16.3h-1.15zM545.3 577.3h1.15v16.3h-1.15zM591.4 577.3h1.15v16.3h-1.15zM608.4 577.3h1.15v16.3h-1.15zM609.4 577.3h1.15v16.3h-1.15zM612.4 577.3h1.15v16.3h-1.15zM618.4 577.3h1.15v16.3h-1.15zM621.4 577.3h1.15v16.3h-1.15zM622.5 577.3h1.15v16.3h-1.15zM640.5 577.3h1.15v16.3h-1.15zM642.5 577.3h1.15v16.3h-1.15zM643.5 577.3h1.15v16.3h-1.15zM472.2 593.5h1.15v16.3h-1.15zM476.2 593.5h1.15v16.3h-1.15zM486.2 593.5h1.15v16.3h-1.15zM487.2 593.5h1.15v16.3h-1.15zM488.2 593.5h1.15v16.3h-1.15zM495.2 593.5h1.15v16.3h-1.15zM505.2 593.5h1.15v16.3h-1.15zM506.2 593.5h1.15v16.3h-1.15zM525.3 593.5h1.15v16.3h-1.15zM546.3 593.5h1.15v16.3h-1.15zM553.3 593.5h1.15v16.3h-1.15zM554.3 593.5h1.15v16.3h-1.15zM557.3 593.5h1.15v16.3h-1.15zM561.3 593.5h1.15v16.3h-1.15zM592.4 593.5h1.15v16.3h-1.15zM598.4 593.5h1.15v16.3h-1.15zM605.4 593.5h1.15v16.3h-1.15zM606.4 593.5h1.15v16.3h-1.15zM608.4 593.5h1.15v16.3h-1.15zM610.4 593.5h1.15v16.3h-1.15zM611.4 593.5h1.15v16.3h-1.15zM618.4 593.5h1.15v16.3h-1.15zM622.5 593.5h1.15v16.3h-1.15zM627.5 593.5h1.15v16.3h-1.15zM640.5 593.5h1.15v16.3h-1.15zM641.5 593.5h1.15v16.3h-1.15zM335.9 609.8h1.15v16.3h-1.15zM342.0 609.8h1.15v16.3h-1.15zM350.0 609.8h1.15v16.3h-1.15zM458.2 609.8h1.15v16.3h-1.15zM464.2 609.8h1.15v16.3h-1.15zM465.2 609.8h1.15v16.3h-1.15zM469.2 609.8h1.15v16.3h-1.15zM471.2 609.8h1.15v16.3h-1.15zM480.2 609.8h1.15v16.3h-1.15zM486.2 609.8h1.15v16.3h-1.15zM490.2 609.8h1.15v16.3h-1.15zM498.2 609.8h1.15v16.3h-1.15zM503.2 609.8h1.15v16.3h-1.15zM505.2 609.8h1.15v16.3h-1.15zM509.3 609.8h1.15v16.3h-1.15zM524.3 609.8h1.15v16.3h-1.15zM527.3 609.8h1.15v16.3h-1.15zM539.3 609.8h1.15v16.3h-1.15zM553.3 609.8h1.15v16.3h-1.15zM557.3 609.8h1.15v16.3h-1.15zM558.3 609.8h1.15v16.3h-1.15zM560.3 609.8h1.15v16.3h-1.15zM561.3 609.8h1.15v16.3h-1.15zM563.3 609.8h1.15v16.3h-1.15zM575.4 609.8h1.15v16.3h-1.15zM576.4 609.8h1.15v16.3h-1.15zM597.4 609.8h1.15v16.3h-1.15zM599.4 609.8h1.15v16.3h-1.15zM621.4 609.8h1.15v16.3h-1.15zM625.5 609.8h1.15v16.3h-1.15zM626.5 609.8h1.15v16.3h-1.15zM627.5 609.8h1.15v16.3h-1.15zM628.5 609.8h1.15v16.3h-1.15zM629.5 609.8h1.15v16.3h-1.15zM636.5 609.8h1.15v16.3h-1.15zM637.5 609.8h1.15v16.3h-1.15zM333.9 626.0h1.15v16.3h-1.15zM359.0 626.0h1.15v16.3h-1.15zM363.0 626.0h1.15v16.3h-1.15zM371.0 626.0h1.15v16.3h-1.15zM373.0 626.0h1.15v16.3h-1.15zM385.0 626.0h1.15v16.3h-1.15zM386.0 626.0h1.15v16.3h-1.15zM396.1 626.0h1.15v16.3h-1.15zM442.1 626.0h1.15v16.3h-1.15zM443.1 626.0h1.15v16.3h-1.15zM454.2 626.0h1.15v16.3h-1.15zM458.2 626.0h1.15v16.3h-1.15zM463.2 626.0h1.15v16.3h-1.15zM467.2 626.0h1.15v16.3h-1.15zM471.2 626.0h1.15v16.3h-1.15zM478.2 626.0h1.15v16.3h-1.15zM481.2 626.0h1.15v16.3h-1.15zM482.2 626.0h1.15v16.3h-1.15zM488.2 626.0h1.15v16.3h-1.15zM494.2 626.0h1.15v16.3h-1.15zM496.2 626.0h1.15v16.3h-1.15zM498.2 626.0h1.15v16.3h-1.15zM503.2 626.0h1.15v16.3h-1.15zM509.3 626.0h1.15v16.3h-1.15zM513.3 626.0h1.15v16.3h-1.15zM525.3 626.0h1.15v16.3h-1.15zM527.3 626.0h1.15v16.3h-1.15zM541.3 626.0h1.15v16.3h-1.15zM546.3 626.0h1.15v16.3h-1.15zM551.3 626.0h1.15v16.3h-1.15zM554.3 626.0h1.15v16.3h-1.15zM560.3 626.0h1.15v16.3h-1.15zM562.3 626.0h1.15v16.3h-1.15zM577.4 626.0h1.15v16.3h-1.15zM590.4 626.0h1.15v16.3h-1.15zM591.4 626.0h1.15v16.3h-1.15zM592.4 626.0h1.15v16.3h-1.15zM596.4 626.0h1.15v16.3h-1.15zM597.4 626.0h1.15v16.3h-1.15zM605.4 626.0h1.15v16.3h-1.15zM606.4 626.0h1.15v16.3h-1.15zM607.4 626.0h1.15v16.3h-1.15zM608.4 626.0h1.15v16.3h-1.15zM609.4 626.0h1.15v16.3h-1.15zM613.4 626.0h1.15v16.3h-1.15zM617.4 626.0h1.15v16.3h-1.15zM621.4 626.0h1.15v16.3h-1.15zM629.5 626.0h1.15v16.3h-1.15zM633.5 626.0h1.15v16.3h-1.15zM324.9 642.3h1.15v16.3h-1.15zM326.9 642.3h1.15v16.3h-1.15zM334.9 642.3h1.15v16.3h-1.15zM335.9 642.3h1.15v16.3h-1.15zM340.0 642.3h1.15v16.3h-1.15zM341.0 642.3h1.15v16.3h-1.15zM349.0 642.3h1.15v16.3h-1.15zM357.0 642.3h1.15v16.3h-1.15zM361.0 642.3h1.15v16.3h-1.15zM369.0 642.3h1.15v16.3h-1.15zM382.0 642.3h1.15v16.3h-1.15zM396.1 642.3h1.15v16.3h-1.15zM448.1 642.3h1.15v16.3h-1.15zM454.2 642.3h1.15v16.3h-1.15zM465.2 642.3h1.15v16.3h-1.15zM466.2 642.3h1.15v16.3h-1.15zM467.2 642.3h1.15v16.3h-1.15zM474.2 642.3h1.15v16.3h-1.15zM482.2 642.3h1.15v16.3h-1.15zM485.2 642.3h1.15v16.3h-1.15zM489.2 642.3h1.15v16.3h-1.15zM493.2 642.3h1.15v16.3h-1.15zM494.2 642.3h1.15v16.3h-1.15zM502.2 642.3h1.15v16.3h-1.15zM506.2 642.3h1.15v16.3h-1.15zM508.2 642.3h1.15v16.3h-1.15zM509.3 642.3h1.15v16.3h-1.15zM512.3 642.3h1.15v16.3h-1.15zM518.3 642.3h1.15v16.3h-1.15zM525.3 642.3h1.15v16.3h-1.15zM531.3 642.3h1.15v16.3h-1.15zM540.3 642.3h1.15v16.3h-1.15zM541.3 642.3h1.15v16.3h-1.15zM554.3 642.3h1.15v16.3h-1.15zM575.4 642.3h1.15v16.3h-1.15zM577.4 642.3h1.15v16.3h-1.15zM584.4 642.3h1.15v16.3h-1.15zM592.4 642.3h1.15v16.3h-1.15zM596.4 642.3h1.15v16.3h-1.15zM608.4 642.3h1.15v16.3h-1.15zM610.4 642.3h1.15v16.3h-1.15zM611.4 642.3h1.15v16.3h-1.15zM613.4 642.3h1.15v16.3h-1.15zM640.5 642.3h1.15v16.3h-1.15zM641.5 642.3h1.15v16.3h-1.15zM643.5 642.3h1.15v16.3h-1.15z" fill="#d5e1e1"/>
<path d="M572.4 496.0h1.15v16.3h-1.15zM584.4 496.0h1.15v16.3h-1.15zM616.4 496.0h1.15v16.3h-1.15zM501.2 512.2h1.15v16.3h-1.15zM511.3 512.2h1.15v16.3h-1.15zM512.3 512.2h1.15v16.3h-1.15zM533.3 512.2h1.15v16.3h-1.15zM535.3 512.2h1.15v16.3h-1.15zM538.3 512.2h1.15v16.3h-1.15zM541.3 512.2h1.15v16.3h-1.15zM556.3 512.2h1.15v16.3h-1.15zM559.3 512.2h1.15v16.3h-1.15zM561.3 512.2h1.15v16.3h-1.15zM565.4 512.2h1.15v16.3h-1.15zM596.4 512.2h1.15v16.3h-1.15zM599.4 512.2h1.15v16.3h-1.15zM600.4 512.2h1.15v16.3h-1.15zM626.5 512.2h1.15v16.3h-1.15zM630.5 512.2h1.15v16.3h-1.15zM636.5 512.2h1.15v16.3h-1.15zM638.5 512.2h1.15v16.3h-1.15zM461.2 528.5h1.15v16.3h-1.15zM472.2 528.5h1.15v16.3h-1.15zM478.2 528.5h1.15v16.3h-1.15zM579.4 528.5h1.15v16.3h-1.15zM604.4 528.5h1.15v16.3h-1.15zM609.4 528.5h1.15v16.3h-1.15zM621.4 528.5h1.15v16.3h-1.15zM405.1 544.7h1.15v16.3h-1.15zM434.1 544.7h1.15v16.3h-1.15zM474.2 544.7h1.15v16.3h-1.15zM478.2 544.7h1.15v16.3h-1.15zM497.2 544.7h1.15v16.3h-1.15zM498.2 544.7h1.15v16.3h-1.15zM509.3 544.7h1.15v16.3h-1.15zM512.3 544.7h1.15v16.3h-1.15zM513.3 544.7h1.15v16.3h-1.15zM557.3 544.7h1.15v16.3h-1.15zM558.3 544.7h1.15v16.3h-1.15zM564.3 544.7h1.15v16.3h-1.15zM566.4 544.7h1.15v16.3h-1.15zM567.4 544.7h1.15v16.3h-1.15zM576.4 544.7h1.15v16.3h-1.15zM577.4 544.7h1.15v16.3h-1.15zM582.4 544.7h1.15v16.3h-1.15zM590.4 544.7h1.15v16.3h-1.15zM600.4 544.7h1.15v16.3h-1.15zM602.4 544.7h1.15v16.3h-1.15zM612.4 544.7h1.15v16.3h-1.15zM624.5 544.7h1.15v16.3h-1.15zM629.5 544.7h1.15v16.3h-1.15zM462.2 561.0h1.15v16.3h-1.15zM474.2 561.0h1.15v16.3h-1.15zM497.2 561.0h1.15v16.3h-1.15zM505.2 561.0h1.15v16.3h-1.15zM518.3 561.0h1.15v16.3h-1.15zM546.3 561.0h1.15v16.3h-1.15zM572.4 561.0h1.15v16.3h-1.15zM603.4 561.0h1.15v16.3h-1.15zM620.4 561.0h1.15v16.3h-1.15zM406.1 577.3h1.15v16.3h-1.15zM417.1 577.3h1.15v16.3h-1.15zM418.1 577.3h1.15v16.3h-1.15zM422.1 577.3h1.15v16.3h-1.15zM455.2 577.3h1.15v16.3h-1.15zM468.2 577.3h1.15v16.3h-1.15zM469.2 577.3h1.15v16.3h-1.15zM471.2 577.3h1.15v16.3h-1.15zM473.2 577.3h1.15v16.3h-1.15zM476.2 577.3h1.15v16.3h-1.15zM497.2 577.3h1.15v16.3h-1.15zM505.2 577.3h1.15v16.3h-1.15zM509.3 577.3h1.15v16.3h-1.15zM513.3 577.3h1.15v16.3h-1.15zM518.3 577.3h1.15v16.3h-1.15zM537.3 577.3h1.15v16.3h-1.15zM540.3 577.3h1.15v16.3h-1.15zM584.4 577.3h1.15v16.3h-1.15zM604.4 577.3h1.15v16.3h-1.15zM607.4 577.3h1.15v16.3h-1.15zM610.4 577.3h1.15v16.3h-1.15zM620.4 577.3h1.15v16.3h-1.15zM624.5 577.3h1.15v16.3h-1.15zM628.5 577.3h1.15v16.3h-1.15zM635.5 577.3h1.15v16.3h-1.15zM636.5 577.3h1.15v16.3h-1.15zM448.1 593.5h1.15v16.3h-1.15zM462.2 593.5h1.15v16.3h-1.15zM466.2 593.5h1.15v16.3h-1.15zM482.2 593.5h1.15v16.3h-1.15zM498.2 593.5h1.15v16.3h-1.15zM507.2 593.5h1.15v16.3h-1.15zM509.3 593.5h1.15v16.3h-1.15zM534.3 593.5h1.15v16.3h-1.15zM539.3 593.5h1.15v16.3h-1.15zM540.3 593.5h1.15v16.3h-1.15zM541.3 593.5h1.15v16.3h-1.15zM563.3 593.5h1.15v16.3h-1.15zM567.4 593.5h1.15v16.3h-1.15zM576.4 593.5h1.15v16.3h-1.15zM588.4 593.5h1.15v16.3h-1.15zM589.4 593.5h1.15v16.3h-1.15zM597.4 593.5h1.15v16.3h-1.15zM607.4 593.5h1.15v16.3h-1.15zM339.0 609.8h1.15v16.3h-1.15zM374.0 609.8h1.15v16.3h-1.15zM441.1 609.8h1.15v16.3h-1.15zM450.1 609.8h1.15v16.3h-1.15zM455.2 609.8h1.15v16.3h-1.15zM467.2 609.8h1.15v16.3h-1.15zM473.2 609.8h1.15v16.3h-1.15zM482.2 609.8h1.15v16.3h-1.15zM515.3 609.8h1.15v16.3h-1.15zM533.3 609.8h1.15v16.3h-1.15zM540.3 609.8h1.15v16.3h-1.15zM549.3 609.8h1.15v16.3h-1.15zM551.3 609.8h1.15v16.3h-1.15zM566.4 609.8h1.15v16.3h-1.15zM569.4 609.8h1.15v16.3h-1.15zM623.5 609.8h1.15v16.3h-1.15zM632.5 609.8h1.15v16.3h-1.15zM634.5 609.8h1.15v16.3h-1.15zM644.5 609.8h1.15v16.3h-1.15zM319.9 626.0h1.15v16.3h-1.15zM325.9 626.0h1.15v16.3h-1.15zM326.9 626.0h1.15v16.3h-1.15zM341.0 626.0h1.15v16.3h-1.15zM384.0 626.0h1.15v16.3h-1.15zM387.0 626.0h1.15v16.3h-1.15zM394.0 626.0h1.15v16.3h-1.15zM445.1 626.0h1.15v16.3h-1.15zM457.2 626.0h1.15v16.3h-1.15zM459.2 626.0h1.15v16.3h-1.15zM490.2 626.0h1.15v16.3h-1.15zM497.2 626.0h1.15v16.3h-1.15zM502.2 626.0h1.15v16.3h-1.15zM516.3 626.0h1.15v16.3h-1.15zM534.3 626.0h1.15v16.3h-1.15zM536.3 626.0h1.15v16.3h-1.15zM538.3 626.0h1.15v16.3h-1.15zM542.3 626.0h1.15v16.3h-1.15zM549.3 626.0h1.15v16.3h-1.15zM582.4 626.0h1.15v16.3h-1.15zM588.4 626.0h1.15v16.3h-1.15zM601.4 626.0h1.15v16.3h-1.15zM620.4 626.0h1.15v16.3h-1.15zM628.5 626.0h1.15v16.3h-1.15zM631.5 626.0h1.15v16.3h-1.15zM635.5 626.0h1.15v16.3h-1.15zM637.5 626.0h1.15v16.3h-1.15zM342.0 642.3h1.15v16.3h-1.15zM354.0 642.3h1.15v16.3h-1.15zM370.0 642.3h1.15v16.3h-1.15zM380.0 642.3h1.15v16.3h-1.15zM384.0 642.3h1.15v16.3h-1.15zM394.0 642.3h1.15v16.3h-1.15zM450.1 642.3h1.15v16.3h-1.15zM457.2 642.3h1.15v16.3h-1.15zM460.2 642.3h1.15v16.3h-1.15zM472.2 642.3h1.15v16.3h-1.15zM501.2 642.3h1.15v16.3h-1.15zM507.2 642.3h1.15v16.3h-1.15zM533.3 642.3h1.15v16.3h-1.15zM558.3 642.3h1.15v16.3h-1.15zM559.3 642.3h1.15v16.3h-1.15zM562.3 642.3h1.15v16.3h-1.15zM563.3 642.3h1.15v16.3h-1.15zM564.3 642.3h1.15v16.3h-1.15zM565.4 642.3h1.15v16.3h-1.15zM570.4 642.3h1.15v16.3h-1.15zM583.4 642.3h1.15v16.3h-1.15zM597.4 642.3h1.15v16.3h-1.15zM605.4 642.3h1.15v16.3h-1.15zM607.4 642.3h1.15v16.3h-1.15zM609.4 642.3h1.15v16.3h-1.15zM617.4 642.3h1.15v16.3h-1.15zM620.4 642.3h1.15v16.3h-1.15zM623.5 642.3h1.15v16.3h-1.15zM626.5 642.3h1.15v16.3h-1.15z" fill="#dbe7e1"/>
<path d="M578.4 496.0h1.15v16.3h-1.15zM579.4 496.0h1.15v16.3h-1.15zM582.4 496.0h1.15v16.3h-1.15zM610.4 496.0h1.15v16.3h-1.15zM612.4 496.0h1.15v16.3h-1.15zM618.4 496.0h1.15v16.3h-1.15zM635.5 496.0h1.15v16.3h-1.15zM500.2 512.2h1.15v16.3h-1.15zM502.2 512.2h1.15v16.3h-1.15zM503.2 512.2h1.15v16.3h-1.15zM528.3 512.2h1.15v16.3h-1.15zM555.3 512.2h1.15v16.3h-1.15zM562.3 512.2h1.15v16.3h-1.15zM567.4 512.2h1.15v16.3h-1.15zM603.4 512.2h1.15v16.3h-1.15zM615.4 512.2h1.15v16.3h-1.15zM619.4 512.2h1.15v16.3h-1.15zM634.5 512.2h1.15v16.3h-1.15zM644.5 512.2h1.15v16.3h-1.15zM405.1 528.5h1.15v16.3h-1.15zM416.1 528.5h1.15v16.3h-1.15zM418.1 528.5h1.15v16.3h-1.15zM455.2 528.5h1.15v16.3h-1.15zM468.2 528.5h1.15v16.3h-1.15zM470.2 528.5h1.15v16.3h-1.15zM471.2 528.5h1.15v16.3h-1.15zM477.2 528.5h1.15v16.3h-1.15zM577.4 528.5h1.15v16.3h-1.15zM578.4 528.5h1.15v16.3h-1.15zM583.4 528.5h1.15v16.3h-1.15zM598.4 528.5h1.15v16.3h-1.15zM607.4 528.5h1.15v16.3h-1.15zM610.4 528.5h1.15v16.3h-1.15zM612.4 528.5h1.15v16.3h-1.15zM620.4 528.5h1.15v16.3h-1.15zM624.5 528.5h1.15v16.3h-1.15zM626.5 528.5h1.15v16.3h-1.15zM627.5 528.5h1.15v16.3h-1.15zM412.1 544.7h1.15v16.3h-1.15zM433.1 544.7h1.15v16.3h-1.15zM438.1 544.7h1.15v16.3h-1.15zM443.1 544.7h1.15v16.3h-1.15zM464.2 544.7h1.15v16.3h-1.15zM468.2 544.7h1.15v16.3h-1.15zM477.2 544.7h1.15v16.3h-1.15zM481.2 544.7h1.15v16.3h-1.15zM489.2 544.7h1.15v16.3h-1.15zM490.2 544.7h1.15v16.3h-1.15zM503.2 544.7h1.15v16.3h-1.15zM511.3 544.7h1.15v16.3h-1.15zM530.3 544.7h1.15v16.3h-1.15zM537.3 544.7h1.15v16.3h-1.15zM538.3 544.7h1.15v16.3h-1.15zM549.3 544.7h1.15v16.3h-1.15zM552.3 544.7h1.15v16.3h-1.15zM556.3 544.7h1.15v16.3h-1.15zM570.4 544.7h1.15v16.3h-1.15zM574.4 544.7h1.15v16.3h-1.15zM586.4 544.7h1.15v16.3h-1.15zM587.4 544.7h1.15v16.3h-1.15zM644.5 544.7h1.15v16.3h-1.15zM645.5 544.7h1.15v16.3h-1.15zM417.1 561.0h1.15v16.3h-1.15zM447.1 561.0h1.15v16.3h-1.15zM454.2 561.0h1.15v16.3h-1.15zM466.2 561.0h1.15v16.3h-1.15zM475.2 561.0h1.15v16.3h-1.15zM488.2 561.0h1.15v16.3h-1.15zM496.2 561.0h1.15v16.3h-1.15zM501.2 561.0h1.15v16.3h-1.15zM507.2 561.0h1.15v16.3h-1.15zM514.3 561.0h1.15v16.3h-1.15zM515.3 561.0h1.15v16.3h-1.15zM524.3 561.0h1.15v16.3h-1.15zM533.3 561.0h1.15v16.3h-1.15zM541.3 561.0h1.15v16.3h-1.15zM545.3 561.0h1.15v16.3h-1.15zM552.3 561.0h1.15v16.3h-1.15zM559.3 561.0h1.15v16.3h-1.15zM582.4 561.0h1.15v16.3h-1.15zM587.4 561.0h1.15v16.3h-1.15zM601.4 561.0h1.15v16.3h-1.15zM613.4 561.0h1.15v16.3h-1.15zM625.5 561.0h1.15v16.3h-1.15zM626.5 561.0h1.15v16.3h-1.15zM628.5 561.0h1.15v16.3h-1.15zM643.5 561.0h1.15v16.3h-1.15zM413.1 577.3h1.15v16.3h-1.15zM437.1 577.3h1.15v16.3h-1.15zM446.1 577.3h1.15v16.3h-1.15zM448.1 577.3h1.15v16.3h-1.15zM466.2 577.3h1.15v16.3h-1.15zM480.2 577.3h1.15v16.3h-1.15zM481.2 577.3h1.15v16.3h-1.15zM491.2 577.3h1.15v16.3h-1.15zM506.2 577.3h1.15v16.3h-1.15zM507.2 577.3h1.15v16.3h-1.15zM534.3 577.3h1.15v16.3h-1.15zM541.3 577.3h1.15v16.3h-1.15zM550.3 577.3h1.15v16.3h-1.15zM552.3 577.3h1.15v16.3h-1.15zM556.3 577.3h1.15v16.3h-1.15zM567.4 577.3h1.15v16.3h-1.15zM568.4 577.3h1.15v16.3h-1.15zM569.4 577.3h1.15v16.3h-1.15zM575.4 577.3h1.15v16.3h-1.15zM578.4 577.3h1.15v16.3h-1.15zM586.4 577.3h1.15v16.3h-1.15zM589.4 577.3h1.15v16.3h-1.15zM602.4 577.3h1.15v16.3h-1.15zM603.4 577.3h1.15v16.3h-1.15zM614.4 577.3h1.15v16.3h-1.15zM625.5 577.3h1.15v16.3h-1.15zM627.5 577.3h1.15v16.3h-1.15zM629.5 577.3h1.15v16.3h-1.15zM631.5 577.3h1.15v16.3h-1.15zM644.5 577.3h1.15v16.3h-1.15zM645.5 577.3h1.15v16.3h-1.15zM450.1 593.5h1.15v16.3h-1.15zM455.2 593.5h1.15v16.3h-1.15zM456.2 593.5h1.15v16.3h-1.15zM463.2 593.5h1.15v16.3h-1.15zM469.2 593.5h1.15v16.3h-1.15zM501.2 593.5h1.15v16.3h-1.15zM502.2 593.5h1.15v16.3h-1.15zM510.3 593.5h1.15v16.3h-1.15zM515.3 593.5h1.15v16.3h-1.15zM535.3 593.5h1.15v16.3h-1.15zM536.3 593.5h1.15v16.3h-1.15zM537.3 593.5h1.15v16.3h-1.15zM538.3 593.5h1.15v16.3h-1.15zM549.3 593.5h1.15v16.3h-1.15zM552.3 593.5h1.15v16.3h-1.15zM556.3 593.5h1.15v16.3h-1.15zM560.3 593.5h1.15v16.3h-1.15zM562.3 593.5h1.15v16.3h-1.15zM575.4 593.5h1.15v16.3h-1.15zM587.4 593.5h1.15v16.3h-1.15zM599.4 593.5h1.15v16.3h-1.15zM600.4 593.5h1.15v16.3h-1.15zM619.4 593.5h1.15v16.3h-1.15zM626.5 593.5h1.15v16.3h-1.15zM628.5 593.5h1.15v16.3h-1.15zM632.5 593.5h1.15v16.3h-1.15zM645.5 593.5h1.15v16.3h-1.15zM336.9 609.8h1.15v16.3h-1.15zM344.0 609.8h1.15v16.3h-1.15zM345.0 609.8h1.15v16.3h-1.15zM352.0 609.8h1.15v16.3h-1.15zM353.0 609.8h1.15v16.3h-1.15zM369.0 609.8h1.15v16.3h-1.15zM370.0 609.8h1.15v16.3h-1.15zM385.0 609.8h1.15v16.3h-1.15zM412.1 609.8h1.15v16.3h-1.15zM420.1 609.8h1.15v16.3h-1.15zM421.1 609.8h1.15v16.3h-1.15zM422.1 609.8h1.15v16.3h-1.15zM426.1 609.8h1.15v16.3h-1.15zM431.1 609.8h1.15v16.3h-1.15zM444.1 609.8h1.15v16.3h-1.15zM483.2 609.8h1.15v16.3h-1.15zM499.2 609.8h1.15v16.3h-1.15zM502.2 609.8h1.15v16.3h-1.15zM535.3 609.8h1.15v16.3h-1.15zM537.3 609.8h1.15v16.3h-1.15zM543.3 609.8h1.15v16.3h-1.15zM585.4 609.8h1.15v16.3h-1.15zM594.4 609.8h1.15v16.3h-1.15zM317.9 626.0h1.15v16.3h-1.15zM328.9 626.0h1.15v16.3h-1.15zM344.0 626.0h1.15v16.3h-1.15zM351.0 626.0h1.15v16.3h-1.15zM353.0 626.0h1.15v16.3h-1.15zM355.0 626.0h1.15v16.3h-1.15zM360.0 626.0h1.15v16.3h-1.15zM366.0 626.0h1.15v16.3h-1.15zM390.0 626.0h1.15v16.3h-1.15zM391.0 626.0h1.15v16.3h-1.15zM420.1 626.0h1.15v16.3h-1.15zM533.3 626.0h1.15v16.3h-1.15zM535.3 626.0h1.15v16.3h-1.15zM537.3 626.0h1.15v16.3h-1.15zM575.4 626.0h1.15v16.3h-1.15zM593.4 626.0h1.15v16.3h-1.15zM614.4 626.0h1.15v16.3h-1.15zM625.5 626.0h1.15v16.3h-1.15zM626.5 626.0h1.15v16.3h-1.15zM649.5 626.0h1.15v16.3h-1.15zM325.9 642.3h1.15v16.3h-1.15zM347.0 642.3h1.15v16.3h-1.15zM350.0 642.3h1.15v16.3h-1.15zM352.0 642.3h1.15v16.3h-1.15zM381.0 642.3h1.15v16.3h-1.15zM383.0 642.3h1.15v16.3h-1.15zM391.0 642.3h1.15v16.3h-1.15zM406.1 642.3h1.15v16.3h-1.15zM416.1 642.3h1.15v16.3h-1.15zM442.1 642.3h1.15v16.3h-1.15zM459.2 642.3h1.15v16.3h-1.15zM483.2 642.3h1.15v16.3h-1.15zM542.3 642.3h1.15v16.3h-1.15zM551.3 642.3h1.15v16.3h-1.15zM552.3 642.3h1.15v16.3h-1.15zM567.4 642.3h1.15v16.3h-1.15zM585.4 642.3h1.15v16.3h-1.15zM602.4 642.3h1.15v16.3h-1.15zM603.4 642.3h1.15v16.3h-1.15zM614.4 642.3h1.15v16.3h-1.15zM638.5 642.3h1.15v16.3h-1.15z" fill="#edede1"/>
<path d="M580.4 496.0h1.15v16.3h-1.15zM493.2 512.2h1.15v16.3h-1.15zM504.2 512.2h1.15v16.3h-1.15zM518.3 512.2h1.15v16.3h-1.15zM519.3 512.2h1.15v16.3h-1.15zM540.3 512.2h1.15v16.3h-1.15zM546.3 512.2h1.15v16.3h-1.15zM578.4 512.2h1.15v16.3h-1.15zM579.4 512.2h1.15v16.3h-1.15zM581.4 512.2h1.15v16.3h-1.15zM582.4 512.2h1.15v16.3h-1.15zM583.4 512.2h1.15v16.3h-1.15zM591.4 512.2h1.15v16.3h-1.15zM604.4 512.2h1.15v16.3h-1.15zM605.4 512.2h1.15v16.3h-1.15zM616.4 512.2h1.15v16.3h-1.15zM623.5 512.2h1.15v16.3h-1.15zM641.5 512.2h1.15v16.3h-1.15zM572.4 528.5h1.15v16.3h-1.15zM643.5 528.5h1.15v16.3h-1.15zM429.1 544.7h1.15v16.3h-1.15zM496.2 544.7h1.15v16.3h-1.15zM504.2 544.7h1.15v16.3h-1.15zM505.2 544.7h1.15v16.3h-1.15zM516.3 544.7h1.15v16.3h-1.15zM525.3 544.7h1.15v16.3h-1.15zM546.3 544.7h1.15v16.3h-1.15zM559.3 544.7h1.15v16.3h-1.15zM581.4 544.7h1.15v16.3h-1.15zM623.5 544.7h1.15v16.3h-1.15zM640.5 544.7h1.15v16.3h-1.15zM641.5 544.7h1.15v16.3h-1.15zM591.4 561.0h1.15v16.3h-1.15zM607.4 561.0h1.15v16.3h-1.15zM617.4 561.0h1.15v16.3h-1.15zM463.2 577.3h1.15v16.3h-1.15zM504.2 577.3h1.15v16.3h-1.15zM517.3 577.3h1.15v16.3h-1.15zM546.3 577.3h1.15v16.3h-1.15zM580.4 577.3h1.15v16.3h-1.15zM581.4 577.3h1.15v16.3h-1.15zM598.4 577.3h1.15v16.3h-1.15zM641.5 577.3h1.15v16.3h-1.15zM474.2 593.5h1.15v16.3h-1.15zM477.2 593.5h1.15v16.3h-1.15zM508.2 593.5h1.15v16.3h-1.15zM516.3 593.5h1.15v16.3h-1.15zM518.3 593.5h1.15v16.3h-1.15zM532.3 593.5h1.15v16.3h-1.15zM545.3 593.5h1.15v16.3h-1.15zM580.4 593.5h1.15v16.3h-1.15zM334.9 609.8h1.15v16.3h-1.15zM488.2 609.8h1.15v16.3h-1.15zM496.2 609.8h1.15v16.3h-1.15zM507.2 609.8h1.15v16.3h-1.15zM512.3 609.8h1.15v16.3h-1.15zM519.3 609.8h1.15v16.3h-1.15zM534.3 609.8h1.15v16.3h-1.15zM546.3 609.8h1.15v16.3h-1.15zM554.3 609.8h1.15v16.3h-1.15zM574.4 609.8h1.15v16.3h-1.15zM577.4 609.8h1.15v16.3h-1.15zM578.4 609.8h1.15v16.3h-1.15zM591.4 609.8h1.15v16.3h-1.15zM592.4 609.8h1.15v16.3h-1.15zM596.4 609.8h1.15v16.3h-1.15zM598.4 609.8h1.15v16.3h-1.15zM605.4 609.8h1.15v16.3h-1.15zM608.4 609.8h1.15v16.3h-1.15zM635.5 609.8h1.15v16.3h-1.15zM330.9 626.0h1.15v16.3h-1.15zM361.0 626.0h1.15v16.3h-1.15zM374.0 626.0h1.15v16.3h-1.15zM455.2 626.0h1.15v16.3h-1.15zM475.2 626.0h1.15v16.3h-1.15zM480.2 626.0h1.15v16.3h-1.15zM489.2 626.0h1.15v16.3h-1.15zM504.2 626.0h1.15v16.3h-1.15zM506.2 626.0h1.15v16.3h-1.15zM508.2 626.0h1.15v16.3h-1.15zM517.3 626.0h1.15v16.3h-1.15zM578.4 626.0h1.15v16.3h-1.15zM580.4 626.0h1.15v16.3h-1.15zM583.4 626.0h1.15v16.3h-1.15zM584.4 626.0h1.15v16.3h-1.15zM612.4 626.0h1.15v16.3h-1.15zM618.4 626.0h1.15v16.3h-1.15zM640.5 626.0h1.15v16.3h-1.15zM642.5 626.0h1.15v16.3h-1.15zM643.5 626.0h1.15v16.3h-1.15zM333.9 642.3h1.15v16.3h-1.15zM374.0 642.3h1.15v16.3h-1.15zM386.0 642.3h1.15v16.3h-1.15zM455.2 642.3h1.15v16.3h-1.15zM464.2 642.3h1.15v16.3h-1.15zM504.2 642.3h1.15v16.3h-1.15zM519.3 642.3h1.15v16.3h-1.15zM527.3 642.3h1.15v16.3h-1.15zM544.3 642.3h1.15v16.3h-1.15zM545.3 642.3h1.15v16.3h-1.15zM572.4 642.3h1.15v16.3h-1.15zM580.4 642.3h1.15v16.3h-1.15zM582.4 642.3h1.15v16.3h-1.15zM642.5 642.3h1.15v16.3h-1.15z" fill="#cfdbe1"/>
<path d="M492.2 512.2h1.15v16.3h-1.15zM510.3 512.2h1.15v16.3h-1.15zM526.3 512.2h1.15v16.3h-1.15zM534.3 512.2h1.15v16.3h-1.15zM560.3 512.2h1.15v16.3h-1.15zM566.4 512.2h1.15v16.3h-1.15zM613.4 512.2h1.15v16.3h-1.15zM617.4 512.2h1.15v16.3h-1.15zM462.2 528.5h1.15v16.3h-1.15zM571.4 528.5h1.15v16.3h-1.15zM437.1 544.7h1.15v16.3h-1.15zM462.2 544.7h1.15v16.3h-1.15zM476.2 544.7h1.15v16.3h-1.15zM482.2 544.7h1.15v16.3h-1.15zM492.2 544.7h1.15v16.3h-1.15zM502.2 544.7h1.15v16.3h-1.15zM507.2 544.7h1.15v16.3h-1.15zM553.3 544.7h1.15v16.3h-1.15zM562.3 544.7h1.15v16.3h-1.15zM584.4 544.7h1.15v16.3h-1.15zM596.4 544.7h1.15v16.3h-1.15zM598.4 544.7h1.15v16.3h-1.15zM613.4 544.7h1.15v16.3h-1.15zM637.5 544.7h1.15v16.3h-1.15zM461.2 561.0h1.15v16.3h-1.15zM513.3 561.0h1.15v16.3h-1.15zM579.4 561.0h1.15v16.3h-1.15zM610.4 561.0h1.15v16.3h-1.15zM616.4 561.0h1.15v16.3h-1.15zM618.4 561.0h1.15v16.3h-1.15zM414.1 577.3h1.15v16.3h-1.15zM425.1 577.3h1.15v16.3h-1.15zM426.1 577.3h1.15v16.3h-1.15zM428.1 577.3h1.15v16.3h-1.15zM431.1 577.3h1.15v16.3h-1.15zM447.1 577.3h1.15v16.3h-1.15zM465.2 577.3h1.15v16.3h-1.15zM470.2 577.3h1.15v16.3h-1.15zM486.2 577.3h1.15v16.3h-1.15zM519.3 577.3h1.15v16.3h-1.15zM531.3 577.3h1.15v16.3h-1.15zM554.3 577.3h1.15v16.3h-1.15zM560.3 577.3h1.15v16.3h-1.15zM583.4 577.3h1.15v16.3h-1.15zM588.4 577.3h1.15v16.3h-1.15zM611.4 577.3h1.15v16.3h-1.15zM616.4 577.3h1.15v16.3h-1.15zM471.2 593.5h1.15v16.3h-1.15zM489.2 593.5h1.15v16.3h-1.15zM503.2 593.5h1.15v16.3h-1.15zM513.3 593.5h1.15v16.3h-1.15zM517.3 593.5h1.15v16.3h-1.15zM526.3 593.5h1.15v16.3h-1.15zM544.3 593.5h1.15v16.3h-1.15zM559.3 593.5h1.15v16.3h-1.15zM577.4 593.5h1.15v16.3h-1.15zM578.4 593.5h1.15v16.3h-1.15zM612.4 593.5h1.15v16.3h-1.15zM620.4 593.5h1.15v16.3h-1.15zM621.4 593.5h1.15v16.3h-1.15zM623.5 593.5h1.15v16.3h-1.15zM625.5 593.5h1.15v16.3h-1.15zM340.0 609.8h1.15v16.3h-1.15zM348.0 609.8h1.15v16.3h-1.15zM351.0 609.8h1.15v16.3h-1.15zM442.1 609.8h1.15v16.3h-1.15zM449.1 609.8h1.15v16.3h-1.15zM454.2 609.8h1.15v16.3h-1.15zM460.2 609.8h1.15v16.3h-1.15zM491.2 609.8h1.15v16.3h-1.15zM501.2 609.8h1.15v16.3h-1.15zM525.3 609.8h1.15v16.3h-1.15zM550.3 609.8h1.15v16.3h-1.15zM552.3 609.8h1.15v16.3h-1.15zM555.3 609.8h1.15v16.3h-1.15zM564.3 609.8h1.15v16.3h-1.15zM583.4 609.8h1.15v16.3h-1.15zM589.4 609.8h1.15v16.3h-1.15zM600.4 609.8h1.15v16.3h-1.15zM601.4 609.8h1.15v16.3h-1.15zM604.4 609.8h1.15v16.3h-1.15zM323.9 626.0h1.15v16.3h-1.15zM450.1 626.0h1.15v16.3h-1.15zM507.2 626.0h1.15v16.3h-1.15zM540.3 626.0h1.15v16.3h-1.15zM556.3 626.0h1.15v16.3h-1.15zM558.3 626.0h1.15v16.3h-1.15zM570.4 626.0h1.15v16.3h-1.15zM610.4 626.0h1.15v16.3h-1.15zM634.5 626.0h1.15v16.3h-1.15zM318.9 642.3h1.15v16.3h-1.15zM351.0 642.3h1.15v16.3h-1.15zM372.0 642.3h1.15v16.3h-1.15zM430.1 642.3h1.15v16.3h-1.15zM445.1 642.3h1.15v16.3h-1.15zM468.2 642.3h1.15v16.3h-1.15zM539.3 642.3h1.15v16.3h-1.15zM556.3 642.3h1.15v16.3h-1.15zM578.4 642.3h1.15v16.3h-1.15zM598.4 642.3h1.15v16.3h-1.15zM622.5 642.3h1.15v16.3h-1.15zM624.5 642.3h1.15v16.3h-1.15z" fill="#dbe1e1"/>
<path d="M494.2 512.2h1.15v16.3h-1.15zM507.2 512.2h1.15v16.3h-1.15zM514.3 512.2h1.15v16.3h-1.15zM536.3 512.2h1.15v16.3h-1.15zM569.4 512.2h1.15v16.3h-1.15zM570.4 512.2h1.15v16.3h-1.15zM576.4 512.2h1.15v16.3h-1.15zM631.5 512.2h1.15v16.3h-1.15zM637.5 512.2h1.15v16.3h-1.15zM447.1 528.5h1.15v16.3h-1.15zM588.4 528.5h1.15v16.3h-1.15zM441.1 544.7h1.15v16.3h-1.15zM466.2 544.7h1.15v16.3h-1.15zM486.2 544.7h1.15v16.3h-1.15zM527.3 544.7h1.15v16.3h-1.15zM547.3 544.7h1.15v16.3h-1.15zM585.4 544.7h1.15v16.3h-1.15zM604.4 544.7h1.15v16.3h-1.15zM625.5 544.7h1.15v16.3h-1.15zM633.5 544.7h1.15v16.3h-1.15zM584.4 561.0h1.15v16.3h-1.15zM598.4 561.0h1.15v16.3h-1.15zM599.4 561.0h1.15v16.3h-1.15zM608.4 561.0h1.15v16.3h-1.15zM612.4 561.0h1.15v16.3h-1.15zM405.1 577.3h1.15v16.3h-1.15zM440.1 577.3h1.15v16.3h-1.15zM450.1 577.3h1.15v16.3h-1.15zM493.2 577.3h1.15v16.3h-1.15zM515.3 577.3h1.15v16.3h-1.15zM559.3 577.3h1.15v16.3h-1.15zM565.4 577.3h1.15v16.3h-1.15zM479.2 593.5h1.15v16.3h-1.15zM481.2 593.5h1.15v16.3h-1.15zM527.3 593.5h1.15v16.3h-1.15zM564.3 593.5h1.15v16.3h-1.15zM590.4 593.5h1.15v16.3h-1.15zM596.4 593.5h1.15v16.3h-1.15zM624.5 593.5h1.15v16.3h-1.15zM636.5 593.5h1.15v16.3h-1.15zM337.9 609.8h1.15v16.3h-1.15zM373.0 609.8h1.15v16.3h-1.15zM386.0 609.8h1.15v16.3h-1.15zM463.2 609.8h1.15v16.3h-1.15zM472.2 609.8h1.15v16.3h-1.15zM474.2 609.8h1.15v16.3h-1.15zM568.4 609.8h1.15v16.3h-1.15zM614.4 609.8h1.15v16.3h-1.15zM615.4 609.8h1.15v16.3h-1.15zM334.9 626.0h1.15v16.3h-1.15zM372.0 626.0h1.15v16.3h-1.15zM382.0 626.0h1.15v16.3h-1.15zM406.1 626.0h1.15v16.3h-1.15zM491.2 626.0h1.15v16.3h-1.15zM492.2 626.0h1.15v16.3h-1.15zM512.3 626.0h1.15v16.3h-1.15zM564.3 626.0h1.15v16.3h-1.15zM567.4 626.0h1.15v16.3h-1.15zM589.4 626.0h1.15v16.3h-1.15zM644.5 626.0h1.15v16.3h-1.15zM316.9 642.3h1.15v16.3h-1.15zM317.9 642.3h1.15v16.3h-1.15zM323.9 642.3h1.15v16.3h-1.15zM339.0 642.3h1.15v16.3h-1.15zM367.0 642.3h1.15v16.3h-1.15zM456.2 642.3h1.15v16.3h-1.15zM480.2 642.3h1.15v16.3h-1.15zM492.2 642.3h1.15v16.3h-1.15zM503.2 642.3h1.15v16.3h-1.15zM511.3 642.3h1.15v16.3h-1.15zM553.3 642.3h1.15v16.3h-1.15zM588.4 642.3h1.15v16.3h-1.15zM625.5 642.3h1.15v16.3h-1.15z" fill="#e7e7e1"/>
<path d="M495.2 512.2h1.15v16.3h-1.15zM544.3 512.2h1.15v16.3h-1.15zM571.4 512.2h1.15v16.3h-1.15zM572.4 512.2h1.15v16.3h-1.15zM545.3 544.7h1.15v16.3h-1.15zM572.4 544.7h1.15v16.3h-1.15zM617.4 593.5h1.15v16.3h-1.15zM461.2 609.8h1.15v16.3h-1.15zM462.2 609.8h1.15v16.3h-1.15zM513.3 609.8h1.15v16.3h-1.15zM544.3 609.8h1.15v16.3h-1.15zM607.4 609.8h1.15v16.3h-1.15zM617.4 609.8h1.15v16.3h-1.15zM618.4 609.8h1.15v16.3h-1.15zM640.5 609.8h1.15v16.3h-1.15zM462.2 626.0h1.15v16.3h-1.15zM468.2 626.0h1.15v16.3h-1.15zM477.2 626.0h1.15v16.3h-1.15zM531.3 626.0h1.15v16.3h-1.15zM544.3 626.0h1.15v16.3h-1.15zM571.4 626.0h1.15v16.3h-1.15zM572.4 626.0h1.15v16.3h-1.15zM581.4 626.0h1.15v16.3h-1.15zM362.0 642.3h1.15v16.3h-1.15zM461.2 642.3h1.15v16.3h-1.15zM462.2 642.3h1.15v16.3h-1.15zM470.2 642.3h1.15v16.3h-1.15zM496.2 642.3h1.15v16.3h-1.15zM532.3 642.3h1.15v16.3h-1.15zM571.4 642.3h1.15v16.3h-1.15z" fill="#c3d5e1"/>
<path d="M498.2 512.2h1.15v16.3h-1.15zM505.2 512.2h1.15v16.3h-1.15zM517.3 512.2h1.15v16.3h-1.15zM531.3 512.2h1.15v16.3h-1.15zM532.3 512.2h1.15v16.3h-1.15zM539.3 512.2h1.15v16.3h-1.15zM545.3 512.2h1.15v16.3h-1.15zM577.4 512.2h1.15v16.3h-1.15zM607.4 512.2h1.15v16.3h-1.15zM608.4 512.2h1.15v16.3h-1.15zM609.4 512.2h1.15v16.3h-1.15zM642.5 512.2h1.15v16.3h-1.15zM643.5 512.2h1.15v16.3h-1.15zM422.1 544.7h1.15v16.3h-1.15zM426.1 544.7h1.15v16.3h-1.15zM427.1 544.7h1.15v16.3h-1.15zM432.1 544.7h1.15v16.3h-1.15zM461.2 544.7h1.15v16.3h-1.15zM487.2 544.7h1.15v16.3h-1.15zM488.2 544.7h1.15v16.3h-1.15zM519.3 544.7h1.15v16.3h-1.15zM531.3 544.7h1.15v16.3h-1.15zM532.3 544.7h1.15v16.3h-1.15zM541.3 544.7h1.15v16.3h-1.15zM544.3 544.7h1.15v16.3h-1.15zM571.4 544.7h1.15v16.3h-1.15zM579.4 544.7h1.15v16.3h-1.15zM580.4 544.7h1.15v16.3h-1.15zM583.4 544.7h1.15v16.3h-1.15zM607.4 544.7h1.15v16.3h-1.15zM617.4 544.7h1.15v16.3h-1.15zM622.5 544.7h1.15v16.3h-1.15zM642.5 544.7h1.15v16.3h-1.15zM571.4 577.3h1.15v16.3h-1.15zM572.4 577.3h1.15v16.3h-1.15zM579.4 577.3h1.15v16.3h-1.15zM617.4 577.3h1.15v16.3h-1.15zM473.2 593.5h1.15v16.3h-1.15zM519.3 593.5h1.15v16.3h-1.15zM571.4 593.5h1.15v16.3h-1.15zM572.4 593.5h1.15v16.3h-1.15zM579.4 593.5h1.15v16.3h-1.15zM581.4 593.5h1.15v16.3h-1.15zM591.4 593.5h1.15v16.3h-1.15zM609.4 593.5h1.15v16.3h-1.15zM643.5 593.5h1.15v16.3h-1.15zM341.0 609.8h1.15v16.3h-1.15zM466.2 609.8h1.15v16.3h-1.15zM468.2 609.8h1.15v16.3h-1.15zM470.2 609.8h1.15v16.3h-1.15zM493.2 609.8h1.15v16.3h-1.15zM495.2 609.8h1.15v16.3h-1.15zM497.2 609.8h1.15v16.3h-1.15zM504.2 609.8h1.15v16.3h-1.15zM506.2 609.8h1.15v16.3h-1.15zM516.3 609.8h1.15v16.3h-1.15zM518.3 609.8h1.15v16.3h-1.15zM531.3 609.8h1.15v16.3h-1.15zM532.3 609.8h1.15v16.3h-1.15zM541.3 609.8h1.15v16.3h-1.15zM545.3 609.8h1.15v16.3h-1.15zM581.4 609.8h1.15v16.3h-1.15zM582.4 609.8h1.15v16.3h-1.15zM584.4 609.8h1.15v16.3h-1.15zM606.4 609.8h1.15v16.3h-1.15zM610.4 609.8h1.15v16.3h-1.15zM611.4 609.8h1.15v16.3h-1.15zM616.4 609.8h1.15v16.3h-1.15zM620.4 609.8h1.15v16.3h-1.15zM622.5 609.8h1.15v16.3h-1.15zM641.5 609.8h1.15v16.3h-1.15zM642.5 609.8h1.15v16.3h-1.15zM331.9 626.0h1.15v16.3h-1.15zM332.9 626.0h1.15v16.3h-1.15zM362.0 626.0h1.15v16.3h-1.15zM466.2 626.0h1.15v16.3h-1.15zM473.2 626.0h1.15v16.3h-1.15zM474.2 626.0h1.15v16.3h-1.15zM476.2 626.0h1.15v16.3h-1.15zM487.2 626.0h1.15v16.3h-1.15zM505.2 626.0h1.15v16.3h-1.15zM518.3 626.0h1.15v16.3h-1.15zM519.3 626.0h1.15v16.3h-1.15zM532.3 626.0h1.15v16.3h-1.15zM545.3 626.0h1.15v16.3h-1.15zM611.4 626.0h1.15v16.3h-1.15zM616.4 626.0h1.15v16.3h-1.15zM641.5 626.0h1.15v16.3h-1.15zM330.9 642.3h1.15v16.3h-1.15zM331.9 642.3h1.15v16.3h-1.15zM363.0 642.3h1.15v16.3h-1.15zM373.0 642.3h1.15v16.3h-1.15zM463.2 642.3h1.15v16.3h-1.15zM469.2 642.3h1.15v16.3h-1.15zM473.2 642.3h1.15v16.3h-1.15zM475.2 642.3h1.15v16.3h-1.15zM476.2 642.3h1.15v16.3h-1.15zM477.2 642.3h1.15v16.3h-1.15zM479.2 642.3h1.15v16.3h-1.15zM488.2 642.3h1.15v16.3h-1.15zM505.2 642.3h1.15v16.3h-1.15zM513.3 642.3h1.15v16.3h-1.15zM516.3 642.3h1.15v16.3h-1.15zM517.3 642.3h1.15v16.3h-1.15zM579.4 642.3h1.15v16.3h-1.15zM581.4 642.3h1.15v16.3h-1.15zM599.4 642.3h1.15v16.3h-1.15zM616.4 642.3h1.15v16.3h-1.15z" fill="#c9dbe1"/>
<path d="M506.2 512.2h1.15v16.3h-1.15zM508.2 512.2h1.15v16.3h-1.15zM513.3 512.2h1.15v16.3h-1.15zM527.3 512.2h1.15v16.3h-1.15zM564.3 512.2h1.15v16.3h-1.15zM580.4 512.2h1.15v16.3h-1.15zM606.4 512.2h1.15v16.3h-1.15zM612.4 512.2h1.15v16.3h-1.15zM618.4 512.2h1.15v16.3h-1.15zM622.5 512.2h1.15v16.3h-1.15zM628.5 512.2h1.15v16.3h-1.15zM640.5 512.2h1.15v16.3h-1.15zM580.4 528.5h1.15v16.3h-1.15zM494.2 544.7h1.15v16.3h-1.15zM517.3 544.7h1.15v16.3h-1.15zM540.3 544.7h1.15v16.3h-1.15zM571.4 561.0h1.15v16.3h-1.15zM642.5 561.0h1.15v16.3h-1.15zM429.1 577.3h1.15v16.3h-1.15zM532.3 577.3h1.15v16.3h-1.15zM599.4 577.3h1.15v16.3h-1.15zM605.4 577.3h1.15v16.3h-1.15zM606.4 577.3h1.15v16.3h-1.15zM461.2 593.5h1.15v16.3h-1.15zM475.2 593.5h1.15v16.3h-1.15zM478.2 593.5h1.15v16.3h-1.15zM504.2 593.5h1.15v16.3h-1.15zM604.4 593.5h1.15v16.3h-1.15zM616.4 593.5h1.15v16.3h-1.15zM642.5 593.5h1.15v16.3h-1.15zM446.1 609.8h1.15v16.3h-1.15zM448.1 609.8h1.15v16.3h-1.15zM457.2 609.8h1.15v16.3h-1.15zM492.2 609.8h1.15v16.3h-1.15zM508.2 609.8h1.15v16.3h-1.15zM526.3 609.8h1.15v16.3h-1.15zM559.3 609.8h1.15v16.3h-1.15zM602.4 609.8h1.15v16.3h-1.15zM609.4 609.8h1.15v16.3h-1.15zM612.4 609.8h1.15v16.3h-1.15zM613.4 609.8h1.15v16.3h-1.15zM624.5 609.8h1.15v16.3h-1.15zM318.9 626.0h1.15v16.3h-1.15zM447.1 626.0h1.15v16.3h-1.15zM448.1 626.0h1.15v16.3h-1.15zM461.2 626.0h1.15v16.3h-1.15zM464.2 626.0h1.15v16.3h-1.15zM465.2 626.0h1.15v16.3h-1.15zM469.2 626.0h1.15v16.3h-1.15zM470.2 626.0h1.15v16.3h-1.15zM486.2 626.0h1.15v16.3h-1.15zM495.2 626.0h1.15v16.3h-1.15zM510.3 626.0h1.15v16.3h-1.15zM526.3 626.0h1.15v16.3h-1.15zM539.3 626.0h1.15v16.3h-1.15zM553.3 626.0h1.15v16.3h-1.15zM579.4 626.0h1.15v16.3h-1.15zM604.4 626.0h1.15v16.3h-1.15zM622.5 626.0h1.15v16.3h-1.15zM332.9 642.3h1.15v16.3h-1.15zM359.0 642.3h1.15v16.3h-1.15zM385.0 642.3h1.15v16.3h-1.15zM387.0 642.3h1.15v16.3h-1.15zM443.1 642.3h1.15v16.3h-1.15zM446.1 642.3h1.15v16.3h-1.15zM447.1 642.3h1.15v16.3h-1.15zM471.2 642.3h1.15v16.3h-1.15zM478.2 642.3h1.15v16.3h-1.15zM487.2 642.3h1.15v16.3h-1.15zM495.2 642.3h1.15v16.3h-1.15zM497.2 642.3h1.15v16.3h-1.15zM498.2 642.3h1.15v16.3h-1.15zM546.3 642.3h1.15v16.3h-1.15zM604.4 642.3h1.15v16.3h-1.15zM606.4 642.3h1.15v16.3h-1.15zM612.4 642.3h1.15v16.3h-1.15zM618.4 642.3h1.15v16.3h-1.15zM621.4 642.3h1.15v16.3h-1.15z" fill="#cfe1e1"/>
<path d="M425.1 544.7h1.15v16.3h-1.15zM428.1 544.7h1.15v16.3h-1.15zM430.1 544.7h1.15v16.3h-1.15zM431.1 544.7h1.15v16.3h-1.15zM571.4 609.8h1.15v16.3h-1.15zM579.4 609.8h1.15v16.3h-1.15z" fill="#bdd5e1"/>
<path d="M531.3 593.5h1.15v16.3h-1.15zM487.2 609.8h1.15v16.3h-1.15zM517.3 609.8h1.15v16.3h-1.15zM572.4 609.8h1.15v16.3h-1.15zM580.4 609.8h1.15v16.3h-1.15zM643.5 609.8h1.15v16.3h-1.15zM472.2 626.0h1.15v16.3h-1.15z" fill="#c3dbe1"/>
<path d="M309.9 469.2h1.15v4.8h-1.15zM348.0 469.2h1.15v4.8h-1.15zM361.0 469.2h1.15v4.8h-1.15zM407.1 469.2h1.15v4.8h-1.15zM417.1 469.2h1.15v4.8h-1.15zM435.1 469.2h1.15v4.8h-1.15zM457.2 469.2h1.15v4.8h-1.15zM525.3 469.2h1.15v4.8h-1.15zM537.3 469.2h1.15v4.8h-1.15zM561.3 469.2h1.15v4.8h-1.15zM612.4 469.2h1.15v4.8h-1.15zM616.4 469.2h1.15v4.8h-1.15z" fill="#bcd4d4"/>
<path d="M310.9 469.2h1.15v4.8h-1.15zM337.9 469.2h1.15v4.8h-1.15zM399.1 469.2h1.15v4.8h-1.15zM438.1 469.2h1.15v4.8h-1.15zM453.2 469.2h1.15v4.8h-1.15zM480.2 469.2h1.15v4.8h-1.15zM550.3 469.2h1.15v4.8h-1.15zM608.4 469.2h1.15v4.8h-1.15zM647.5 469.2h1.15v4.8h-1.15z" fill="#9cbcb4"/>
<path d="M311.9 469.2h1.15v4.8h-1.15zM312.9 469.2h1.15v4.8h-1.15zM347.0 469.2h1.15v4.8h-1.15zM351.0 469.2h1.15v4.8h-1.15zM368.0 469.2h1.15v4.8h-1.15zM374.0 469.2h1.15v4.8h-1.15zM382.0 469.2h1.15v4.8h-1.15zM385.0 469.2h1.15v4.8h-1.15zM394.0 469.2h1.15v4.8h-1.15zM395.1 469.2h1.15v4.8h-1.15zM396.1 469.2h1.15v4.8h-1.15zM410.1 469.2h1.15v4.8h-1.15zM420.1 469.2h1.15v4.8h-1.15zM423.1 469.2h1.15v4.8h-1.15zM424.1 469.2h1.15v4.8h-1.15zM455.2 469.2h1.15v4.8h-1.15zM460.2 469.2h1.15v4.8h-1.15zM475.2 469.2h1.15v4.8h-1.15zM482.2 469.2h1.15v4.8h-1.15zM484.2 469.2h1.15v4.8h-1.15zM487.2 469.2h1.15v4.8h-1.15zM489.2 469.2h1.15v4.8h-1.15zM504.2 469.2h1.15v4.8h-1.15zM514.3 469.2h1.15v4.8h-1.15zM520.3 469.2h1.15v4.8h-1.15zM540.3 469.2h1.15v4.8h-1.15zM545.3 469.2h1.15v4.8h-1.15zM551.3 469.2h1.15v4.8h-1.15zM554.3 469.2h1.15v4.8h-1.15zM555.3 469.2h1.15v4.8h-1.15zM567.4 469.2h1.15v4.8h-1.15zM568.4 469.2h1.15v4.8h-1.15zM579.4 469.2h1.15v4.8h-1.15zM585.4 469.2h1.15v4.8h-1.15zM588.4 469.2h1.15v4.8h-1.15zM601.4 469.2h1.15v4.8h-1.15zM605.4 469.2h1.15v4.8h-1.15zM606.4 469.2h1.15v4.8h-1.15zM619.4 469.2h1.15v4.8h-1.15zM620.4 469.2h1.15v4.8h-1.15zM623.5 469.2h1.15v4.8h-1.15zM633.5 469.2h1.15v4.8h-1.15zM642.5 469.2h1.15v4.8h-1.15zM643.5 469.2h1.15v4.8h-1.15z" fill="#acc4c4"/>
<path d="M313.9 469.2h1.15v4.8h-1.15zM402.1 469.2h1.15v4.8h-1.15zM432.1 469.2h1.15v4.8h-1.15zM461.2 469.2h1.15v4.8h-1.15zM488.2 469.2h1.15v4.8h-1.15zM572.4 469.2h1.15v4.8h-1.15z" fill="#94acac"/>
<path d="M314.9 469.2h1.15v4.8h-1.15zM315.9 469.2h1.15v4.8h-1.15zM321.9 469.2h1.15v4.8h-1.15zM328.9 469.2h1.15v4.8h-1.15zM336.9 469.2h1.15v4.8h-1.15zM360.0 469.2h1.15v4.8h-1.15zM365.0 469.2h1.15v4.8h-1.15zM372.0 469.2h1.15v4.8h-1.15zM379.0 469.2h1.15v4.8h-1.15zM416.1 469.2h1.15v4.8h-1.15zM422.1 469.2h1.15v4.8h-1.15zM445.1 469.2h1.15v4.8h-1.15zM528.3 469.2h1.15v4.8h-1.15zM560.3 469.2h1.15v4.8h-1.15zM565.4 469.2h1.15v4.8h-1.15zM611.4 469.2h1.15v4.8h-1.15zM635.5 469.2h1.15v4.8h-1.15z" fill="#b4cccc"/>
<path d="M316.9 469.2h1.15v4.8h-1.15zM366.0 469.2h1.15v4.8h-1.15zM369.0 469.2h1.15v4.8h-1.15zM499.2 469.2h1.15v4.8h-1.15zM500.2 469.2h1.15v4.8h-1.15zM505.2 469.2h1.15v4.8h-1.15zM517.3 469.2h1.15v4.8h-1.15zM637.5 469.2h1.15v4.8h-1.15z" fill="#94b4ac"/>
<path d="M317.9 469.2h1.15v4.8h-1.15zM363.0 469.2h1.15v4.8h-1.15zM373.0 469.2h1.15v4.8h-1.15zM381.0 469.2h1.15v4.8h-1.15zM443.1 469.2h1.15v4.8h-1.15zM447.1 469.2h1.15v4.8h-1.15zM471.2 469.2h1.15v4.8h-1.15zM507.2 469.2h1.15v4.8h-1.15zM556.3 469.2h1.15v4.8h-1.15zM621.4 469.2h1.15v4.8h-1.15zM627.5 469.2h1.15v4.8h-1.15zM646.5 469.2h1.15v4.8h-1.15z" fill="#7c9c9c"/>
<path d="M318.9 469.2h1.15v4.8h-1.15zM320.9 469.2h1.15v4.8h-1.15zM327.9 469.2h1.15v4.8h-1.15zM330.9 469.2h1.15v4.8h-1.15zM333.9 469.2h1.15v4.8h-1.15zM343.0 469.2h1.15v4.8h-1.15zM345.0 469.2h1.15v4.8h-1.15zM349.0 469.2h1.15v4.8h-1.15zM350.0 469.2h1.15v4.8h-1.15zM357.0 469.2h1.15v4.8h-1.15zM362.0 469.2h1.15v4.8h-1.15zM380.0 469.2h1.15v4.8h-1.15zM386.0 469.2h1.15v4.8h-1.15zM391.0 469.2h1.15v4.8h-1.15zM397.1 469.2h1.15v4.8h-1.15zM398.1 469.2h1.15v4.8h-1.15zM414.1 469.2h1.15v4.8h-1.15zM442.1 469.2h1.15v4.8h-1.15zM451.1 469.2h1.15v4.8h-1.15zM467.2 469.2h1.15v4.8h-1.15zM470.2 469.2h1.15v4.8h-1.15zM474.2 469.2h1.15v4.8h-1.15zM486.2 469.2h1.15v4.8h-1.15zM490.2 469.2h1.15v4.8h-1.15zM501.2 469.2h1.15v4.8h-1.15zM509.3 469.2h1.15v4.8h-1.15zM531.3 469.2h1.15v4.8h-1.15zM533.3 469.2h1.15v4.8h-1.15zM563.3 469.2h1.15v4.8h-1.15zM566.4 469.2h1.15v4.8h-1.15zM576.4 469.2h1.15v4.8h-1.15zM578.4 469.2h1.15v4.8h-1.15zM583.4 469.2h1.15v4.8h-1.15zM592.4 469.2h1.15v4.8h-1.15zM596.4 469.2h1.15v4.8h-1.15zM600.4 469.2h1.15v4.8h-1.15zM614.4 469.2h1.15v4.8h-1.15zM624.5 469.2h1.15v4.8h-1.15zM629.5 469.2h1.15v4.8h-1.15zM638.5 469.2h1.15v4.8h-1.15zM640.5 469.2h1.15v4.8h-1.15zM649.5 469.2h1.15v4.8h-1.15z" fill="#c4d4d4"/>
<path d="M319.9 469.2h1.15v4.8h-1.15zM331.9 469.2h1.15v4.8h-1.15zM341.0 469.2h1.15v4.8h-1.15zM413.1 469.2h1.15v4.8h-1.15zM462.2 469.2h1.15v4.8h-1.15zM465.2 469.2h1.15v4.8h-1.15zM469.2 469.2h1.15v4.8h-1.15zM473.2 469.2h1.15v4.8h-1.15zM491.2 469.2h1.15v4.8h-1.15zM493.2 469.2h1.15v4.8h-1.15zM497.2 469.2h1.15v4.8h-1.15zM498.2 469.2h1.15v4.8h-1.15zM536.3 469.2h1.15v4.8h-1.15zM552.3 469.2h1.15v4.8h-1.15zM594.4 469.2h1.15v4.8h-1.15z" fill="#8cacac"/>
<path d="M322.9 469.2h1.15v4.8h-1.15zM334.9 469.2h1.15v4.8h-1.15zM340.0 469.2h1.15v4.8h-1.15zM371.0 469.2h1.15v4.8h-1.15zM406.1 469.2h1.15v4.8h-1.15zM409.1 469.2h1.15v4.8h-1.15zM477.2 469.2h1.15v4.8h-1.15zM506.2 469.2h1.15v4.8h-1.15zM541.3 469.2h1.15v4.8h-1.15zM547.3 469.2h1.15v4.8h-1.15zM553.3 469.2h1.15v4.8h-1.15zM644.5 469.2h1.15v4.8h-1.15z" fill="#ccdcdc"/>
<path d="M323.9 469.2h1.15v4.8h-1.15zM326.9 469.2h1.15v4.8h-1.15zM346.0 469.2h1.15v4.8h-1.15zM355.0 469.2h1.15v4.8h-1.15zM364.0 469.2h1.15v4.8h-1.15zM401.1 469.2h1.15v4.8h-1.15zM436.1 469.2h1.15v4.8h-1.15zM440.1 469.2h1.15v4.8h-1.15zM444.1 469.2h1.15v4.8h-1.15zM458.2 469.2h1.15v4.8h-1.15zM476.2 469.2h1.15v4.8h-1.15zM478.2 469.2h1.15v4.8h-1.15zM492.2 469.2h1.15v4.8h-1.15zM494.2 469.2h1.15v4.8h-1.15zM502.2 469.2h1.15v4.8h-1.15zM508.2 469.2h1.15v4.8h-1.15zM511.3 469.2h1.15v4.8h-1.15zM513.3 469.2h1.15v4.8h-1.15zM546.3 469.2h1.15v4.8h-1.15zM558.3 469.2h1.15v4.8h-1.15zM569.4 469.2h1.15v4.8h-1.15zM575.4 469.2h1.15v4.8h-1.15zM591.4 469.2h1.15v4.8h-1.15zM607.4 469.2h1.15v4.8h-1.15zM615.4 469.2h1.15v4.8h-1.15zM628.5 469.2h1.15v4.8h-1.15zM639.5 469.2h1.15v4.8h-1.15zM641.5 469.2h1.15v4.8h-1.15z" fill="#bccccc"/>
<path d="M324.9 469.2h1.15v4.8h-1.15zM339.0 469.2h1.15v4.8h-1.15zM384.0 469.2h1.15v4.8h-1.15zM387.0 469.2h1.15v4.8h-1.15zM405.1 469.2h1.15v4.8h-1.15zM459.2 469.2h1.15v4.8h-1.15zM464.2 469.2h1.15v4.8h-1.15zM485.2 469.2h1.15v4.8h-1.15zM515.3 469.2h1.15v4.8h-1.15zM524.3 469.2h1.15v4.8h-1.15zM543.3 469.2h1.15v4.8h-1.15zM559.3 469.2h1.15v4.8h-1.15zM574.4 469.2h1.15v4.8h-1.15zM580.4 469.2h1.15v4.8h-1.15zM586.4 469.2h1.15v4.8h-1.15zM590.4 469.2h1.15v4.8h-1.15zM593.4 469.2h1.15v4.8h-1.15zM595.4 469.2h1.15v4.8h-1.15zM617.4 469.2h1.15v4.8h-1.15zM632.5 469.2h1.15v4.8h-1.15zM645.5 469.2h1.15v4.8h-1.15z" fill="#9cb4b4"/>
<path d="M325.9 469.2h1.15v4.8h-1.15zM421.1 469.2h1.15v4.8h-1.15zM483.2 469.2h1.15v4.8h-1.15zM532.3 469.2h1.15v4.8h-1.15zM634.5 469.2h1.15v4.8h-1.15zM636.5 469.2h1.15v4.8h-1.15z" fill="#749494"/>
<path d="M329.9 469.2h1.15v4.8h-1.15zM332.9 469.2h1.15v4.8h-1.15zM358.0 469.2h1.15v4.8h-1.15zM392.0 469.2h1.15v4.8h-1.15zM427.1 469.2h1.15v4.8h-1.15zM430.1 469.2h1.15v4.8h-1.15zM431.1 469.2h1.15v4.8h-1.15zM434.1 469.2h1.15v4.8h-1.15zM437.1 469.2h1.15v4.8h-1.15zM439.1 469.2h1.15v4.8h-1.15zM441.1 469.2h1.15v4.8h-1.15zM452.2 469.2h1.15v4.8h-1.15zM522.3 469.2h1.15v4.8h-1.15zM523.3 469.2h1.15v4.8h-1.15zM526.3 469.2h1.15v4.8h-1.15zM539.3 469.2h1.15v4.8h-1.15zM544.3 469.2h1.15v4.8h-1.15zM548.3 469.2h1.15v4.8h-1.15zM549.3 469.2h1.15v4.8h-1.15zM571.4 469.2h1.15v4.8h-1.15zM573.4 469.2h1.15v4.8h-1.15zM581.4 469.2h1.15v4.8h-1.15zM613.4 469.2h1.15v4.8h-1.15zM626.5 469.2h1.15v4.8h-1.15zM630.5 469.2h1.15v4.8h-1.15z" fill="#a4bcbc"/>
<path d="M335.9 469.2h1.15v4.8h-1.15zM342.0 469.2h1.15v4.8h-1.15zM354.0 469.2h1.15v4.8h-1.15zM367.0 469.2h1.15v4.8h-1.15zM376.0 469.2h1.15v4.8h-1.15zM388.0 469.2h1.15v4.8h-1.15zM390.0 469.2h1.15v4.8h-1.15zM415.1 469.2h1.15v4.8h-1.15zM446.1 469.2h1.15v4.8h-1.15zM448.1 469.2h1.15v4.8h-1.15zM450.1 469.2h1.15v4.8h-1.15zM468.2 469.2h1.15v4.8h-1.15zM503.2 469.2h1.15v4.8h-1.15zM510.3 469.2h1.15v4.8h-1.15zM519.3 469.2h1.15v4.8h-1.15zM538.3 469.2h1.15v4.8h-1.15zM582.4 469.2h1.15v4.8h-1.15zM610.4 469.2h1.15v4.8h-1.15z" fill="#b4c4c4"/>
<path d="M344.0 469.2h1.15v4.8h-1.15zM412.1 469.2h1.15v4.8h-1.15zM535.3 469.2h1.15v4.8h-1.15z" fill="#6c948c"/>
<path d="M352.0 469.2h1.15v4.8h-1.15zM411.1 469.2h1.15v4.8h-1.15zM425.1 469.2h1.15v4.8h-1.15zM456.2 469.2h1.15v4.8h-1.15zM516.3 469.2h1.15v4.8h-1.15zM631.5 469.2h1.15v4.8h-1.15z" fill="#8caca4"/>
<path d="M353.0 469.2h1.15v4.8h-1.15zM400.1 469.2h1.15v4.8h-1.15zM403.1 469.2h1.15v4.8h-1.15zM408.1 469.2h1.15v4.8h-1.15zM463.2 469.2h1.15v4.8h-1.15zM472.2 469.2h1.15v4.8h-1.15zM496.2 469.2h1.15v4.8h-1.15zM530.3 469.2h1.15v4.8h-1.15zM534.3 469.2h1.15v4.8h-1.15zM570.4 469.2h1.15v4.8h-1.15zM584.4 469.2h1.15v4.8h-1.15zM589.4 469.2h1.15v4.8h-1.15zM604.4 469.2h1.15v4.8h-1.15z" fill="#84a4a4"/>
<path d="M356.0 469.2h1.15v4.8h-1.15zM429.1 469.2h1.15v4.8h-1.15zM433.1 469.2h1.15v4.8h-1.15zM479.2 469.2h1.15v4.8h-1.15zM481.2 469.2h1.15v4.8h-1.15z" fill="#749c94"/>
<path d="M359.0 469.2h1.15v4.8h-1.15zM428.1 469.2h1.15v4.8h-1.15z" fill="#b4ccc4"/>
<path d="M370.0 469.2h1.15v4.8h-1.15zM466.2 469.2h1.15v4.8h-1.15zM495.2 469.2h1.15v4.8h-1.15zM542.3 469.2h1.15v4.8h-1.15zM564.3 469.2h1.15v4.8h-1.15z" fill="#bcd4cc"/>
<path d="M375.0 469.2h1.15v4.8h-1.15zM587.4 469.2h1.15v4.8h-1.15z" fill="#648c84"/>
<path d="M377.0 469.2h1.15v4.8h-1.15zM393.0 469.2h1.15v4.8h-1.15zM426.1 469.2h1.15v4.8h-1.15zM529.3 469.2h1.15v4.8h-1.15zM557.3 469.2h1.15v4.8h-1.15zM562.3 469.2h1.15v4.8h-1.15zM625.5 469.2h1.15v4.8h-1.15z" fill="#94b4b4"/>
<path d="M378.0 469.2h1.15v4.8h-1.15zM419.1 469.2h1.15v4.8h-1.15zM449.1 469.2h1.15v4.8h-1.15zM454.2 469.2h1.15v4.8h-1.15zM512.3 469.2h1.15v4.8h-1.15zM577.4 469.2h1.15v4.8h-1.15zM598.4 469.2h1.15v4.8h-1.15zM599.4 469.2h1.15v4.8h-1.15zM609.4 469.2h1.15v4.8h-1.15zM618.4 469.2h1.15v4.8h-1.15z" fill="#acc4bc"/>
<path d="M383.0 469.2h1.15v4.8h-1.15zM527.3 469.2h1.15v4.8h-1.15zM597.4 469.2h1.15v4.8h-1.15zM603.4 469.2h1.15v4.8h-1.15zM622.5 469.2h1.15v4.8h-1.15zM648.5 469.2h1.15v4.8h-1.15z" fill="#7ca49c"/>
<path d="M389.0 469.2h1.15v4.8h-1.15z" fill="#648c8c"/>
<path d="M404.1 469.2h1.15v4.8h-1.15z" fill="#749c9c"/>
<path d="M418.1 469.2h1.15v4.8h-1.15z" fill="#8ca4a4"/>
<path d="M518.3 469.2h1.15v4.8h-1.15zM521.3 469.2h1.15v4.8h-1.15z" fill="#84a49c"/>
<path d="M602.4 469.2h1.15v4.8h-1.15z" fill="#54847c"/>
<path d="M309.9 474h1.15v4.9h-1.15zM316.9 474h1.15v4.9h-1.15zM324.9 474h1.15v4.9h-1.15zM342.0 474h1.15v4.9h-1.15zM345.0 474h1.15v4.9h-1.15zM359.0 474h1.15v4.9h-1.15zM374.0 474h1.15v4.9h-1.15zM378.0 474h1.15v4.9h-1.15zM398.1 474h1.15v4.9h-1.15zM415.1 474h1.15v4.9h-1.15zM420.1 474h1.15v4.9h-1.15zM426.1 474h1.15v4.9h-1.15zM433.1 474h1.15v4.9h-1.15zM438.1 474h1.15v4.9h-1.15zM451.1 474h1.15v4.9h-1.15zM452.2 474h1.15v4.9h-1.15zM458.2 474h1.15v4.9h-1.15zM459.2 474h1.15v4.9h-1.15zM466.2 474h1.15v4.9h-1.15zM477.2 474h1.15v4.9h-1.15zM501.2 474h1.15v4.9h-1.15zM502.2 474h1.15v4.9h-1.15zM507.2 474h1.15v4.9h-1.15zM510.3 474h1.15v4.9h-1.15zM511.3 474h1.15v4.9h-1.15zM518.3 474h1.15v4.9h-1.15zM526.3 474h1.15v4.9h-1.15zM527.3 474h1.15v4.9h-1.15zM528.3 474h1.15v4.9h-1.15zM533.3 474h1.15v4.9h-1.15zM543.3 474h1.15v4.9h-1.15zM559.3 474h1.15v4.9h-1.15zM561.3 474h1.15v4.9h-1.15zM581.4 474h1.15v4.9h-1.15zM582.4 474h1.15v4.9h-1.15zM602.4 474h1.15v4.9h-1.15zM606.4 474h1.15v4.9h-1.15zM609.4 474h1.15v4.9h-1.15zM610.4 474h1.15v4.9h-1.15zM613.4 474h1.15v4.9h-1.15zM623.5 474h1.15v4.9h-1.15zM631.5 474h1.15v4.9h-1.15zM632.5 474h1.15v4.9h-1.15zM645.5 474h1.15v4.9h-1.15z" fill="#f4d4d4"/>
<path d="M310.9 474h1.15v4.9h-1.15zM312.9 474h1.15v4.9h-1.15zM321.9 474h1.15v4.9h-1.15zM328.9 474h1.15v4.9h-1.15zM332.9 474h1.15v4.9h-1.15zM343.0 474h1.15v4.9h-1.15zM346.0 474h1.15v4.9h-1.15zM347.0 474h1.15v4.9h-1.15zM354.0 474h1.15v4.9h-1.15zM358.0 474h1.15v4.9h-1.15zM362.0 474h1.15v4.9h-1.15zM364.0 474h1.15v4.9h-1.15zM367.0 474h1.15v4.9h-1.15zM368.0 474h1.15v4.9h-1.15zM376.0 474h1.15v4.9h-1.15zM377.0 474h1.15v4.9h-1.15zM383.0 474h1.15v4.9h-1.15zM384.0 474h1.15v4.9h-1.15zM385.0 474h1.15v4.9h-1.15zM389.0 474h1.15v4.9h-1.15zM391.0 474h1.15v4.9h-1.15zM392.0 474h1.15v4.9h-1.15zM397.1 474h1.15v4.9h-1.15zM402.1 474h1.15v4.9h-1.15zM403.1 474h1.15v4.9h-1.15zM404.1 474h1.15v4.9h-1.15zM405.1 474h1.15v4.9h-1.15zM409.1 474h1.15v4.9h-1.15zM416.1 474h1.15v4.9h-1.15zM417.1 474h1.15v4.9h-1.15zM425.1 474h1.15v4.9h-1.15zM431.1 474h1.15v4.9h-1.15zM432.1 474h1.15v4.9h-1.15zM437.1 474h1.15v4.9h-1.15zM439.1 474h1.15v4.9h-1.15zM453.2 474h1.15v4.9h-1.15zM455.2 474h1.15v4.9h-1.15zM457.2 474h1.15v4.9h-1.15zM474.2 474h1.15v4.9h-1.15zM480.2 474h1.15v4.9h-1.15zM481.2 474h1.15v4.9h-1.15zM485.2 474h1.15v4.9h-1.15zM486.2 474h1.15v4.9h-1.15zM490.2 474h1.15v4.9h-1.15zM494.2 474h1.15v4.9h-1.15zM495.2 474h1.15v4.9h-1.15zM512.3 474h1.15v4.9h-1.15zM514.3 474h1.15v4.9h-1.15zM529.3 474h1.15v4.9h-1.15zM531.3 474h1.15v4.9h-1.15zM537.3 474h1.15v4.9h-1.15zM542.3 474h1.15v4.9h-1.15zM550.3 474h1.15v4.9h-1.15zM553.3 474h1.15v4.9h-1.15zM555.3 474h1.15v4.9h-1.15zM558.3 474h1.15v4.9h-1.15zM563.3 474h1.15v4.9h-1.15zM566.4 474h1.15v4.9h-1.15zM568.4 474h1.15v4.9h-1.15zM572.4 474h1.15v4.9h-1.15zM573.4 474h1.15v4.9h-1.15zM577.4 474h1.15v4.9h-1.15zM578.4 474h1.15v4.9h-1.15zM585.4 474h1.15v4.9h-1.15zM589.4 474h1.15v4.9h-1.15zM592.4 474h1.15v4.9h-1.15zM593.4 474h1.15v4.9h-1.15zM594.4 474h1.15v4.9h-1.15zM600.4 474h1.15v4.9h-1.15zM604.4 474h1.15v4.9h-1.15zM614.4 474h1.15v4.9h-1.15zM619.4 474h1.15v4.9h-1.15zM620.4 474h1.15v4.9h-1.15zM625.5 474h1.15v4.9h-1.15zM638.5 474h1.15v4.9h-1.15zM646.5 474h1.15v4.9h-1.15z" fill="#f4cccc"/>
<path d="M311.9 474h1.15v4.9h-1.15zM329.9 474h1.15v4.9h-1.15zM331.9 474h1.15v4.9h-1.15zM350.0 474h1.15v4.9h-1.15zM351.0 474h1.15v4.9h-1.15zM352.0 474h1.15v4.9h-1.15zM365.0 474h1.15v4.9h-1.15zM366.0 474h1.15v4.9h-1.15zM382.0 474h1.15v4.9h-1.15zM388.0 474h1.15v4.9h-1.15zM390.0 474h1.15v4.9h-1.15zM396.1 474h1.15v4.9h-1.15zM407.1 474h1.15v4.9h-1.15zM408.1 474h1.15v4.9h-1.15zM411.1 474h1.15v4.9h-1.15zM413.1 474h1.15v4.9h-1.15zM421.1 474h1.15v4.9h-1.15zM424.1 474h1.15v4.9h-1.15zM430.1 474h1.15v4.9h-1.15zM443.1 474h1.15v4.9h-1.15zM449.1 474h1.15v4.9h-1.15zM462.2 474h1.15v4.9h-1.15zM463.2 474h1.15v4.9h-1.15zM469.2 474h1.15v4.9h-1.15zM473.2 474h1.15v4.9h-1.15zM475.2 474h1.15v4.9h-1.15zM476.2 474h1.15v4.9h-1.15zM482.2 474h1.15v4.9h-1.15zM484.2 474h1.15v4.9h-1.15zM487.2 474h1.15v4.9h-1.15zM491.2 474h1.15v4.9h-1.15zM496.2 474h1.15v4.9h-1.15zM503.2 474h1.15v4.9h-1.15zM506.2 474h1.15v4.9h-1.15zM509.3 474h1.15v4.9h-1.15zM517.3 474h1.15v4.9h-1.15zM524.3 474h1.15v4.9h-1.15zM525.3 474h1.15v4.9h-1.15zM532.3 474h1.15v4.9h-1.15zM535.3 474h1.15v4.9h-1.15zM545.3 474h1.15v4.9h-1.15zM552.3 474h1.15v4.9h-1.15zM554.3 474h1.15v4.9h-1.15zM557.3 474h1.15v4.9h-1.15zM562.3 474h1.15v4.9h-1.15zM565.4 474h1.15v4.9h-1.15zM567.4 474h1.15v4.9h-1.15zM579.4 474h1.15v4.9h-1.15zM580.4 474h1.15v4.9h-1.15zM586.4 474h1.15v4.9h-1.15zM588.4 474h1.15v4.9h-1.15zM590.4 474h1.15v4.9h-1.15zM597.4 474h1.15v4.9h-1.15zM598.4 474h1.15v4.9h-1.15zM603.4 474h1.15v4.9h-1.15zM616.4 474h1.15v4.9h-1.15zM618.4 474h1.15v4.9h-1.15zM634.5 474h1.15v4.9h-1.15zM636.5 474h1.15v4.9h-1.15zM648.5 474h1.15v4.9h-1.15zM649.5 474h1.15v4.9h-1.15z" fill="#f4c4c4"/>
<path d="M313.9 474h1.15v4.9h-1.15zM315.9 474h1.15v4.9h-1.15zM323.9 474h1.15v4.9h-1.15zM330.9 474h1.15v4.9h-1.15zM335.9 474h1.15v4.9h-1.15zM369.0 474h1.15v4.9h-1.15zM371.0 474h1.15v4.9h-1.15zM381.0 474h1.15v4.9h-1.15zM393.0 474h1.15v4.9h-1.15zM399.1 474h1.15v4.9h-1.15zM401.1 474h1.15v4.9h-1.15zM412.1 474h1.15v4.9h-1.15zM418.1 474h1.15v4.9h-1.15zM423.1 474h1.15v4.9h-1.15zM442.1 474h1.15v4.9h-1.15zM445.1 474h1.15v4.9h-1.15zM456.2 474h1.15v4.9h-1.15zM465.2 474h1.15v4.9h-1.15zM471.2 474h1.15v4.9h-1.15zM472.2 474h1.15v4.9h-1.15zM489.2 474h1.15v4.9h-1.15zM500.2 474h1.15v4.9h-1.15zM508.2 474h1.15v4.9h-1.15zM515.3 474h1.15v4.9h-1.15zM530.3 474h1.15v4.9h-1.15zM534.3 474h1.15v4.9h-1.15zM536.3 474h1.15v4.9h-1.15zM540.3 474h1.15v4.9h-1.15zM544.3 474h1.15v4.9h-1.15zM546.3 474h1.15v4.9h-1.15zM547.3 474h1.15v4.9h-1.15zM570.4 474h1.15v4.9h-1.15zM574.4 474h1.15v4.9h-1.15zM576.4 474h1.15v4.9h-1.15zM583.4 474h1.15v4.9h-1.15zM596.4 474h1.15v4.9h-1.15zM599.4 474h1.15v4.9h-1.15zM621.4 474h1.15v4.9h-1.15zM624.5 474h1.15v4.9h-1.15zM629.5 474h1.15v4.9h-1.15zM633.5 474h1.15v4.9h-1.15zM644.5 474h1.15v4.9h-1.15zM647.5 474h1.15v4.9h-1.15z" fill="#fcd4d4"/>
<path d="M314.9 474h1.15v4.9h-1.15zM317.9 474h1.15v4.9h-1.15zM320.9 474h1.15v4.9h-1.15zM333.9 474h1.15v4.9h-1.15zM337.9 474h1.15v4.9h-1.15zM353.0 474h1.15v4.9h-1.15zM356.0 474h1.15v4.9h-1.15zM360.0 474h1.15v4.9h-1.15zM370.0 474h1.15v4.9h-1.15zM380.0 474h1.15v4.9h-1.15zM394.0 474h1.15v4.9h-1.15zM400.1 474h1.15v4.9h-1.15zM422.1 474h1.15v4.9h-1.15zM434.1 474h1.15v4.9h-1.15zM436.1 474h1.15v4.9h-1.15zM441.1 474h1.15v4.9h-1.15zM460.2 474h1.15v4.9h-1.15zM461.2 474h1.15v4.9h-1.15zM468.2 474h1.15v4.9h-1.15zM470.2 474h1.15v4.9h-1.15zM479.2 474h1.15v4.9h-1.15zM483.2 474h1.15v4.9h-1.15zM488.2 474h1.15v4.9h-1.15zM497.2 474h1.15v4.9h-1.15zM498.2 474h1.15v4.9h-1.15zM519.3 474h1.15v4.9h-1.15zM520.3 474h1.15v4.9h-1.15zM539.3 474h1.15v4.9h-1.15zM556.3 474h1.15v4.9h-1.15zM571.4 474h1.15v4.9h-1.15zM584.4 474h1.15v4.9h-1.15zM605.4 474h1.15v4.9h-1.15zM628.5 474h1.15v4.9h-1.15zM630.5 474h1.15v4.9h-1.15z" fill="#f4bcbc"/>
<path d="M318.9 474h1.15v4.9h-1.15zM322.9 474h1.15v4.9h-1.15zM326.9 474h1.15v4.9h-1.15zM327.9 474h1.15v4.9h-1.15zM334.9 474h1.15v4.9h-1.15zM336.9 474h1.15v4.9h-1.15zM339.0 474h1.15v4.9h-1.15zM340.0 474h1.15v4.9h-1.15zM348.0 474h1.15v4.9h-1.15zM349.0 474h1.15v4.9h-1.15zM361.0 474h1.15v4.9h-1.15zM372.0 474h1.15v4.9h-1.15zM373.0 474h1.15v4.9h-1.15zM375.0 474h1.15v4.9h-1.15zM395.1 474h1.15v4.9h-1.15zM406.1 474h1.15v4.9h-1.15zM410.1 474h1.15v4.9h-1.15zM419.1 474h1.15v4.9h-1.15zM427.1 474h1.15v4.9h-1.15zM428.1 474h1.15v4.9h-1.15zM429.1 474h1.15v4.9h-1.15zM435.1 474h1.15v4.9h-1.15zM444.1 474h1.15v4.9h-1.15zM448.1 474h1.15v4.9h-1.15zM450.1 474h1.15v4.9h-1.15zM467.2 474h1.15v4.9h-1.15zM492.2 474h1.15v4.9h-1.15zM493.2 474h1.15v4.9h-1.15zM504.2 474h1.15v4.9h-1.15zM505.2 474h1.15v4.9h-1.15zM513.3 474h1.15v4.9h-1.15zM523.3 474h1.15v4.9h-1.15zM549.3 474h1.15v4.9h-1.15zM560.3 474h1.15v4.9h-1.15zM564.3 474h1.15v4.9h-1.15zM591.4 474h1.15v4.9h-1.15zM595.4 474h1.15v4.9h-1.15zM608.4 474h1.15v4.9h-1.15zM612.4 474h1.15v4.9h-1.15zM615.4 474h1.15v4.9h-1.15zM622.5 474h1.15v4.9h-1.15zM626.5 474h1.15v4.9h-1.15zM635.5 474h1.15v4.9h-1.15zM637.5 474h1.15v4.9h-1.15zM642.5 474h1.15v4.9h-1.15zM643.5 474h1.15v4.9h-1.15z" fill="#fcdcdc"/>
<path d="M319.9 474h1.15v4.9h-1.15zM341.0 474h1.15v4.9h-1.15zM344.0 474h1.15v4.9h-1.15zM355.0 474h1.15v4.9h-1.15zM363.0 474h1.15v4.9h-1.15zM387.0 474h1.15v4.9h-1.15zM447.1 474h1.15v4.9h-1.15zM454.2 474h1.15v4.9h-1.15zM478.2 474h1.15v4.9h-1.15zM521.3 474h1.15v4.9h-1.15zM538.3 474h1.15v4.9h-1.15zM541.3 474h1.15v4.9h-1.15zM548.3 474h1.15v4.9h-1.15zM569.4 474h1.15v4.9h-1.15zM587.4 474h1.15v4.9h-1.15zM601.4 474h1.15v4.9h-1.15zM607.4 474h1.15v4.9h-1.15zM611.4 474h1.15v4.9h-1.15zM617.4 474h1.15v4.9h-1.15zM627.5 474h1.15v4.9h-1.15zM640.5 474h1.15v4.9h-1.15zM641.5 474h1.15v4.9h-1.15z" fill="#f4b4b4"/>
<path d="M325.9 474h1.15v4.9h-1.15zM379.0 474h1.15v4.9h-1.15zM414.1 474h1.15v4.9h-1.15zM440.1 474h1.15v4.9h-1.15zM446.1 474h1.15v4.9h-1.15zM464.2 474h1.15v4.9h-1.15zM516.3 474h1.15v4.9h-1.15zM522.3 474h1.15v4.9h-1.15zM575.4 474h1.15v4.9h-1.15z" fill="#ecacac"/>
<path d="M357.0 474h1.15v4.9h-1.15zM386.0 474h1.15v4.9h-1.15zM499.2 474h1.15v4.9h-1.15zM551.3 474h1.15v4.9h-1.15zM639.5 474h1.15v4.9h-1.15z" fill="#eca4a4"/>
<text x="309.00" y="473.30" font-size="4.0" text-anchor="end" fill="#111" stroke="#111" stroke-width="0.12" >log(mean)</text>
<text x="309.00" y="478.20" font-size="4.0" text-anchor="end" fill="#111" stroke="#111" stroke-width="0.12" >log(var)</text>
<path d="M309.9 468.4V467.2H310.5V468.4M310.5 468.4V467.0H311.3V468.4M311.3 468.4V467.1H313.3V468.4M313.3 468.4V466.8H314.8V468.4M314.8 468.4V466.4H316.3V468.4M316.3 468.4V466.6H318.3V468.4M318.3 468.4V467.0H319.3V468.4M319.3 468.4V466.7H320.8V468.4M320.8 468.4V467.0H322.3V468.4M322.3 468.4V466.3H323.3V468.4M323.3 468.4V466.5H323.9V468.4M323.9 468.4V466.6H324.5V468.4M324.5 468.4V466.3H326.0V468.4M326.0 468.4V467.1H326.8V468.4M326.8 468.4V467.1H327.6V468.4M327.6 468.4V467.1H329.1V468.4M329.1 468.4V467.0H330.1V468.4M330.1 468.4V466.8H330.9V468.4M330.9 468.4V466.5H332.9V468.4M332.9 468.4V467.1H333.5V468.4M333.5 468.4V466.2H334.7V468.4M334.7 468.4V466.9H335.3V468.4M335.3 468.4V466.4H336.8V468.4M336.8 468.4V466.3H338.8V468.4M338.8 468.4V467.2H339.8V468.4M339.8 468.4V467.0H341.0V468.4M341.0 468.4V467.0H341.6V468.4M341.6 468.4V467.1H343.6V468.4M343.6 468.4V466.3H344.2V468.4M344.2 468.4V467.1H344.8V468.4M344.8 468.4V466.4H346.8V468.4M346.8 468.4V466.6H348.0V468.4M348.0 468.4V466.7H349.2V468.4M349.2 468.4V466.6H349.8V468.4M349.8 468.4V466.5H351.8V468.4M351.8 468.4V467.0H353.0V468.4M353.0 468.4V466.4H353.6V468.4M353.6 468.4V466.4H354.4V468.4M354.4 468.4V466.3H355.4V468.4M355.4 468.4V466.3H356.6V468.4M356.6 468.4V466.2H358.1V468.4M358.1 468.4V466.9H360.1V468.4M360.1 468.4V467.1H361.3V468.4M361.3 468.4V466.5H361.9V468.4M361.9 468.4V467.0H363.9V468.4M363.9 468.4V467.1H365.9V468.4M365.9 468.4V466.9H366.7V468.4M366.7 468.4V466.7H367.3V468.4M367.3 468.4V467.1H367.9V468.4M367.9 468.4V467.1H369.4V468.4M369.4 468.4V467.0H370.4V468.4M370.4 468.4V466.5H371.2V468.4M371.2 468.4V466.7H373.2V468.4M373.2 468.4V467.1H374.0V468.4M374.0 468.4V466.3H374.8V468.4M374.8 468.4V466.4H375.4V468.4M375.4 468.4V466.7H377.4V468.4M377.4 468.4V466.5H378.2V468.4M378.2 468.4V466.6H379.2V468.4M379.2 468.4V466.3H379.8V468.4M379.8 468.4V467.0H381.3V468.4M381.3 468.4V466.9H382.5V468.4M382.5 468.4V467.0H383.3V468.4M383.3 468.4V466.8H385.3V468.4M385.3 468.4V467.1H386.1V468.4M386.1 468.4V466.5H387.1V468.4M387.1 468.4V466.4H388.3V468.4M388.3 468.4V467.0H389.5V468.4M389.5 468.4V466.3H390.5V468.4M390.5 468.4V466.9H392.5V468.4M392.5 468.4V467.0H393.3V468.4M393.3 468.4V467.0H394.5V468.4M394.5 468.4V467.2H395.1V468.4M395.1 468.4V466.3H396.6V468.4M396.6 468.4V467.2H397.6V468.4M397.6 468.4V466.3H398.4V468.4M398.4 468.4V466.7H399.0V468.4M399.0 468.4V466.5H401.0V468.4M401.0 468.4V466.6H402.0V468.4M402.0 468.4V466.2H402.8V468.4M402.8 468.4V467.0H403.4V468.4M403.4 468.4V466.5H404.0V468.4M404.0 468.4V466.6H405.0V468.4M405.0 468.4V466.6H405.8V468.4M405.8 468.4V466.5H407.0V468.4M407.0 468.4V467.1H409.0V468.4M409.0 468.4V466.7H410.5V468.4M410.5 468.4V467.1H411.7V468.4M411.7 468.4V466.5H413.2V468.4M413.2 468.4V466.9H415.2V468.4M415.2 468.4V466.6H416.0V468.4M416.0 468.4V467.1H418.0V468.4M418.0 468.4V466.3H418.8V468.4M418.8 468.4V466.3H420.0V468.4M420.0 468.4V466.8H421.5V468.4M421.5 468.4V466.8H422.3V468.4M422.3 468.4V466.6H422.9V468.4M422.9 468.4V466.5H424.1V468.4M424.1 468.4V467.2H425.6V468.4M425.6 468.4V466.4H427.6V468.4M427.6 468.4V466.2H428.6V468.4M428.6 468.4V466.9H430.1V468.4M430.1 468.4V466.6H430.9V468.4M430.9 468.4V467.0H431.7V468.4M431.7 468.4V466.3H432.7V468.4M432.7 468.4V466.6H433.3V468.4M433.3 468.4V466.9H435.3V468.4M435.3 468.4V466.7H435.9V468.4M435.9 468.4V466.8H436.7V468.4M436.7 468.4V466.3H437.3V468.4M437.3 468.4V466.8H438.5V468.4M438.5 468.4V466.8H439.7V468.4M439.7 468.4V467.1H440.7V468.4M440.7 468.4V467.0H442.7V468.4M442.7 468.4V466.3H444.7V468.4M444.7 468.4V466.4H445.3V468.4M445.3 468.4V466.5H445.9V468.4M445.9 468.4V466.5H446.9V468.4M446.9 468.4V466.6H448.9V468.4M448.9 468.4V466.5H450.4V468.4M450.4 468.4V466.3H451.4V468.4M451.4 468.4V466.3H452.6V468.4M452.6 468.4V466.8H453.8V468.4M453.8 468.4V466.9H455.0V468.4M455.0 468.4V466.2H455.8V468.4M455.8 468.4V466.9H456.8V468.4M456.8 468.4V466.7H458.0V468.4M458.0 468.4V466.9H459.2V468.4M459.2 468.4V466.5H460.7V468.4M460.7 468.4V467.1H461.9V468.4M461.9 468.4V466.9H462.7V468.4M462.7 468.4V466.3H463.7V468.4M463.7 468.4V466.5H464.3V468.4M464.3 468.4V466.2H465.3V468.4M465.3 468.4V467.0H466.5V468.4M466.5 468.4V466.8H467.1V468.4M467.1 468.4V466.6H468.1V468.4M468.1 468.4V467.1H469.1V468.4M469.1 468.4V467.1H470.3V468.4M470.3 468.4V466.6H471.8V468.4M471.8 468.4V466.7H473.8V468.4M473.8 468.4V467.0H474.8V468.4M474.8 468.4V466.6H475.4V468.4M475.4 468.4V467.2H476.6V468.4M476.6 468.4V466.4H477.4V468.4M477.4 468.4V466.9H478.4V468.4M478.4 468.4V467.0H479.9V468.4M479.9 468.4V467.2H481.9V468.4M481.9 468.4V466.7H483.1V468.4M483.1 468.4V466.5H484.3V468.4M484.3 468.4V467.1H486.3V468.4M486.3 468.4V466.4H486.9V468.4M486.9 468.4V466.5H488.1V468.4M488.1 468.4V467.1H489.1V468.4M489.1 468.4V466.4H490.6V468.4M490.6 468.4V466.9H491.6V468.4M491.6 468.4V467.1H492.8V468.4M492.8 468.4V466.7H494.8V468.4M494.8 468.4V467.0H495.4V468.4M495.4 468.4V466.6H497.4V468.4M497.4 468.4V466.8H498.9V468.4M498.9 468.4V467.2H500.4V468.4M500.4 468.4V466.9H501.9V468.4M501.9 468.4V466.8H503.1V468.4M503.1 468.4V466.9H504.1V468.4M504.1 468.4V466.6H506.1V468.4M506.1 468.4V467.1H506.7V468.4M506.7 468.4V466.8H507.5V468.4M507.5 468.4V467.0H508.7V468.4M508.7 468.4V467.0H510.2V468.4M510.2 468.4V466.4H511.7V468.4M511.7 468.4V466.6H512.5V468.4M512.5 468.4V466.3H514.5V468.4M514.5 468.4V466.6H515.1V468.4M515.1 468.4V466.7H515.7V468.4M515.7 468.4V466.7H516.3V468.4M516.3 468.4V466.7H517.1V468.4M517.1 468.4V467.0H517.7V468.4M517.7 468.4V466.8H518.7V468.4M518.7 468.4V467.2H519.3V468.4M519.3 468.4V466.3H521.3V468.4M521.3 468.4V467.2H522.3V468.4M522.3 468.4V467.1H523.5V468.4M523.5 468.4V466.3H524.1V468.4M524.1 468.4V466.7H524.7V468.4M524.7 468.4V466.6H526.2V468.4M526.2 468.4V466.9H527.7V468.4M527.7 468.4V467.1H528.3V468.4M528.3 468.4V467.0H529.3V468.4M529.3 468.4V466.6H530.5V468.4M530.5 468.4V466.3H532.0V468.4M532.0 468.4V466.4H533.0V468.4M533.0 468.4V466.4H535.0V468.4M535.0 468.4V466.2H537.0V468.4M537.0 468.4V466.8H538.5V468.4M538.5 468.4V467.1H539.7V468.4M539.7 468.4V467.1H540.5V468.4M540.5 468.4V467.1H541.7V468.4M541.7 468.4V466.3H542.9V468.4M542.9 468.4V466.5H543.9V468.4M543.9 468.4V466.7H544.7V468.4M544.7 468.4V466.3H545.7V468.4M545.7 468.4V466.7H546.3V468.4M546.3 468.4V467.0H548.3V468.4M548.3 468.4V466.9H548.9V468.4M548.9 468.4V467.1H549.7V468.4M549.7 468.4V466.2H551.7V468.4M551.7 468.4V467.0H552.7V468.4M552.7 468.4V466.6H553.5V468.4M553.5 468.4V466.3H554.5V468.4M554.5 468.4V467.1H555.3V468.4M555.3 468.4V466.9H556.8V468.4M556.8 468.4V466.7H557.6V468.4M557.6 468.4V466.4H558.8V468.4M558.8 468.4V466.6H560.8V468.4M560.8 468.4V466.6H561.6V468.4M561.6 468.4V467.0H563.6V468.4M563.6 468.4V466.9H565.1V468.4M565.1 468.4V466.9H566.3V468.4M566.3 468.4V466.8H567.8V468.4M567.8 468.4V466.5H569.0V468.4M569.0 468.4V467.1H569.6V468.4M569.6 468.4V466.8H571.1V468.4M571.1 468.4V466.8H572.3V468.4M572.3 468.4V466.8H574.3V468.4M574.3 468.4V466.3H575.3V468.4M575.3 468.4V466.3H576.3V468.4M576.3 468.4V466.5H576.9V468.4M576.9 468.4V466.8H577.9V468.4M577.9 468.4V466.9H579.4V468.4M579.4 468.4V466.2H580.9V468.4M580.9 468.4V467.1H582.1V468.4M582.1 468.4V466.3H583.1V468.4M583.1 468.4V466.6H584.6V468.4M584.6 468.4V466.3H586.6V468.4M586.6 468.4V466.9H588.6V468.4M588.6 468.4V466.4H589.6V468.4M589.6 468.4V466.4H590.2V468.4M590.2 468.4V466.5H591.7V468.4M591.7 468.4V466.4H592.7V468.4M592.7 468.4V466.5H593.7V468.4M593.7 468.4V466.8H595.2V468.4M595.2 468.4V466.7H596.2V468.4M596.2 468.4V466.5H597.4V468.4M597.4 468.4V466.4H598.9V468.4M598.9 468.4V466.4H599.9V468.4M599.9 468.4V466.4H601.9V468.4M601.9 468.4V466.3H603.9V468.4M603.9 468.4V466.3H605.9V468.4M605.9 468.4V467.2H607.9V468.4M607.9 468.4V467.0H609.4V468.4M609.4 468.4V466.4H610.6V468.4M610.6 468.4V467.1H611.8V468.4M611.8 468.4V466.6H613.3V468.4M613.3 468.4V467.1H614.5V468.4M614.5 468.4V466.3H616.0V468.4M616.0 468.4V466.4H616.8V468.4M616.8 468.4V466.9H617.8V468.4M617.8 468.4V467.0H618.4V468.4M618.4 468.4V466.4H620.4V468.4M620.4 468.4V466.4H622.4V468.4M622.4 468.4V466.8H624.4V468.4M624.4 468.4V466.8H625.4V468.4M625.4 468.4V466.8H626.6V468.4M626.6 468.4V466.3H627.2V468.4M627.2 468.4V466.6H628.2V468.4M628.2 468.4V466.9H630.2V468.4M630.2 468.4V467.1H631.7V468.4M631.7 468.4V466.3H632.7V468.4M632.7 468.4V466.8H633.5V468.4M633.5 468.4V466.4H635.5V468.4M635.5 468.4V466.6H636.1V468.4M636.1 468.4V466.9H637.6V468.4M637.6 468.4V466.5H639.6V468.4M639.6 468.4V466.2H641.6V468.4M641.6 468.4V467.2H643.1V468.4M643.1 468.4V466.7H644.3V468.4M644.3 468.4V466.5H645.1V468.4M645.1 468.4V467.0H646.3V468.4M646.3 468.4V466.6H647.8V468.4M647.8 468.4V466.5H648.8V468.4M648.8 468.4V466.6H650.3V468.4" fill="none" stroke="#111" stroke-width="0.5"/>
<rect x="309.9" y="466.9" width="340.6" height="1.5" fill="#222" opacity="0.6"/>
<path d="M311.9 466.5V464.8H317.9V466.5M318.9 466.5V464.7H328.9V466.5M330.9 466.5V463.7H334.9V466.5M336.9 466.5V464.7H346.9V466.5M347.9 466.5V463.7H353.9V466.5M355.9 466.5V465.0H369.9V466.5M372.9 466.5V463.7H392.9V466.5M395.9 466.5V464.0H403.9V466.5M405.9 466.5V464.6H411.9V466.5M413.9 466.5V464.7H417.9V466.5M420.9 466.5V464.4H424.9V466.5M425.9 466.5V463.7H435.9V466.5M438.9 466.5V464.4H446.9V466.5M448.9 466.5V464.5H452.9V466.5M454.9 466.5V465.0H464.9V466.5M466.9 466.5V464.3H470.9V466.5M472.9 466.5V464.1H492.9V466.5M493.9 466.5V464.7H503.9V466.5M505.9 466.5V464.8H511.9V466.5M513.9 466.5V464.7H517.9V466.5M520.9 466.5V463.9H524.9V466.5M525.9 466.5V464.0H545.9V466.5M547.9 466.5V464.1H555.9V466.5M557.9 466.5V464.5H561.9V466.5M563.9 466.5V464.8H577.9V466.5M580.9 466.5V464.2H600.9V466.5M601.9 466.5V464.5H615.9V466.5M617.9 466.5V465.2H621.9V466.5M622.9 466.5V465.1H628.9V466.5M630.9 466.5V464.8H640.9V466.5M642.9 466.5V465.1H648.5V466.5" fill="none" stroke="#555" stroke-width="0.35"/>
<path d="M310.5 466V459.2H464.2V462.5 M400 464V462.5H525.5V465 M360 465.5V463.3H440 M533.8 466V465.3H619.8V466 M320 466V464.6H360 M470 466V464.3H510" fill="none" stroke="#555" stroke-width="0.5"/>
<path d="M309.9 487.8H306.7V504.1H309.9 M306.7 496.7H304.3 M304.3 496.7V520.4H309.9 M304.3 508H299.7V608.1H304.3 M309.9 536.6H307.2V552.9H309.9 M307.2 544.7H306.0V569.1H309.9 M306.0 554.9H305.2V583.4H309.9 M309.9 585.4H307.5V601.6H309.9 M307.5 593.5H305.2 M305.2 561.0H304.3V635.0 M309.9 634.2H308.0V650.4H309.9 M308.0 642.3H306.8V617.9H309.9 M306.8 629.0H305.5V607.6H309.9 M305.5 615.8H304.3" fill="none" stroke="#777" stroke-width="0.5"/>
<text font-size="6.3" fill="#000" stroke="#000" stroke-width="0.1" transform="translate(651.8 491.0) scale(0.84 1)">EGNv2</text>
<text font-size="6.3" fill="#000" stroke="#000" stroke-width="0.1" transform="translate(651.8 507.3) scale(0.84 1)">ST−Net</text>
<text font-size="6.3" fill="#000" stroke="#000" stroke-width="0.1" transform="translate(651.8 523.6) scale(0.84 1)">DeepPT</text>
<text font-size="6.3" fill="#000" stroke="#000" stroke-width="0.1" transform="translate(651.8 539.8) scale(0.84 1)">Hist2ST</text>
<text font-size="6.3" fill="#000" stroke="#000" stroke-width="0.1" transform="translate(651.8 556.1) scale(0.84 1)">HisToGene</text>
<text font-size="6.3" fill="#000" stroke="#000" stroke-width="0.1" transform="translate(651.8 572.3) scale(0.84 1)">TCGN</text>
<text font-size="6.3" fill="#000" stroke="#000" stroke-width="0.1" transform="translate(651.8 588.6) scale(0.84 1)">THItoGene</text>
<text font-size="6.3" fill="#000" stroke="#000" stroke-width="0.1" transform="translate(651.8 604.9) scale(0.84 1)">GeneCodeR</text>
<text font-size="6.3" fill="#000" stroke="#000" stroke-width="0.1" transform="translate(651.8 621.1) scale(0.84 1)">DeepSpaCE</text>
<text font-size="6.3" fill="#000" stroke="#000" stroke-width="0.1" transform="translate(651.8 637.4) scale(0.84 1)">iStar</text>
<text font-size="6.3" fill="#000" stroke="#000" stroke-width="0.1" transform="translate(651.8 653.6) scale(0.84 1)">EGNv1</text>
<defs><linearGradient id="glm"><stop offset="0" stop-color="#ffffff"/><stop offset="1" stop-color="#1F5A56"/></linearGradient><linearGradient id="glv"><stop offset="0" stop-color="#ffffff"/><stop offset="1" stop-color="#E04848"/></linearGradient><linearGradient id="gac"><stop offset="0" stop-color="#5C9FD4"/><stop offset="0.25" stop-color="#F6F2DF"/><stop offset="0.5" stop-color="#F6B08C"/><stop offset="0.75" stop-color="#E0502E"/><stop offset="1" stop-color="#D02A1A"/></linearGradient></defs>
<rect x="436.70" y="667.00" width="19.00" height="4.00" fill="url(#glm)" />
<rect x="459.30" y="667.00" width="17.70" height="4.00" fill="url(#glv)" />
<rect x="480.20" y="667.00" width="34.10" height="4.00" fill="url(#gac)" />
<text x="437.00" y="665.40" font-size="3.3" text-anchor="start" fill="#111" stroke="#111" stroke-width="0.12" font-weight="bold">log(mean)</text>
<text x="459.30" y="665.40" font-size="3.3" text-anchor="start" fill="#111" stroke="#111" stroke-width="0.12" font-weight="bold">log(var)</text>
<text x="480.50" y="665.40" font-size="3.3" text-anchor="start" fill="#111" stroke="#111" stroke-width="0.12" font-weight="bold">Average Correlation</text>
<text x="437.80" y="674.80" font-size="3.3" text-anchor="middle" fill="#111" stroke="#111" stroke-width="0.12" >−1</text>
<text x="443.20" y="674.80" font-size="3.3" text-anchor="middle" fill="#111" stroke="#111" stroke-width="0.12" >0</text>
<text x="448.60" y="674.80" font-size="3.3" text-anchor="middle" fill="#111" stroke="#111" stroke-width="0.12" >1</text>
<text x="454.20" y="674.80" font-size="3.3" text-anchor="middle" fill="#111" stroke="#111" stroke-width="0.12" >2</text>
<text x="460.20" y="674.80" font-size="3.3" text-anchor="middle" fill="#111" stroke="#111" stroke-width="0.12" >−2</text>
<text x="464.70" y="674.80" font-size="3.3" text-anchor="middle" fill="#111" stroke="#111" stroke-width="0.12" >0</text>
<text x="469.30" y="674.80" font-size="3.3" text-anchor="middle" fill="#111" stroke="#111" stroke-width="0.12" >2</text>
<text x="474.00" y="674.80" font-size="3.3" text-anchor="middle" fill="#111" stroke="#111" stroke-width="0.12" >4</text>
<text x="480.20" y="674.80" font-size="3.3" text-anchor="middle" fill="#111" stroke="#111" stroke-width="0.12" >−0.2</text>
<text x="488.60" y="674.80" font-size="3.3" text-anchor="middle" fill="#111" stroke="#111" stroke-width="0.12" >0</text>
<text x="497.00" y="674.80" font-size="3.3" text-anchor="middle" fill="#111" stroke="#111" stroke-width="0.12" >0.2</text>
<text x="505.50" y="674.80" font-size="3.3" text-anchor="middle" fill="#111" stroke="#111" stroke-width="0.12" >0.4</text>
<text x="513.50" y="674.80" font-size="3.3" text-anchor="middle" fill="#111" stroke="#111" stroke-width="0.12" >0.6</text>
<text x="0.00" y="683.30" font-size="11.3" text-anchor="start" fill="#000" >PCC of Visium-Kidney</text>
<text x="1.50" y="707.00" font-size="14" text-anchor="start" fill="#000" stroke="#000" stroke-width="0.25" >f</text>
<text x="1.30" y="855.50" font-size="11.3" text-anchor="start" fill="#000" >PCC of Visium-HER2+</text>
<text x="0.50" y="875.50" font-size="14" text-anchor="start" fill="#000" stroke="#000" stroke-width="0.25" >g</text>
<text x="116.70" y="696.30" font-size="7.6" text-anchor="middle" fill="#000" stroke="#000" stroke-width="0.12" >ST−Net</text>
<text x="117.70" y="868.30" font-size="7.6" text-anchor="middle" fill="#000" stroke="#000" stroke-width="0.12" >ST−Net</text>
<line x1="71.00" y1="839.50" x2="162.60" y2="839.50" stroke="#a0a0a0" stroke-width="1.25" />
<line x1="72.20" y1="1013.20" x2="163.40" y2="1013.20" stroke="#a0a0a0" stroke-width="1.25" />
<text x="211.50" y="696.30" font-size="7.6" text-anchor="middle" fill="#000" stroke="#000" stroke-width="0.12" >GeneCodeR</text>
<text x="212.50" y="868.30" font-size="7.6" text-anchor="middle" fill="#000" stroke="#000" stroke-width="0.12" >GeneCodeR</text>
<line x1="165.80" y1="839.50" x2="257.40" y2="839.50" stroke="#a0a0a0" stroke-width="1.25" />
<line x1="167.00" y1="1013.20" x2="258.20" y2="1013.20" stroke="#a0a0a0" stroke-width="1.25" />
<text x="306.30" y="696.30" font-size="7.6" text-anchor="middle" fill="#000" stroke="#000" stroke-width="0.12" >DeepPT</text>
<text x="307.30" y="868.30" font-size="7.6" text-anchor="middle" fill="#000" stroke="#000" stroke-width="0.12" >DeepPT</text>
<line x1="260.60" y1="839.50" x2="352.20" y2="839.50" stroke="#a0a0a0" stroke-width="1.25" />
<line x1="261.80" y1="1013.20" x2="353.00" y2="1013.20" stroke="#a0a0a0" stroke-width="1.25" />
<text x="401.10" y="696.30" font-size="7.6" text-anchor="middle" fill="#000" stroke="#000" stroke-width="0.12" >EGNv1</text>
<text x="402.10" y="868.30" font-size="7.6" text-anchor="middle" fill="#000" stroke="#000" stroke-width="0.12" >EGNv1</text>
<line x1="355.40" y1="839.50" x2="447.00" y2="839.50" stroke="#a0a0a0" stroke-width="1.25" />
<line x1="356.60" y1="1013.20" x2="447.80" y2="1013.20" stroke="#a0a0a0" stroke-width="1.25" />
<text x="495.90" y="696.30" font-size="7.6" text-anchor="middle" fill="#000" stroke="#000" stroke-width="0.12" >TCGN</text>
<text x="496.90" y="868.30" font-size="7.6" text-anchor="middle" fill="#000" stroke="#000" stroke-width="0.12" >TCGN</text>
<line x1="450.20" y1="839.50" x2="541.80" y2="839.50" stroke="#a0a0a0" stroke-width="1.25" />
<line x1="451.40" y1="1013.20" x2="542.60" y2="1013.20" stroke="#a0a0a0" stroke-width="1.25" />
<text x="590.70" y="696.30" font-size="7.6" text-anchor="middle" fill="#000" stroke="#000" stroke-width="0.12" >iStar</text>
<text x="591.70" y="868.30" font-size="7.6" text-anchor="middle" fill="#000" stroke="#000" stroke-width="0.12" >THItoGene</text>
<line x1="545.00" y1="839.50" x2="636.60" y2="839.50" stroke="#a0a0a0" stroke-width="1.25" />
<line x1="546.20" y1="1013.20" x2="637.40" y2="1013.20" stroke="#a0a0a0" stroke-width="1.25" />
<line x1="71.20" y1="701.00" x2="71.20" y2="839.20" stroke="#a8a8a8" stroke-width="1.3" />
<line x1="69.20" y1="721.50" x2="71.20" y2="721.50" stroke="#555" stroke-width="0.6" />
<text x="68.40" y="723.60" font-size="5.7" text-anchor="end" fill="#2a2a2a" >0.75</text>
<line x1="69.20" y1="756.40" x2="71.20" y2="756.40" stroke="#555" stroke-width="0.6" />
<text x="68.40" y="758.50" font-size="5.7" text-anchor="end" fill="#2a2a2a" >0.50</text>
<line x1="69.20" y1="791.30" x2="71.20" y2="791.30" stroke="#555" stroke-width="0.6" />
<text x="68.40" y="793.40" font-size="5.7" text-anchor="end" fill="#2a2a2a" >0.25</text>
<line x1="69.20" y1="826.30" x2="71.20" y2="826.30" stroke="#555" stroke-width="0.6" />
<text x="68.40" y="828.40" font-size="5.7" text-anchor="end" fill="#2a2a2a" >0.00</text>
<line x1="72.80" y1="870.50" x2="72.80" y2="1012.90" stroke="#a8a8a8" stroke-width="1.3" />
<line x1="70.80" y1="872.40" x2="72.80" y2="872.40" stroke="#555" stroke-width="0.6" />
<text x="70.00" y="874.50" font-size="5.7" text-anchor="end" fill="#2a2a2a" >0.6</text>
<line x1="70.80" y1="902.90" x2="72.80" y2="902.90" stroke="#555" stroke-width="0.6" />
<text x="70.00" y="905.00" font-size="5.7" text-anchor="end" fill="#2a2a2a" >0.4</text>
<line x1="70.80" y1="933.30" x2="72.80" y2="933.30" stroke="#555" stroke-width="0.6" />
<text x="70.00" y="935.40" font-size="5.7" text-anchor="end" fill="#2a2a2a" >0.2</text>
<line x1="70.80" y1="963.70" x2="72.80" y2="963.70" stroke="#555" stroke-width="0.6" />
<text x="70.00" y="965.80" font-size="5.7" text-anchor="end" fill="#2a2a2a" >0.0</text>
<line x1="70.80" y1="994.10" x2="72.80" y2="994.10" stroke="#555" stroke-width="0.6" />
<text x="70.00" y="996.20" font-size="5.7" text-anchor="end" fill="#2a2a2a" >−0.2</text>
<text x="0" y="0" font-size="8" fill="#222" text-anchor="middle" transform="translate(50.5,770) rotate(-90)">PCC</text>
<text x="0" y="0" font-size="8" fill="#222" text-anchor="middle" transform="translate(52,942.7) rotate(-90)">PCC</text>
<defs><path id="v67" d="M0.7 758.4 1.0 760.3 1.3 762.1 1.7 764.0 2.1 765.9 2.5 767.7 2.9 769.6 3.4 771.5 3.8 773.3 4.1 775.2 4.4 777.1 4.7 778.9 4.9 780.8 5.1 782.7 5.2 784.5 5.3 786.4 5.3 788.3 5.3 790.1 5.3 792.0 5.3 793.9 5.2 795.8 5.0 797.7 4.7 799.6 4.4 801.6 4.0 803.5 3.6 805.4 3.1 807.3 2.6 809.2 2.2 811.1 1.7 813.0 1.4 814.9 1.0 816.8 0.7 818.8 0.5 820.7 0.3 822.6 0.3 824.5 0.3 826.4 -0.3 826.4 -0.3 824.5 -0.3 822.6 -0.5 820.7 -0.7 818.8 -1.0 816.8 -1.4 814.9 -1.7 813.0 -2.2 811.1 -2.6 809.2 -3.1 807.3 -3.6 805.4 -4.0 803.5 -4.4 801.6 -4.7 799.6 -5.0 797.7 -5.2 795.8 -5.3 793.9 -5.3 792.0 -5.3 790.1 -5.3 788.3 -5.3 786.4 -5.2 784.5 -5.1 782.7 -4.9 780.8 -4.7 778.9 -4.4 777.1 -4.1 775.2 -3.8 773.3 -3.4 771.5 -2.9 769.6 -2.5 767.7 -2.1 765.9 -1.7 764.0 -1.3 762.1 -1.0 760.3 -0.7 758.4Z"/></defs>
<use href="#v67" transform="translate(84.6 0)" fill="#D6E6F4" stroke="#4C96CE" stroke-width="0.75"/>
<use href="#v67" transform="translate(84.6 0) scale(0.55 1)" fill="none" stroke="#4C96CE" stroke-width="0.35" vector-effect="non-scaling-stroke" opacity="0.7"/>
<line x1="84.60" y1="758.40" x2="84.60" y2="826.40" stroke="#4C96CE" stroke-width="0.5" />
<rect x="81.50" y="782.30" width="6.20" height="17.60" fill="#8DBBE0" stroke="#4C96CE" stroke-width="0.6"/>
<line x1="81.50" y1="791.10" x2="87.70" y2="791.10" stroke="#4C96CE" stroke-width="0.8" />
<defs><path id="v68" d="M0.9 765.7 1.2 766.4 1.6 767.0 2.1 767.7 2.6 768.3 3.2 769.0 3.7 769.6 4.2 770.2 4.8 770.9 5.2 771.5 5.6 772.2 6.0 772.9 6.2 773.5 6.4 774.1 6.6 774.8 6.6 775.5 6.7 776.1 6.7 776.8 6.7 777.4 6.5 779.7 5.9 781.9 5.1 784.2 4.2 786.5 3.3 788.7 2.4 791.0 1.6 793.3 1.0 795.5 0.4 797.8 0.3 800.1 0.3 802.3 0.3 804.6 0.3 806.9 0.3 809.1 0.3 811.4 0.3 813.7 0.3 815.9 0.3 818.2 -0.3 818.2 -0.3 815.9 -0.3 813.7 -0.3 811.4 -0.3 809.1 -0.3 806.9 -0.3 804.6 -0.3 802.3 -0.3 800.1 -0.4 797.8 -1.0 795.5 -1.6 793.3 -2.4 791.0 -3.3 788.7 -4.2 786.5 -5.1 784.2 -5.9 781.9 -6.5 779.7 -6.7 777.4 -6.7 776.8 -6.7 776.1 -6.6 775.5 -6.6 774.8 -6.4 774.1 -6.2 773.5 -6.0 772.9 -5.6 772.2 -5.2 771.5 -4.8 770.9 -4.2 770.2 -3.7 769.6 -3.2 769.0 -2.6 768.3 -2.1 767.7 -1.6 767.0 -1.2 766.4 -0.9 765.7Z"/></defs>
<use href="#v68" transform="translate(105.9 0)" fill="#CDEBDF" stroke="#1E9C72" stroke-width="0.75"/>
<use href="#v68" transform="translate(105.9 0) scale(0.55 1)" fill="none" stroke="#1E9C72" stroke-width="0.35" vector-effect="non-scaling-stroke" opacity="0.7"/>
<line x1="105.90" y1="765.70" x2="105.90" y2="818.20" stroke="#1E9C72" stroke-width="0.5" />
<rect x="102.80" y="774.50" width="6.20" height="12.50" fill="#6EC0A2" stroke="#1E9C72" stroke-width="0.6"/>
<line x1="102.80" y1="781.00" x2="109.00" y2="781.00" stroke="#1E9C72" stroke-width="0.8" />
<circle cx="105.9" cy="818.2" r="1.0" fill="#1E9C72"/>
<circle cx="105.9" cy="815.6" r="1.0" fill="#1E9C72"/>
<defs><path id="v69" d="M6.3 768.6 6.7 768.8 7.1 769.1 7.5 769.3 7.9 769.6 8.3 769.8 8.7 770.1 9.0 770.3 9.3 770.6 9.6 770.8 9.9 771.0 10.1 771.3 10.3 771.5 10.4 771.8 10.6 772.0 10.7 772.3 10.8 772.5 10.8 772.8 10.8 773.0 10.8 773.6 10.8 774.3 10.7 775.0 10.6 775.6 10.4 776.2 10.2 776.9 9.9 777.6 9.6 778.2 9.1 778.9 8.7 779.5 8.2 780.1 7.6 780.8 7.0 781.5 6.4 782.1 5.7 782.8 5.1 783.4 4.5 784.1 3.9 784.7 -3.9 784.7 -4.5 784.1 -5.1 783.4 -5.7 782.8 -6.4 782.1 -7.0 781.5 -7.6 780.8 -8.2 780.1 -8.7 779.5 -9.1 778.9 -9.6 778.2 -9.9 777.6 -10.2 776.9 -10.4 776.2 -10.6 775.6 -10.7 775.0 -10.8 774.3 -10.8 773.6 -10.8 773.0 -10.8 772.8 -10.8 772.5 -10.7 772.3 -10.6 772.0 -10.4 771.8 -10.3 771.5 -10.1 771.3 -9.9 771.0 -9.6 770.8 -9.3 770.6 -9.0 770.3 -8.7 770.1 -8.3 769.8 -7.9 769.6 -7.5 769.3 -7.1 769.1 -6.7 768.8 -6.3 768.6Z"/></defs>
<use href="#v69" transform="translate(127.8 0)" fill="#FCEBB8" stroke="#F2AE12" stroke-width="0.75"/>
<use href="#v69" transform="translate(127.8 0) scale(0.55 1)" fill="none" stroke="#F2AE12" stroke-width="0.35" vector-effect="non-scaling-stroke" opacity="0.7"/>
<line x1="127.80" y1="768.60" x2="127.80" y2="784.70" stroke="#F2AE12" stroke-width="0.5" />
<rect x="124.70" y="771.00" width="6.20" height="10.80" fill="#F7CB5A" stroke="#F2AE12" stroke-width="0.6"/>
<line x1="124.70" y1="775.90" x2="130.90" y2="775.90" stroke="#F2AE12" stroke-width="0.8" />
<defs><path id="v70" d="M0.3 778.2 0.3 779.6 0.3 781.0 0.3 782.4 0.3 783.8 0.3 785.3 0.4 786.7 1.0 788.1 1.7 789.5 2.5 790.9 3.5 792.3 4.6 793.7 5.7 795.1 6.9 796.5 7.9 798.0 8.9 799.4 9.6 800.8 10.0 802.2 10.2 803.6 10.0 804.9 9.6 806.1 8.9 807.4 7.9 808.7 6.9 809.9 5.7 811.2 4.6 812.5 3.5 813.7 2.5 815.0 1.7 816.3 1.0 817.5 0.4 818.8 0.3 820.1 0.3 821.3 0.3 822.6 0.3 823.9 0.3 825.1 0.3 826.4 -0.3 826.4 -0.3 825.1 -0.3 823.9 -0.3 822.6 -0.3 821.3 -0.3 820.1 -0.4 818.8 -1.0 817.5 -1.7 816.3 -2.5 815.0 -3.5 813.7 -4.6 812.5 -5.7 811.2 -6.9 809.9 -7.9 808.7 -8.9 807.4 -9.6 806.1 -10.0 804.9 -10.2 803.6 -10.0 802.2 -9.6 800.8 -8.9 799.4 -7.9 798.0 -6.9 796.5 -5.7 795.1 -4.6 793.7 -3.5 792.3 -2.5 790.9 -1.7 789.5 -1.0 788.1 -0.4 786.7 -0.3 785.3 -0.3 783.8 -0.3 782.4 -0.3 781.0 -0.3 779.6 -0.3 778.2Z"/></defs>
<use href="#v70" transform="translate(149.7 0)" fill="#FADCC4" stroke="#EE8432" stroke-width="0.75"/>
<use href="#v70" transform="translate(149.7 0) scale(0.55 1)" fill="none" stroke="#EE8432" stroke-width="0.35" vector-effect="non-scaling-stroke" opacity="0.7"/>
<line x1="149.70" y1="778.20" x2="149.70" y2="826.40" stroke="#EE8432" stroke-width="0.5" />
<rect x="146.60" y="796.40" width="6.20" height="10.20" fill="#F4AE78" stroke="#EE8432" stroke-width="0.6"/>
<line x1="146.60" y1="802.20" x2="152.80" y2="802.20" stroke="#EE8432" stroke-width="0.8" />
<circle cx="149.7" cy="778.2" r="1.0" fill="#EE8432"/>
<circle cx="149.7" cy="780.8" r="1.0" fill="#EE8432"/>
<circle cx="149.7" cy="783.4" r="1.0" fill="#EE8432"/>
<circle cx="149.7" cy="826.4" r="1.0" fill="#EE8432"/>
<circle cx="149.7" cy="823.8" r="1.0" fill="#EE8432"/>
<defs><path id="v71" d="M0.3 819.7 0.3 820.1 0.3 820.4 0.6 820.8 0.9 821.2 1.2 821.5 1.6 821.9 2.1 822.3 2.6 822.6 3.2 823.0 3.7 823.4 4.3 823.7 4.8 824.1 5.3 824.5 5.7 824.8 6.0 825.2 6.2 825.6 6.4 825.9 6.4 826.3 6.4 826.7 6.2 827.1 6.0 827.5 5.7 827.9 5.3 828.3 4.8 828.7 4.3 829.1 3.7 829.5 3.2 829.8 2.6 830.2 2.1 830.6 1.6 831.0 1.2 831.4 0.9 831.8 0.6 832.2 0.3 832.6 0.3 833.0 0.3 833.4 -0.3 833.4 -0.3 833.0 -0.3 832.6 -0.6 832.2 -0.9 831.8 -1.2 831.4 -1.6 831.0 -2.1 830.6 -2.6 830.2 -3.2 829.8 -3.7 829.5 -4.3 829.1 -4.8 828.7 -5.3 828.3 -5.7 827.9 -6.0 827.5 -6.2 827.1 -6.4 826.7 -6.4 826.3 -6.4 825.9 -6.2 825.6 -6.0 825.2 -5.7 824.8 -5.3 824.5 -4.8 824.1 -4.3 823.7 -3.7 823.4 -3.2 823.0 -2.6 822.6 -2.1 822.3 -1.6 821.9 -1.2 821.5 -0.9 821.2 -0.6 820.8 -0.3 820.4 -0.3 820.1 -0.3 819.7Z"/></defs>
<use href="#v71" transform="translate(178.9 0)" fill="#D6E6F4" stroke="#4C96CE" stroke-width="0.75"/>
<use href="#v71" transform="translate(178.9 0) scale(0.55 1)" fill="none" stroke="#4C96CE" stroke-width="0.35" vector-effect="non-scaling-stroke" opacity="0.7"/>
<line x1="178.90" y1="819.70" x2="178.90" y2="833.40" stroke="#4C96CE" stroke-width="0.5" />
<rect x="175.80" y="824.50" width="6.20" height="3.50" fill="#8DBBE0" stroke="#4C96CE" stroke-width="0.6"/>
<line x1="175.80" y1="826.30" x2="182.00" y2="826.30" stroke="#4C96CE" stroke-width="0.8" />
<defs><path id="v72" d="M0.3 820.5 0.3 820.8 0.4 821.1 0.7 821.5 1.1 821.8 1.5 822.1 2.0 822.4 2.6 822.8 3.3 823.1 4.0 823.4 4.7 823.7 5.4 824.0 6.0 824.4 6.6 824.7 7.1 825.0 7.5 825.3 7.8 825.7 8.0 826.0 8.0 826.3 8.0 826.5 7.8 826.8 7.5 827.0 7.1 827.2 6.6 827.5 6.0 827.7 5.4 827.9 4.7 828.2 4.0 828.4 3.3 828.6 2.6 828.9 2.0 829.1 1.5 829.3 1.1 829.6 0.7 829.8 0.4 830.0 0.3 830.3 0.3 830.5 -0.3 830.5 -0.3 830.3 -0.4 830.0 -0.7 829.8 -1.1 829.6 -1.5 829.3 -2.0 829.1 -2.6 828.9 -3.3 828.6 -4.0 828.4 -4.7 828.2 -5.4 827.9 -6.0 827.7 -6.6 827.5 -7.1 827.2 -7.5 827.0 -7.8 826.8 -8.0 826.5 -8.0 826.3 -8.0 826.0 -7.8 825.7 -7.5 825.3 -7.1 825.0 -6.6 824.7 -6.0 824.4 -5.4 824.0 -4.7 823.7 -4.0 823.4 -3.3 823.1 -2.6 822.8 -2.0 822.4 -1.5 822.1 -1.1 821.8 -0.7 821.5 -0.4 821.1 -0.3 820.8 -0.3 820.5Z"/></defs>
<use href="#v72" transform="translate(200.8 0)" fill="#CDEBDF" stroke="#1E9C72" stroke-width="0.75"/>
<use href="#v72" transform="translate(200.8 0) scale(0.55 1)" fill="none" stroke="#1E9C72" stroke-width="0.35" vector-effect="non-scaling-stroke" opacity="0.7"/>
<line x1="200.80" y1="820.50" x2="200.80" y2="830.50" stroke="#1E9C72" stroke-width="0.5" />
<rect x="197.70" y="825.00" width="6.20" height="2.50" fill="#6EC0A2" stroke="#1E9C72" stroke-width="0.6"/>
<line x1="197.70" y1="826.30" x2="203.90" y2="826.30" stroke="#1E9C72" stroke-width="0.8" />
<defs><path id="v73" d="M0.3 823.5 0.3 823.7 0.6 823.8 1.0 824.0 1.5 824.1 2.1 824.3 2.8 824.4 3.6 824.6 4.5 824.7 5.4 824.9 6.4 825.1 7.4 825.2 8.3 825.4 9.1 825.5 9.8 825.7 10.3 825.8 10.7 826.0 10.9 826.1 11.0 826.3 10.9 826.5 10.7 826.7 10.3 826.9 9.8 827.1 9.1 827.3 8.3 827.5 7.4 827.7 6.4 827.9 5.4 828.1 4.5 828.4 3.6 828.6 2.8 828.8 2.1 829.0 1.5 829.2 1.0 829.4 0.6 829.6 0.3 829.8 0.3 830.0 -0.3 830.0 -0.3 829.8 -0.6 829.6 -1.0 829.4 -1.5 829.2 -2.1 829.0 -2.8 828.8 -3.6 828.6 -4.5 828.4 -5.4 828.1 -6.4 827.9 -7.4 827.7 -8.3 827.5 -9.1 827.3 -9.8 827.1 -10.3 826.9 -10.7 826.7 -10.9 826.5 -11.0 826.3 -10.9 826.1 -10.7 826.0 -10.3 825.8 -9.8 825.7 -9.1 825.5 -8.3 825.4 -7.4 825.2 -6.4 825.1 -5.4 824.9 -4.5 824.7 -3.6 824.6 -2.8 824.4 -2.1 824.3 -1.5 824.1 -1.0 824.0 -0.6 823.8 -0.3 823.7 -0.3 823.5Z"/></defs>
<use href="#v73" transform="translate(222.7 0)" fill="#FCEBB8" stroke="#F2AE12" stroke-width="0.75"/>
<use href="#v73" transform="translate(222.7 0) scale(0.55 1)" fill="none" stroke="#F2AE12" stroke-width="0.35" vector-effect="non-scaling-stroke" opacity="0.7"/>
<line x1="222.70" y1="823.50" x2="222.70" y2="830.00" stroke="#F2AE12" stroke-width="0.5" />
<rect x="219.60" y="825.50" width="6.20" height="1.50" fill="#F7CB5A" stroke="#F2AE12" stroke-width="0.6"/>
<line x1="219.60" y1="826.30" x2="225.80" y2="826.30" stroke="#F2AE12" stroke-width="0.8" />
<defs><path id="v74" d="M0.3 820.0 0.3 820.4 0.4 820.7 0.6 821.0 0.9 821.4 1.3 821.8 1.8 822.1 2.3 822.4 2.9 822.8 3.5 823.1 4.1 823.5 4.7 823.9 5.3 824.2 5.8 824.5 6.2 824.9 6.6 825.2 6.8 825.6 7.0 825.9 7.0 826.3 7.0 826.7 6.8 827.0 6.6 827.4 6.2 827.8 5.8 828.2 5.3 828.5 4.7 828.9 4.1 829.3 3.5 829.6 2.9 830.0 2.3 830.4 1.8 830.8 1.3 831.1 0.9 831.5 0.6 831.9 0.4 832.3 0.3 832.6 0.3 833.0 -0.3 833.0 -0.3 832.6 -0.4 832.3 -0.6 831.9 -0.9 831.5 -1.3 831.1 -1.8 830.8 -2.3 830.4 -2.9 830.0 -3.5 829.6 -4.1 829.3 -4.7 828.9 -5.3 828.5 -5.8 828.2 -6.2 827.8 -6.6 827.4 -6.8 827.0 -7.0 826.7 -7.0 826.3 -7.0 825.9 -6.8 825.6 -6.6 825.2 -6.2 824.9 -5.8 824.5 -5.3 824.2 -4.7 823.9 -4.1 823.5 -3.5 823.1 -2.9 822.8 -2.3 822.4 -1.8 822.1 -1.3 821.8 -0.9 821.4 -0.6 821.0 -0.4 820.7 -0.3 820.4 -0.3 820.0Z"/></defs>
<use href="#v74" transform="translate(244.6 0)" fill="#FADCC4" stroke="#EE8432" stroke-width="0.75"/>
<use href="#v74" transform="translate(244.6 0) scale(0.55 1)" fill="none" stroke="#EE8432" stroke-width="0.35" vector-effect="non-scaling-stroke" opacity="0.7"/>
<line x1="244.60" y1="820.00" x2="244.60" y2="833.00" stroke="#EE8432" stroke-width="0.5" />
<rect x="241.50" y="824.50" width="6.20" height="3.50" fill="#F4AE78" stroke="#EE8432" stroke-width="0.6"/>
<line x1="241.50" y1="826.30" x2="247.70" y2="826.30" stroke="#EE8432" stroke-width="0.8" />
<defs><path id="v75" d="M0.6 728.3 0.8 730.8 1.1 733.3 1.4 735.8 1.7 738.2 2.1 740.7 2.4 743.2 2.8 745.7 3.1 748.2 3.4 750.6 3.7 753.1 3.9 755.6 4.1 758.1 4.2 760.6 4.3 763.1 4.4 765.5 4.4 768.0 4.4 770.5 4.4 773.0 4.4 775.9 4.4 778.8 4.4 781.8 4.3 784.7 4.2 787.6 4.1 790.5 3.9 793.4 3.7 796.3 3.4 799.2 3.1 802.2 2.8 805.1 2.4 808.0 2.1 810.9 1.7 813.8 1.4 816.8 1.1 819.7 0.8 822.6 0.6 825.5 -0.6 825.5 -0.8 822.6 -1.1 819.7 -1.4 816.8 -1.7 813.8 -2.1 810.9 -2.4 808.0 -2.8 805.1 -3.1 802.2 -3.4 799.2 -3.7 796.3 -3.9 793.4 -4.1 790.5 -4.2 787.6 -4.3 784.7 -4.4 781.8 -4.4 778.8 -4.4 775.9 -4.4 773.0 -4.4 770.5 -4.4 768.0 -4.4 765.5 -4.3 763.1 -4.2 760.6 -4.1 758.1 -3.9 755.6 -3.7 753.1 -3.4 750.6 -3.1 748.2 -2.8 745.7 -2.4 743.2 -2.1 740.7 -1.7 738.2 -1.4 735.8 -1.1 733.3 -0.8 730.8 -0.6 728.3Z"/></defs>
<use href="#v75" transform="translate(274.0 0)" fill="#D6E6F4" stroke="#4C96CE" stroke-width="0.75"/>
<use href="#v75" transform="translate(274.0 0) scale(0.55 1)" fill="none" stroke="#4C96CE" stroke-width="0.35" vector-effect="non-scaling-stroke" opacity="0.7"/>
<line x1="274.00" y1="728.30" x2="274.00" y2="825.50" stroke="#4C96CE" stroke-width="0.5" />
<rect x="270.90" y="760.40" width="6.20" height="25.10" fill="#8DBBE0" stroke="#4C96CE" stroke-width="0.6"/>
<line x1="270.90" y1="772.40" x2="277.10" y2="772.40" stroke="#4C96CE" stroke-width="0.8" />
<defs><path id="v76" d="M0.9 738.8 1.2 739.7 1.6 740.7 2.1 741.6 2.6 742.5 3.2 743.4 3.7 744.4 4.2 745.3 4.8 746.2 5.2 747.1 5.6 748.1 6.0 749.0 6.2 749.9 6.4 750.9 6.6 751.8 6.6 752.7 6.7 753.6 6.7 754.6 6.7 755.5 6.5 758.9 5.9 762.2 5.1 765.6 4.2 768.9 3.3 772.3 2.4 775.6 1.6 779.0 1.0 782.3 0.4 785.7 0.3 789.1 0.3 792.4 0.3 795.8 0.3 799.1 0.3 802.5 0.3 805.8 0.3 809.2 0.3 812.5 0.3 815.9 -0.3 815.9 -0.3 812.5 -0.3 809.2 -0.3 805.8 -0.3 802.5 -0.3 799.1 -0.3 795.8 -0.3 792.4 -0.3 789.1 -0.4 785.7 -1.0 782.3 -1.6 779.0 -2.4 775.6 -3.3 772.3 -4.2 768.9 -5.1 765.6 -5.9 762.2 -6.5 758.9 -6.7 755.5 -6.7 754.6 -6.7 753.6 -6.6 752.7 -6.6 751.8 -6.4 750.9 -6.2 749.9 -6.0 749.0 -5.6 748.1 -5.2 747.1 -4.8 746.2 -4.2 745.3 -3.7 744.4 -3.2 743.4 -2.6 742.5 -2.1 741.6 -1.6 740.7 -1.2 739.7 -0.9 738.8Z"/></defs>
<use href="#v76" transform="translate(295.9 0)" fill="#CDEBDF" stroke="#1E9C72" stroke-width="0.75"/>
<use href="#v76" transform="translate(295.9 0) scale(0.55 1)" fill="none" stroke="#1E9C72" stroke-width="0.35" vector-effect="non-scaling-stroke" opacity="0.7"/>
<line x1="295.90" y1="738.80" x2="295.90" y2="815.90" stroke="#1E9C72" stroke-width="0.5" />
<rect x="292.80" y="752.60" width="6.20" height="19.50" fill="#6EC0A2" stroke="#1E9C72" stroke-width="0.6"/>
<line x1="292.80" y1="758.40" x2="299.00" y2="758.40" stroke="#1E9C72" stroke-width="0.8" />
<circle cx="295.9" cy="815.9" r="1.0" fill="#1E9C72"/>
<circle cx="295.9" cy="813.3" r="1.0" fill="#1E9C72"/>
<defs><path id="v77" d="M5.6 749.0 6.1 749.3 6.6 749.7 7.1 750.0 7.7 750.3 8.2 750.7 8.6 751.0 9.1 751.3 9.5 751.7 9.9 752.0 10.2 752.3 10.5 752.7 10.8 753.0 11.0 753.3 11.2 753.7 11.3 754.0 11.4 754.3 11.4 754.7 11.4 755.0 10.4 756.5 8.7 758.0 6.7 759.5 4.7 761.0 3.1 762.4 1.7 763.9 0.7 765.4 0.3 766.9 0.3 768.4 0.3 769.9 0.3 771.4 0.3 772.9 0.3 774.4 0.3 775.8 0.3 777.3 0.3 778.8 0.3 780.3 0.3 781.8 -0.3 781.8 -0.3 780.3 -0.3 778.8 -0.3 777.3 -0.3 775.8 -0.3 774.4 -0.3 772.9 -0.3 771.4 -0.3 769.9 -0.3 768.4 -0.3 766.9 -0.7 765.4 -1.7 763.9 -3.1 762.4 -4.7 761.0 -6.7 759.5 -8.7 758.0 -10.4 756.5 -11.4 755.0 -11.4 754.7 -11.4 754.3 -11.3 754.0 -11.2 753.7 -11.0 753.3 -10.8 753.0 -10.5 752.7 -10.2 752.3 -9.9 752.0 -9.5 751.7 -9.1 751.3 -8.6 751.0 -8.2 750.7 -7.7 750.3 -7.1 750.0 -6.6 749.7 -6.1 749.3 -5.6 749.0Z"/></defs>
<use href="#v77" transform="translate(317.2 0)" fill="#FCEBB8" stroke="#F2AE12" stroke-width="0.75"/>
<use href="#v77" transform="translate(317.2 0) scale(0.55 1)" fill="none" stroke="#F2AE12" stroke-width="0.35" vector-effect="non-scaling-stroke" opacity="0.7"/>
<line x1="317.20" y1="749.00" x2="317.20" y2="781.80" stroke="#F2AE12" stroke-width="0.5" />
<rect x="314.10" y="754.90" width="6.20" height="8.70" fill="#F7CB5A" stroke="#F2AE12" stroke-width="0.6"/>
<line x1="314.10" y1="759.30" x2="320.30" y2="759.30" stroke="#F2AE12" stroke-width="0.8" />
<circle cx="317.2" cy="781.8" r="1.0" fill="#F2AE12"/>
<circle cx="317.2" cy="779.2" r="1.0" fill="#F2AE12"/>
<defs><path id="v78" d="M0.9 734.2 1.1 736.7 1.3 739.3 1.6 741.8 1.8 744.4 2.1 746.9 2.3 749.5 2.5 752.0 2.8 754.6 2.9 757.1 3.1 759.6 3.2 762.2 3.3 764.7 3.4 767.3 3.4 769.8 3.5 772.4 3.5 774.9 3.5 777.5 3.5 780.0 3.5 782.5 3.5 785.1 3.5 787.6 3.4 790.1 3.4 792.6 3.3 795.2 3.2 797.7 3.1 800.2 2.9 802.8 2.8 805.3 2.5 807.8 2.3 810.3 2.1 812.9 1.8 815.4 1.6 817.9 1.3 820.4 1.1 823.0 0.9 825.5 -0.9 825.5 -1.1 823.0 -1.3 820.4 -1.6 817.9 -1.8 815.4 -2.1 812.9 -2.3 810.3 -2.5 807.8 -2.8 805.3 -2.9 802.8 -3.1 800.2 -3.2 797.7 -3.3 795.2 -3.4 792.6 -3.4 790.1 -3.5 787.6 -3.5 785.1 -3.5 782.5 -3.5 780.0 -3.5 777.5 -3.5 774.9 -3.5 772.4 -3.4 769.8 -3.4 767.3 -3.3 764.7 -3.2 762.2 -3.1 759.6 -2.9 757.1 -2.8 754.6 -2.5 752.0 -2.3 749.5 -2.1 746.9 -1.8 744.4 -1.6 741.8 -1.3 739.3 -1.1 736.7 -0.9 734.2Z"/></defs>
<use href="#v78" transform="translate(339.7 0)" fill="#FADCC4" stroke="#EE8432" stroke-width="0.75"/>
<use href="#v78" transform="translate(339.7 0) scale(0.55 1)" fill="none" stroke="#EE8432" stroke-width="0.35" vector-effect="non-scaling-stroke" opacity="0.7"/>
<line x1="339.70" y1="734.20" x2="339.70" y2="825.50" stroke="#EE8432" stroke-width="0.5" />
<rect x="336.60" y="762.80" width="6.20" height="37.90" fill="#F4AE78" stroke="#EE8432" stroke-width="0.6"/>
<line x1="336.60" y1="786.10" x2="342.80" y2="786.10" stroke="#EE8432" stroke-width="0.8" />
<defs><path id="v79" d="M0.3 760.7 0.3 763.2 0.3 765.6 0.3 768.1 0.3 770.5 0.3 773.0 0.4 775.5 0.9 777.9 1.5 780.4 2.3 782.9 3.2 785.3 4.2 787.8 5.2 790.2 6.3 792.7 7.2 795.2 8.1 797.6 8.7 800.1 9.2 802.5 9.3 805.0 9.2 806.1 9.1 807.2 8.7 808.3 8.3 809.4 7.7 810.5 7.0 811.6 6.2 812.7 5.4 813.8 4.6 814.9 3.8 815.9 3.1 817.0 2.4 818.1 1.8 819.2 1.3 820.3 0.8 821.4 0.5 822.5 0.3 823.6 0.3 824.7 -0.3 824.7 -0.3 823.6 -0.5 822.5 -0.8 821.4 -1.3 820.3 -1.8 819.2 -2.4 818.1 -3.1 817.0 -3.8 815.9 -4.6 814.9 -5.4 813.8 -6.2 812.7 -7.0 811.6 -7.7 810.5 -8.3 809.4 -8.7 808.3 -9.1 807.2 -9.2 806.1 -9.3 805.0 -9.2 802.5 -8.7 800.1 -8.1 797.6 -7.2 795.2 -6.3 792.7 -5.2 790.2 -4.2 787.8 -3.2 785.3 -2.3 782.9 -1.5 780.4 -0.9 777.9 -0.4 775.5 -0.3 773.0 -0.3 770.5 -0.3 768.1 -0.3 765.6 -0.3 763.2 -0.3 760.7Z"/></defs>
<use href="#v79" transform="translate(368.9 0)" fill="#D6E6F4" stroke="#4C96CE" stroke-width="0.75"/>
<use href="#v79" transform="translate(368.9 0) scale(0.55 1)" fill="none" stroke="#4C96CE" stroke-width="0.35" vector-effect="non-scaling-stroke" opacity="0.7"/>
<line x1="368.90" y1="760.70" x2="368.90" y2="824.70" stroke="#4C96CE" stroke-width="0.5" />
<rect x="365.80" y="790.50" width="6.20" height="18.10" fill="#8DBBE0" stroke="#4C96CE" stroke-width="0.6"/>
<line x1="365.80" y1="800.10" x2="372.00" y2="800.10" stroke="#4C96CE" stroke-width="0.8" />
<circle cx="368.9" cy="760.7" r="1.0" fill="#4C96CE"/>
<circle cx="368.9" cy="763.3" r="1.0" fill="#4C96CE"/>
<circle cx="368.9" cy="765.9" r="1.0" fill="#4C96CE"/>
<circle cx="368.9" cy="768.5" r="1.0" fill="#4C96CE"/>
<circle cx="368.9" cy="771.1" r="1.0" fill="#4C96CE"/>
<circle cx="368.9" cy="773.7" r="1.0" fill="#4C96CE"/>
<circle cx="368.9" cy="776.3" r="1.0" fill="#4C96CE"/>
<defs><path id="v80" d="M0.3 763.4 0.3 764.9 0.5 766.4 0.9 767.9 1.3 769.4 1.9 770.9 2.5 772.4 3.3 773.9 4.1 775.4 4.9 777.0 5.8 778.5 6.6 780.0 7.5 781.5 8.2 783.0 8.8 784.5 9.3 786.0 9.7 787.5 9.8 789.0 9.9 790.5 9.8 792.0 9.7 793.6 9.3 795.1 8.8 796.7 8.2 798.2 7.5 799.7 6.6 801.3 5.8 802.8 4.9 804.4 4.1 805.9 3.3 807.4 2.5 809.0 1.9 810.5 1.3 812.0 0.9 813.6 0.5 815.1 0.3 816.7 0.3 818.2 -0.3 818.2 -0.3 816.7 -0.5 815.1 -0.9 813.6 -1.3 812.0 -1.9 810.5 -2.5 809.0 -3.3 807.4 -4.1 805.9 -4.9 804.4 -5.8 802.8 -6.6 801.3 -7.5 799.7 -8.2 798.2 -8.8 796.7 -9.3 795.1 -9.7 793.6 -9.8 792.0 -9.9 790.5 -9.8 789.0 -9.7 787.5 -9.3 786.0 -8.8 784.5 -8.2 783.0 -7.5 781.5 -6.6 780.0 -5.8 778.5 -4.9 777.0 -4.1 775.4 -3.3 773.9 -2.5 772.4 -1.9 770.9 -1.3 769.4 -0.9 767.9 -0.5 766.4 -0.3 764.9 -0.3 763.4Z"/></defs>
<use href="#v80" transform="translate(390.2 0)" fill="#CDEBDF" stroke="#1E9C72" stroke-width="0.75"/>
<use href="#v80" transform="translate(390.2 0) scale(0.55 1)" fill="none" stroke="#1E9C72" stroke-width="0.35" vector-effect="non-scaling-stroke" opacity="0.7"/>
<line x1="390.20" y1="763.40" x2="390.20" y2="818.20" stroke="#1E9C72" stroke-width="0.5" />
<rect x="387.10" y="783.20" width="6.20" height="18.40" fill="#6EC0A2" stroke="#1E9C72" stroke-width="0.6"/>
<line x1="387.10" y1="792.80" x2="393.30" y2="792.80" stroke="#1E9C72" stroke-width="0.8" />
<defs><path id="v81" d="M1.5 777.4 2.1 778.3 2.7 779.1 3.5 780.0 4.3 780.8 5.2 781.7 6.1 782.5 7.0 783.4 7.9 784.2 8.6 785.1 9.3 786.0 9.9 786.8 10.3 787.7 10.6 788.5 10.9 789.4 11.0 790.2 11.1 791.1 11.1 791.9 11.1 792.8 11.1 793.8 11.1 794.8 11.0 795.8 10.9 796.8 10.6 797.9 10.3 798.9 9.9 799.9 9.3 800.9 8.6 801.9 7.9 802.9 7.0 803.9 6.1 804.9 5.2 805.9 4.3 807.0 3.5 808.0 2.7 809.0 2.1 810.0 1.5 811.0 -1.5 811.0 -2.1 810.0 -2.7 809.0 -3.5 808.0 -4.3 807.0 -5.2 805.9 -6.1 804.9 -7.0 803.9 -7.9 802.9 -8.6 801.9 -9.3 800.9 -9.9 799.9 -10.3 798.9 -10.6 797.9 -10.9 796.8 -11.0 795.8 -11.1 794.8 -11.1 793.8 -11.1 792.8 -11.1 791.9 -11.1 791.1 -11.0 790.2 -10.9 789.4 -10.6 788.5 -10.3 787.7 -9.9 786.8 -9.3 786.0 -8.6 785.1 -7.9 784.2 -7.0 783.4 -6.1 782.5 -5.2 781.7 -4.3 780.8 -3.5 780.0 -2.7 779.1 -2.1 778.3 -1.5 777.4Z"/></defs>
<use href="#v81" transform="translate(412.7 0)" fill="#FCEBB8" stroke="#F2AE12" stroke-width="0.75"/>
<use href="#v81" transform="translate(412.7 0) scale(0.55 1)" fill="none" stroke="#F2AE12" stroke-width="0.35" vector-effect="non-scaling-stroke" opacity="0.7"/>
<line x1="412.70" y1="777.40" x2="412.70" y2="811.00" stroke="#F2AE12" stroke-width="0.5" />
<rect x="409.60" y="786.10" width="6.20" height="15.50" fill="#F7CB5A" stroke="#F2AE12" stroke-width="0.6"/>
<line x1="409.60" y1="792.80" x2="415.80" y2="792.80" stroke="#F2AE12" stroke-width="0.8" />
<defs><path id="v82" d="M0.3 765.7 0.3 768.3 0.3 770.9 0.3 773.5 0.3 776.1 0.3 778.7 0.3 781.3 0.3 783.9 0.3 786.5 0.7 789.0 1.6 791.6 2.6 794.2 3.9 796.8 5.3 799.4 6.8 802.0 8.2 804.6 9.5 807.2 10.4 809.8 10.8 812.4 10.7 813.1 10.5 813.8 10.2 814.5 9.6 815.2 8.9 815.9 8.1 816.6 7.2 817.3 6.3 818.0 5.3 818.7 4.4 819.4 3.6 820.1 2.8 820.8 2.1 821.5 1.5 822.2 1.0 822.9 0.6 823.6 0.3 824.3 0.3 825.0 -0.3 825.0 -0.3 824.3 -0.6 823.6 -1.0 822.9 -1.5 822.2 -2.1 821.5 -2.8 820.8 -3.6 820.1 -4.4 819.4 -5.3 818.7 -6.3 818.0 -7.2 817.3 -8.1 816.6 -8.9 815.9 -9.6 815.2 -10.2 814.5 -10.5 813.8 -10.7 813.1 -10.8 812.4 -10.4 809.8 -9.5 807.2 -8.2 804.6 -6.8 802.0 -5.3 799.4 -3.9 796.8 -2.6 794.2 -1.6 791.6 -0.7 789.0 -0.3 786.5 -0.3 783.9 -0.3 781.3 -0.3 778.7 -0.3 776.1 -0.3 773.5 -0.3 770.9 -0.3 768.3 -0.3 765.7Z"/></defs>
<use href="#v82" transform="translate(434.0 0)" fill="#FADCC4" stroke="#EE8432" stroke-width="0.75"/>
<use href="#v82" transform="translate(434.0 0) scale(0.55 1)" fill="none" stroke="#EE8432" stroke-width="0.35" vector-effect="non-scaling-stroke" opacity="0.7"/>
<line x1="434.00" y1="765.70" x2="434.00" y2="825.00" stroke="#EE8432" stroke-width="0.5" />
<rect x="430.90" y="789.00" width="6.20" height="25.50" fill="#F4AE78" stroke="#EE8432" stroke-width="0.6"/>
<line x1="430.90" y1="808.00" x2="437.10" y2="808.00" stroke="#EE8432" stroke-width="0.8" />
<circle cx="434.0" cy="765.7" r="1.0" fill="#EE8432"/>
<circle cx="434.0" cy="768.3" r="1.0" fill="#EE8432"/>
<circle cx="434.0" cy="770.9" r="1.0" fill="#EE8432"/>
<defs><path id="v83" d="M0.3 759.9 0.3 762.0 0.3 764.1 0.3 766.2 0.3 768.3 0.3 770.4 0.3 772.5 0.3 774.6 0.3 776.7 0.6 778.8 1.3 781.0 2.1 783.1 3.2 785.2 4.3 787.3 5.5 789.4 6.7 791.5 7.7 793.6 8.5 795.7 8.8 797.8 8.7 799.3 8.3 800.9 7.7 802.4 6.9 804.0 5.9 805.5 5.0 807.0 4.0 808.6 3.0 810.1 2.2 811.6 1.5 813.2 0.8 814.7 0.3 816.3 0.3 817.8 0.3 819.3 0.3 820.9 0.3 822.4 0.3 824.0 0.3 825.5 -0.3 825.5 -0.3 824.0 -0.3 822.4 -0.3 820.9 -0.3 819.3 -0.3 817.8 -0.3 816.3 -0.8 814.7 -1.5 813.2 -2.2 811.6 -3.0 810.1 -4.0 808.6 -5.0 807.0 -5.9 805.5 -6.9 804.0 -7.7 802.4 -8.3 800.9 -8.7 799.3 -8.8 797.8 -8.5 795.7 -7.7 793.6 -6.7 791.5 -5.5 789.4 -4.3 787.3 -3.2 785.2 -2.1 783.1 -1.3 781.0 -0.6 778.8 -0.3 776.7 -0.3 774.6 -0.3 772.5 -0.3 770.4 -0.3 768.3 -0.3 766.2 -0.3 764.1 -0.3 762.0 -0.3 759.9Z"/></defs>
<use href="#v83" transform="translate(464.0 0)" fill="#D6E6F4" stroke="#4C96CE" stroke-width="0.75"/>
<use href="#v83" transform="translate(464.0 0) scale(0.55 1)" fill="none" stroke="#4C96CE" stroke-width="0.35" vector-effect="non-scaling-stroke" opacity="0.7"/>
<line x1="464.00" y1="759.90" x2="464.00" y2="825.50" stroke="#4C96CE" stroke-width="0.5" />
<rect x="460.90" y="789.60" width="6.20" height="14.60" fill="#8DBBE0" stroke="#4C96CE" stroke-width="0.6"/>
<line x1="460.90" y1="797.20" x2="467.10" y2="797.20" stroke="#4C96CE" stroke-width="0.8" />
<circle cx="464.0" cy="759.9" r="1.0" fill="#4C96CE"/>
<circle cx="464.0" cy="762.5" r="1.0" fill="#4C96CE"/>
<circle cx="464.0" cy="765.1" r="1.0" fill="#4C96CE"/>
<circle cx="464.0" cy="767.7" r="1.0" fill="#4C96CE"/>
<circle cx="464.0" cy="770.3" r="1.0" fill="#4C96CE"/>
<circle cx="464.0" cy="772.9" r="1.0" fill="#4C96CE"/>
<circle cx="464.0" cy="825.5" r="1.0" fill="#4C96CE"/>
<circle cx="464.0" cy="822.9" r="1.0" fill="#4C96CE"/>
<circle cx="464.0" cy="820.3" r="1.0" fill="#4C96CE"/>
<circle cx="464.0" cy="817.7" r="1.0" fill="#4C96CE"/>
<defs><path id="v84" d="M0.3 764.8 0.3 766.4 0.3 768.0 0.3 769.6 0.3 771.2 0.3 772.7 0.3 774.3 0.8 775.9 1.5 777.5 2.2 779.1 3.0 780.7 4.0 782.3 5.0 783.9 5.9 785.5 6.9 787.0 7.7 788.6 8.3 790.2 8.7 791.8 8.8 793.4 8.8 794.7 8.6 796.0 8.3 797.3 7.8 798.6 7.3 799.9 6.6 801.2 5.9 802.5 5.1 803.8 4.4 805.1 3.6 806.4 2.9 807.7 2.2 809.0 1.7 810.3 1.2 811.6 0.8 812.9 0.5 814.2 0.3 815.5 0.3 816.8 -0.3 816.8 -0.3 815.5 -0.5 814.2 -0.8 812.9 -1.2 811.6 -1.7 810.3 -2.2 809.0 -2.9 807.7 -3.6 806.4 -4.4 805.1 -5.1 803.8 -5.9 802.5 -6.6 801.2 -7.3 799.9 -7.8 798.6 -8.3 797.3 -8.6 796.0 -8.8 794.7 -8.8 793.4 -8.7 791.8 -8.3 790.2 -7.7 788.6 -6.9 787.0 -5.9 785.5 -5.0 783.9 -4.0 782.3 -3.0 780.7 -2.2 779.1 -1.5 777.5 -0.8 775.9 -0.3 774.3 -0.3 772.7 -0.3 771.2 -0.3 769.6 -0.3 768.0 -0.3 766.4 -0.3 764.8Z"/></defs>
<use href="#v84" transform="translate(485.9 0)" fill="#CDEBDF" stroke="#1E9C72" stroke-width="0.75"/>
<use href="#v84" transform="translate(485.9 0) scale(0.55 1)" fill="none" stroke="#1E9C72" stroke-width="0.35" vector-effect="non-scaling-stroke" opacity="0.7"/>
<line x1="485.90" y1="764.80" x2="485.90" y2="816.80" stroke="#1E9C72" stroke-width="0.5" />
<rect x="482.80" y="786.10" width="6.20" height="17.50" fill="#6EC0A2" stroke="#1E9C72" stroke-width="0.6"/>
<line x1="482.80" y1="792.80" x2="489.00" y2="792.80" stroke="#1E9C72" stroke-width="0.8" />
<circle cx="485.9" cy="764.8" r="1.0" fill="#1E9C72"/>
<circle cx="485.9" cy="767.4" r="1.0" fill="#1E9C72"/>
<circle cx="485.9" cy="770.0" r="1.0" fill="#1E9C72"/>
<defs><path id="v85" d="M4.2 783.2 4.5 783.6 4.9 784.0 5.3 784.3 5.7 784.7 6.1 785.1 6.4 785.5 6.8 785.8 7.1 786.2 7.4 786.6 7.6 787.0 7.9 787.4 8.0 787.7 8.2 788.1 8.3 788.5 8.4 788.9 8.5 789.2 8.5 789.6 8.5 790.0 8.5 791.4 8.5 792.8 8.4 794.2 8.3 795.6 8.1 797.0 7.9 798.4 7.6 799.8 7.1 801.2 6.6 802.6 6.0 804.1 5.4 805.5 4.7 806.9 4.0 808.3 3.3 809.7 2.7 811.1 2.1 812.5 1.6 813.9 1.2 815.3 -1.2 815.3 -1.6 813.9 -2.1 812.5 -2.7 811.1 -3.3 809.7 -4.0 808.3 -4.7 806.9 -5.4 805.5 -6.0 804.1 -6.6 802.6 -7.1 801.2 -7.6 799.8 -7.9 798.4 -8.1 797.0 -8.3 795.6 -8.4 794.2 -8.5 792.8 -8.5 791.4 -8.5 790.0 -8.5 789.6 -8.5 789.2 -8.4 788.9 -8.3 788.5 -8.2 788.1 -8.0 787.7 -7.9 787.4 -7.6 787.0 -7.4 786.6 -7.1 786.2 -6.8 785.8 -6.4 785.5 -6.1 785.1 -5.7 784.7 -5.3 784.3 -4.9 784.0 -4.5 783.6 -4.2 783.2Z"/></defs>
<use href="#v85" transform="translate(507.2 0)" fill="#FCEBB8" stroke="#F2AE12" stroke-width="0.75"/>
<use href="#v85" transform="translate(507.2 0) scale(0.55 1)" fill="none" stroke="#F2AE12" stroke-width="0.35" vector-effect="non-scaling-stroke" opacity="0.7"/>
<line x1="507.20" y1="783.20" x2="507.20" y2="815.30" stroke="#F2AE12" stroke-width="0.5" />
<rect x="504.10" y="789.00" width="6.20" height="13.80" fill="#F7CB5A" stroke="#F2AE12" stroke-width="0.6"/>
<line x1="504.10" y1="795.80" x2="510.30" y2="795.80" stroke="#F2AE12" stroke-width="0.8" />
<defs><path id="v86" d="M0.3 780.3 0.3 781.6 0.6 782.9 1.0 784.2 1.5 785.5 2.1 786.8 2.8 788.1 3.6 789.4 4.4 790.7 5.3 792.0 6.3 793.2 7.2 794.5 8.1 795.8 8.9 797.1 9.6 798.4 10.2 799.7 10.5 801.0 10.7 802.3 10.8 803.6 10.7 804.5 10.5 805.5 10.2 806.4 9.6 807.3 8.9 808.2 8.1 809.2 7.2 810.1 6.3 811.0 5.3 812.0 4.4 812.9 3.6 813.8 2.8 814.7 2.1 815.7 1.5 816.6 1.0 817.5 0.6 818.4 0.3 819.4 0.3 820.3 -0.3 820.3 -0.3 819.4 -0.6 818.4 -1.0 817.5 -1.5 816.6 -2.1 815.7 -2.8 814.7 -3.6 813.8 -4.4 812.9 -5.3 812.0 -6.3 811.0 -7.2 810.1 -8.1 809.2 -8.9 808.2 -9.6 807.3 -10.2 806.4 -10.5 805.5 -10.7 804.5 -10.8 803.6 -10.7 802.3 -10.5 801.0 -10.2 799.7 -9.6 798.4 -8.9 797.1 -8.1 795.8 -7.2 794.5 -6.3 793.2 -5.3 792.0 -4.4 790.7 -3.6 789.4 -2.8 788.1 -2.1 786.8 -1.5 785.5 -1.0 784.2 -0.6 782.9 -0.3 781.6 -0.3 780.3Z"/></defs>
<use href="#v86" transform="translate(529.1 0)" fill="#FADCC4" stroke="#EE8432" stroke-width="0.75"/>
<use href="#v86" transform="translate(529.1 0) scale(0.55 1)" fill="none" stroke="#EE8432" stroke-width="0.35" vector-effect="non-scaling-stroke" opacity="0.7"/>
<line x1="529.10" y1="780.30" x2="529.10" y2="820.30" stroke="#EE8432" stroke-width="0.5" />
<rect x="526.00" y="792.00" width="6.20" height="16.60" fill="#F4AE78" stroke="#EE8432" stroke-width="0.6"/>
<line x1="526.00" y1="802.20" x2="532.20" y2="802.20" stroke="#EE8432" stroke-width="0.8" />
<defs><path id="v87" d="M0.3 749.0 0.3 751.7 0.3 754.4 0.3 757.1 0.3 759.8 0.3 762.6 0.4 765.3 1.1 768.0 1.8 770.7 2.8 773.4 3.8 776.1 5.0 778.8 6.2 781.5 7.5 784.2 8.6 787.0 9.7 789.7 10.4 792.4 10.9 795.1 11.1 797.8 11.0 799.2 10.8 800.6 10.4 801.9 9.9 803.3 9.2 804.7 8.4 806.1 7.4 807.4 6.5 808.8 5.5 810.2 4.5 811.6 3.6 813.0 2.8 814.3 2.1 815.7 1.5 817.1 1.0 818.5 0.6 819.8 0.3 821.2 0.3 822.6 -0.3 822.6 -0.3 821.2 -0.6 819.8 -1.0 818.5 -1.5 817.1 -2.1 815.7 -2.8 814.3 -3.6 813.0 -4.5 811.6 -5.5 810.2 -6.5 808.8 -7.4 807.4 -8.4 806.1 -9.2 804.7 -9.9 803.3 -10.4 801.9 -10.8 800.6 -11.0 799.2 -11.1 797.8 -10.9 795.1 -10.4 792.4 -9.7 789.7 -8.6 787.0 -7.5 784.2 -6.2 781.5 -5.0 778.8 -3.8 776.1 -2.8 773.4 -1.8 770.7 -1.1 768.0 -0.4 765.3 -0.3 762.6 -0.3 759.8 -0.3 757.1 -0.3 754.4 -0.3 751.7 -0.3 749.0Z"/></defs>
<use href="#v87" transform="translate(558.9 0)" fill="#D6E6F4" stroke="#4C96CE" stroke-width="0.75"/>
<use href="#v87" transform="translate(558.9 0) scale(0.55 1)" fill="none" stroke="#4C96CE" stroke-width="0.35" vector-effect="non-scaling-stroke" opacity="0.7"/>
<line x1="558.90" y1="749.00" x2="558.90" y2="822.60" stroke="#4C96CE" stroke-width="0.5" />
<rect x="555.80" y="781.80" width="6.20" height="18.30" fill="#8DBBE0" stroke="#4C96CE" stroke-width="0.6"/>
<line x1="555.80" y1="792.80" x2="562.00" y2="792.80" stroke="#4C96CE" stroke-width="0.8" />
<circle cx="558.9" cy="749.0" r="1.0" fill="#4C96CE"/>
<circle cx="558.9" cy="751.6" r="1.0" fill="#4C96CE"/>
<circle cx="558.9" cy="754.2" r="1.0" fill="#4C96CE"/>
<circle cx="558.9" cy="756.8" r="1.0" fill="#4C96CE"/>
<circle cx="558.9" cy="759.4" r="1.0" fill="#4C96CE"/>
<circle cx="558.9" cy="762.0" r="1.0" fill="#4C96CE"/>
<circle cx="558.9" cy="764.6" r="1.0" fill="#4C96CE"/>
<circle cx="558.9" cy="767.2" r="1.0" fill="#4C96CE"/>
<defs><path id="v88" d="M0.3 757.8 0.3 759.8 0.3 761.8 0.3 763.7 0.3 765.7 0.3 767.7 0.4 769.7 0.9 771.6 1.6 773.6 2.5 775.6 3.4 777.6 4.5 779.6 5.6 781.5 6.7 783.5 7.7 785.5 8.6 787.5 9.3 789.4 9.7 791.4 9.9 793.4 9.8 794.7 9.7 796.1 9.3 797.4 8.8 798.7 8.2 800.1 7.5 801.4 6.6 802.7 5.8 804.1 4.9 805.4 4.1 806.7 3.3 808.1 2.5 809.4 1.9 810.7 1.3 812.1 0.9 813.4 0.5 814.7 0.3 816.1 0.3 817.4 -0.3 817.4 -0.3 816.1 -0.5 814.7 -0.9 813.4 -1.3 812.1 -1.9 810.7 -2.5 809.4 -3.3 808.1 -4.1 806.7 -4.9 805.4 -5.8 804.1 -6.6 802.7 -7.5 801.4 -8.2 800.1 -8.8 798.7 -9.3 797.4 -9.7 796.1 -9.8 794.7 -9.9 793.4 -9.7 791.4 -9.3 789.4 -8.6 787.5 -7.7 785.5 -6.7 783.5 -5.6 781.5 -4.5 779.6 -3.4 777.6 -2.5 775.6 -1.6 773.6 -0.9 771.6 -0.4 769.7 -0.3 767.7 -0.3 765.7 -0.3 763.7 -0.3 761.8 -0.3 759.8 -0.3 757.8Z"/></defs>
<use href="#v88" transform="translate(580.2 0)" fill="#CDEBDF" stroke="#1E9C72" stroke-width="0.75"/>
<use href="#v88" transform="translate(580.2 0) scale(0.55 1)" fill="none" stroke="#1E9C72" stroke-width="0.35" vector-effect="non-scaling-stroke" opacity="0.7"/>
<line x1="580.20" y1="757.80" x2="580.20" y2="817.40" stroke="#1E9C72" stroke-width="0.5" />
<rect x="577.10" y="782.60" width="6.20" height="19.00" fill="#6EC0A2" stroke="#1E9C72" stroke-width="0.6"/>
<line x1="577.10" y1="792.80" x2="583.30" y2="792.80" stroke="#1E9C72" stroke-width="0.8" />
<circle cx="580.2" cy="757.8" r="1.0" fill="#1E9C72"/>
<circle cx="580.2" cy="760.4" r="1.0" fill="#1E9C72"/>
<circle cx="580.2" cy="763.0" r="1.0" fill="#1E9C72"/>
<defs><path id="v89" d="M0.3 759.9 0.3 761.9 0.3 764.0 0.3 766.0 0.3 768.0 0.3 770.0 0.5 772.1 1.1 774.1 1.9 776.1 2.9 778.1 4.0 780.2 5.3 782.2 6.6 784.2 7.9 786.3 9.1 788.3 10.2 790.3 11.0 792.3 11.5 794.4 11.7 796.4 11.7 797.1 11.7 797.8 11.6 798.4 11.4 799.1 11.2 799.8 10.9 800.5 10.4 801.1 9.8 801.8 9.1 802.5 8.3 803.2 7.4 803.9 6.5 804.5 5.5 805.2 4.6 805.9 3.7 806.6 2.9 807.2 2.2 807.9 1.6 808.6 -1.6 808.6 -2.2 807.9 -2.9 807.2 -3.7 806.6 -4.6 805.9 -5.5 805.2 -6.5 804.5 -7.4 803.9 -8.3 803.2 -9.1 802.5 -9.8 801.8 -10.4 801.1 -10.9 800.5 -11.2 799.8 -11.4 799.1 -11.6 798.4 -11.7 797.8 -11.7 797.1 -11.7 796.4 -11.5 794.4 -11.0 792.3 -10.2 790.3 -9.1 788.3 -7.9 786.3 -6.6 784.2 -5.3 782.2 -4.0 780.2 -2.9 778.1 -1.9 776.1 -1.1 774.1 -0.5 772.1 -0.3 770.0 -0.3 768.0 -0.3 766.0 -0.3 764.0 -0.3 761.9 -0.3 759.9Z"/></defs>
<use href="#v89" transform="translate(602.1 0)" fill="#FCEBB8" stroke="#F2AE12" stroke-width="0.75"/>
<use href="#v89" transform="translate(602.1 0) scale(0.55 1)" fill="none" stroke="#F2AE12" stroke-width="0.35" vector-effect="non-scaling-stroke" opacity="0.7"/>
<line x1="602.10" y1="759.90" x2="602.10" y2="808.60" stroke="#F2AE12" stroke-width="0.5" />
<rect x="599.00" y="780.30" width="6.20" height="17.50" fill="#F7CB5A" stroke="#F2AE12" stroke-width="0.6"/>
<line x1="599.00" y1="791.10" x2="605.20" y2="791.10" stroke="#F2AE12" stroke-width="0.8" />
<circle cx="602.1" cy="759.9" r="1.0" fill="#F2AE12"/>
<circle cx="602.1" cy="762.5" r="1.0" fill="#F2AE12"/>
<circle cx="602.1" cy="765.1" r="1.0" fill="#F2AE12"/>
<defs><path id="v90" d="M1.2 756.9 2.1 758.8 3.2 760.8 4.1 762.7 4.6 764.7 4.4 766.6 3.5 768.6 2.5 770.5 1.5 772.5 0.8 774.4 1.0 776.4 1.5 778.3 2.0 780.2 2.5 782.2 3.1 784.1 3.8 786.1 4.4 788.0 5.1 790.0 5.7 791.9 6.3 793.9 6.9 795.8 7.3 797.8 7.6 799.7 7.8 801.7 7.9 803.6 7.9 804.4 7.8 805.2 7.6 806.1 7.4 806.9 7.1 807.7 6.8 808.5 6.4 809.3 5.9 810.1 5.5 811.0 5.0 811.8 4.4 812.6 3.9 813.4 3.4 814.2 2.9 815.0 2.4 815.9 2.0 816.7 1.6 817.5 1.3 818.3 1.0 819.1 0.7 819.9 0.5 820.8 0.3 821.6 0.3 822.4 0.3 823.2 -0.3 823.2 -0.3 822.4 -0.3 821.6 -0.5 820.8 -0.7 819.9 -1.0 819.1 -1.3 818.3 -1.6 817.5 -2.0 816.7 -2.4 815.9 -2.9 815.0 -3.4 814.2 -3.9 813.4 -4.4 812.6 -5.0 811.8 -5.5 811.0 -5.9 810.1 -6.4 809.3 -6.8 808.5 -7.1 807.7 -7.4 806.9 -7.6 806.1 -7.8 805.2 -7.9 804.4 -7.9 803.6 -7.8 801.7 -7.6 799.7 -7.3 797.8 -6.9 795.8 -6.3 793.9 -5.7 791.9 -5.1 790.0 -4.4 788.0 -3.8 786.1 -3.1 784.1 -2.5 782.2 -2.0 780.2 -1.5 778.3 -1.0 776.4 -0.8 774.4 -1.5 772.5 -2.5 770.5 -3.5 768.6 -4.4 766.6 -4.6 764.7 -4.1 762.7 -3.2 760.8 -2.1 758.8 -1.2 756.9Z"/></defs>
<use href="#v90" transform="translate(624.0 0)" fill="#FADCC4" stroke="#EE8432" stroke-width="0.75"/>
<use href="#v90" transform="translate(624.0 0) scale(0.55 1)" fill="none" stroke="#EE8432" stroke-width="0.35" vector-effect="non-scaling-stroke" opacity="0.7"/>
<line x1="624.00" y1="756.90" x2="624.00" y2="823.20" stroke="#EE8432" stroke-width="0.5" />
<rect x="620.90" y="775.90" width="6.20" height="31.50" fill="#F4AE78" stroke="#EE8432" stroke-width="0.6"/>
<line x1="620.90" y1="799.30" x2="627.10" y2="799.30" stroke="#EE8432" stroke-width="0.8" />
<circle cx="624.0" cy="756.9" r="1.0" fill="#EE8432"/>
<circle cx="624.0" cy="759.5" r="1.0" fill="#EE8432"/>
<circle cx="624.0" cy="762.1" r="1.0" fill="#EE8432"/>
<defs><path id="v91" d="M0.3 939.2 0.3 940.5 0.3 941.9 0.3 943.2 0.3 944.6 0.3 945.9 0.4 947.3 0.9 948.6 1.5 950.0 2.2 951.3 3.1 952.6 4.1 954.0 5.1 955.3 6.1 956.7 7.0 958.0 7.8 959.4 8.5 960.7 8.9 962.1 9.0 963.4 8.7 965.3 7.9 967.1 6.8 969.0 5.6 970.9 4.4 972.7 3.2 974.6 2.2 976.5 1.3 978.3 0.6 980.2 0.3 982.1 0.3 983.9 0.3 985.8 0.3 987.7 0.3 989.5 0.3 991.4 0.3 993.3 0.3 995.1 0.3 997.0 -0.3 997.0 -0.3 995.1 -0.3 993.3 -0.3 991.4 -0.3 989.5 -0.3 987.7 -0.3 985.8 -0.3 983.9 -0.3 982.1 -0.6 980.2 -1.3 978.3 -2.2 976.5 -3.2 974.6 -4.4 972.7 -5.6 970.9 -6.8 969.0 -7.9 967.1 -8.7 965.3 -9.0 963.4 -8.9 962.1 -8.5 960.7 -7.8 959.4 -7.0 958.0 -6.1 956.7 -5.1 955.3 -4.1 954.0 -3.1 952.6 -2.2 951.3 -1.5 950.0 -0.9 948.6 -0.4 947.3 -0.3 945.9 -0.3 944.6 -0.3 943.2 -0.3 941.9 -0.3 940.5 -0.3 939.2Z"/></defs>
<use href="#v91" transform="translate(86.0 0)" fill="#D6E6F4" stroke="#4C96CE" stroke-width="0.75"/>
<use href="#v91" transform="translate(86.0 0) scale(0.55 1)" fill="none" stroke="#4C96CE" stroke-width="0.35" vector-effect="non-scaling-stroke" opacity="0.7"/>
<line x1="86.00" y1="939.20" x2="86.00" y2="997.00" stroke="#4C96CE" stroke-width="0.5" />
<rect x="82.90" y="957.60" width="6.20" height="10.20" fill="#8DBBE0" stroke="#4C96CE" stroke-width="0.6"/>
<line x1="82.90" y1="962.00" x2="89.10" y2="962.00" stroke="#4C96CE" stroke-width="0.8" />
<circle cx="86.0" cy="939.2" r="1.0" fill="#4C96CE"/>
<circle cx="86.0" cy="941.8" r="1.0" fill="#4C96CE"/>
<circle cx="86.0" cy="944.4" r="1.0" fill="#4C96CE"/>
<circle cx="86.0" cy="947.0" r="1.0" fill="#4C96CE"/>
<circle cx="86.0" cy="997.0" r="1.0" fill="#4C96CE"/>
<circle cx="86.0" cy="994.4" r="1.0" fill="#4C96CE"/>
<circle cx="86.0" cy="991.8" r="1.0" fill="#4C96CE"/>
<circle cx="86.0" cy="989.2" r="1.0" fill="#4C96CE"/>
<defs><path id="v92" d="M0.3 948.2 0.3 949.0 0.5 949.7 0.8 950.5 1.2 951.3 1.7 952.0 2.3 952.8 3.0 953.6 3.7 954.3 4.5 955.1 5.3 955.9 6.0 956.6 6.8 957.4 7.4 958.2 8.0 958.9 8.5 959.7 8.8 960.5 9.0 961.2 9.0 962.0 8.7 963.5 7.9 965.1 6.8 966.6 5.6 968.2 4.4 969.7 3.2 971.2 2.2 972.8 1.3 974.3 0.6 975.9 0.3 977.4 0.3 978.9 0.3 980.5 0.3 982.0 0.3 983.5 0.3 985.1 0.3 986.6 0.3 988.2 0.3 989.7 -0.3 989.7 -0.3 988.2 -0.3 986.6 -0.3 985.1 -0.3 983.5 -0.3 982.0 -0.3 980.5 -0.3 978.9 -0.3 977.4 -0.6 975.9 -1.3 974.3 -2.2 972.8 -3.2 971.2 -4.4 969.7 -5.6 968.2 -6.8 966.6 -7.9 965.1 -8.7 963.5 -9.0 962.0 -9.0 961.2 -8.8 960.5 -8.5 959.7 -8.0 958.9 -7.4 958.2 -6.8 957.4 -6.0 956.6 -5.3 955.9 -4.5 955.1 -3.7 954.3 -3.0 953.6 -2.3 952.8 -1.7 952.0 -1.2 951.3 -0.8 950.5 -0.5 949.7 -0.3 949.0 -0.3 948.2Z"/></defs>
<use href="#v92" transform="translate(107.9 0)" fill="#CDEBDF" stroke="#1E9C72" stroke-width="0.75"/>
<use href="#v92" transform="translate(107.9 0) scale(0.55 1)" fill="none" stroke="#1E9C72" stroke-width="0.35" vector-effect="non-scaling-stroke" opacity="0.7"/>
<line x1="107.90" y1="948.20" x2="107.90" y2="989.70" stroke="#1E9C72" stroke-width="0.5" />
<rect x="104.80" y="958.20" width="6.20" height="7.60" fill="#6EC0A2" stroke="#1E9C72" stroke-width="0.6"/>
<line x1="104.80" y1="961.10" x2="111.00" y2="961.10" stroke="#1E9C72" stroke-width="0.8" />
<circle cx="107.9" cy="989.7" r="1.0" fill="#1E9C72"/>
<circle cx="107.9" cy="987.1" r="1.0" fill="#1E9C72"/>
<defs><path id="v93" d="M1.2 944.5 1.5 944.9 1.9 945.3 2.3 945.7 2.7 946.1 3.2 946.5 3.6 946.9 4.0 947.3 4.4 947.7 4.7 948.1 5.0 948.6 5.3 949.0 5.5 949.4 5.6 949.8 5.7 950.2 5.8 950.6 5.8 951.0 5.8 951.4 5.8 951.8 5.8 954.4 5.7 956.9 5.5 959.5 5.2 962.0 4.8 964.6 4.4 967.2 3.9 969.7 3.4 972.3 2.9 974.8 2.4 977.4 1.9 980.0 1.5 982.5 1.1 985.1 0.8 987.7 0.5 990.2 0.3 992.8 0.3 995.3 0.3 997.9 -0.3 997.9 -0.3 995.3 -0.3 992.8 -0.5 990.2 -0.8 987.7 -1.1 985.1 -1.5 982.5 -1.9 980.0 -2.4 977.4 -2.9 974.8 -3.4 972.3 -3.9 969.7 -4.4 967.2 -4.8 964.6 -5.2 962.0 -5.5 959.5 -5.7 956.9 -5.8 954.4 -5.8 951.8 -5.8 951.4 -5.8 951.0 -5.8 950.6 -5.7 950.2 -5.6 949.8 -5.5 949.4 -5.3 949.0 -5.0 948.6 -4.7 948.1 -4.4 947.7 -4.0 947.3 -3.6 946.9 -3.2 946.5 -2.7 946.1 -2.3 945.7 -1.9 945.3 -1.5 944.9 -1.2 944.5Z"/></defs>
<use href="#v93" transform="translate(129.2 0)" fill="#FCEBB8" stroke="#F2AE12" stroke-width="0.75"/>
<use href="#v93" transform="translate(129.2 0) scale(0.55 1)" fill="none" stroke="#F2AE12" stroke-width="0.35" vector-effect="non-scaling-stroke" opacity="0.7"/>
<line x1="129.20" y1="944.50" x2="129.20" y2="997.90" stroke="#F2AE12" stroke-width="0.5" />
<rect x="126.10" y="953.20" width="6.20" height="16.10" fill="#F7CB5A" stroke="#F2AE12" stroke-width="0.6"/>
<line x1="126.10" y1="958.20" x2="132.30" y2="958.20" stroke="#F2AE12" stroke-width="0.8" />
<defs><path id="v94" d="M0.3 946.5 0.3 947.5 0.3 948.4 0.3 949.4 0.3 950.4 0.3 951.4 0.3 952.3 0.3 953.3 0.3 954.3 0.7 955.2 1.5 956.2 2.5 957.2 3.7 958.2 5.0 959.1 6.4 960.1 7.7 961.1 8.9 962.1 9.8 963.0 10.2 964.0 9.3 965.8 7.7 967.7 6.0 969.5 4.2 971.3 2.7 973.2 1.5 975.0 0.6 976.8 0.3 978.7 0.3 980.5 0.3 982.3 0.3 984.2 0.3 986.0 0.3 987.8 0.3 989.7 0.3 991.5 0.3 993.3 0.3 995.2 0.3 997.0 -0.3 997.0 -0.3 995.2 -0.3 993.3 -0.3 991.5 -0.3 989.7 -0.3 987.8 -0.3 986.0 -0.3 984.2 -0.3 982.3 -0.3 980.5 -0.3 978.7 -0.6 976.8 -1.5 975.0 -2.7 973.2 -4.2 971.3 -6.0 969.5 -7.7 967.7 -9.3 965.8 -10.2 964.0 -9.8 963.0 -8.9 962.1 -7.7 961.1 -6.4 960.1 -5.0 959.1 -3.7 958.2 -2.5 957.2 -1.5 956.2 -0.7 955.2 -0.3 954.3 -0.3 953.3 -0.3 952.3 -0.3 951.4 -0.3 950.4 -0.3 949.4 -0.3 948.4 -0.3 947.5 -0.3 946.5Z"/></defs>
<use href="#v94" transform="translate(151.1 0)" fill="#FADCC4" stroke="#EE8432" stroke-width="0.75"/>
<use href="#v94" transform="translate(151.1 0) scale(0.55 1)" fill="none" stroke="#EE8432" stroke-width="0.35" vector-effect="non-scaling-stroke" opacity="0.7"/>
<line x1="151.10" y1="946.50" x2="151.10" y2="997.00" stroke="#EE8432" stroke-width="0.5" />
<rect x="148.00" y="959.00" width="6.20" height="8.80" fill="#F4AE78" stroke="#EE8432" stroke-width="0.6"/>
<line x1="148.00" y1="963.40" x2="154.20" y2="963.40" stroke="#EE8432" stroke-width="0.8" />
<circle cx="151.1" cy="946.5" r="1.0" fill="#EE8432"/>
<circle cx="151.1" cy="949.1" r="1.0" fill="#EE8432"/>
<circle cx="151.1" cy="997.0" r="1.0" fill="#EE8432"/>
<circle cx="151.1" cy="994.4" r="1.0" fill="#EE8432"/>
<defs><path id="v95" d="M0.3 952.6 0.3 953.3 0.3 954.0 0.3 954.6 0.3 955.3 0.3 956.0 0.3 956.7 0.7 957.4 1.2 958.1 1.8 958.8 2.5 959.4 3.3 960.1 4.1 960.8 4.9 961.5 5.7 962.2 6.3 962.9 6.9 963.5 7.2 964.2 7.3 964.9 7.0 966.0 6.4 967.0 5.5 968.1 4.6 969.1 3.6 970.2 2.6 971.2 1.8 972.3 1.1 973.3 0.5 974.4 0.3 975.5 0.3 976.5 0.3 977.6 0.3 978.6 0.3 979.7 0.3 980.7 0.3 981.8 0.3 982.8 0.3 983.9 -0.3 983.9 -0.3 982.8 -0.3 981.8 -0.3 980.7 -0.3 979.7 -0.3 978.6 -0.3 977.6 -0.3 976.5 -0.3 975.5 -0.5 974.4 -1.1 973.3 -1.8 972.3 -2.6 971.2 -3.6 970.2 -4.6 969.1 -5.5 968.1 -6.4 967.0 -7.0 966.0 -7.3 964.9 -7.2 964.2 -6.9 963.5 -6.3 962.9 -5.7 962.2 -4.9 961.5 -4.1 960.8 -3.3 960.1 -2.5 959.4 -1.8 958.8 -1.2 958.1 -0.7 957.4 -0.3 956.7 -0.3 956.0 -0.3 955.3 -0.3 954.6 -0.3 954.0 -0.3 953.3 -0.3 952.6Z"/></defs>
<use href="#v95" transform="translate(180.3 0)" fill="#D6E6F4" stroke="#4C96CE" stroke-width="0.75"/>
<use href="#v95" transform="translate(180.3 0) scale(0.55 1)" fill="none" stroke="#4C96CE" stroke-width="0.35" vector-effect="non-scaling-stroke" opacity="0.7"/>
<line x1="180.30" y1="952.60" x2="180.30" y2="983.90" stroke="#4C96CE" stroke-width="0.5" />
<rect x="177.20" y="962.80" width="6.20" height="4.20" fill="#8DBBE0" stroke="#4C96CE" stroke-width="0.6"/>
<line x1="177.20" y1="965.00" x2="183.40" y2="965.00" stroke="#4C96CE" stroke-width="0.8" />
<circle cx="180.3" cy="952.6" r="1.0" fill="#4C96CE"/>
<circle cx="180.3" cy="955.2" r="1.0" fill="#4C96CE"/>
<circle cx="180.3" cy="983.9" r="1.0" fill="#4C96CE"/>
<circle cx="180.3" cy="981.3" r="1.0" fill="#4C96CE"/>
<circle cx="180.3" cy="978.7" r="1.0" fill="#4C96CE"/>
<defs><path id="v96" d="M0.3 958.2 0.3 958.5 0.3 958.8 0.6 959.2 0.9 959.5 1.3 959.8 1.7 960.1 2.2 960.5 2.7 960.8 3.3 961.1 3.9 961.4 4.5 961.7 5.0 962.1 5.5 962.4 6.0 962.7 6.3 963.0 6.5 963.4 6.7 963.7 6.7 964.0 6.5 965.0 5.9 966.0 5.1 967.1 4.2 968.1 3.3 969.1 2.4 970.1 1.6 971.2 1.0 972.2 0.4 973.2 0.3 974.2 0.3 975.2 0.3 976.3 0.3 977.3 0.3 978.3 0.3 979.3 0.3 980.4 0.3 981.4 0.3 982.4 -0.3 982.4 -0.3 981.4 -0.3 980.4 -0.3 979.3 -0.3 978.3 -0.3 977.3 -0.3 976.3 -0.3 975.2 -0.3 974.2 -0.4 973.2 -1.0 972.2 -1.6 971.2 -2.4 970.1 -3.3 969.1 -4.2 968.1 -5.1 967.1 -5.9 966.0 -6.5 965.0 -6.7 964.0 -6.7 963.7 -6.5 963.4 -6.3 963.0 -6.0 962.7 -5.5 962.4 -5.0 962.1 -4.5 961.7 -3.9 961.4 -3.3 961.1 -2.7 960.8 -2.2 960.5 -1.7 960.1 -1.3 959.8 -0.9 959.5 -0.6 959.2 -0.3 958.8 -0.3 958.5 -0.3 958.2Z"/></defs>
<use href="#v96" transform="translate(201.4 0)" fill="#CDEBDF" stroke="#1E9C72" stroke-width="0.75"/>
<use href="#v96" transform="translate(201.4 0) scale(0.55 1)" fill="none" stroke="#1E9C72" stroke-width="0.35" vector-effect="non-scaling-stroke" opacity="0.7"/>
<line x1="201.40" y1="958.20" x2="201.40" y2="982.40" stroke="#1E9C72" stroke-width="0.5" />
<rect x="198.30" y="962.00" width="6.20" height="4.40" fill="#6EC0A2" stroke="#1E9C72" stroke-width="0.6"/>
<line x1="198.30" y1="964.00" x2="204.50" y2="964.00" stroke="#1E9C72" stroke-width="0.8" />
<circle cx="201.4" cy="982.4" r="1.0" fill="#1E9C72"/>
<circle cx="201.4" cy="979.8" r="1.0" fill="#1E9C72"/>
<defs><path id="v97" d="M0.5 962.0 0.7 962.8 0.8 963.6 1.0 964.3 1.1 965.1 1.3 965.9 1.5 966.7 1.6 967.4 1.7 968.2 1.8 969.0 1.9 969.8 2.0 970.6 2.1 971.3 2.1 972.1 2.2 972.9 2.2 973.7 2.2 974.4 2.2 975.2 2.2 976.0 2.2 976.8 2.2 977.6 2.2 978.4 2.2 979.2 2.1 980.0 2.1 980.8 2.0 981.6 1.9 982.4 1.8 983.1 1.7 983.9 1.6 984.7 1.5 985.5 1.3 986.3 1.1 987.1 1.0 987.9 0.8 988.7 0.7 989.5 0.5 990.3 -0.5 990.3 -0.7 989.5 -0.8 988.7 -1.0 987.9 -1.1 987.1 -1.3 986.3 -1.5 985.5 -1.6 984.7 -1.7 983.9 -1.8 983.1 -1.9 982.4 -2.0 981.6 -2.1 980.8 -2.1 980.0 -2.2 979.2 -2.2 978.4 -2.2 977.6 -2.2 976.8 -2.2 976.0 -2.2 975.2 -2.2 974.4 -2.2 973.7 -2.2 972.9 -2.1 972.1 -2.1 971.3 -2.0 970.6 -1.9 969.8 -1.8 969.0 -1.7 968.2 -1.6 967.4 -1.5 966.7 -1.3 965.9 -1.1 965.1 -1.0 964.3 -0.8 963.6 -0.7 962.8 -0.5 962.0Z"/></defs>
<use href="#v97" transform="translate(223.5 0)" fill="#FCEBB8" stroke="#F2AE12" stroke-width="0.75"/>
<use href="#v97" transform="translate(223.5 0) scale(0.55 1)" fill="none" stroke="#F2AE12" stroke-width="0.35" vector-effect="non-scaling-stroke" opacity="0.7"/>
<line x1="223.50" y1="962.00" x2="223.50" y2="990.30" stroke="#F2AE12" stroke-width="0.5" />
<rect x="220.40" y="970.70" width="6.20" height="11.70" fill="#F7CB5A" stroke="#F2AE12" stroke-width="0.6"/>
<line x1="220.40" y1="978.60" x2="226.60" y2="978.60" stroke="#F2AE12" stroke-width="0.8" />
<defs><path id="v98" d="M0.3 960.0 0.3 960.2 0.6 960.4 1.0 960.7 1.5 960.9 2.1 961.1 2.8 961.3 3.6 961.6 4.5 961.8 5.5 962.0 6.5 962.2 7.4 962.4 8.4 962.7 9.2 962.9 9.9 963.1 10.4 963.3 10.8 963.6 11.0 963.8 11.1 964.0 10.9 964.6 10.4 965.2 9.7 965.8 8.6 966.3 7.5 966.9 6.2 967.5 5.0 968.1 3.8 968.7 2.8 969.2 1.8 969.8 1.1 970.4 0.4 971.0 0.3 971.6 0.3 972.2 0.3 972.8 0.3 973.3 0.3 973.9 0.3 974.5 -0.3 974.5 -0.3 973.9 -0.3 973.3 -0.3 972.8 -0.3 972.2 -0.3 971.6 -0.4 971.0 -1.1 970.4 -1.8 969.8 -2.8 969.2 -3.8 968.7 -5.0 968.1 -6.2 967.5 -7.5 966.9 -8.6 966.3 -9.7 965.8 -10.4 965.2 -10.9 964.6 -11.1 964.0 -11.0 963.8 -10.8 963.6 -10.4 963.3 -9.9 963.1 -9.2 962.9 -8.4 962.7 -7.4 962.4 -6.5 962.2 -5.5 962.0 -4.5 961.8 -3.6 961.6 -2.8 961.3 -2.1 961.1 -1.5 960.9 -1.0 960.7 -0.6 960.4 -0.3 960.2 -0.3 960.0Z"/></defs>
<use href="#v98" transform="translate(245.1 0)" fill="#FADCC4" stroke="#EE8432" stroke-width="0.75"/>
<use href="#v98" transform="translate(245.1 0) scale(0.55 1)" fill="none" stroke="#EE8432" stroke-width="0.35" vector-effect="non-scaling-stroke" opacity="0.7"/>
<line x1="245.10" y1="960.00" x2="245.10" y2="974.50" stroke="#EE8432" stroke-width="0.5" />
<rect x="242.00" y="962.80" width="6.20" height="3.00" fill="#F4AE78" stroke="#EE8432" stroke-width="0.6"/>
<line x1="242.00" y1="964.00" x2="248.20" y2="964.00" stroke="#EE8432" stroke-width="0.8" />
<circle cx="245.1" cy="974.5" r="1.0" fill="#EE8432"/>
<circle cx="245.1" cy="971.9" r="1.0" fill="#EE8432"/>
<defs><path id="v99" d="M0.3 936.6 0.3 938.0 0.3 939.3 0.3 940.7 0.3 942.0 0.3 943.4 0.4 944.8 0.9 946.1 1.5 947.5 2.2 948.9 3.1 950.2 4.1 951.6 5.1 952.9 6.1 954.3 7.0 955.7 7.8 957.0 8.5 958.4 8.9 959.7 9.0 961.1 8.7 962.6 7.9 964.0 6.8 965.5 5.6 966.9 4.4 968.4 3.2 969.9 2.2 971.3 1.3 972.8 0.6 974.2 0.3 975.7 0.3 977.2 0.3 978.6 0.3 980.1 0.3 981.6 0.3 983.0 0.3 984.5 0.3 985.9 0.3 987.4 -0.3 987.4 -0.3 985.9 -0.3 984.5 -0.3 983.0 -0.3 981.6 -0.3 980.1 -0.3 978.6 -0.3 977.2 -0.3 975.7 -0.6 974.2 -1.3 972.8 -2.2 971.3 -3.2 969.9 -4.4 968.4 -5.6 966.9 -6.8 965.5 -7.9 964.0 -8.7 962.6 -9.0 961.1 -8.9 959.7 -8.5 958.4 -7.8 957.0 -7.0 955.7 -6.1 954.3 -5.1 952.9 -4.1 951.6 -3.1 950.2 -2.2 948.9 -1.5 947.5 -0.9 946.1 -0.4 944.8 -0.3 943.4 -0.3 942.0 -0.3 940.7 -0.3 939.3 -0.3 938.0 -0.3 936.6Z"/></defs>
<use href="#v99" transform="translate(274.6 0)" fill="#D6E6F4" stroke="#4C96CE" stroke-width="0.75"/>
<use href="#v99" transform="translate(274.6 0) scale(0.55 1)" fill="none" stroke="#4C96CE" stroke-width="0.35" vector-effect="non-scaling-stroke" opacity="0.7"/>
<line x1="274.60" y1="936.60" x2="274.60" y2="987.40" stroke="#4C96CE" stroke-width="0.5" />
<rect x="271.50" y="957.00" width="6.20" height="8.80" fill="#8DBBE0" stroke="#4C96CE" stroke-width="0.6"/>
<line x1="271.50" y1="961.40" x2="277.70" y2="961.40" stroke="#4C96CE" stroke-width="0.8" />
<circle cx="274.6" cy="936.6" r="1.0" fill="#4C96CE"/>
<circle cx="274.6" cy="939.2" r="1.0" fill="#4C96CE"/>
<circle cx="274.6" cy="941.8" r="1.0" fill="#4C96CE"/>
<circle cx="274.6" cy="944.4" r="1.0" fill="#4C96CE"/>
<circle cx="274.6" cy="987.4" r="1.0" fill="#4C96CE"/>
<circle cx="274.6" cy="984.8" r="1.0" fill="#4C96CE"/>
<circle cx="274.6" cy="982.2" r="1.0" fill="#4C96CE"/>
<circle cx="274.6" cy="979.6" r="1.0" fill="#4C96CE"/>
<defs><path id="v100" d="M1.1 947.4 1.5 948.0 2.0 948.5 2.6 949.1 3.2 949.7 3.9 950.2 4.5 950.8 5.2 951.4 5.8 951.9 6.4 952.5 6.9 953.1 7.3 953.6 7.6 954.2 7.9 954.8 8.0 955.3 8.1 955.9 8.2 956.5 8.2 957.0 8.2 957.6 8.1 958.6 7.7 959.5 7.1 960.5 6.4 961.5 5.5 962.5 4.6 963.4 3.7 964.4 2.8 965.4 2.0 966.4 1.4 967.3 0.8 968.3 0.3 969.3 0.3 970.2 0.3 971.2 0.3 972.2 0.3 973.2 0.3 974.1 0.3 975.1 -0.3 975.1 -0.3 974.1 -0.3 973.2 -0.3 972.2 -0.3 971.2 -0.3 970.2 -0.3 969.3 -0.8 968.3 -1.4 967.3 -2.0 966.4 -2.8 965.4 -3.7 964.4 -4.6 963.4 -5.5 962.5 -6.4 961.5 -7.1 960.5 -7.7 959.5 -8.1 958.6 -8.2 957.6 -8.2 957.0 -8.2 956.5 -8.1 955.9 -8.0 955.3 -7.9 954.8 -7.6 954.2 -7.3 953.6 -6.9 953.1 -6.4 952.5 -5.8 951.9 -5.2 951.4 -4.5 950.8 -3.9 950.2 -3.2 949.7 -2.6 949.1 -2.0 948.5 -1.5 948.0 -1.1 947.4Z"/></defs>
<use href="#v100" transform="translate(296.5 0)" fill="#CDEBDF" stroke="#1E9C72" stroke-width="0.75"/>
<use href="#v100" transform="translate(296.5 0) scale(0.55 1)" fill="none" stroke="#1E9C72" stroke-width="0.35" vector-effect="non-scaling-stroke" opacity="0.7"/>
<line x1="296.50" y1="947.40" x2="296.50" y2="975.10" stroke="#1E9C72" stroke-width="0.5" />
<rect x="293.40" y="955.50" width="6.20" height="8.80" fill="#6EC0A2" stroke="#1E9C72" stroke-width="0.6"/>
<line x1="293.40" y1="960.00" x2="299.60" y2="960.00" stroke="#1E9C72" stroke-width="0.8" />
<circle cx="296.5" cy="975.1" r="1.0" fill="#1E9C72"/>
<circle cx="296.5" cy="972.5" r="1.0" fill="#1E9C72"/>
<defs><path id="v101" d="M0.7 936.6 0.9 937.6 1.2 938.6 1.6 939.6 2.0 940.6 2.4 941.6 2.8 942.6 3.2 943.6 3.5 944.6 3.9 945.7 4.2 946.7 4.4 947.7 4.6 948.7 4.8 949.7 4.9 950.7 5.0 951.7 5.0 952.7 5.0 953.7 5.0 954.7 4.9 957.0 4.7 959.3 4.3 961.6 3.9 963.9 3.4 966.2 2.8 968.5 2.3 970.8 1.7 973.1 1.2 975.4 0.8 977.7 0.5 980.0 0.3 982.3 0.3 984.6 0.3 986.9 0.3 989.2 0.3 991.5 0.3 993.8 0.3 996.1 -0.3 996.1 -0.3 993.8 -0.3 991.5 -0.3 989.2 -0.3 986.9 -0.3 984.6 -0.3 982.3 -0.5 980.0 -0.8 977.7 -1.2 975.4 -1.7 973.1 -2.3 970.8 -2.8 968.5 -3.4 966.2 -3.9 963.9 -4.3 961.6 -4.7 959.3 -4.9 957.0 -5.0 954.7 -5.0 953.7 -5.0 952.7 -5.0 951.7 -4.9 950.7 -4.8 949.7 -4.6 948.7 -4.4 947.7 -4.2 946.7 -3.9 945.7 -3.5 944.6 -3.2 943.6 -2.8 942.6 -2.4 941.6 -2.0 940.6 -1.6 939.6 -1.2 938.6 -0.9 937.6 -0.7 936.6Z"/></defs>
<use href="#v101" transform="translate(317.8 0)" fill="#FCEBB8" stroke="#F2AE12" stroke-width="0.75"/>
<use href="#v101" transform="translate(317.8 0) scale(0.55 1)" fill="none" stroke="#F2AE12" stroke-width="0.35" vector-effect="non-scaling-stroke" opacity="0.7"/>
<line x1="317.80" y1="936.60" x2="317.80" y2="996.10" stroke="#F2AE12" stroke-width="0.5" />
<rect x="314.70" y="952.30" width="6.20" height="14.70" fill="#F7CB5A" stroke="#F2AE12" stroke-width="0.6"/>
<line x1="314.70" y1="956.70" x2="320.90" y2="956.70" stroke="#F2AE12" stroke-width="0.8" />
<circle cx="317.8" cy="996.1" r="1.0" fill="#F2AE12"/>
<circle cx="317.8" cy="993.5" r="1.0" fill="#F2AE12"/>
<defs><path id="v102" d="M0.3 943.0 0.3 944.1 0.3 945.2 0.3 946.3 0.3 947.4 0.3 948.5 0.3 949.6 0.3 950.7 0.3 951.8 0.7 952.9 1.6 954.0 2.7 955.1 4.0 956.2 5.4 957.3 6.9 958.4 8.4 959.5 9.7 960.6 10.7 961.7 11.1 962.8 10.1 964.2 8.4 965.5 6.5 966.9 4.6 968.3 3.0 969.6 1.7 971.0 0.6 972.4 0.3 973.7 0.3 975.1 0.3 976.5 0.3 977.8 0.3 979.2 0.3 980.6 0.3 981.9 0.3 983.3 0.3 984.7 0.3 986.0 0.3 987.4 -0.3 987.4 -0.3 986.0 -0.3 984.7 -0.3 983.3 -0.3 981.9 -0.3 980.6 -0.3 979.2 -0.3 977.8 -0.3 976.5 -0.3 975.1 -0.3 973.7 -0.6 972.4 -1.7 971.0 -3.0 969.6 -4.6 968.3 -6.5 966.9 -8.4 965.5 -10.1 964.2 -11.1 962.8 -10.7 961.7 -9.7 960.6 -8.4 959.5 -6.9 958.4 -5.4 957.3 -4.0 956.2 -2.7 955.1 -1.6 954.0 -0.7 952.9 -0.3 951.8 -0.3 950.7 -0.3 949.6 -0.3 948.5 -0.3 947.4 -0.3 946.3 -0.3 945.2 -0.3 944.1 -0.3 943.0Z"/></defs>
<use href="#v102" transform="translate(339.7 0)" fill="#FADCC4" stroke="#EE8432" stroke-width="0.75"/>
<use href="#v102" transform="translate(339.7 0) scale(0.55 1)" fill="none" stroke="#EE8432" stroke-width="0.35" vector-effect="non-scaling-stroke" opacity="0.7"/>
<line x1="339.70" y1="943.00" x2="339.70" y2="987.40" stroke="#EE8432" stroke-width="0.5" />
<rect x="336.60" y="959.00" width="6.20" height="6.80" fill="#F4AE78" stroke="#EE8432" stroke-width="0.6"/>
<line x1="336.60" y1="962.00" x2="342.80" y2="962.00" stroke="#EE8432" stroke-width="0.8" />
<circle cx="339.7" cy="943.0" r="1.0" fill="#EE8432"/>
<circle cx="339.7" cy="945.6" r="1.0" fill="#EE8432"/>
<circle cx="339.7" cy="987.4" r="1.0" fill="#EE8432"/>
<circle cx="339.7" cy="984.8" r="1.0" fill="#EE8432"/>
<defs><path id="v103" d="M0.3 894.0 0.3 897.6 0.3 901.2 0.3 904.8 0.3 908.4 0.3 912.1 0.3 915.7 0.3 919.3 0.3 922.9 0.3 926.5 0.3 930.1 0.3 933.7 0.8 937.3 1.4 940.9 2.2 944.6 3.1 948.2 4.0 951.8 4.8 955.4 5.3 959.0 5.2 961.1 5.0 963.1 4.6 965.2 4.1 967.2 3.6 969.3 3.0 971.4 2.4 973.4 1.8 975.5 1.3 977.5 0.9 979.6 0.5 981.7 0.3 983.7 0.3 985.8 0.3 987.9 0.3 989.9 0.3 992.0 0.3 994.0 0.3 996.1 -0.3 996.1 -0.3 994.0 -0.3 992.0 -0.3 989.9 -0.3 987.9 -0.3 985.8 -0.3 983.7 -0.5 981.7 -0.9 979.6 -1.3 977.5 -1.8 975.5 -2.4 973.4 -3.0 971.4 -3.6 969.3 -4.1 967.2 -4.6 965.2 -5.0 963.1 -5.2 961.1 -5.3 959.0 -4.8 955.4 -4.0 951.8 -3.1 948.2 -2.2 944.6 -1.4 940.9 -0.8 937.3 -0.3 933.7 -0.3 930.1 -0.3 926.5 -0.3 922.9 -0.3 919.3 -0.3 915.7 -0.3 912.1 -0.3 908.4 -0.3 904.8 -0.3 901.2 -0.3 897.6 -0.3 894.0Z"/></defs>
<use href="#v103" transform="translate(368.9 0)" fill="#D6E6F4" stroke="#4C96CE" stroke-width="0.75"/>
<use href="#v103" transform="translate(368.9 0) scale(0.55 1)" fill="none" stroke="#4C96CE" stroke-width="0.35" vector-effect="non-scaling-stroke" opacity="0.7"/>
<line x1="368.90" y1="894.00" x2="368.90" y2="996.10" stroke="#4C96CE" stroke-width="0.5" />
<rect x="365.80" y="942.40" width="6.20" height="21.60" fill="#8DBBE0" stroke="#4C96CE" stroke-width="0.6"/>
<line x1="365.80" y1="957.60" x2="372.00" y2="957.60" stroke="#4C96CE" stroke-width="0.8" />
<circle cx="368.9" cy="894.0" r="1.0" fill="#4C96CE"/>
<circle cx="368.9" cy="896.6" r="1.0" fill="#4C96CE"/>
<circle cx="368.9" cy="899.2" r="1.0" fill="#4C96CE"/>
<circle cx="368.9" cy="901.8" r="1.0" fill="#4C96CE"/>
<circle cx="368.9" cy="904.4" r="1.0" fill="#4C96CE"/>
<circle cx="368.9" cy="907.0" r="1.0" fill="#4C96CE"/>
<circle cx="368.9" cy="909.6" r="1.0" fill="#4C96CE"/>
<circle cx="368.9" cy="912.2" r="1.0" fill="#4C96CE"/>
<circle cx="368.9" cy="914.8" r="1.0" fill="#4C96CE"/>
<circle cx="368.9" cy="917.4" r="1.0" fill="#4C96CE"/>
<circle cx="368.9" cy="996.1" r="1.0" fill="#4C96CE"/>
<circle cx="368.9" cy="993.5" r="1.0" fill="#4C96CE"/>
<circle cx="368.9" cy="990.9" r="1.0" fill="#4C96CE"/>
<circle cx="368.9" cy="988.3" r="1.0" fill="#4C96CE"/>
<circle cx="368.9" cy="985.7" r="1.0" fill="#4C96CE"/>
<defs><path id="v104" d="M1.0 914.4 1.3 916.1 1.5 917.8 1.8 919.5 2.1 921.2 2.4 922.9 2.7 924.6 3.0 926.3 3.2 928.0 3.4 929.7 3.6 931.4 3.8 933.1 3.9 934.8 4.0 936.5 4.0 938.2 4.1 939.9 4.1 941.6 4.1 943.3 4.1 945.0 4.1 947.0 4.1 948.9 4.1 950.9 4.0 952.9 3.9 954.8 3.8 956.8 3.6 958.8 3.4 960.7 3.2 962.7 2.9 964.7 2.6 966.6 2.3 968.6 1.9 970.6 1.6 972.5 1.3 974.5 1.0 976.5 0.8 978.4 0.6 980.4 -0.6 980.4 -0.8 978.4 -1.0 976.5 -1.3 974.5 -1.6 972.5 -1.9 970.6 -2.3 968.6 -2.6 966.6 -2.9 964.7 -3.2 962.7 -3.4 960.7 -3.6 958.8 -3.8 956.8 -3.9 954.8 -4.0 952.9 -4.1 950.9 -4.1 948.9 -4.1 947.0 -4.1 945.0 -4.1 943.3 -4.1 941.6 -4.1 939.9 -4.0 938.2 -4.0 936.5 -3.9 934.8 -3.8 933.1 -3.6 931.4 -3.4 929.7 -3.2 928.0 -3.0 926.3 -2.7 924.6 -2.4 922.9 -2.1 921.2 -1.8 919.5 -1.5 917.8 -1.3 916.1 -1.0 914.4Z"/></defs>
<use href="#v104" transform="translate(390.2 0)" fill="#CDEBDF" stroke="#1E9C72" stroke-width="0.75"/>
<use href="#v104" transform="translate(390.2 0) scale(0.55 1)" fill="none" stroke="#1E9C72" stroke-width="0.35" vector-effect="non-scaling-stroke" opacity="0.7"/>
<line x1="390.20" y1="914.40" x2="390.20" y2="980.40" stroke="#1E9C72" stroke-width="0.5" />
<rect x="387.10" y="932.20" width="6.20" height="26.80" fill="#6EC0A2" stroke="#1E9C72" stroke-width="0.6"/>
<line x1="387.10" y1="948.20" x2="393.30" y2="948.20" stroke="#1E9C72" stroke-width="0.8" />
<defs><path id="v105" d="M0.9 922.6 1.1 923.6 1.3 924.5 1.6 925.5 1.8 926.5 2.1 927.4 2.3 928.4 2.5 929.4 2.8 930.3 2.9 931.3 3.1 932.3 3.2 933.2 3.3 934.2 3.4 935.2 3.4 936.1 3.5 937.1 3.5 938.1 3.5 939.0 3.5 940.0 3.5 941.5 3.5 943.1 3.5 944.6 3.4 946.2 3.4 947.7 3.3 949.3 3.2 950.8 3.1 952.4 2.9 953.9 2.8 955.4 2.5 957.0 2.3 958.5 2.1 960.1 1.8 961.6 1.6 963.2 1.3 964.7 1.1 966.3 0.9 967.8 -0.9 967.8 -1.1 966.3 -1.3 964.7 -1.6 963.2 -1.8 961.6 -2.1 960.1 -2.3 958.5 -2.5 957.0 -2.8 955.4 -2.9 953.9 -3.1 952.4 -3.2 950.8 -3.3 949.3 -3.4 947.7 -3.4 946.2 -3.5 944.6 -3.5 943.1 -3.5 941.5 -3.5 940.0 -3.5 939.0 -3.5 938.1 -3.5 937.1 -3.4 936.1 -3.4 935.2 -3.3 934.2 -3.2 933.2 -3.1 932.3 -2.9 931.3 -2.8 930.3 -2.5 929.4 -2.3 928.4 -2.1 927.4 -1.8 926.5 -1.6 925.5 -1.3 924.5 -1.1 923.6 -0.9 922.6Z"/></defs>
<use href="#v105" transform="translate(412.1 0)" fill="#FCEBB8" stroke="#F2AE12" stroke-width="0.75"/>
<use href="#v105" transform="translate(412.1 0) scale(0.55 1)" fill="none" stroke="#F2AE12" stroke-width="0.35" vector-effect="non-scaling-stroke" opacity="0.7"/>
<line x1="412.10" y1="922.60" x2="412.10" y2="967.80" stroke="#F2AE12" stroke-width="0.5" />
<rect x="409.00" y="931.90" width="6.20" height="22.80" fill="#F7CB5A" stroke="#F2AE12" stroke-width="0.6"/>
<line x1="409.00" y1="944.50" x2="415.20" y2="944.50" stroke="#F2AE12" stroke-width="0.8" />
<defs><path id="v106" d="M0.3 932.8 0.3 934.4 0.3 935.9 0.3 937.5 0.3 939.1 0.3 940.7 0.3 942.2 0.3 943.8 0.3 945.4 0.3 947.0 0.3 948.5 0.3 950.1 0.8 951.7 2.0 953.2 3.7 954.8 5.7 956.4 7.9 958.0 10.1 959.5 11.4 961.1 10.1 963.0 7.9 965.0 5.7 966.9 3.7 968.9 2.0 970.8 0.8 972.8 0.3 974.7 0.3 976.7 0.3 978.6 0.3 980.5 0.3 982.5 0.3 984.4 0.3 986.4 0.3 988.3 0.3 990.3 0.3 992.2 0.3 994.2 0.3 996.1 -0.3 996.1 -0.3 994.2 -0.3 992.2 -0.3 990.3 -0.3 988.3 -0.3 986.4 -0.3 984.4 -0.3 982.5 -0.3 980.5 -0.3 978.6 -0.3 976.7 -0.3 974.7 -0.8 972.8 -2.0 970.8 -3.7 968.9 -5.7 966.9 -7.9 965.0 -10.1 963.0 -11.4 961.1 -10.1 959.5 -7.9 958.0 -5.7 956.4 -3.7 954.8 -2.0 953.2 -0.8 951.7 -0.3 950.1 -0.3 948.5 -0.3 947.0 -0.3 945.4 -0.3 943.8 -0.3 942.2 -0.3 940.7 -0.3 939.1 -0.3 937.5 -0.3 935.9 -0.3 934.4 -0.3 932.8Z"/></defs>
<use href="#v106" transform="translate(434.0 0)" fill="#FADCC4" stroke="#EE8432" stroke-width="0.75"/>
<use href="#v106" transform="translate(434.0 0) scale(0.55 1)" fill="none" stroke="#EE8432" stroke-width="0.35" vector-effect="non-scaling-stroke" opacity="0.7"/>
<line x1="434.00" y1="932.80" x2="434.00" y2="996.10" stroke="#EE8432" stroke-width="0.5" />
<rect x="430.90" y="957.60" width="6.20" height="6.40" fill="#F4AE78" stroke="#EE8432" stroke-width="0.6"/>
<line x1="430.90" y1="960.50" x2="437.10" y2="960.50" stroke="#EE8432" stroke-width="0.8" />
<circle cx="434.0" cy="932.8" r="1.0" fill="#EE8432"/>
<circle cx="434.0" cy="935.4" r="1.0" fill="#EE8432"/>
<circle cx="434.0" cy="938.0" r="1.0" fill="#EE8432"/>
<circle cx="434.0" cy="996.1" r="1.0" fill="#EE8432"/>
<circle cx="434.0" cy="993.5" r="1.0" fill="#EE8432"/>
<defs><path id="v107" d="M0.3 910.3 0.3 912.7 0.3 915.1 0.3 917.4 0.3 919.8 0.3 922.2 0.3 924.6 0.3 927.0 0.3 929.4 0.6 931.8 1.2 934.1 2.1 936.5 3.1 938.9 4.2 941.3 5.3 943.7 6.5 946.1 7.5 948.4 8.2 950.8 8.5 953.2 8.4 955.0 8.0 956.8 7.4 958.6 6.6 960.3 5.7 962.1 4.8 963.9 3.8 965.7 2.9 967.5 2.1 969.2 1.4 971.0 0.8 972.8 0.3 974.6 0.3 976.4 0.3 978.2 0.3 979.9 0.3 981.7 0.3 983.5 0.3 985.3 -0.3 985.3 -0.3 983.5 -0.3 981.7 -0.3 979.9 -0.3 978.2 -0.3 976.4 -0.3 974.6 -0.8 972.8 -1.4 971.0 -2.1 969.2 -2.9 967.5 -3.8 965.7 -4.8 963.9 -5.7 962.1 -6.6 960.3 -7.4 958.6 -8.0 956.8 -8.4 955.0 -8.5 953.2 -8.2 950.8 -7.5 948.4 -6.5 946.1 -5.3 943.7 -4.2 941.3 -3.1 938.9 -2.1 936.5 -1.2 934.1 -0.6 931.8 -0.3 929.4 -0.3 927.0 -0.3 924.6 -0.3 922.2 -0.3 919.8 -0.3 917.4 -0.3 915.1 -0.3 912.7 -0.3 910.3Z"/></defs>
<use href="#v107" transform="translate(463.4 0)" fill="#D6E6F4" stroke="#4C96CE" stroke-width="0.75"/>
<use href="#v107" transform="translate(463.4 0) scale(0.55 1)" fill="none" stroke="#4C96CE" stroke-width="0.35" vector-effect="non-scaling-stroke" opacity="0.7"/>
<line x1="463.40" y1="910.30" x2="463.40" y2="985.30" stroke="#4C96CE" stroke-width="0.5" />
<rect x="460.30" y="947.40" width="6.20" height="13.70" fill="#8DBBE0" stroke="#4C96CE" stroke-width="0.6"/>
<line x1="460.30" y1="954.10" x2="466.50" y2="954.10" stroke="#4C96CE" stroke-width="0.8" />
<circle cx="463.4" cy="910.3" r="1.0" fill="#4C96CE"/>
<circle cx="463.4" cy="912.9" r="1.0" fill="#4C96CE"/>
<circle cx="463.4" cy="915.5" r="1.0" fill="#4C96CE"/>
<circle cx="463.4" cy="918.1" r="1.0" fill="#4C96CE"/>
<circle cx="463.4" cy="920.7" r="1.0" fill="#4C96CE"/>
<circle cx="463.4" cy="923.3" r="1.0" fill="#4C96CE"/>
<circle cx="463.4" cy="925.9" r="1.0" fill="#4C96CE"/>
<circle cx="463.4" cy="985.3" r="1.0" fill="#4C96CE"/>
<circle cx="463.4" cy="982.7" r="1.0" fill="#4C96CE"/>
<circle cx="463.4" cy="980.1" r="1.0" fill="#4C96CE"/>
<circle cx="463.4" cy="977.5" r="1.0" fill="#4C96CE"/>
<defs><path id="v108" d="M0.9 919.0 1.2 920.7 1.4 922.4 1.7 924.2 2.0 925.9 2.2 927.6 2.5 929.3 2.8 931.1 3.0 932.8 3.2 934.5 3.4 936.2 3.5 937.9 3.6 939.7 3.7 941.4 3.7 943.1 3.8 944.8 3.8 946.6 3.8 948.3 3.8 950.0 3.8 952.0 3.8 953.9 3.8 955.9 3.7 957.8 3.7 959.8 3.6 961.8 3.5 963.7 3.4 965.7 3.2 967.6 3.0 969.6 2.8 971.6 2.5 973.5 2.2 975.5 2.0 977.5 1.7 979.4 1.4 981.4 1.2 983.3 0.9 985.3 -0.9 985.3 -1.2 983.3 -1.4 981.4 -1.7 979.4 -2.0 977.5 -2.2 975.5 -2.5 973.5 -2.8 971.6 -3.0 969.6 -3.2 967.6 -3.4 965.7 -3.5 963.7 -3.6 961.8 -3.7 959.8 -3.7 957.8 -3.8 955.9 -3.8 953.9 -3.8 952.0 -3.8 950.0 -3.8 948.3 -3.8 946.6 -3.8 944.8 -3.7 943.1 -3.7 941.4 -3.6 939.7 -3.5 937.9 -3.4 936.2 -3.2 934.5 -3.0 932.8 -2.8 931.1 -2.5 929.3 -2.2 927.6 -2.0 925.9 -1.7 924.2 -1.4 922.4 -1.2 920.7 -0.9 919.0Z"/></defs>
<use href="#v108" transform="translate(485.0 0)" fill="#CDEBDF" stroke="#1E9C72" stroke-width="0.75"/>
<use href="#v108" transform="translate(485.0 0) scale(0.55 1)" fill="none" stroke="#1E9C72" stroke-width="0.35" vector-effect="non-scaling-stroke" opacity="0.7"/>
<line x1="485.00" y1="919.00" x2="485.00" y2="985.30" stroke="#1E9C72" stroke-width="0.5" />
<rect x="481.90" y="934.20" width="6.20" height="33.60" fill="#6EC0A2" stroke="#1E9C72" stroke-width="0.6"/>
<line x1="481.90" y1="945.90" x2="488.10" y2="945.90" stroke="#1E9C72" stroke-width="0.8" />
<defs><path id="v109" d="M0.9 914.4 1.1 916.9 1.3 919.5 1.6 922.0 1.8 924.5 2.1 927.1 2.3 929.6 2.5 932.1 2.8 934.7 2.9 937.2 3.1 939.7 3.2 942.3 3.3 944.8 3.4 947.3 3.4 949.9 3.5 952.4 3.5 954.9 3.5 957.5 3.5 960.0 3.5 962.6 3.5 965.2 3.5 967.8 3.4 970.4 3.4 972.9 3.3 975.5 3.2 978.1 3.1 980.7 2.9 983.3 2.8 985.9 2.5 988.5 2.3 991.1 2.1 993.7 1.8 996.2 1.6 998.8 1.3 1001.4 1.1 1004.0 0.9 1006.6 -0.9 1006.6 -1.1 1004.0 -1.3 1001.4 -1.6 998.8 -1.8 996.2 -2.1 993.7 -2.3 991.1 -2.5 988.5 -2.8 985.9 -2.9 983.3 -3.1 980.7 -3.2 978.1 -3.3 975.5 -3.4 972.9 -3.4 970.4 -3.5 967.8 -3.5 965.2 -3.5 962.6 -3.5 960.0 -3.5 957.5 -3.5 954.9 -3.5 952.4 -3.4 949.9 -3.4 947.3 -3.3 944.8 -3.2 942.3 -3.1 939.7 -2.9 937.2 -2.8 934.7 -2.5 932.1 -2.3 929.6 -2.1 927.1 -1.8 924.5 -1.6 922.0 -1.3 919.5 -1.1 916.9 -0.9 914.4Z"/></defs>
<use href="#v109" transform="translate(506.3 0)" fill="#FCEBB8" stroke="#F2AE12" stroke-width="0.75"/>
<use href="#v109" transform="translate(506.3 0) scale(0.55 1)" fill="none" stroke="#F2AE12" stroke-width="0.35" vector-effect="non-scaling-stroke" opacity="0.7"/>
<line x1="506.30" y1="914.40" x2="506.30" y2="1006.60" stroke="#F2AE12" stroke-width="0.5" />
<rect x="503.20" y="951.20" width="6.20" height="29.80" fill="#F7CB5A" stroke="#F2AE12" stroke-width="0.6"/>
<line x1="503.20" y1="971.60" x2="509.40" y2="971.60" stroke="#F2AE12" stroke-width="0.8" />
<defs><path id="v110" d="M0.3 931.3 0.3 932.7 0.3 934.1 0.3 935.4 0.3 936.8 0.3 938.2 0.3 939.6 0.3 940.9 0.3 942.3 0.7 943.7 1.6 945.1 2.7 946.5 4.0 947.8 5.4 949.2 6.9 950.6 8.4 952.0 9.7 953.3 10.7 954.7 11.1 956.1 10.7 957.4 9.7 958.7 8.4 960.0 6.9 961.3 5.4 962.6 4.0 963.9 2.7 965.2 1.6 966.5 0.7 967.8 0.3 969.1 0.3 970.4 0.3 971.7 0.3 973.0 0.3 974.3 0.3 975.6 0.3 976.9 0.3 978.2 0.3 979.5 -0.3 979.5 -0.3 978.2 -0.3 976.9 -0.3 975.6 -0.3 974.3 -0.3 973.0 -0.3 971.7 -0.3 970.4 -0.3 969.1 -0.7 967.8 -1.6 966.5 -2.7 965.2 -4.0 963.9 -5.4 962.6 -6.9 961.3 -8.4 960.0 -9.7 958.7 -10.7 957.4 -11.1 956.1 -10.7 954.7 -9.7 953.3 -8.4 952.0 -6.9 950.6 -5.4 949.2 -4.0 947.8 -2.7 946.5 -1.6 945.1 -0.7 943.7 -0.3 942.3 -0.3 940.9 -0.3 939.6 -0.3 938.2 -0.3 936.8 -0.3 935.4 -0.3 934.1 -0.3 932.7 -0.3 931.3Z"/></defs>
<use href="#v110" transform="translate(528.2 0)" fill="#FADCC4" stroke="#EE8432" stroke-width="0.75"/>
<use href="#v110" transform="translate(528.2 0) scale(0.55 1)" fill="none" stroke="#EE8432" stroke-width="0.35" vector-effect="non-scaling-stroke" opacity="0.7"/>
<line x1="528.20" y1="931.30" x2="528.20" y2="979.50" stroke="#EE8432" stroke-width="0.5" />
<rect x="525.10" y="952.60" width="6.20" height="10.00" fill="#F4AE78" stroke="#EE8432" stroke-width="0.6"/>
<line x1="525.10" y1="957.00" x2="531.30" y2="957.00" stroke="#EE8432" stroke-width="0.8" />
<circle cx="528.2" cy="931.3" r="1.0" fill="#EE8432"/>
<circle cx="528.2" cy="933.9" r="1.0" fill="#EE8432"/>
<circle cx="528.2" cy="936.5" r="1.0" fill="#EE8432"/>
<circle cx="528.2" cy="979.5" r="1.0" fill="#EE8432"/>
<circle cx="528.2" cy="976.9" r="1.0" fill="#EE8432"/>
<defs><path id="v111" d="M0.3 934.2 0.3 936.1 0.3 937.9 0.3 939.8 0.3 941.7 0.3 943.5 0.3 945.4 0.8 947.3 1.3 949.1 2.0 951.0 2.7 952.9 3.6 954.7 4.4 956.6 5.3 958.5 6.2 960.3 6.9 962.2 7.4 964.1 7.8 965.9 7.9 967.8 7.9 969.3 7.7 970.7 7.4 972.2 7.0 973.6 6.5 975.1 5.9 976.6 5.3 978.0 4.6 979.5 3.9 981.0 3.2 982.4 2.6 983.9 2.0 985.3 1.5 986.8 1.1 988.3 0.7 989.7 0.4 991.2 0.3 992.6 0.3 994.1 -0.3 994.1 -0.3 992.6 -0.4 991.2 -0.7 989.7 -1.1 988.3 -1.5 986.8 -2.0 985.3 -2.6 983.9 -3.2 982.4 -3.9 981.0 -4.6 979.5 -5.3 978.0 -5.9 976.6 -6.5 975.1 -7.0 973.6 -7.4 972.2 -7.7 970.7 -7.9 969.3 -7.9 967.8 -7.8 965.9 -7.4 964.1 -6.9 962.2 -6.2 960.3 -5.3 958.5 -4.4 956.6 -3.6 954.7 -2.7 952.9 -2.0 951.0 -1.3 949.1 -0.8 947.3 -0.3 945.4 -0.3 943.5 -0.3 941.7 -0.3 939.8 -0.3 937.9 -0.3 936.1 -0.3 934.2Z"/></defs>
<use href="#v111" transform="translate(557.4 0)" fill="#D6E6F4" stroke="#4C96CE" stroke-width="0.75"/>
<use href="#v111" transform="translate(557.4 0) scale(0.55 1)" fill="none" stroke="#4C96CE" stroke-width="0.35" vector-effect="non-scaling-stroke" opacity="0.7"/>
<line x1="557.40" y1="934.20" x2="557.40" y2="994.10" stroke="#4C96CE" stroke-width="0.5" />
<rect x="554.30" y="962.00" width="6.20" height="11.60" fill="#8DBBE0" stroke="#4C96CE" stroke-width="0.6"/>
<line x1="554.30" y1="966.40" x2="560.50" y2="966.40" stroke="#4C96CE" stroke-width="0.8" />
<circle cx="557.4" cy="934.2" r="1.0" fill="#4C96CE"/>
<circle cx="557.4" cy="936.8" r="1.0" fill="#4C96CE"/>
<circle cx="557.4" cy="939.4" r="1.0" fill="#4C96CE"/>
<circle cx="557.4" cy="942.0" r="1.0" fill="#4C96CE"/>
<circle cx="557.4" cy="944.6" r="1.0" fill="#4C96CE"/>
<defs><path id="v112" d="M0.7 950.3 0.9 951.5 1.2 952.7 1.6 953.9 2.0 955.2 2.4 956.4 2.8 957.6 3.2 958.8 3.5 960.0 3.9 961.2 4.2 962.5 4.4 963.7 4.6 964.9 4.8 966.1 4.9 967.3 5.0 968.6 5.0 969.8 5.0 971.0 5.0 972.2 5.0 973.4 5.0 974.6 5.0 975.9 4.9 977.1 4.8 978.3 4.6 979.5 4.4 980.7 4.2 981.9 3.9 983.2 3.5 984.4 3.2 985.6 2.8 986.8 2.4 988.0 2.0 989.2 1.6 990.5 1.2 991.7 0.9 992.9 0.7 994.1 -0.7 994.1 -0.9 992.9 -1.2 991.7 -1.6 990.5 -2.0 989.2 -2.4 988.0 -2.8 986.8 -3.2 985.6 -3.5 984.4 -3.9 983.2 -4.2 981.9 -4.4 980.7 -4.6 979.5 -4.8 978.3 -4.9 977.1 -5.0 975.9 -5.0 974.6 -5.0 973.4 -5.0 972.2 -5.0 971.0 -5.0 969.8 -5.0 968.6 -4.9 967.3 -4.8 966.1 -4.6 964.9 -4.4 963.7 -4.2 962.5 -3.9 961.2 -3.5 960.0 -3.2 958.8 -2.8 957.6 -2.4 956.4 -2.0 955.2 -1.6 953.9 -1.2 952.7 -0.9 951.5 -0.7 950.3Z"/></defs>
<use href="#v112" transform="translate(579.3 0)" fill="#CDEBDF" stroke="#1E9C72" stroke-width="0.75"/>
<use href="#v112" transform="translate(579.3 0) scale(0.55 1)" fill="none" stroke="#1E9C72" stroke-width="0.35" vector-effect="non-scaling-stroke" opacity="0.7"/>
<line x1="579.30" y1="950.30" x2="579.30" y2="994.10" stroke="#1E9C72" stroke-width="0.5" />
<rect x="576.20" y="964.90" width="6.20" height="14.60" fill="#6EC0A2" stroke="#1E9C72" stroke-width="0.6"/>
<line x1="576.20" y1="972.80" x2="582.40" y2="972.80" stroke="#1E9C72" stroke-width="0.8" />
<defs><path id="v113" d="M0.3 951.2 0.3 952.4 0.3 953.7 0.5 954.9 0.7 956.2 1.0 957.4 1.4 958.7 1.7 959.9 2.2 961.2 2.6 962.4 3.1 963.6 3.6 964.9 4.0 966.1 4.4 967.4 4.7 968.6 5.0 969.9 5.2 971.1 5.3 972.4 5.3 973.6 5.3 974.5 5.3 975.5 5.3 976.4 5.2 977.3 5.1 978.2 4.9 979.2 4.7 980.1 4.4 981.0 4.1 982.0 3.8 982.9 3.4 983.8 2.9 984.7 2.5 985.7 2.1 986.6 1.7 987.5 1.3 988.4 1.0 989.4 0.7 990.3 -0.7 990.3 -1.0 989.4 -1.3 988.4 -1.7 987.5 -2.1 986.6 -2.5 985.7 -2.9 984.7 -3.4 983.8 -3.8 982.9 -4.1 982.0 -4.4 981.0 -4.7 980.1 -4.9 979.2 -5.1 978.2 -5.2 977.3 -5.3 976.4 -5.3 975.5 -5.3 974.5 -5.3 973.6 -5.3 972.4 -5.2 971.1 -5.0 969.9 -4.7 968.6 -4.4 967.4 -4.0 966.1 -3.6 964.9 -3.1 963.6 -2.6 962.4 -2.2 961.2 -1.7 959.9 -1.4 958.7 -1.0 957.4 -0.7 956.2 -0.5 954.9 -0.3 953.7 -0.3 952.4 -0.3 951.2Z"/></defs>
<use href="#v113" transform="translate(601.2 0)" fill="#FCEBB8" stroke="#F2AE12" stroke-width="0.75"/>
<use href="#v113" transform="translate(601.2 0) scale(0.55 1)" fill="none" stroke="#F2AE12" stroke-width="0.35" vector-effect="non-scaling-stroke" opacity="0.7"/>
<line x1="601.20" y1="951.20" x2="601.20" y2="990.30" stroke="#F2AE12" stroke-width="0.5" />
<rect x="598.10" y="967.80" width="6.20" height="12.60" fill="#F7CB5A" stroke="#F2AE12" stroke-width="0.6"/>
<line x1="598.10" y1="972.80" x2="604.30" y2="972.80" stroke="#F2AE12" stroke-width="0.8" />
<defs><path id="v114" d="M0.3 935.7 0.3 937.3 0.3 938.8 0.3 940.4 0.3 942.0 0.3 943.6 0.3 945.1 0.3 946.7 0.3 948.3 0.3 949.9 0.3 951.4 0.6 953.0 1.7 954.6 3.0 956.1 4.6 957.7 6.5 959.3 8.4 960.9 10.1 962.4 11.1 964.0 10.1 965.1 8.4 966.3 6.5 967.4 4.6 968.6 3.0 969.7 1.7 970.8 0.6 972.0 0.3 973.1 0.3 974.2 0.3 975.4 0.3 976.5 0.3 977.7 0.3 978.8 0.3 979.9 0.3 981.1 0.3 982.2 0.3 983.4 0.3 984.5 -0.3 984.5 -0.3 983.4 -0.3 982.2 -0.3 981.1 -0.3 979.9 -0.3 978.8 -0.3 977.7 -0.3 976.5 -0.3 975.4 -0.3 974.2 -0.3 973.1 -0.6 972.0 -1.7 970.8 -3.0 969.7 -4.6 968.6 -6.5 967.4 -8.4 966.3 -10.1 965.1 -11.1 964.0 -10.1 962.4 -8.4 960.9 -6.5 959.3 -4.6 957.7 -3.0 956.1 -1.7 954.6 -0.6 953.0 -0.3 951.4 -0.3 949.9 -0.3 948.3 -0.3 946.7 -0.3 945.1 -0.3 943.6 -0.3 942.0 -0.3 940.4 -0.3 938.8 -0.3 937.3 -0.3 935.7Z"/></defs>
<use href="#v114" transform="translate(622.2 0)" fill="#FADCC4" stroke="#EE8432" stroke-width="0.75"/>
<use href="#v114" transform="translate(622.2 0) scale(0.55 1)" fill="none" stroke="#EE8432" stroke-width="0.35" vector-effect="non-scaling-stroke" opacity="0.7"/>
<line x1="622.20" y1="935.70" x2="622.20" y2="984.50" stroke="#EE8432" stroke-width="0.5" />
<rect x="619.10" y="961.10" width="6.20" height="8.20" fill="#F4AE78" stroke="#EE8432" stroke-width="0.6"/>
<line x1="619.10" y1="964.90" x2="625.30" y2="964.90" stroke="#EE8432" stroke-width="0.8" />
<circle cx="622.2" cy="935.7" r="1.0" fill="#EE8432"/>
<circle cx="622.2" cy="938.3" r="1.0" fill="#EE8432"/>
<circle cx="622.2" cy="940.9" r="1.0" fill="#EE8432"/>
<circle cx="622.2" cy="984.5" r="1.0" fill="#EE8432"/>
<circle cx="622.2" cy="981.9" r="1.0" fill="#EE8432"/>
<path d="M84.60,746.30 L84.60,743.80 L127.80,743.80 L127.80,746.30" fill="none" stroke="#444" stroke-width="0.6"/>
<text x="106.20" y="749.10" font-size="5.8" text-anchor="middle" fill="#444" stroke="#444" stroke-width="0.12" letter-spacing="0.3">***</text>
<path d="M84.60,754.50 L84.60,752.00 L105.90,752.00 L105.90,754.50" fill="none" stroke="#a0a0a0" stroke-width="0.6"/>
<text x="95.25" y="757.30" font-size="5.8" text-anchor="middle" fill="#a0a0a0" stroke="#a0a0a0" stroke-width="0.12" letter-spacing="0.3">***</text>
<path d="M274.00,708.90 L274.00,706.40 L317.20,706.40 L317.20,708.90" fill="none" stroke="#444" stroke-width="0.6"/>
<text x="295.60" y="711.70" font-size="5.8" text-anchor="middle" fill="#444" stroke="#444" stroke-width="0.12" letter-spacing="0.3">***</text>
<path d="M274.00,721.50 L274.00,719.00 L295.90,719.00 L295.90,721.50" fill="none" stroke="#a0a0a0" stroke-width="0.6"/>
<text x="284.95" y="724.30" font-size="5.8" text-anchor="middle" fill="#a0a0a0" stroke="#a0a0a0" stroke-width="0.12" letter-spacing="0.3">***</text>
<path d="M368.90,748.60 L368.90,746.10 L412.70,746.10 L412.70,748.60" fill="none" stroke="#444" stroke-width="0.6"/>
<text x="390.80" y="751.40" font-size="5.8" text-anchor="middle" fill="#444" stroke="#444" stroke-width="0.12" letter-spacing="0.3">**</text>
<path d="M368.90,757.10 L368.90,754.60 L390.20,754.60 L390.20,757.10" fill="none" stroke="#a0a0a0" stroke-width="0.6"/>
<text x="379.55" y="759.90" font-size="5.8" text-anchor="middle" fill="#a0a0a0" stroke="#a0a0a0" stroke-width="0.12" letter-spacing="0.3">***</text>
<path d="M464.00,755.10 L464.00,752.60 L485.90,752.60 L485.90,755.10" fill="none" stroke="#a0a0a0" stroke-width="0.6"/>
<text x="474.95" y="757.90" font-size="5.8" text-anchor="middle" fill="#a0a0a0" stroke="#a0a0a0" stroke-width="0.12" letter-spacing="0.3">*</text>
<path d="M86.00,935.30 L86.00,932.80 L129.20,932.80 L129.20,935.30" fill="none" stroke="#444" stroke-width="0.6"/>
<text x="107.60" y="938.10" font-size="5.8" text-anchor="middle" fill="#444" stroke="#444" stroke-width="0.12" letter-spacing="0.3">*</text>
<path d="M180.30,955.70 L180.30,953.20 L245.10,953.20 L245.10,955.70" fill="none" stroke="#444" stroke-width="0.6"/>
<text x="212.70" y="958.50" font-size="5.8" text-anchor="middle" fill="#444" stroke="#444" stroke-width="0.12" letter-spacing="0.3">***</text>
<path d="M274.60,932.90 L274.60,930.40 L317.80,930.40 L317.80,932.90" fill="none" stroke="#444" stroke-width="0.6"/>
<text x="296.20" y="935.70" font-size="5.8" text-anchor="middle" fill="#444" stroke="#444" stroke-width="0.12" letter-spacing="0.3">*</text>
<path d="M274.60,935.30 L274.60,932.80 L296.50,932.80 L296.50,935.30" fill="none" stroke="#a0a0a0" stroke-width="0.6"/>
<text x="285.55" y="938.10" font-size="5.8" text-anchor="middle" fill="#a0a0a0" stroke="#a0a0a0" stroke-width="0.12" letter-spacing="0.3">*</text>
<path d="M368.90,881.30 L368.90,878.80 L412.10,878.80 L412.10,881.30" fill="none" stroke="#444" stroke-width="0.6"/>
<text x="390.50" y="884.10" font-size="5.8" text-anchor="middle" fill="#444" stroke="#444" stroke-width="0.12" letter-spacing="0.3">***</text>
<path d="M368.90,889.50 L368.90,887.00 L390.20,887.00 L390.20,889.50" fill="none" stroke="#a0a0a0" stroke-width="0.6"/>
<text x="379.55" y="892.30" font-size="5.8" text-anchor="middle" fill="#a0a0a0" stroke="#a0a0a0" stroke-width="0.12" letter-spacing="0.3">*</text>
<path d="M557.40,930.90 L557.40,928.40 L622.20,928.40 L622.20,930.90" fill="none" stroke="#444" stroke-width="0.6"/>
<text x="589.80" y="933.70" font-size="5.8" text-anchor="middle" fill="#444" stroke="#444" stroke-width="0.12" letter-spacing="0.3">***</text>
<text x="239.50" y="1027.50" font-size="7.6" text-anchor="start" fill="#111" stroke="#111" stroke-width="0.12" >Gene Set</text>
<rect x="282.00" y="1019.50" width="12.8" height="12" rx="1" fill="#8DBBE0" stroke="#4C96CE" stroke-width="0.9"/>
<line x1="283.20" y1="1021.30" x2="287.80" y2="1021.30" stroke="#fff" stroke-width="0.9" opacity="0.75"/>
<line x1="289.00" y1="1021.30" x2="293.60" y2="1021.30" stroke="#fff" stroke-width="0.9" opacity="0.75"/>
<line x1="283.20" y1="1029.60" x2="287.80" y2="1029.60" stroke="#fff" stroke-width="0.9" opacity="0.75"/>
<line x1="289.00" y1="1029.60" x2="293.60" y2="1029.60" stroke="#fff" stroke-width="0.9" opacity="0.75"/>
<line x1="284.00" y1="1024.10" x2="292.80" y2="1024.10" stroke="#fff" stroke-width="0.7" opacity="0.55"/>
<line x1="284.00" y1="1026.80" x2="292.80" y2="1026.80" stroke="#fff" stroke-width="0.7" opacity="0.55"/>
<text x="299.40" y="1027.50" font-size="7.4" text-anchor="start" fill="#111" stroke="#111" stroke-width="0.12" >All Genes</text>
<rect x="337.00" y="1019.50" width="12.8" height="12" rx="1" fill="#6EC0A2" stroke="#1E9C72" stroke-width="0.9"/>
<line x1="338.20" y1="1021.30" x2="342.80" y2="1021.30" stroke="#fff" stroke-width="0.9" opacity="0.75"/>
<line x1="344.00" y1="1021.30" x2="348.60" y2="1021.30" stroke="#fff" stroke-width="0.9" opacity="0.75"/>
<line x1="338.20" y1="1029.60" x2="342.80" y2="1029.60" stroke="#fff" stroke-width="0.9" opacity="0.75"/>
<line x1="344.00" y1="1029.60" x2="348.60" y2="1029.60" stroke="#fff" stroke-width="0.9" opacity="0.75"/>
<line x1="339.00" y1="1024.10" x2="347.80" y2="1024.10" stroke="#fff" stroke-width="0.7" opacity="0.55"/>
<line x1="339.00" y1="1026.80" x2="347.80" y2="1026.80" stroke="#fff" stroke-width="0.7" opacity="0.55"/>
<text x="354.40" y="1027.50" font-size="7.4" text-anchor="start" fill="#111" stroke="#111" stroke-width="0.12" >HVGs</text>
<rect x="378.00" y="1019.50" width="12.8" height="12" rx="1" fill="#F7CB5A" stroke="#F2AE12" stroke-width="0.9"/>
<line x1="379.20" y1="1021.30" x2="383.80" y2="1021.30" stroke="#fff" stroke-width="0.9" opacity="0.75"/>
<line x1="385.00" y1="1021.30" x2="389.60" y2="1021.30" stroke="#fff" stroke-width="0.9" opacity="0.75"/>
<line x1="379.20" y1="1029.60" x2="383.80" y2="1029.60" stroke="#fff" stroke-width="0.9" opacity="0.75"/>
<line x1="385.00" y1="1029.60" x2="389.60" y2="1029.60" stroke="#fff" stroke-width="0.9" opacity="0.75"/>
<line x1="380.00" y1="1024.10" x2="388.80" y2="1024.10" stroke="#fff" stroke-width="0.7" opacity="0.55"/>
<line x1="380.00" y1="1026.80" x2="388.80" y2="1026.80" stroke="#fff" stroke-width="0.7" opacity="0.55"/>
<text x="394.70" y="1027.50" font-size="7.4" text-anchor="start" fill="#111" stroke="#111" stroke-width="0.12" >SVGs</text>
<rect x="419.30" y="1019.50" width="12.8" height="12" rx="1" fill="#F4AE78" stroke="#EE8432" stroke-width="0.9"/>
<line x1="420.50" y1="1021.30" x2="425.10" y2="1021.30" stroke="#fff" stroke-width="0.9" opacity="0.75"/>
<line x1="426.30" y1="1021.30" x2="430.90" y2="1021.30" stroke="#fff" stroke-width="0.9" opacity="0.75"/>
<line x1="420.50" y1="1029.60" x2="425.10" y2="1029.60" stroke="#fff" stroke-width="0.9" opacity="0.75"/>
<line x1="426.30" y1="1029.60" x2="430.90" y2="1029.60" stroke="#fff" stroke-width="0.9" opacity="0.75"/>
<line x1="421.30" y1="1024.10" x2="430.10" y2="1024.10" stroke="#fff" stroke-width="0.7" opacity="0.55"/>
<line x1="421.30" y1="1026.80" x2="430.10" y2="1026.80" stroke="#fff" stroke-width="0.7" opacity="0.55"/>
<text x="436.70" y="1027.50" font-size="7.4" text-anchor="start" fill="#111" stroke="#111" stroke-width="0.12" >HSGs</text>
</svg></body></html>
